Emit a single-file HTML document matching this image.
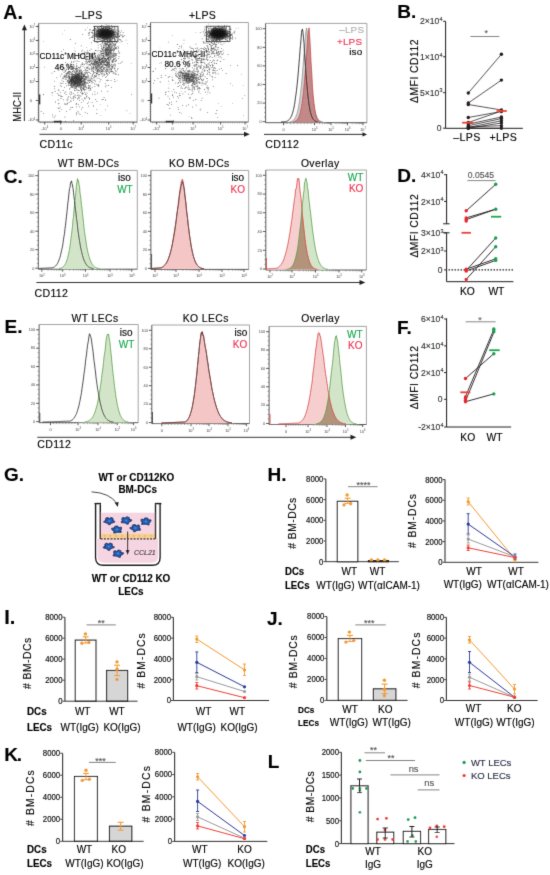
<!DOCTYPE html>
<html><head><meta charset="utf-8"><style>
html,body{margin:0;padding:0;background:#fff;}
svg{display:block;font-family:"Liberation Sans", sans-serif;}
</style></head><body>
<svg width="550" height="875" viewBox="0 0 550 875">
<filter id="gb" x="0" y="0" width="550" height="875" filterUnits="userSpaceOnUse"><feConvolveMatrix order="3" kernelMatrix="1 8 1 8 62 8 1 8 1" divisor="98" edgeMode="duplicate"/></filter>
<rect width="550" height="875" fill="#fff"/>
<g filter="url(#gb)">
<text x="3.3" y="18.5" font-size="19.5" font-weight="bold" stroke="#231f20" stroke-width="0.14">A.</text>
<text x="89" y="19" font-size="10.5" text-anchor="middle" stroke="#231f20" stroke-width="0.14" letter-spacing="0.3">–LPS</text>
<text x="202.5" y="19" font-size="10.5" text-anchor="middle" stroke="#231f20" stroke-width="0.14" letter-spacing="0.3">+LPS</text>
<line x1="37.3" y1="25.4" x2="38.7" y2="25.4" stroke="#666" stroke-width="0.45"/>
<line x1="37.3" y1="27.75" x2="38.7" y2="27.75" stroke="#666" stroke-width="0.45"/>
<line x1="37.3" y1="30.1" x2="38.7" y2="30.1" stroke="#666" stroke-width="0.45"/>
<line x1="37.3" y1="32.45" x2="38.7" y2="32.45" stroke="#666" stroke-width="0.45"/>
<line x1="37.3" y1="34.8" x2="38.7" y2="34.8" stroke="#666" stroke-width="0.45"/>
<line x1="37.3" y1="37.15" x2="38.7" y2="37.15" stroke="#666" stroke-width="0.45"/>
<line x1="37.3" y1="39.5" x2="38.7" y2="39.5" stroke="#666" stroke-width="0.45"/>
<line x1="37.3" y1="41.85" x2="38.7" y2="41.85" stroke="#666" stroke-width="0.45"/>
<line x1="37.3" y1="44.2" x2="38.7" y2="44.2" stroke="#666" stroke-width="0.45"/>
<line x1="37.3" y1="46.55" x2="38.7" y2="46.55" stroke="#666" stroke-width="0.45"/>
<line x1="37.3" y1="48.9" x2="38.7" y2="48.9" stroke="#666" stroke-width="0.45"/>
<line x1="37.3" y1="51.25" x2="38.7" y2="51.25" stroke="#666" stroke-width="0.45"/>
<line x1="37.3" y1="53.6" x2="38.7" y2="53.6" stroke="#666" stroke-width="0.45"/>
<line x1="37.3" y1="55.95" x2="38.7" y2="55.95" stroke="#666" stroke-width="0.45"/>
<line x1="37.3" y1="58.3" x2="38.7" y2="58.3" stroke="#666" stroke-width="0.45"/>
<line x1="37.3" y1="60.65" x2="38.7" y2="60.65" stroke="#666" stroke-width="0.45"/>
<line x1="37.3" y1="63" x2="38.7" y2="63" stroke="#666" stroke-width="0.45"/>
<line x1="37.3" y1="65.35" x2="38.7" y2="65.35" stroke="#666" stroke-width="0.45"/>
<line x1="37.3" y1="67.7" x2="38.7" y2="67.7" stroke="#666" stroke-width="0.45"/>
<line x1="37.3" y1="70.05" x2="38.7" y2="70.05" stroke="#666" stroke-width="0.45"/>
<line x1="37.3" y1="72.4" x2="38.7" y2="72.4" stroke="#666" stroke-width="0.45"/>
<line x1="37.3" y1="74.75" x2="38.7" y2="74.75" stroke="#666" stroke-width="0.45"/>
<line x1="37.3" y1="77.1" x2="38.7" y2="77.1" stroke="#666" stroke-width="0.45"/>
<line x1="37.3" y1="79.45" x2="38.7" y2="79.45" stroke="#666" stroke-width="0.45"/>
<line x1="37.3" y1="81.8" x2="38.7" y2="81.8" stroke="#666" stroke-width="0.45"/>
<line x1="37.3" y1="84.15" x2="38.7" y2="84.15" stroke="#666" stroke-width="0.45"/>
<line x1="37.3" y1="86.5" x2="38.7" y2="86.5" stroke="#666" stroke-width="0.45"/>
<line x1="37.3" y1="88.85" x2="38.7" y2="88.85" stroke="#666" stroke-width="0.45"/>
<line x1="37.3" y1="91.2" x2="38.7" y2="91.2" stroke="#666" stroke-width="0.45"/>
<line x1="37.3" y1="93.55" x2="38.7" y2="93.55" stroke="#666" stroke-width="0.45"/>
<line x1="37.3" y1="95.9" x2="38.7" y2="95.9" stroke="#666" stroke-width="0.45"/>
<line x1="37.3" y1="98.25" x2="38.7" y2="98.25" stroke="#666" stroke-width="0.45"/>
<line x1="37.3" y1="100.6" x2="38.7" y2="100.6" stroke="#666" stroke-width="0.45"/>
<line x1="37.3" y1="102.95" x2="38.7" y2="102.95" stroke="#666" stroke-width="0.45"/>
<line x1="37.3" y1="105.3" x2="38.7" y2="105.3" stroke="#666" stroke-width="0.45"/>
<line x1="37.3" y1="107.65" x2="38.7" y2="107.65" stroke="#666" stroke-width="0.45"/>
<line x1="37.3" y1="110" x2="38.7" y2="110" stroke="#666" stroke-width="0.45"/>
<line x1="37.3" y1="112.35" x2="38.7" y2="112.35" stroke="#666" stroke-width="0.45"/>
<line x1="37.3" y1="114.7" x2="38.7" y2="114.7" stroke="#666" stroke-width="0.45"/>
<line x1="37.3" y1="117.05" x2="38.7" y2="117.05" stroke="#666" stroke-width="0.45"/>
<line x1="37.3" y1="119.4" x2="38.7" y2="119.4" stroke="#666" stroke-width="0.45"/>
<line x1="37.3" y1="121.75" x2="38.7" y2="121.75" stroke="#666" stroke-width="0.45"/>
<line x1="35.7" y1="26.5" x2="38.7" y2="26.5" stroke="#333" stroke-width="0.8"/>
<text x="35.2" y="27.8" font-size="3.8" text-anchor="end" fill="#444">10<tspan font-size="2.6" dy="-1.6">7</tspan></text>
<line x1="35.7" y1="40.5" x2="38.7" y2="40.5" stroke="#333" stroke-width="0.8"/>
<text x="35.2" y="41.8" font-size="3.8" text-anchor="end" fill="#444">10<tspan font-size="2.6" dy="-1.6">6</tspan></text>
<line x1="35.7" y1="54" x2="38.7" y2="54" stroke="#333" stroke-width="0.8"/>
<text x="35.2" y="55.3" font-size="3.8" text-anchor="end" fill="#444">10<tspan font-size="2.6" dy="-1.6">5</tspan></text>
<line x1="35.7" y1="67.5" x2="38.7" y2="67.5" stroke="#333" stroke-width="0.8"/>
<text x="35.2" y="68.8" font-size="3.8" text-anchor="end" fill="#444">10<tspan font-size="2.6" dy="-1.6">4</tspan></text>
<line x1="35.7" y1="81.5" x2="38.7" y2="81.5" stroke="#333" stroke-width="0.8"/>
<text x="35.2" y="82.8" font-size="3.8" text-anchor="end" fill="#444">10<tspan font-size="2.6" dy="-1.6">3</tspan></text>
<line x1="35.7" y1="100.5" x2="38.7" y2="100.5" stroke="#333" stroke-width="0.8"/>
<text x="30.7" y="101.8" font-size="3.8" text-anchor="middle" fill="#444">0</text>
<line x1="35.7" y1="120" x2="38.7" y2="120" stroke="#333" stroke-width="0.8"/>
<text x="35.2" y="121.3" font-size="3.8" text-anchor="end" fill="#444">-10<tspan font-size="2.6" dy="-1.6">3</tspan></text>
<line x1="40.7" y1="122" x2="40.7" y2="123.4" stroke="#666" stroke-width="0.45"/>
<line x1="43.05" y1="122" x2="43.05" y2="123.4" stroke="#666" stroke-width="0.45"/>
<line x1="45.4" y1="122" x2="45.4" y2="123.4" stroke="#666" stroke-width="0.45"/>
<line x1="47.75" y1="122" x2="47.75" y2="123.4" stroke="#666" stroke-width="0.45"/>
<line x1="50.1" y1="122" x2="50.1" y2="123.4" stroke="#666" stroke-width="0.45"/>
<line x1="52.45" y1="122" x2="52.45" y2="123.4" stroke="#666" stroke-width="0.45"/>
<line x1="54.8" y1="122" x2="54.8" y2="123.4" stroke="#666" stroke-width="0.45"/>
<line x1="57.15" y1="122" x2="57.15" y2="123.4" stroke="#666" stroke-width="0.45"/>
<line x1="59.5" y1="122" x2="59.5" y2="123.4" stroke="#666" stroke-width="0.45"/>
<line x1="61.85" y1="122" x2="61.85" y2="123.4" stroke="#666" stroke-width="0.45"/>
<line x1="64.2" y1="122" x2="64.2" y2="123.4" stroke="#666" stroke-width="0.45"/>
<line x1="66.55" y1="122" x2="66.55" y2="123.4" stroke="#666" stroke-width="0.45"/>
<line x1="68.9" y1="122" x2="68.9" y2="123.4" stroke="#666" stroke-width="0.45"/>
<line x1="71.25" y1="122" x2="71.25" y2="123.4" stroke="#666" stroke-width="0.45"/>
<line x1="73.6" y1="122" x2="73.6" y2="123.4" stroke="#666" stroke-width="0.45"/>
<line x1="75.95" y1="122" x2="75.95" y2="123.4" stroke="#666" stroke-width="0.45"/>
<line x1="78.3" y1="122" x2="78.3" y2="123.4" stroke="#666" stroke-width="0.45"/>
<line x1="80.65" y1="122" x2="80.65" y2="123.4" stroke="#666" stroke-width="0.45"/>
<line x1="83" y1="122" x2="83" y2="123.4" stroke="#666" stroke-width="0.45"/>
<line x1="85.35" y1="122" x2="85.35" y2="123.4" stroke="#666" stroke-width="0.45"/>
<line x1="87.7" y1="122" x2="87.7" y2="123.4" stroke="#666" stroke-width="0.45"/>
<line x1="90.05" y1="122" x2="90.05" y2="123.4" stroke="#666" stroke-width="0.45"/>
<line x1="92.4" y1="122" x2="92.4" y2="123.4" stroke="#666" stroke-width="0.45"/>
<line x1="94.75" y1="122" x2="94.75" y2="123.4" stroke="#666" stroke-width="0.45"/>
<line x1="97.1" y1="122" x2="97.1" y2="123.4" stroke="#666" stroke-width="0.45"/>
<line x1="99.45" y1="122" x2="99.45" y2="123.4" stroke="#666" stroke-width="0.45"/>
<line x1="101.8" y1="122" x2="101.8" y2="123.4" stroke="#666" stroke-width="0.45"/>
<line x1="104.15" y1="122" x2="104.15" y2="123.4" stroke="#666" stroke-width="0.45"/>
<line x1="106.5" y1="122" x2="106.5" y2="123.4" stroke="#666" stroke-width="0.45"/>
<line x1="108.85" y1="122" x2="108.85" y2="123.4" stroke="#666" stroke-width="0.45"/>
<line x1="111.2" y1="122" x2="111.2" y2="123.4" stroke="#666" stroke-width="0.45"/>
<line x1="113.55" y1="122" x2="113.55" y2="123.4" stroke="#666" stroke-width="0.45"/>
<line x1="115.9" y1="122" x2="115.9" y2="123.4" stroke="#666" stroke-width="0.45"/>
<line x1="118.25" y1="122" x2="118.25" y2="123.4" stroke="#666" stroke-width="0.45"/>
<line x1="120.6" y1="122" x2="120.6" y2="123.4" stroke="#666" stroke-width="0.45"/>
<line x1="122.95" y1="122" x2="122.95" y2="123.4" stroke="#666" stroke-width="0.45"/>
<line x1="125.3" y1="122" x2="125.3" y2="123.4" stroke="#666" stroke-width="0.45"/>
<line x1="127.65" y1="122" x2="127.65" y2="123.4" stroke="#666" stroke-width="0.45"/>
<line x1="130" y1="122" x2="130" y2="123.4" stroke="#666" stroke-width="0.45"/>
<line x1="132.35" y1="122" x2="132.35" y2="123.4" stroke="#666" stroke-width="0.45"/>
<line x1="134.7" y1="122" x2="134.7" y2="123.4" stroke="#666" stroke-width="0.45"/>
<line x1="137.05" y1="122" x2="137.05" y2="123.4" stroke="#666" stroke-width="0.45"/>
<line x1="44.7" y1="122" x2="44.7" y2="124.5" stroke="#333" stroke-width="0.8"/>
<line x1="60.7" y1="122" x2="60.7" y2="124.5" stroke="#333" stroke-width="0.8"/>
<line x1="81.2" y1="122" x2="81.2" y2="124.5" stroke="#333" stroke-width="0.8"/>
<line x1="108.7" y1="122" x2="108.7" y2="124.5" stroke="#333" stroke-width="0.8"/>
<line x1="133.2" y1="122" x2="133.2" y2="124.5" stroke="#333" stroke-width="0.8"/>
<text x="44.7" y="130" font-size="3.8" text-anchor="middle" fill="#444">-10<tspan font-size="2.6" dy="-1.6">3</tspan></text>
<text x="60.7" y="130" font-size="3.8" text-anchor="middle" fill="#444">0</text>
<text x="81.2" y="130" font-size="3.8" text-anchor="middle" fill="#444">10<tspan font-size="2.6" dy="-1.6">3</tspan></text>
<text x="108.7" y="130" font-size="3.8" text-anchor="middle" fill="#444">10<tspan font-size="2.6" dy="-1.6">5</tspan></text>
<text x="133.2" y="130" font-size="3.8" text-anchor="middle" fill="#444">10<tspan font-size="2.6" dy="-1.6">7</tspan></text>
<rect x="53.7" y="120.8" width="8" height="1.6" stroke="none" fill="#222" stroke-width="1"/>
<rect x="38.9" y="94.4" width="1.4" height="10" stroke="none" fill="#333" stroke-width="1"/>
<path d="M38.7 23.4 H137.1 V122" stroke="#9a9a9a" fill="none" stroke-width="0.9"/>
<path d="M38.7 23.4 V122 H137.1" stroke="#4a4a4a" fill="none" stroke-width="0.9"/>
<filter id="bl" x="-50%" y="-50%" width="200%" height="200%"><feGaussianBlur stdDeviation="1.6"/></filter>
<ellipse cx="105.5" cy="33.5" rx="8.5" ry="5" fill="#111" filter="url(#bl)" opacity="0.88"/>
<ellipse cx="76" cy="80" rx="7" ry="4.2" fill="#222" filter="url(#bl)" opacity="0.55" transform="rotate(-25 76 80)"/>
<ellipse cx="100" cy="60" rx="12" ry="5" fill="#555" filter="url(#bl)" opacity="0.25" transform="rotate(-55 100 60)"/>
<path d="M72.8 82.0h0.8v0.8h-0.8zM75.9 74.7h0.8v0.8h-0.8zM70.1 79.4h0.8v0.8h-0.8zM78.3 83.3h0.8v0.8h-0.8zM73.5 80.2h0.8v0.8h-0.8zM75.1 81.8h0.8v0.8h-0.8zM80.5 81.2h0.8v0.8h-0.8zM78.0 83.2h0.8v0.8h-0.8zM76.2 78.9h0.8v0.8h-0.8zM80.9 80.9h0.8v0.8h-0.8zM76.3 79.0h0.8v0.8h-0.8zM67.0 80.5h0.8v0.8h-0.8zM94.5 79.8h0.8v0.8h-0.8zM77.6 78.9h0.8v0.8h-0.8zM74.4 80.3h0.8v0.8h-0.8zM65.2 71.2h0.8v0.8h-0.8zM75.3 88.0h0.8v0.8h-0.8zM71.3 80.8h0.8v0.8h-0.8zM81.3 75.5h0.8v0.8h-0.8zM74.9 80.0h0.8v0.8h-0.8zM84.1 80.5h0.8v0.8h-0.8zM77.7 76.9h0.8v0.8h-0.8zM76.4 80.6h0.8v0.8h-0.8zM76.5 78.2h0.8v0.8h-0.8zM71.3 81.7h0.8v0.8h-0.8zM75.3 76.4h0.8v0.8h-0.8zM72.4 76.5h0.8v0.8h-0.8zM72.4 74.2h0.8v0.8h-0.8zM70.7 77.8h0.8v0.8h-0.8zM83.7 81.8h0.8v0.8h-0.8zM75.3 80.8h0.8v0.8h-0.8zM83.3 78.5h0.8v0.8h-0.8zM75.5 77.9h0.8v0.8h-0.8zM73.6 82.1h0.8v0.8h-0.8zM85.3 84.8h0.8v0.8h-0.8zM69.3 76.1h0.8v0.8h-0.8zM79.7 84.5h0.8v0.8h-0.8zM73.3 82.5h0.8v0.8h-0.8zM80.1 75.7h0.8v0.8h-0.8zM77.3 78.7h0.8v0.8h-0.8zM71.2 78.9h0.8v0.8h-0.8zM87.2 79.7h0.8v0.8h-0.8zM69.9 80.3h0.8v0.8h-0.8zM79.7 81.5h0.8v0.8h-0.8zM72.7 80.6h0.8v0.8h-0.8zM70.5 78.8h0.8v0.8h-0.8zM76.9 79.3h0.8v0.8h-0.8zM73.0 69.7h0.8v0.8h-0.8zM76.8 80.4h0.8v0.8h-0.8zM83.8 84.5h0.8v0.8h-0.8zM78.6 84.5h0.8v0.8h-0.8zM75.8 82.6h0.8v0.8h-0.8zM68.4 78.5h0.8v0.8h-0.8zM83.2 76.8h0.8v0.8h-0.8zM65.9 75.5h0.8v0.8h-0.8zM79.8 82.1h0.8v0.8h-0.8zM75.9 83.4h0.8v0.8h-0.8zM75.8 80.0h0.8v0.8h-0.8zM79.5 83.3h0.8v0.8h-0.8zM81.1 84.7h0.8v0.8h-0.8zM69.2 71.1h0.8v0.8h-0.8zM89.5 87.9h0.8v0.8h-0.8zM62.5 70.5h0.8v0.8h-0.8zM82.5 85.0h0.8v0.8h-0.8zM81.6 80.2h0.8v0.8h-0.8zM77.3 82.7h0.8v0.8h-0.8zM78.0 81.9h0.8v0.8h-0.8zM78.2 77.5h0.8v0.8h-0.8zM79.2 77.4h0.8v0.8h-0.8zM77.5 76.1h0.8v0.8h-0.8zM80.3 87.6h0.8v0.8h-0.8zM76.4 79.9h0.8v0.8h-0.8zM73.6 77.3h0.8v0.8h-0.8zM76.7 82.0h0.8v0.8h-0.8zM76.0 75.3h0.8v0.8h-0.8zM72.0 76.0h0.8v0.8h-0.8zM83.4 79.3h0.8v0.8h-0.8zM76.0 86.6h0.8v0.8h-0.8zM82.6 83.3h0.8v0.8h-0.8zM88.5 85.0h0.8v0.8h-0.8zM71.1 77.1h0.8v0.8h-0.8zM79.3 82.3h0.8v0.8h-0.8zM71.0 80.7h0.8v0.8h-0.8zM64.2 76.1h0.8v0.8h-0.8zM79.6 81.0h0.8v0.8h-0.8zM76.3 80.5h0.8v0.8h-0.8zM75.9 80.7h0.8v0.8h-0.8zM84.6 86.8h0.8v0.8h-0.8zM81.0 77.3h0.8v0.8h-0.8zM70.4 83.1h0.8v0.8h-0.8zM72.9 79.4h0.8v0.8h-0.8zM77.4 92.2h0.8v0.8h-0.8zM72.5 74.0h0.8v0.8h-0.8zM80.4 82.1h0.8v0.8h-0.8zM84.8 84.2h0.8v0.8h-0.8zM77.0 85.3h0.8v0.8h-0.8zM74.2 68.3h0.8v0.8h-0.8zM78.0 74.3h0.8v0.8h-0.8zM69.3 78.0h0.8v0.8h-0.8zM74.3 75.0h0.8v0.8h-0.8zM62.5 82.7h0.8v0.8h-0.8zM81.7 83.8h0.8v0.8h-0.8zM80.0 81.5h0.8v0.8h-0.8zM80.8 89.5h0.8v0.8h-0.8zM82.1 81.2h0.8v0.8h-0.8zM74.0 76.6h0.8v0.8h-0.8zM78.2 78.6h0.8v0.8h-0.8zM78.4 76.2h0.8v0.8h-0.8zM78.8 80.3h0.8v0.8h-0.8zM77.9 81.0h0.8v0.8h-0.8zM76.7 83.3h0.8v0.8h-0.8zM78.1 80.3h0.8v0.8h-0.8zM80.6 79.7h0.8v0.8h-0.8zM82.6 84.8h0.8v0.8h-0.8zM83.7 80.1h0.8v0.8h-0.8zM73.3 80.6h0.8v0.8h-0.8zM81.2 73.9h0.8v0.8h-0.8zM73.2 79.9h0.8v0.8h-0.8zM83.2 86.0h0.8v0.8h-0.8zM81.7 77.7h0.8v0.8h-0.8zM75.7 79.2h0.8v0.8h-0.8zM77.1 73.9h0.8v0.8h-0.8zM66.3 73.6h0.8v0.8h-0.8zM84.1 85.8h0.8v0.8h-0.8zM77.6 82.0h0.8v0.8h-0.8zM78.1 80.6h0.8v0.8h-0.8zM75.6 76.8h0.8v0.8h-0.8zM72.7 76.8h0.8v0.8h-0.8zM81.0 82.3h0.8v0.8h-0.8zM73.7 78.2h0.8v0.8h-0.8zM80.2 84.2h0.8v0.8h-0.8zM87.7 80.5h0.8v0.8h-0.8zM77.7 75.2h0.8v0.8h-0.8zM75.9 79.7h0.8v0.8h-0.8zM72.0 74.7h0.8v0.8h-0.8zM79.2 82.6h0.8v0.8h-0.8zM86.0 96.6h0.8v0.8h-0.8zM81.1 79.1h0.8v0.8h-0.8zM71.0 77.8h0.8v0.8h-0.8zM85.5 86.4h0.8v0.8h-0.8zM71.6 76.4h0.8v0.8h-0.8zM77.0 82.4h0.8v0.8h-0.8zM80.7 83.7h0.8v0.8h-0.8zM75.8 77.2h0.8v0.8h-0.8zM84.4 82.5h0.8v0.8h-0.8zM79.7 85.5h0.8v0.8h-0.8zM74.1 82.4h0.8v0.8h-0.8zM74.8 80.6h0.8v0.8h-0.8zM79.6 84.2h0.8v0.8h-0.8zM66.0 74.7h0.8v0.8h-0.8zM79.7 80.8h0.8v0.8h-0.8zM79.8 78.7h0.8v0.8h-0.8zM75.6 78.7h0.8v0.8h-0.8zM67.6 76.6h0.8v0.8h-0.8zM72.8 82.6h0.8v0.8h-0.8zM75.7 85.7h0.8v0.8h-0.8zM80.8 78.7h0.8v0.8h-0.8zM78.3 80.5h0.8v0.8h-0.8zM84.2 83.2h0.8v0.8h-0.8zM83.8 88.8h0.8v0.8h-0.8zM77.4 78.0h0.8v0.8h-0.8zM81.8 80.8h0.8v0.8h-0.8zM78.8 76.9h0.8v0.8h-0.8zM81.6 81.5h0.8v0.8h-0.8zM77.7 84.5h0.8v0.8h-0.8zM69.3 77.4h0.8v0.8h-0.8zM75.1 74.2h0.8v0.8h-0.8zM72.3 78.4h0.8v0.8h-0.8zM70.9 84.4h0.8v0.8h-0.8zM88.9 86.3h0.8v0.8h-0.8zM81.6 84.6h0.8v0.8h-0.8zM84.4 81.4h0.8v0.8h-0.8zM74.0 81.7h0.8v0.8h-0.8zM76.7 77.1h0.8v0.8h-0.8zM78.0 84.4h0.8v0.8h-0.8zM78.4 74.1h0.8v0.8h-0.8zM70.5 79.5h0.8v0.8h-0.8zM71.4 76.8h0.8v0.8h-0.8zM72.7 74.4h0.8v0.8h-0.8zM73.4 77.0h0.8v0.8h-0.8zM70.7 81.9h0.8v0.8h-0.8zM80.4 81.6h0.8v0.8h-0.8zM74.1 84.1h0.8v0.8h-0.8zM73.6 74.1h0.8v0.8h-0.8zM72.3 81.5h0.8v0.8h-0.8zM66.0 69.2h0.8v0.8h-0.8zM77.3 85.9h0.8v0.8h-0.8zM85.6 79.0h0.8v0.8h-0.8zM71.6 82.3h0.8v0.8h-0.8zM79.1 83.5h0.8v0.8h-0.8zM73.2 85.0h0.8v0.8h-0.8zM74.6 83.5h0.8v0.8h-0.8zM81.5 81.5h0.8v0.8h-0.8zM75.0 84.2h0.8v0.8h-0.8zM73.7 76.0h0.8v0.8h-0.8zM70.9 81.1h0.8v0.8h-0.8zM77.0 79.4h0.8v0.8h-0.8zM79.5 74.6h0.8v0.8h-0.8zM74.6 80.4h0.8v0.8h-0.8zM80.0 84.6h0.8v0.8h-0.8zM84.8 81.3h0.8v0.8h-0.8zM76.0 88.0h0.8v0.8h-0.8zM84.5 85.7h0.8v0.8h-0.8zM70.0 79.1h0.8v0.8h-0.8zM70.5 73.7h0.8v0.8h-0.8zM88.2 88.0h0.8v0.8h-0.8zM83.4 81.7h0.8v0.8h-0.8zM81.4 86.4h0.8v0.8h-0.8zM72.0 75.5h0.8v0.8h-0.8zM70.6 78.3h0.8v0.8h-0.8zM76.7 80.5h0.8v0.8h-0.8zM76.3 82.6h0.8v0.8h-0.8zM74.7 78.1h0.8v0.8h-0.8zM71.0 75.5h0.8v0.8h-0.8zM73.7 80.8h0.8v0.8h-0.8zM68.1 74.8h0.8v0.8h-0.8zM65.6 76.5h0.8v0.8h-0.8zM78.1 78.1h0.8v0.8h-0.8zM72.5 78.8h0.8v0.8h-0.8zM84.0 78.7h0.8v0.8h-0.8zM80.2 79.0h0.8v0.8h-0.8zM67.7 82.2h0.8v0.8h-0.8zM70.4 79.2h0.8v0.8h-0.8zM78.4 81.2h0.8v0.8h-0.8zM67.9 85.3h0.8v0.8h-0.8zM71.1 76.9h0.8v0.8h-0.8zM76.5 78.2h0.8v0.8h-0.8zM80.8 81.2h0.8v0.8h-0.8zM72.3 85.9h0.8v0.8h-0.8zM73.8 84.6h0.8v0.8h-0.8zM65.6 76.1h0.8v0.8h-0.8zM65.6 78.7h0.8v0.8h-0.8zM78.1 81.9h0.8v0.8h-0.8zM76.2 79.1h0.8v0.8h-0.8zM77.0 81.0h0.8v0.8h-0.8zM74.7 75.9h0.8v0.8h-0.8zM78.2 74.7h0.8v0.8h-0.8zM73.6 81.6h0.8v0.8h-0.8zM74.6 80.6h0.8v0.8h-0.8zM73.5 76.3h0.8v0.8h-0.8zM76.7 82.3h0.8v0.8h-0.8zM69.6 79.0h0.8v0.8h-0.8zM61.2 73.7h0.8v0.8h-0.8zM68.4 82.1h0.8v0.8h-0.8zM77.9 77.5h0.8v0.8h-0.8zM82.7 83.3h0.8v0.8h-0.8zM69.1 78.3h0.8v0.8h-0.8zM75.5 78.3h0.8v0.8h-0.8zM75.7 71.2h0.8v0.8h-0.8zM74.6 79.6h0.8v0.8h-0.8zM80.9 90.8h0.8v0.8h-0.8zM85.6 79.5h0.8v0.8h-0.8zM81.4 86.7h0.8v0.8h-0.8zM80.2 84.4h0.8v0.8h-0.8zM72.2 79.5h0.8v0.8h-0.8zM84.5 80.9h0.8v0.8h-0.8zM68.0 71.6h0.8v0.8h-0.8zM81.1 81.4h0.8v0.8h-0.8zM70.9 79.0h0.8v0.8h-0.8zM73.2 74.5h0.8v0.8h-0.8zM69.7 79.8h0.8v0.8h-0.8zM83.1 89.1h0.8v0.8h-0.8zM63.7 71.9h0.8v0.8h-0.8zM73.7 84.7h0.8v0.8h-0.8zM87.4 76.5h0.8v0.8h-0.8zM84.4 81.1h0.8v0.8h-0.8zM78.5 83.5h0.8v0.8h-0.8zM76.2 75.0h0.8v0.8h-0.8zM70.1 85.2h0.8v0.8h-0.8zM67.6 80.6h0.8v0.8h-0.8zM74.5 83.4h0.8v0.8h-0.8zM80.6 84.9h0.8v0.8h-0.8zM74.9 84.1h0.8v0.8h-0.8zM74.8 75.1h0.8v0.8h-0.8zM73.5 83.9h0.8v0.8h-0.8zM83.4 80.7h0.8v0.8h-0.8zM82.6 76.6h0.8v0.8h-0.8zM68.6 82.3h0.8v0.8h-0.8zM71.0 79.0h0.8v0.8h-0.8zM76.0 81.0h0.8v0.8h-0.8zM79.0 84.8h0.8v0.8h-0.8zM68.6 80.8h0.8v0.8h-0.8zM79.0 81.5h0.8v0.8h-0.8zM74.5 86.6h0.8v0.8h-0.8zM77.6 73.0h0.8v0.8h-0.8zM71.0 85.6h0.8v0.8h-0.8zM70.8 81.5h0.8v0.8h-0.8zM78.6 73.1h0.8v0.8h-0.8zM88.3 79.9h0.8v0.8h-0.8zM76.3 81.4h0.8v0.8h-0.8zM72.5 77.2h0.8v0.8h-0.8zM70.8 76.8h0.8v0.8h-0.8zM78.9 84.6h0.8v0.8h-0.8zM85.2 72.6h0.8v0.8h-0.8zM82.1 82.8h0.8v0.8h-0.8zM94.5 86.0h0.8v0.8h-0.8zM79.9 75.8h0.8v0.8h-0.8zM85.3 81.9h0.8v0.8h-0.8zM77.4 85.7h0.8v0.8h-0.8zM76.0 73.6h0.8v0.8h-0.8zM80.0 84.5h0.8v0.8h-0.8zM64.4 76.9h0.8v0.8h-0.8zM71.6 85.7h0.8v0.8h-0.8zM76.6 79.0h0.8v0.8h-0.8zM85.0 81.5h0.8v0.8h-0.8zM65.3 69.9h0.8v0.8h-0.8zM77.9 75.1h0.8v0.8h-0.8zM74.0 82.8h0.8v0.8h-0.8zM76.4 83.1h0.8v0.8h-0.8zM71.2 79.9h0.8v0.8h-0.8zM64.9 78.7h0.8v0.8h-0.8zM78.7 78.3h0.8v0.8h-0.8zM80.3 83.6h0.8v0.8h-0.8zM74.1 90.3h0.8v0.8h-0.8zM65.6 74.9h0.8v0.8h-0.8zM75.6 86.7h0.8v0.8h-0.8zM87.6 82.9h0.8v0.8h-0.8zM71.7 74.6h0.8v0.8h-0.8zM79.3 79.9h0.8v0.8h-0.8zM72.0 78.9h0.8v0.8h-0.8zM72.8 81.1h0.8v0.8h-0.8zM74.3 83.8h0.8v0.8h-0.8zM82.3 76.7h0.8v0.8h-0.8zM88.6 78.5h0.8v0.8h-0.8zM77.8 84.9h0.8v0.8h-0.8zM75.8 77.5h0.8v0.8h-0.8zM83.0 80.7h0.8v0.8h-0.8zM79.1 79.0h0.8v0.8h-0.8zM85.0 81.7h0.8v0.8h-0.8zM73.1 70.0h0.8v0.8h-0.8zM80.4 73.2h0.8v0.8h-0.8zM76.0 77.0h0.8v0.8h-0.8zM88.0 85.2h0.8v0.8h-0.8zM65.2 76.1h0.8v0.8h-0.8zM69.3 77.0h0.8v0.8h-0.8zM87.9 86.8h0.8v0.8h-0.8zM80.5 75.9h0.8v0.8h-0.8zM71.0 79.2h0.8v0.8h-0.8zM77.8 84.3h0.8v0.8h-0.8zM80.2 84.3h0.8v0.8h-0.8zM80.7 84.1h0.8v0.8h-0.8zM80.3 87.8h0.8v0.8h-0.8zM72.5 84.4h0.8v0.8h-0.8zM81.5 80.3h0.8v0.8h-0.8zM74.9 68.5h0.8v0.8h-0.8zM80.8 86.1h0.8v0.8h-0.8zM71.9 82.3h0.8v0.8h-0.8zM77.0 82.7h0.8v0.8h-0.8zM82.2 76.9h0.8v0.8h-0.8zM86.7 82.1h0.8v0.8h-0.8zM80.1 79.1h0.8v0.8h-0.8zM99.5 81.4h0.8v0.8h-0.8zM78.7 82.3h0.8v0.8h-0.8zM80.6 78.3h0.8v0.8h-0.8zM86.6 92.5h0.8v0.8h-0.8zM80.1 88.4h0.8v0.8h-0.8zM66.5 77.3h0.8v0.8h-0.8zM79.2 81.8h0.8v0.8h-0.8zM82.4 83.6h0.8v0.8h-0.8zM75.2 81.8h0.8v0.8h-0.8zM68.0 83.8h0.8v0.8h-0.8zM76.8 84.5h0.8v0.8h-0.8zM81.9 78.7h0.8v0.8h-0.8zM81.0 78.0h0.8v0.8h-0.8zM69.0 80.9h0.8v0.8h-0.8zM68.6 76.9h0.8v0.8h-0.8zM75.2 77.3h0.8v0.8h-0.8zM82.1 84.3h0.8v0.8h-0.8zM76.0 75.5h0.8v0.8h-0.8zM75.0 72.6h0.8v0.8h-0.8zM77.9 78.2h0.8v0.8h-0.8zM80.6 77.5h0.8v0.8h-0.8zM69.6 79.7h0.8v0.8h-0.8zM68.9 77.7h0.8v0.8h-0.8zM84.1 81.7h0.8v0.8h-0.8zM82.3 84.4h0.8v0.8h-0.8zM68.6 78.3h0.8v0.8h-0.8zM80.1 80.1h0.8v0.8h-0.8zM76.9 74.5h0.8v0.8h-0.8zM75.0 80.3h0.8v0.8h-0.8zM79.9 79.8h0.8v0.8h-0.8zM76.3 76.7h0.8v0.8h-0.8zM79.8 84.6h0.8v0.8h-0.8zM72.5 85.3h0.8v0.8h-0.8zM84.4 76.1h0.8v0.8h-0.8zM69.3 81.1h0.8v0.8h-0.8zM82.5 76.6h0.8v0.8h-0.8zM78.9 74.0h0.8v0.8h-0.8zM81.3 73.2h0.8v0.8h-0.8zM80.6 73.1h0.8v0.8h-0.8zM75.5 85.8h0.8v0.8h-0.8zM76.7 83.3h0.8v0.8h-0.8zM81.3 78.4h0.8v0.8h-0.8zM83.6 87.1h0.8v0.8h-0.8zM74.3 85.7h0.8v0.8h-0.8zM83.5 81.9h0.8v0.8h-0.8zM73.9 84.7h0.8v0.8h-0.8zM66.6 73.4h0.8v0.8h-0.8zM85.4 76.6h0.8v0.8h-0.8zM68.7 76.5h0.8v0.8h-0.8zM80.2 81.3h0.8v0.8h-0.8zM93.7 79.9h0.8v0.8h-0.8zM70.4 79.1h0.8v0.8h-0.8zM76.9 76.1h0.8v0.8h-0.8zM70.5 84.8h0.8v0.8h-0.8zM83.5 82.9h0.8v0.8h-0.8zM78.4 82.2h0.8v0.8h-0.8zM76.5 79.4h0.8v0.8h-0.8zM81.6 82.0h0.8v0.8h-0.8zM80.2 80.9h0.8v0.8h-0.8zM75.8 82.4h0.8v0.8h-0.8zM80.2 80.2h0.8v0.8h-0.8zM70.4 76.7h0.8v0.8h-0.8zM76.7 83.6h0.8v0.8h-0.8zM74.7 79.6h0.8v0.8h-0.8zM76.8 75.1h0.8v0.8h-0.8zM71.8 83.5h0.8v0.8h-0.8zM75.2 73.2h0.8v0.8h-0.8zM76.0 76.1h0.8v0.8h-0.8zM77.5 80.9h0.8v0.8h-0.8zM81.4 87.4h0.8v0.8h-0.8zM75.6 82.9h0.8v0.8h-0.8zM70.7 83.1h0.8v0.8h-0.8zM71.4 72.0h0.8v0.8h-0.8zM79.0 72.4h0.8v0.8h-0.8zM77.9 83.5h0.8v0.8h-0.8zM69.1 82.3h0.8v0.8h-0.8zM78.0 82.0h0.8v0.8h-0.8zM73.9 84.1h0.8v0.8h-0.8zM67.5 75.0h0.8v0.8h-0.8zM54.2 71.1h0.8v0.8h-0.8zM77.5 82.9h0.8v0.8h-0.8zM71.0 80.1h0.8v0.8h-0.8zM77.9 86.6h0.8v0.8h-0.8zM73.7 85.2h0.8v0.8h-0.8zM69.8 72.3h0.8v0.8h-0.8zM83.3 78.8h0.8v0.8h-0.8zM74.6 79.6h0.8v0.8h-0.8zM75.7 76.5h0.8v0.8h-0.8zM71.7 83.9h0.8v0.8h-0.8zM84.2 82.4h0.8v0.8h-0.8zM74.9 78.9h0.8v0.8h-0.8zM74.8 86.6h0.8v0.8h-0.8zM67.4 79.9h0.8v0.8h-0.8zM77.4 89.6h0.8v0.8h-0.8zM74.8 77.1h0.8v0.8h-0.8zM78.8 79.1h0.8v0.8h-0.8zM63.4 75.7h0.8v0.8h-0.8zM78.7 72.3h0.8v0.8h-0.8zM73.3 74.6h0.8v0.8h-0.8zM81.8 84.8h0.8v0.8h-0.8zM80.0 84.9h0.8v0.8h-0.8zM72.1 71.1h0.8v0.8h-0.8zM79.1 74.8h0.8v0.8h-0.8zM75.2 83.3h0.8v0.8h-0.8zM81.5 89.5h0.8v0.8h-0.8zM79.6 76.6h0.8v0.8h-0.8zM75.7 83.0h0.8v0.8h-0.8zM84.1 83.2h0.8v0.8h-0.8zM82.4 87.4h0.8v0.8h-0.8zM75.8 78.1h0.8v0.8h-0.8zM71.9 73.1h0.8v0.8h-0.8zM75.8 87.3h0.8v0.8h-0.8zM75.0 85.0h0.8v0.8h-0.8zM76.0 77.1h0.8v0.8h-0.8zM77.5 80.8h0.8v0.8h-0.8zM79.7 78.1h0.8v0.8h-0.8zM82.8 76.6h0.8v0.8h-0.8zM75.0 81.1h0.8v0.8h-0.8zM74.3 71.9h0.8v0.8h-0.8zM71.5 78.0h0.8v0.8h-0.8zM84.4 83.7h0.8v0.8h-0.8zM70.7 79.9h0.8v0.8h-0.8zM70.6 81.6h0.8v0.8h-0.8zM71.0 77.7h0.8v0.8h-0.8zM89.4 82.2h0.8v0.8h-0.8zM74.7 77.5h0.8v0.8h-0.8zM71.0 81.1h0.8v0.8h-0.8zM73.2 86.4h0.8v0.8h-0.8zM80.5 85.5h0.8v0.8h-0.8zM80.0 78.4h0.8v0.8h-0.8zM73.6 76.5h0.8v0.8h-0.8zM72.8 73.9h0.8v0.8h-0.8zM77.1 77.0h0.8v0.8h-0.8zM78.0 79.2h0.8v0.8h-0.8zM81.8 84.9h0.8v0.8h-0.8zM84.8 79.5h0.8v0.8h-0.8zM69.6 81.3h0.8v0.8h-0.8zM71.8 79.6h0.8v0.8h-0.8zM64.5 70.4h0.8v0.8h-0.8zM81.9 78.3h0.8v0.8h-0.8zM70.5 78.9h0.8v0.8h-0.8zM68.3 80.8h0.8v0.8h-0.8zM78.6 77.7h0.8v0.8h-0.8zM78.8 90.0h0.8v0.8h-0.8zM69.6 79.8h0.8v0.8h-0.8zM78.4 80.1h0.8v0.8h-0.8zM78.6 79.7h0.8v0.8h-0.8zM90.2 85.4h0.8v0.8h-0.8zM77.9 81.9h0.8v0.8h-0.8zM73.7 82.5h0.8v0.8h-0.8zM75.1 82.8h0.8v0.8h-0.8zM92.6 82.2h0.8v0.8h-0.8zM67.7 71.7h0.8v0.8h-0.8zM76.7 83.1h0.8v0.8h-0.8zM80.2 84.6h0.8v0.8h-0.8zM87.1 76.7h0.8v0.8h-0.8zM86.2 77.3h0.8v0.8h-0.8zM76.7 78.9h0.8v0.8h-0.8zM75.6 75.6h0.8v0.8h-0.8zM61.4 73.7h0.8v0.8h-0.8zM75.7 81.7h0.8v0.8h-0.8zM78.4 78.4h0.8v0.8h-0.8zM74.3 83.0h0.8v0.8h-0.8zM70.9 81.7h0.8v0.8h-0.8zM80.5 78.6h0.8v0.8h-0.8zM64.7 74.4h0.8v0.8h-0.8zM72.3 81.4h0.8v0.8h-0.8zM69.7 71.9h0.8v0.8h-0.8zM79.5 79.6h0.8v0.8h-0.8zM81.2 72.3h0.8v0.8h-0.8zM80.7 70.1h0.8v0.8h-0.8zM73.6 81.2h0.8v0.8h-0.8zM74.3 74.4h0.8v0.8h-0.8zM71.7 74.7h0.8v0.8h-0.8zM84.6 79.5h0.8v0.8h-0.8zM80.8 82.6h0.8v0.8h-0.8zM74.2 70.7h0.8v0.8h-0.8zM78.0 84.4h0.8v0.8h-0.8zM74.2 81.3h0.8v0.8h-0.8zM83.4 86.8h0.8v0.8h-0.8zM84.9 84.3h0.8v0.8h-0.8zM65.4 83.3h0.8v0.8h-0.8zM71.8 81.9h0.8v0.8h-0.8zM80.2 79.7h0.8v0.8h-0.8zM69.2 77.3h0.8v0.8h-0.8zM78.7 75.4h0.8v0.8h-0.8zM74.2 81.9h0.8v0.8h-0.8zM81.3 80.1h0.8v0.8h-0.8zM66.5 76.9h0.8v0.8h-0.8zM79.3 76.7h0.8v0.8h-0.8zM80.0 80.6h0.8v0.8h-0.8zM68.9 74.7h0.8v0.8h-0.8zM66.8 72.6h0.8v0.8h-0.8zM76.9 83.8h0.8v0.8h-0.8zM78.6 77.7h0.8v0.8h-0.8zM76.1 81.9h0.8v0.8h-0.8zM86.4 83.2h0.8v0.8h-0.8zM77.2 78.9h0.8v0.8h-0.8zM72.5 76.3h0.8v0.8h-0.8zM78.1 81.0h0.8v0.8h-0.8zM72.1 77.5h0.8v0.8h-0.8zM68.4 73.3h0.8v0.8h-0.8zM69.7 74.0h0.8v0.8h-0.8zM76.4 81.7h0.8v0.8h-0.8zM62.8 78.3h0.8v0.8h-0.8zM76.5 85.5h0.8v0.8h-0.8zM78.4 77.7h0.8v0.8h-0.8zM73.2 79.3h0.8v0.8h-0.8zM71.2 75.8h0.8v0.8h-0.8zM72.9 81.3h0.8v0.8h-0.8zM74.4 79.2h0.8v0.8h-0.8zM78.8 84.8h0.8v0.8h-0.8zM74.5 81.4h0.8v0.8h-0.8zM78.0 80.9h0.8v0.8h-0.8zM81.9 82.7h0.8v0.8h-0.8zM71.4 78.5h0.8v0.8h-0.8zM70.5 79.1h0.8v0.8h-0.8zM68.3 76.1h0.8v0.8h-0.8zM85.0 85.4h0.8v0.8h-0.8zM78.3 77.0h0.8v0.8h-0.8zM71.8 79.4h0.8v0.8h-0.8zM73.9 77.8h0.8v0.8h-0.8zM74.5 80.4h0.8v0.8h-0.8zM66.6 73.5h0.8v0.8h-0.8zM75.6 81.3h0.8v0.8h-0.8zM88.3 78.5h0.8v0.8h-0.8zM65.8 68.8h0.8v0.8h-0.8zM73.8 75.7h0.8v0.8h-0.8zM83.2 74.9h0.8v0.8h-0.8zM80.2 84.8h0.8v0.8h-0.8zM83.3 85.3h0.8v0.8h-0.8zM71.3 86.3h0.8v0.8h-0.8zM77.0 85.5h0.8v0.8h-0.8zM71.2 76.9h0.8v0.8h-0.8zM83.6 89.2h0.8v0.8h-0.8zM84.6 81.6h0.8v0.8h-0.8zM69.3 81.8h0.8v0.8h-0.8zM81.0 81.9h0.8v0.8h-0.8zM75.9 84.7h0.8v0.8h-0.8zM64.0 67.7h0.8v0.8h-0.8zM74.7 67.9h0.8v0.8h-0.8zM77.5 76.1h0.8v0.8h-0.8zM64.1 75.9h0.8v0.8h-0.8zM81.0 80.0h0.8v0.8h-0.8zM79.1 82.0h0.8v0.8h-0.8zM76.0 82.7h0.8v0.8h-0.8zM66.0 78.8h0.8v0.8h-0.8zM85.4 77.2h0.8v0.8h-0.8zM78.9 85.4h0.8v0.8h-0.8zM78.9 78.5h0.8v0.8h-0.8zM77.2 74.7h0.8v0.8h-0.8zM81.9 84.5h0.8v0.8h-0.8zM78.4 79.1h0.8v0.8h-0.8zM75.0 77.2h0.8v0.8h-0.8zM80.6 80.0h0.8v0.8h-0.8zM72.4 78.8h0.8v0.8h-0.8zM83.4 81.8h0.8v0.8h-0.8zM69.6 85.0h0.8v0.8h-0.8zM82.2 83.9h0.8v0.8h-0.8zM76.4 83.5h0.8v0.8h-0.8zM71.3 84.1h0.8v0.8h-0.8zM73.7 76.9h0.8v0.8h-0.8zM78.6 82.7h0.8v0.8h-0.8zM70.3 87.4h0.8v0.8h-0.8zM67.9 72.0h0.8v0.8h-0.8zM75.8 74.5h0.8v0.8h-0.8zM84.6 86.5h0.8v0.8h-0.8zM74.2 75.1h0.8v0.8h-0.8zM67.8 72.7h0.8v0.8h-0.8zM81.9 85.0h0.8v0.8h-0.8zM74.9 78.9h0.8v0.8h-0.8zM76.1 80.9h0.8v0.8h-0.8zM77.1 79.7h0.8v0.8h-0.8zM88.9 79.8h0.8v0.8h-0.8zM73.4 76.1h0.8v0.8h-0.8zM71.1 83.0h0.8v0.8h-0.8zM77.7 81.8h0.8v0.8h-0.8zM62.9 77.5h0.8v0.8h-0.8zM63.1 81.0h0.8v0.8h-0.8zM71.8 77.8h0.8v0.8h-0.8zM82.5 78.1h0.8v0.8h-0.8zM72.5 80.5h0.8v0.8h-0.8zM75.8 83.4h0.8v0.8h-0.8zM78.0 85.3h0.8v0.8h-0.8zM75.8 79.8h0.8v0.8h-0.8zM76.1 79.7h0.8v0.8h-0.8zM63.7 68.5h0.8v0.8h-0.8zM73.2 83.9h0.8v0.8h-0.8zM72.2 77.3h0.8v0.8h-0.8zM67.3 72.2h0.8v0.8h-0.8zM82.8 85.0h0.8v0.8h-0.8zM87.8 75.1h0.8v0.8h-0.8zM69.8 80.6h0.8v0.8h-0.8zM72.4 76.6h0.8v0.8h-0.8zM76.3 76.2h0.8v0.8h-0.8zM64.8 78.7h0.8v0.8h-0.8zM74.4 71.5h0.8v0.8h-0.8zM69.2 83.3h0.8v0.8h-0.8zM67.8 79.9h0.8v0.8h-0.8zM76.5 78.8h0.8v0.8h-0.8zM72.0 79.9h0.8v0.8h-0.8zM75.1 78.4h0.8v0.8h-0.8zM67.8 72.0h0.8v0.8h-0.8zM76.9 78.0h0.8v0.8h-0.8zM68.0 82.6h0.8v0.8h-0.8zM67.7 79.7h0.8v0.8h-0.8zM81.3 90.5h0.8v0.8h-0.8zM73.1 78.4h0.8v0.8h-0.8zM76.4 78.8h0.8v0.8h-0.8zM73.1 80.1h0.8v0.8h-0.8zM81.7 71.9h0.8v0.8h-0.8zM75.5 81.7h0.8v0.8h-0.8zM73.1 78.2h0.8v0.8h-0.8zM71.9 82.5h0.8v0.8h-0.8zM76.7 86.2h0.8v0.8h-0.8zM89.2 80.2h0.8v0.8h-0.8zM84.7 73.6h0.8v0.8h-0.8zM80.1 86.7h0.8v0.8h-0.8zM68.6 77.4h0.8v0.8h-0.8zM65.6 76.8h0.8v0.8h-0.8zM78.6 82.0h0.8v0.8h-0.8zM75.8 82.9h0.8v0.8h-0.8zM83.4 87.0h0.8v0.8h-0.8zM77.5 84.1h0.8v0.8h-0.8zM85.6 82.2h0.8v0.8h-0.8zM74.3 83.0h0.8v0.8h-0.8zM80.8 88.7h0.8v0.8h-0.8zM73.9 77.0h0.8v0.8h-0.8zM68.8 77.5h0.8v0.8h-0.8zM66.0 85.4h0.8v0.8h-0.8zM72.3 76.4h0.8v0.8h-0.8zM77.7 83.0h0.8v0.8h-0.8zM75.5 76.4h0.8v0.8h-0.8zM79.0 83.9h0.8v0.8h-0.8zM66.0 65.3h0.8v0.8h-0.8zM72.1 77.6h0.8v0.8h-0.8zM70.2 81.2h0.8v0.8h-0.8zM77.1 76.3h0.8v0.8h-0.8zM86.8 76.8h0.8v0.8h-0.8zM69.2 76.4h0.8v0.8h-0.8zM79.5 80.3h0.8v0.8h-0.8zM83.4 84.2h0.8v0.8h-0.8zM66.7 80.9h0.8v0.8h-0.8zM83.2 88.4h0.8v0.8h-0.8zM83.1 75.1h0.8v0.8h-0.8zM84.5 79.5h0.8v0.8h-0.8zM77.5 76.4h0.8v0.8h-0.8zM85.2 82.6h0.8v0.8h-0.8zM65.8 73.0h0.8v0.8h-0.8zM73.2 79.2h0.8v0.8h-0.8zM63.2 67.1h0.8v0.8h-0.8zM71.4 73.0h0.8v0.8h-0.8zM79.6 81.1h0.8v0.8h-0.8zM58.5 69.9h0.8v0.8h-0.8zM85.2 89.0h0.8v0.8h-0.8zM81.2 81.1h0.8v0.8h-0.8zM76.0 80.4h0.8v0.8h-0.8zM76.6 81.3h0.8v0.8h-0.8zM72.5 82.1h0.8v0.8h-0.8zM79.5 78.4h0.8v0.8h-0.8zM81.4 84.6h0.8v0.8h-0.8zM75.5 82.0h0.8v0.8h-0.8zM70.5 84.6h0.8v0.8h-0.8zM73.7 82.1h0.8v0.8h-0.8zM84.5 79.1h0.8v0.8h-0.8zM79.5 76.5h0.8v0.8h-0.8zM73.8 73.7h0.8v0.8h-0.8zM79.0 71.3h0.8v0.8h-0.8zM82.9 81.4h0.8v0.8h-0.8zM80.0 74.4h0.8v0.8h-0.8zM74.0 83.1h0.8v0.8h-0.8zM73.1 76.2h0.8v0.8h-0.8zM81.1 77.2h0.8v0.8h-0.8zM70.3 83.5h0.8v0.8h-0.8zM81.4 75.3h0.8v0.8h-0.8zM73.8 82.0h0.8v0.8h-0.8zM91.7 86.9h0.8v0.8h-0.8zM62.2 77.8h0.8v0.8h-0.8zM72.2 80.1h0.8v0.8h-0.8zM71.1 74.2h0.8v0.8h-0.8zM80.4 83.4h0.8v0.8h-0.8zM79.6 82.5h0.8v0.8h-0.8zM86.1 87.1h0.8v0.8h-0.8zM71.0 78.2h0.8v0.8h-0.8zM72.8 85.3h0.8v0.8h-0.8zM83.6 79.4h0.8v0.8h-0.8zM83.0 81.1h0.8v0.8h-0.8zM81.8 82.5h0.8v0.8h-0.8zM81.8 76.5h0.8v0.8h-0.8zM83.3 87.9h0.8v0.8h-0.8zM76.7 79.4h0.8v0.8h-0.8zM76.0 79.7h0.8v0.8h-0.8zM70.8 80.2h0.8v0.8h-0.8zM80.6 78.5h0.8v0.8h-0.8zM84.1 78.2h0.8v0.8h-0.8zM69.1 73.5h0.8v0.8h-0.8zM89.0 81.8h0.8v0.8h-0.8zM80.1 83.0h0.8v0.8h-0.8zM80.4 83.9h0.8v0.8h-0.8zM102.7 37.8h0.8v0.8h-0.8zM91.2 42.5h0.8v0.8h-0.8zM97.5 28.6h0.8v0.8h-0.8zM107.9 34.6h0.8v0.8h-0.8zM92.5 34.8h0.8v0.8h-0.8zM98.1 32.2h0.8v0.8h-0.8zM101.6 35.7h0.8v0.8h-0.8zM108.1 36.5h0.8v0.8h-0.8zM98.9 32.4h0.8v0.8h-0.8zM98.7 38.8h0.8v0.8h-0.8zM105.1 33.5h0.8v0.8h-0.8zM107.6 31.5h0.8v0.8h-0.8zM104.7 32.0h0.8v0.8h-0.8zM107.7 30.9h0.8v0.8h-0.8zM115.3 31.0h0.8v0.8h-0.8zM103.8 29.1h0.8v0.8h-0.8zM109.0 39.7h0.8v0.8h-0.8zM98.7 30.4h0.8v0.8h-0.8zM102.0 30.9h0.8v0.8h-0.8zM95.6 30.5h0.8v0.8h-0.8zM104.6 38.4h0.8v0.8h-0.8zM110.2 38.6h0.8v0.8h-0.8zM110.5 34.8h0.8v0.8h-0.8zM107.4 33.3h0.8v0.8h-0.8zM104.5 33.1h0.8v0.8h-0.8zM111.5 37.1h0.8v0.8h-0.8zM100.6 37.7h0.8v0.8h-0.8zM97.3 28.0h0.8v0.8h-0.8zM97.1 37.4h0.8v0.8h-0.8zM108.5 37.5h0.8v0.8h-0.8zM96.6 30.8h0.8v0.8h-0.8zM114.1 33.0h0.8v0.8h-0.8zM88.1 32.8h0.8v0.8h-0.8zM113.1 33.3h0.8v0.8h-0.8zM111.8 32.6h0.8v0.8h-0.8zM105.7 24.3h0.8v0.8h-0.8zM102.8 38.3h0.8v0.8h-0.8zM106.8 32.2h0.8v0.8h-0.8zM99.1 28.4h0.8v0.8h-0.8zM113.6 29.2h0.8v0.8h-0.8zM106.4 35.0h0.8v0.8h-0.8zM105.9 35.5h0.8v0.8h-0.8zM100.2 34.8h0.8v0.8h-0.8zM110.6 33.0h0.8v0.8h-0.8zM98.1 29.1h0.8v0.8h-0.8zM107.2 32.2h0.8v0.8h-0.8zM106.9 29.8h0.8v0.8h-0.8zM113.1 43.3h0.8v0.8h-0.8zM99.9 30.5h0.8v0.8h-0.8zM105.7 35.9h0.8v0.8h-0.8zM107.4 35.9h0.8v0.8h-0.8zM109.4 32.6h0.8v0.8h-0.8zM106.2 31.9h0.8v0.8h-0.8zM120.7 34.9h0.8v0.8h-0.8zM103.7 35.1h0.8v0.8h-0.8zM111.5 35.3h0.8v0.8h-0.8zM104.7 27.1h0.8v0.8h-0.8zM119.0 36.4h0.8v0.8h-0.8zM111.1 37.6h0.8v0.8h-0.8zM92.4 30.3h0.8v0.8h-0.8zM109.8 33.8h0.8v0.8h-0.8zM101.7 29.1h0.8v0.8h-0.8zM97.5 36.4h0.8v0.8h-0.8zM101.6 31.2h0.8v0.8h-0.8zM99.6 36.1h0.8v0.8h-0.8zM112.3 41.6h0.8v0.8h-0.8zM107.2 35.0h0.8v0.8h-0.8zM108.6 35.2h0.8v0.8h-0.8zM98.6 30.0h0.8v0.8h-0.8zM115.9 32.8h0.8v0.8h-0.8zM113.8 31.5h0.8v0.8h-0.8zM106.3 33.3h0.8v0.8h-0.8zM97.8 29.2h0.8v0.8h-0.8zM103.5 31.5h0.8v0.8h-0.8zM96.3 41.8h0.8v0.8h-0.8zM103.1 39.3h0.8v0.8h-0.8zM109.3 28.1h0.8v0.8h-0.8zM113.9 28.6h0.8v0.8h-0.8zM111.5 33.2h0.8v0.8h-0.8zM98.2 35.4h0.8v0.8h-0.8zM102.8 31.7h0.8v0.8h-0.8zM110.0 34.0h0.8v0.8h-0.8zM104.6 34.3h0.8v0.8h-0.8zM103.2 32.9h0.8v0.8h-0.8zM117.8 30.6h0.8v0.8h-0.8zM110.1 40.0h0.8v0.8h-0.8zM107.9 36.1h0.8v0.8h-0.8zM96.3 33.9h0.8v0.8h-0.8zM108.0 32.7h0.8v0.8h-0.8zM111.7 35.1h0.8v0.8h-0.8zM98.3 34.9h0.8v0.8h-0.8zM100.5 35.6h0.8v0.8h-0.8zM93.3 30.2h0.8v0.8h-0.8zM104.3 35.9h0.8v0.8h-0.8zM108.8 33.0h0.8v0.8h-0.8zM111.6 37.1h0.8v0.8h-0.8zM104.3 32.0h0.8v0.8h-0.8zM116.0 29.7h0.8v0.8h-0.8zM111.5 35.6h0.8v0.8h-0.8zM113.7 26.8h0.8v0.8h-0.8zM114.7 32.2h0.8v0.8h-0.8zM94.4 41.5h0.8v0.8h-0.8zM108.2 37.1h0.8v0.8h-0.8zM96.4 37.3h0.8v0.8h-0.8zM106.6 28.9h0.8v0.8h-0.8zM109.1 27.1h0.8v0.8h-0.8zM103.8 36.1h0.8v0.8h-0.8zM117.2 34.3h0.8v0.8h-0.8zM103.3 37.8h0.8v0.8h-0.8zM96.7 35.6h0.8v0.8h-0.8zM109.9 32.6h0.8v0.8h-0.8zM98.2 30.7h0.8v0.8h-0.8zM105.3 39.1h0.8v0.8h-0.8zM105.1 28.5h0.8v0.8h-0.8zM107.1 35.9h0.8v0.8h-0.8zM106.3 37.7h0.8v0.8h-0.8zM97.8 30.5h0.8v0.8h-0.8zM108.7 33.4h0.8v0.8h-0.8zM112.8 35.5h0.8v0.8h-0.8zM106.4 36.4h0.8v0.8h-0.8zM109.5 30.7h0.8v0.8h-0.8zM94.4 29.4h0.8v0.8h-0.8zM109.4 31.2h0.8v0.8h-0.8zM107.7 30.4h0.8v0.8h-0.8zM106.0 31.0h0.8v0.8h-0.8zM108.0 35.0h0.8v0.8h-0.8zM101.0 34.8h0.8v0.8h-0.8zM109.9 35.3h0.8v0.8h-0.8zM106.3 33.2h0.8v0.8h-0.8zM116.0 36.8h0.8v0.8h-0.8zM105.8 39.6h0.8v0.8h-0.8zM101.9 29.2h0.8v0.8h-0.8zM113.6 38.3h0.8v0.8h-0.8zM110.7 36.4h0.8v0.8h-0.8zM106.7 41.2h0.8v0.8h-0.8zM104.5 38.9h0.8v0.8h-0.8zM97.4 31.1h0.8v0.8h-0.8zM107.1 39.0h0.8v0.8h-0.8zM105.7 30.4h0.8v0.8h-0.8zM97.2 42.0h0.8v0.8h-0.8zM105.2 38.6h0.8v0.8h-0.8zM105.9 38.5h0.8v0.8h-0.8zM106.4 38.5h0.8v0.8h-0.8zM102.0 32.7h0.8v0.8h-0.8zM103.9 31.6h0.8v0.8h-0.8zM112.5 30.5h0.8v0.8h-0.8zM105.9 29.9h0.8v0.8h-0.8zM102.3 35.3h0.8v0.8h-0.8zM102.4 31.7h0.8v0.8h-0.8zM104.8 33.6h0.8v0.8h-0.8zM97.1 30.1h0.8v0.8h-0.8zM107.5 33.1h0.8v0.8h-0.8zM106.2 31.1h0.8v0.8h-0.8zM108.6 37.7h0.8v0.8h-0.8zM108.7 37.3h0.8v0.8h-0.8zM92.0 37.2h0.8v0.8h-0.8zM116.0 37.4h0.8v0.8h-0.8zM101.9 35.4h0.8v0.8h-0.8zM114.9 37.3h0.8v0.8h-0.8zM111.4 38.9h0.8v0.8h-0.8zM97.6 42.2h0.8v0.8h-0.8zM107.9 28.5h0.8v0.8h-0.8zM98.3 36.2h0.8v0.8h-0.8zM107.0 38.7h0.8v0.8h-0.8zM101.2 28.7h0.8v0.8h-0.8zM107.4 32.3h0.8v0.8h-0.8zM105.7 34.4h0.8v0.8h-0.8zM109.5 33.4h0.8v0.8h-0.8zM101.5 33.1h0.8v0.8h-0.8zM106.9 32.7h0.8v0.8h-0.8zM106.3 26.9h0.8v0.8h-0.8zM104.4 29.9h0.8v0.8h-0.8zM104.9 28.4h0.8v0.8h-0.8zM99.3 34.0h0.8v0.8h-0.8zM113.4 35.3h0.8v0.8h-0.8zM109.3 40.5h0.8v0.8h-0.8zM102.3 30.6h0.8v0.8h-0.8zM103.7 33.4h0.8v0.8h-0.8zM97.6 34.3h0.8v0.8h-0.8zM102.2 29.4h0.8v0.8h-0.8zM99.5 40.7h0.8v0.8h-0.8zM101.1 33.2h0.8v0.8h-0.8zM104.3 30.2h0.8v0.8h-0.8zM104.3 29.7h0.8v0.8h-0.8zM104.9 32.3h0.8v0.8h-0.8zM110.0 36.2h0.8v0.8h-0.8zM114.3 34.4h0.8v0.8h-0.8zM112.7 40.9h0.8v0.8h-0.8zM92.6 35.7h0.8v0.8h-0.8zM93.1 34.8h0.8v0.8h-0.8zM101.8 31.9h0.8v0.8h-0.8zM110.6 34.6h0.8v0.8h-0.8zM108.5 32.4h0.8v0.8h-0.8zM100.6 32.9h0.8v0.8h-0.8zM114.8 33.8h0.8v0.8h-0.8zM109.9 33.1h0.8v0.8h-0.8zM111.5 38.6h0.8v0.8h-0.8zM93.6 28.7h0.8v0.8h-0.8zM100.9 35.5h0.8v0.8h-0.8zM111.7 34.6h0.8v0.8h-0.8zM96.1 35.9h0.8v0.8h-0.8zM95.4 28.7h0.8v0.8h-0.8zM109.6 35.1h0.8v0.8h-0.8zM102.9 33.6h0.8v0.8h-0.8zM107.6 32.4h0.8v0.8h-0.8zM108.8 35.6h0.8v0.8h-0.8zM121.7 40.8h0.8v0.8h-0.8zM108.9 28.8h0.8v0.8h-0.8zM102.2 28.4h0.8v0.8h-0.8zM102.9 32.0h0.8v0.8h-0.8zM101.3 36.1h0.8v0.8h-0.8zM97.3 31.2h0.8v0.8h-0.8zM107.0 33.7h0.8v0.8h-0.8zM113.8 36.5h0.8v0.8h-0.8zM104.9 28.8h0.8v0.8h-0.8zM97.3 37.8h0.8v0.8h-0.8zM113.2 36.4h0.8v0.8h-0.8zM97.3 35.9h0.8v0.8h-0.8zM111.8 29.2h0.8v0.8h-0.8zM106.1 31.9h0.8v0.8h-0.8zM105.4 33.2h0.8v0.8h-0.8zM102.2 31.3h0.8v0.8h-0.8zM105.4 44.2h0.8v0.8h-0.8zM105.9 36.3h0.8v0.8h-0.8zM103.5 34.2h0.8v0.8h-0.8zM110.8 35.9h0.8v0.8h-0.8zM105.4 36.5h0.8v0.8h-0.8zM92.6 33.1h0.8v0.8h-0.8zM100.9 29.5h0.8v0.8h-0.8zM104.1 39.0h0.8v0.8h-0.8zM105.9 31.3h0.8v0.8h-0.8zM104.1 32.8h0.8v0.8h-0.8zM107.0 32.4h0.8v0.8h-0.8zM93.3 29.4h0.8v0.8h-0.8zM108.1 31.8h0.8v0.8h-0.8zM97.8 31.9h0.8v0.8h-0.8zM97.2 33.5h0.8v0.8h-0.8zM106.0 28.4h0.8v0.8h-0.8zM97.7 34.8h0.8v0.8h-0.8zM102.9 32.9h0.8v0.8h-0.8zM108.3 29.3h0.8v0.8h-0.8zM99.4 34.0h0.8v0.8h-0.8zM107.8 31.5h0.8v0.8h-0.8zM104.7 33.2h0.8v0.8h-0.8zM94.9 35.4h0.8v0.8h-0.8zM109.4 30.0h0.8v0.8h-0.8zM107.1 30.4h0.8v0.8h-0.8zM104.8 35.0h0.8v0.8h-0.8zM101.3 34.7h0.8v0.8h-0.8zM106.3 35.8h0.8v0.8h-0.8zM110.9 33.8h0.8v0.8h-0.8zM100.2 34.2h0.8v0.8h-0.8zM113.6 30.2h0.8v0.8h-0.8zM114.8 40.9h0.8v0.8h-0.8zM114.9 33.9h0.8v0.8h-0.8zM93.6 36.4h0.8v0.8h-0.8zM97.3 31.1h0.8v0.8h-0.8zM99.8 44.0h0.8v0.8h-0.8zM105.4 35.1h0.8v0.8h-0.8zM107.2 33.7h0.8v0.8h-0.8zM102.5 38.3h0.8v0.8h-0.8zM111.3 29.0h0.8v0.8h-0.8zM105.0 34.3h0.8v0.8h-0.8zM96.3 35.4h0.8v0.8h-0.8zM109.0 36.0h0.8v0.8h-0.8zM98.3 34.0h0.8v0.8h-0.8zM107.2 36.2h0.8v0.8h-0.8zM108.0 27.2h0.8v0.8h-0.8zM97.4 28.3h0.8v0.8h-0.8zM107.4 32.7h0.8v0.8h-0.8zM107.4 32.8h0.8v0.8h-0.8zM114.0 36.2h0.8v0.8h-0.8zM105.1 33.7h0.8v0.8h-0.8zM98.3 36.9h0.8v0.8h-0.8zM96.5 39.5h0.8v0.8h-0.8zM103.0 27.9h0.8v0.8h-0.8zM104.0 33.5h0.8v0.8h-0.8zM105.1 31.4h0.8v0.8h-0.8zM110.6 36.9h0.8v0.8h-0.8zM99.7 29.1h0.8v0.8h-0.8zM102.0 32.7h0.8v0.8h-0.8zM107.5 36.2h0.8v0.8h-0.8zM105.8 31.6h0.8v0.8h-0.8zM105.6 26.4h0.8v0.8h-0.8zM109.1 32.3h0.8v0.8h-0.8zM113.9 35.0h0.8v0.8h-0.8zM103.9 31.3h0.8v0.8h-0.8zM106.2 36.0h0.8v0.8h-0.8zM99.1 30.3h0.8v0.8h-0.8zM103.0 37.0h0.8v0.8h-0.8zM105.8 30.8h0.8v0.8h-0.8zM110.3 32.8h0.8v0.8h-0.8zM111.2 41.2h0.8v0.8h-0.8zM108.9 35.2h0.8v0.8h-0.8zM104.1 35.7h0.8v0.8h-0.8zM108.3 29.1h0.8v0.8h-0.8zM95.4 32.3h0.8v0.8h-0.8zM104.7 34.2h0.8v0.8h-0.8zM97.4 35.6h0.8v0.8h-0.8zM98.0 35.8h0.8v0.8h-0.8zM104.5 34.3h0.8v0.8h-0.8zM110.7 27.0h0.8v0.8h-0.8zM107.3 29.8h0.8v0.8h-0.8zM89.0 37.7h0.8v0.8h-0.8zM98.4 30.9h0.8v0.8h-0.8zM93.3 26.3h0.8v0.8h-0.8zM113.2 31.4h0.8v0.8h-0.8zM111.4 34.5h0.8v0.8h-0.8zM103.7 40.2h0.8v0.8h-0.8zM98.9 37.3h0.8v0.8h-0.8zM102.9 32.8h0.8v0.8h-0.8zM110.2 28.5h0.8v0.8h-0.8zM111.0 32.6h0.8v0.8h-0.8zM101.3 27.1h0.8v0.8h-0.8zM113.9 35.0h0.8v0.8h-0.8zM111.9 35.3h0.8v0.8h-0.8zM108.3 31.1h0.8v0.8h-0.8zM113.8 33.9h0.8v0.8h-0.8zM110.2 31.7h0.8v0.8h-0.8zM109.4 34.5h0.8v0.8h-0.8zM105.1 27.3h0.8v0.8h-0.8zM106.4 35.0h0.8v0.8h-0.8zM98.8 35.7h0.8v0.8h-0.8zM104.6 29.3h0.8v0.8h-0.8zM110.0 37.2h0.8v0.8h-0.8zM109.5 37.5h0.8v0.8h-0.8zM97.9 29.0h0.8v0.8h-0.8zM102.8 32.9h0.8v0.8h-0.8zM92.7 35.4h0.8v0.8h-0.8zM108.5 35.2h0.8v0.8h-0.8zM111.2 33.5h0.8v0.8h-0.8zM104.2 33.9h0.8v0.8h-0.8zM103.9 30.1h0.8v0.8h-0.8zM117.1 33.2h0.8v0.8h-0.8zM111.2 31.5h0.8v0.8h-0.8zM91.9 36.5h0.8v0.8h-0.8zM107.0 28.5h0.8v0.8h-0.8zM113.4 35.5h0.8v0.8h-0.8zM99.0 31.9h0.8v0.8h-0.8zM104.6 34.3h0.8v0.8h-0.8zM99.5 26.2h0.8v0.8h-0.8zM104.4 34.9h0.8v0.8h-0.8zM99.5 34.4h0.8v0.8h-0.8zM112.5 32.0h0.8v0.8h-0.8zM114.9 35.0h0.8v0.8h-0.8zM104.2 35.2h0.8v0.8h-0.8zM111.9 30.0h0.8v0.8h-0.8zM96.0 33.3h0.8v0.8h-0.8zM94.6 34.1h0.8v0.8h-0.8zM114.3 37.2h0.8v0.8h-0.8zM98.0 31.2h0.8v0.8h-0.8zM117.2 36.9h0.8v0.8h-0.8zM106.3 34.6h0.8v0.8h-0.8zM122.0 36.6h0.8v0.8h-0.8zM122.8 31.9h0.8v0.8h-0.8zM100.6 26.5h0.8v0.8h-0.8zM117.2 32.9h0.8v0.8h-0.8zM94.8 38.4h0.8v0.8h-0.8zM109.0 37.4h0.8v0.8h-0.8zM101.8 34.1h0.8v0.8h-0.8zM103.5 30.7h0.8v0.8h-0.8zM100.2 36.8h0.8v0.8h-0.8zM88.5 35.3h0.8v0.8h-0.8zM121.1 30.5h0.8v0.8h-0.8zM103.4 33.6h0.8v0.8h-0.8zM117.1 34.0h0.8v0.8h-0.8zM107.8 33.5h0.8v0.8h-0.8zM106.0 36.8h0.8v0.8h-0.8zM96.3 35.1h0.8v0.8h-0.8zM112.7 31.0h0.8v0.8h-0.8zM109.6 33.6h0.8v0.8h-0.8zM108.3 32.5h0.8v0.8h-0.8zM110.9 37.4h0.8v0.8h-0.8zM100.0 36.4h0.8v0.8h-0.8zM105.9 35.2h0.8v0.8h-0.8zM111.5 30.4h0.8v0.8h-0.8zM108.7 35.9h0.8v0.8h-0.8zM106.8 29.5h0.8v0.8h-0.8zM104.8 34.9h0.8v0.8h-0.8zM104.7 31.0h0.8v0.8h-0.8zM105.2 32.0h0.8v0.8h-0.8zM107.6 33.4h0.8v0.8h-0.8zM100.3 39.6h0.8v0.8h-0.8zM95.7 34.9h0.8v0.8h-0.8zM108.1 32.6h0.8v0.8h-0.8zM106.8 37.7h0.8v0.8h-0.8zM122.5 35.9h0.8v0.8h-0.8zM117.8 34.6h0.8v0.8h-0.8zM97.6 29.5h0.8v0.8h-0.8zM119.2 39.3h0.8v0.8h-0.8zM96.0 34.5h0.8v0.8h-0.8zM98.0 30.0h0.8v0.8h-0.8zM97.7 38.9h0.8v0.8h-0.8zM101.4 34.2h0.8v0.8h-0.8zM97.2 36.8h0.8v0.8h-0.8zM109.7 38.7h0.8v0.8h-0.8zM100.8 33.7h0.8v0.8h-0.8zM97.1 36.1h0.8v0.8h-0.8zM101.0 31.3h0.8v0.8h-0.8zM100.7 29.1h0.8v0.8h-0.8zM106.8 27.5h0.8v0.8h-0.8zM115.9 36.0h0.8v0.8h-0.8zM106.0 33.8h0.8v0.8h-0.8zM101.7 34.4h0.8v0.8h-0.8zM111.0 34.2h0.8v0.8h-0.8zM106.1 31.7h0.8v0.8h-0.8zM106.4 32.3h0.8v0.8h-0.8zM109.6 32.7h0.8v0.8h-0.8zM103.4 40.7h0.8v0.8h-0.8zM110.4 35.8h0.8v0.8h-0.8zM114.1 39.9h0.8v0.8h-0.8zM107.5 34.2h0.8v0.8h-0.8zM97.3 36.3h0.8v0.8h-0.8zM114.6 36.3h0.8v0.8h-0.8zM106.7 35.8h0.8v0.8h-0.8zM104.3 36.0h0.8v0.8h-0.8zM103.7 32.8h0.8v0.8h-0.8zM98.7 27.4h0.8v0.8h-0.8zM108.5 30.3h0.8v0.8h-0.8zM106.5 32.0h0.8v0.8h-0.8zM106.6 31.8h0.8v0.8h-0.8zM108.9 27.9h0.8v0.8h-0.8zM105.6 34.6h0.8v0.8h-0.8zM109.4 31.5h0.8v0.8h-0.8zM109.0 39.8h0.8v0.8h-0.8zM104.2 34.8h0.8v0.8h-0.8zM107.5 31.9h0.8v0.8h-0.8zM110.5 39.5h0.8v0.8h-0.8zM115.9 35.5h0.8v0.8h-0.8zM105.7 32.6h0.8v0.8h-0.8zM115.6 29.9h0.8v0.8h-0.8zM99.6 30.5h0.8v0.8h-0.8zM99.8 35.4h0.8v0.8h-0.8zM101.7 35.9h0.8v0.8h-0.8zM113.1 32.5h0.8v0.8h-0.8zM101.7 28.6h0.8v0.8h-0.8zM95.4 30.6h0.8v0.8h-0.8zM106.2 29.9h0.8v0.8h-0.8zM103.5 30.7h0.8v0.8h-0.8zM107.4 29.6h0.8v0.8h-0.8zM98.6 27.0h0.8v0.8h-0.8zM102.6 34.1h0.8v0.8h-0.8zM103.1 29.6h0.8v0.8h-0.8zM98.8 36.4h0.8v0.8h-0.8zM104.4 34.5h0.8v0.8h-0.8zM106.3 35.9h0.8v0.8h-0.8zM110.4 35.9h0.8v0.8h-0.8zM103.4 28.3h0.8v0.8h-0.8zM121.8 34.5h0.8v0.8h-0.8zM106.1 37.9h0.8v0.8h-0.8zM105.3 31.7h0.8v0.8h-0.8zM113.9 33.9h0.8v0.8h-0.8zM109.5 29.9h0.8v0.8h-0.8zM105.9 37.3h0.8v0.8h-0.8zM105.3 29.7h0.8v0.8h-0.8zM103.8 29.4h0.8v0.8h-0.8zM115.1 36.1h0.8v0.8h-0.8zM108.6 37.8h0.8v0.8h-0.8zM103.8 30.5h0.8v0.8h-0.8zM103.7 38.0h0.8v0.8h-0.8zM107.0 29.8h0.8v0.8h-0.8zM109.8 31.0h0.8v0.8h-0.8zM113.2 29.5h0.8v0.8h-0.8zM102.5 37.2h0.8v0.8h-0.8zM107.5 36.5h0.8v0.8h-0.8zM99.4 39.0h0.8v0.8h-0.8zM106.8 32.4h0.8v0.8h-0.8zM102.9 33.6h0.8v0.8h-0.8zM103.2 38.0h0.8v0.8h-0.8zM108.1 34.5h0.8v0.8h-0.8zM111.6 33.5h0.8v0.8h-0.8zM109.9 31.2h0.8v0.8h-0.8zM107.0 32.0h0.8v0.8h-0.8zM103.0 36.2h0.8v0.8h-0.8zM114.4 37.9h0.8v0.8h-0.8zM119.2 35.6h0.8v0.8h-0.8zM101.3 30.8h0.8v0.8h-0.8zM107.2 30.8h0.8v0.8h-0.8zM112.1 27.1h0.8v0.8h-0.8zM103.9 38.0h0.8v0.8h-0.8zM97.9 35.2h0.8v0.8h-0.8zM104.2 30.6h0.8v0.8h-0.8zM97.8 35.1h0.8v0.8h-0.8zM111.1 29.4h0.8v0.8h-0.8zM109.1 37.7h0.8v0.8h-0.8zM97.3 38.6h0.8v0.8h-0.8zM110.4 32.6h0.8v0.8h-0.8zM96.9 33.5h0.8v0.8h-0.8zM101.2 28.4h0.8v0.8h-0.8zM107.8 33.6h0.8v0.8h-0.8zM107.8 32.2h0.8v0.8h-0.8zM115.1 40.2h0.8v0.8h-0.8zM105.0 28.2h0.8v0.8h-0.8zM98.8 33.2h0.8v0.8h-0.8zM101.1 32.5h0.8v0.8h-0.8zM110.5 31.3h0.8v0.8h-0.8zM103.1 36.1h0.8v0.8h-0.8zM102.2 35.6h0.8v0.8h-0.8zM97.9 33.9h0.8v0.8h-0.8zM98.8 37.0h0.8v0.8h-0.8zM103.6 33.2h0.8v0.8h-0.8zM108.4 29.5h0.8v0.8h-0.8zM114.5 39.1h0.8v0.8h-0.8zM105.5 31.7h0.8v0.8h-0.8zM95.2 36.2h0.8v0.8h-0.8zM104.6 37.2h0.8v0.8h-0.8zM106.3 35.0h0.8v0.8h-0.8zM93.6 36.4h0.8v0.8h-0.8zM106.7 36.3h0.8v0.8h-0.8zM97.9 32.6h0.8v0.8h-0.8zM107.1 40.6h0.8v0.8h-0.8zM107.3 29.2h0.8v0.8h-0.8zM103.5 41.8h0.8v0.8h-0.8zM100.8 36.8h0.8v0.8h-0.8zM118.5 33.0h0.8v0.8h-0.8zM97.5 31.8h0.8v0.8h-0.8zM96.4 34.8h0.8v0.8h-0.8zM101.7 39.6h0.8v0.8h-0.8zM107.9 32.5h0.8v0.8h-0.8zM103.9 34.6h0.8v0.8h-0.8zM114.8 39.2h0.8v0.8h-0.8zM103.3 33.2h0.8v0.8h-0.8zM100.9 32.2h0.8v0.8h-0.8zM97.1 33.5h0.8v0.8h-0.8zM100.4 30.4h0.8v0.8h-0.8zM106.2 35.4h0.8v0.8h-0.8zM110.7 32.1h0.8v0.8h-0.8zM104.6 37.9h0.8v0.8h-0.8zM99.7 36.7h0.8v0.8h-0.8zM102.5 36.9h0.8v0.8h-0.8zM95.1 33.7h0.8v0.8h-0.8zM101.8 35.7h0.8v0.8h-0.8zM117.1 34.6h0.8v0.8h-0.8zM101.9 36.3h0.8v0.8h-0.8zM106.4 37.5h0.8v0.8h-0.8zM108.7 33.6h0.8v0.8h-0.8zM94.7 28.1h0.8v0.8h-0.8zM105.3 33.4h0.8v0.8h-0.8zM105.5 32.0h0.8v0.8h-0.8zM101.1 29.7h0.8v0.8h-0.8zM112.9 36.2h0.8v0.8h-0.8zM112.1 35.8h0.8v0.8h-0.8zM105.0 31.3h0.8v0.8h-0.8zM107.1 33.6h0.8v0.8h-0.8zM102.4 31.3h0.8v0.8h-0.8zM106.7 28.8h0.8v0.8h-0.8zM107.3 27.0h0.8v0.8h-0.8zM105.5 32.1h0.8v0.8h-0.8zM91.7 37.1h0.8v0.8h-0.8zM105.7 37.1h0.8v0.8h-0.8zM103.7 29.4h0.8v0.8h-0.8zM119.8 38.9h0.8v0.8h-0.8zM103.4 26.5h0.8v0.8h-0.8zM101.0 36.5h0.8v0.8h-0.8zM109.2 36.8h0.8v0.8h-0.8zM116.0 33.8h0.8v0.8h-0.8zM104.8 36.4h0.8v0.8h-0.8zM102.7 34.2h0.8v0.8h-0.8zM102.1 31.0h0.8v0.8h-0.8zM96.3 31.6h0.8v0.8h-0.8zM100.4 33.1h0.8v0.8h-0.8zM106.7 35.8h0.8v0.8h-0.8zM102.1 38.1h0.8v0.8h-0.8zM98.9 31.0h0.8v0.8h-0.8zM102.2 33.7h0.8v0.8h-0.8zM110.6 30.1h0.8v0.8h-0.8zM103.9 31.5h0.8v0.8h-0.8zM113.9 34.0h0.8v0.8h-0.8zM103.9 33.8h0.8v0.8h-0.8zM113.0 32.2h0.8v0.8h-0.8zM97.1 30.1h0.8v0.8h-0.8zM106.7 41.9h0.8v0.8h-0.8zM103.4 31.6h0.8v0.8h-0.8zM117.3 35.7h0.8v0.8h-0.8zM114.0 34.2h0.8v0.8h-0.8zM111.3 28.1h0.8v0.8h-0.8zM95.2 32.3h0.8v0.8h-0.8zM99.5 35.7h0.8v0.8h-0.8zM109.9 34.2h0.8v0.8h-0.8zM107.4 37.1h0.8v0.8h-0.8zM102.9 32.0h0.8v0.8h-0.8zM95.0 34.5h0.8v0.8h-0.8zM102.8 30.5h0.8v0.8h-0.8zM103.4 28.1h0.8v0.8h-0.8zM102.9 29.9h0.8v0.8h-0.8zM104.4 32.4h0.8v0.8h-0.8zM104.0 34.7h0.8v0.8h-0.8zM105.9 33.3h0.8v0.8h-0.8zM115.3 27.5h0.8v0.8h-0.8zM97.5 34.9h0.8v0.8h-0.8zM114.1 41.1h0.8v0.8h-0.8zM109.8 35.7h0.8v0.8h-0.8zM102.8 33.7h0.8v0.8h-0.8zM102.2 28.3h0.8v0.8h-0.8zM105.8 32.6h0.8v0.8h-0.8zM105.0 32.5h0.8v0.8h-0.8zM109.7 31.2h0.8v0.8h-0.8zM100.3 30.0h0.8v0.8h-0.8zM103.1 34.6h0.8v0.8h-0.8zM106.0 35.1h0.8v0.8h-0.8zM102.3 31.3h0.8v0.8h-0.8zM102.8 40.1h0.8v0.8h-0.8zM112.2 33.0h0.8v0.8h-0.8zM109.6 41.0h0.8v0.8h-0.8zM114.2 34.3h0.8v0.8h-0.8zM100.0 29.9h0.8v0.8h-0.8zM106.6 31.0h0.8v0.8h-0.8zM113.8 34.0h0.8v0.8h-0.8zM102.6 31.8h0.8v0.8h-0.8zM104.3 35.8h0.8v0.8h-0.8zM98.5 28.5h0.8v0.8h-0.8zM101.9 31.0h0.8v0.8h-0.8zM117.4 31.7h0.8v0.8h-0.8zM101.4 34.2h0.8v0.8h-0.8zM111.8 39.8h0.8v0.8h-0.8zM103.0 33.0h0.8v0.8h-0.8zM108.7 35.3h0.8v0.8h-0.8zM107.6 37.7h0.8v0.8h-0.8zM103.4 35.5h0.8v0.8h-0.8zM107.8 28.4h0.8v0.8h-0.8zM102.6 29.6h0.8v0.8h-0.8zM106.2 33.5h0.8v0.8h-0.8zM110.0 37.1h0.8v0.8h-0.8zM113.9 39.6h0.8v0.8h-0.8zM108.9 37.2h0.8v0.8h-0.8zM97.8 29.7h0.8v0.8h-0.8zM109.8 37.2h0.8v0.8h-0.8zM104.3 33.7h0.8v0.8h-0.8zM117.3 28.7h0.8v0.8h-0.8zM101.7 38.3h0.8v0.8h-0.8zM110.1 30.8h0.8v0.8h-0.8zM104.1 35.0h0.8v0.8h-0.8zM102.2 31.6h0.8v0.8h-0.8zM117.0 39.7h0.8v0.8h-0.8zM108.2 38.2h0.8v0.8h-0.8zM117.6 35.9h0.8v0.8h-0.8zM108.9 29.9h0.8v0.8h-0.8zM99.1 37.5h0.8v0.8h-0.8zM108.9 36.1h0.8v0.8h-0.8zM112.3 31.9h0.8v0.8h-0.8zM107.1 32.4h0.8v0.8h-0.8zM101.9 28.9h0.8v0.8h-0.8zM99.2 36.4h0.8v0.8h-0.8zM107.2 29.4h0.8v0.8h-0.8zM120.1 34.5h0.8v0.8h-0.8zM109.9 34.2h0.8v0.8h-0.8zM112.0 34.1h0.8v0.8h-0.8zM105.9 33.6h0.8v0.8h-0.8zM103.7 34.4h0.8v0.8h-0.8zM99.8 30.2h0.8v0.8h-0.8zM101.0 33.7h0.8v0.8h-0.8zM108.4 30.2h0.8v0.8h-0.8zM96.5 33.6h0.8v0.8h-0.8zM108.6 34.0h0.8v0.8h-0.8zM105.6 31.7h0.8v0.8h-0.8zM113.9 34.8h0.8v0.8h-0.8zM106.6 32.6h0.8v0.8h-0.8zM99.9 28.4h0.8v0.8h-0.8zM111.3 34.6h0.8v0.8h-0.8zM100.2 35.2h0.8v0.8h-0.8zM101.7 25.4h0.8v0.8h-0.8zM102.3 34.7h0.8v0.8h-0.8zM101.5 30.7h0.8v0.8h-0.8zM102.0 36.8h0.8v0.8h-0.8zM95.6 33.6h0.8v0.8h-0.8zM113.6 34.4h0.8v0.8h-0.8zM101.4 35.0h0.8v0.8h-0.8zM93.8 31.8h0.8v0.8h-0.8zM111.9 31.8h0.8v0.8h-0.8zM101.7 30.4h0.8v0.8h-0.8zM112.1 31.1h0.8v0.8h-0.8zM98.0 33.7h0.8v0.8h-0.8zM107.2 36.7h0.8v0.8h-0.8zM101.5 29.7h0.8v0.8h-0.8zM100.3 33.9h0.8v0.8h-0.8zM118.4 30.5h0.8v0.8h-0.8zM103.7 35.1h0.8v0.8h-0.8zM107.5 30.2h0.8v0.8h-0.8zM104.5 27.0h0.8v0.8h-0.8zM102.1 32.7h0.8v0.8h-0.8zM105.8 31.3h0.8v0.8h-0.8zM101.0 24.9h0.8v0.8h-0.8zM110.5 36.0h0.8v0.8h-0.8zM109.2 39.1h0.8v0.8h-0.8zM103.0 30.6h0.8v0.8h-0.8zM98.6 32.7h0.8v0.8h-0.8zM102.0 31.1h0.8v0.8h-0.8zM108.8 36.4h0.8v0.8h-0.8zM104.9 30.9h0.8v0.8h-0.8zM110.5 36.4h0.8v0.8h-0.8zM94.7 29.7h0.8v0.8h-0.8zM113.5 36.7h0.8v0.8h-0.8zM95.5 33.0h0.8v0.8h-0.8zM101.8 34.3h0.8v0.8h-0.8zM99.4 29.3h0.8v0.8h-0.8zM101.4 31.8h0.8v0.8h-0.8zM107.3 33.8h0.8v0.8h-0.8zM106.7 31.1h0.8v0.8h-0.8zM107.0 30.5h0.8v0.8h-0.8zM95.9 35.3h0.8v0.8h-0.8zM107.2 39.5h0.8v0.8h-0.8zM97.2 34.7h0.8v0.8h-0.8zM108.4 34.8h0.8v0.8h-0.8zM101.2 38.2h0.8v0.8h-0.8zM106.4 31.8h0.8v0.8h-0.8zM90.7 37.3h0.8v0.8h-0.8zM103.5 30.3h0.8v0.8h-0.8zM101.8 37.3h0.8v0.8h-0.8zM100.3 36.2h0.8v0.8h-0.8zM104.5 37.6h0.8v0.8h-0.8zM109.0 32.4h0.8v0.8h-0.8zM108.4 31.7h0.8v0.8h-0.8zM93.8 26.7h0.8v0.8h-0.8zM104.0 30.1h0.8v0.8h-0.8zM112.8 34.7h0.8v0.8h-0.8zM114.8 34.2h0.8v0.8h-0.8zM91.2 32.0h0.8v0.8h-0.8zM102.7 30.4h0.8v0.8h-0.8zM102.7 28.1h0.8v0.8h-0.8zM104.1 33.1h0.8v0.8h-0.8zM92.0 32.1h0.8v0.8h-0.8zM107.7 31.8h0.8v0.8h-0.8zM112.5 36.9h0.8v0.8h-0.8zM96.6 31.5h0.8v0.8h-0.8zM101.1 31.9h0.8v0.8h-0.8zM102.8 35.0h0.8v0.8h-0.8zM114.4 31.6h0.8v0.8h-0.8zM100.2 26.3h0.8v0.8h-0.8zM105.5 32.3h0.8v0.8h-0.8zM111.1 34.2h0.8v0.8h-0.8zM103.4 35.3h0.8v0.8h-0.8zM121.1 40.9h0.8v0.8h-0.8zM108.1 37.5h0.8v0.8h-0.8zM106.4 31.5h0.8v0.8h-0.8zM104.9 44.8h0.8v0.8h-0.8zM95.9 31.5h0.8v0.8h-0.8zM103.7 37.4h0.8v0.8h-0.8zM101.8 33.5h0.8v0.8h-0.8zM107.0 29.8h0.8v0.8h-0.8zM100.5 37.0h0.8v0.8h-0.8zM91.8 30.4h0.8v0.8h-0.8zM101.5 33.0h0.8v0.8h-0.8zM97.7 32.5h0.8v0.8h-0.8zM110.0 27.9h0.8v0.8h-0.8zM101.0 33.7h0.8v0.8h-0.8zM98.7 30.9h0.8v0.8h-0.8zM89.6 29.6h0.8v0.8h-0.8zM102.2 34.7h0.8v0.8h-0.8zM98.7 32.3h0.8v0.8h-0.8zM111.5 30.5h0.8v0.8h-0.8zM100.4 33.4h0.8v0.8h-0.8zM103.6 30.4h0.8v0.8h-0.8zM104.6 34.2h0.8v0.8h-0.8zM102.1 28.0h0.8v0.8h-0.8zM109.7 40.1h0.8v0.8h-0.8zM108.0 33.4h0.8v0.8h-0.8zM108.4 28.4h0.8v0.8h-0.8zM112.0 35.4h0.8v0.8h-0.8zM109.0 41.1h0.8v0.8h-0.8zM115.4 27.4h0.8v0.8h-0.8zM108.3 29.4h0.8v0.8h-0.8zM97.1 31.2h0.8v0.8h-0.8zM102.7 28.2h0.8v0.8h-0.8zM101.2 35.4h0.8v0.8h-0.8zM97.8 33.6h0.8v0.8h-0.8zM102.3 33.8h0.8v0.8h-0.8zM100.0 31.5h0.8v0.8h-0.8zM102.4 31.2h0.8v0.8h-0.8zM101.3 32.1h0.8v0.8h-0.8zM109.8 31.4h0.8v0.8h-0.8zM96.9 27.1h0.8v0.8h-0.8zM114.5 36.5h0.8v0.8h-0.8zM111.9 32.3h0.8v0.8h-0.8zM107.9 41.8h0.8v0.8h-0.8zM110.0 31.3h0.8v0.8h-0.8zM107.9 34.5h0.8v0.8h-0.8zM102.9 28.0h0.8v0.8h-0.8zM102.2 40.2h0.8v0.8h-0.8zM116.4 36.5h0.8v0.8h-0.8zM100.7 33.6h0.8v0.8h-0.8zM107.5 25.2h0.8v0.8h-0.8zM98.2 31.7h0.8v0.8h-0.8zM106.4 38.0h0.8v0.8h-0.8zM120.1 34.5h0.8v0.8h-0.8zM101.6 35.7h0.8v0.8h-0.8zM101.1 40.4h0.8v0.8h-0.8zM103.5 37.0h0.8v0.8h-0.8zM101.2 27.8h0.8v0.8h-0.8zM109.6 41.3h0.8v0.8h-0.8zM107.2 33.4h0.8v0.8h-0.8zM113.8 33.0h0.8v0.8h-0.8zM113.8 32.0h0.8v0.8h-0.8zM102.3 30.2h0.8v0.8h-0.8zM108.9 38.6h0.8v0.8h-0.8zM102.4 35.1h0.8v0.8h-0.8zM99.5 31.0h0.8v0.8h-0.8zM108.6 26.4h0.8v0.8h-0.8zM101.0 32.4h0.8v0.8h-0.8zM105.9 29.6h0.8v0.8h-0.8zM101.5 35.4h0.8v0.8h-0.8zM104.9 27.7h0.8v0.8h-0.8zM110.7 33.8h0.8v0.8h-0.8zM110.6 35.3h0.8v0.8h-0.8zM99.5 30.3h0.8v0.8h-0.8zM106.8 31.2h0.8v0.8h-0.8zM98.8 36.1h0.8v0.8h-0.8zM89.0 32.1h0.8v0.8h-0.8zM111.2 35.5h0.8v0.8h-0.8zM106.9 34.3h0.8v0.8h-0.8zM97.9 31.8h0.8v0.8h-0.8zM101.7 25.6h0.8v0.8h-0.8zM98.9 33.4h0.8v0.8h-0.8zM107.1 31.9h0.8v0.8h-0.8zM96.9 30.9h0.8v0.8h-0.8zM97.8 31.0h0.8v0.8h-0.8zM105.1 34.8h0.8v0.8h-0.8zM92.8 33.3h0.8v0.8h-0.8zM104.0 33.2h0.8v0.8h-0.8zM107.5 31.5h0.8v0.8h-0.8zM93.8 37.8h0.8v0.8h-0.8zM109.6 34.5h0.8v0.8h-0.8zM112.4 37.5h0.8v0.8h-0.8zM101.1 33.6h0.8v0.8h-0.8zM110.2 36.7h0.8v0.8h-0.8zM101.6 32.6h0.8v0.8h-0.8zM101.3 28.4h0.8v0.8h-0.8zM109.4 30.5h0.8v0.8h-0.8zM104.2 39.4h0.8v0.8h-0.8zM104.8 37.6h0.8v0.8h-0.8zM105.7 32.1h0.8v0.8h-0.8zM99.0 34.9h0.8v0.8h-0.8zM96.3 36.2h0.8v0.8h-0.8zM111.2 24.9h0.8v0.8h-0.8zM104.9 29.3h0.8v0.8h-0.8zM114.6 29.0h0.8v0.8h-0.8zM109.5 33.2h0.8v0.8h-0.8zM104.8 40.8h0.8v0.8h-0.8zM113.0 34.1h0.8v0.8h-0.8zM113.5 30.6h0.8v0.8h-0.8zM104.9 35.0h0.8v0.8h-0.8zM113.1 38.3h0.8v0.8h-0.8zM110.9 37.4h0.8v0.8h-0.8zM105.5 36.8h0.8v0.8h-0.8zM102.0 32.2h0.8v0.8h-0.8zM102.9 28.5h0.8v0.8h-0.8zM113.6 32.9h0.8v0.8h-0.8zM97.2 30.1h0.8v0.8h-0.8zM108.7 39.8h0.8v0.8h-0.8zM105.2 33.5h0.8v0.8h-0.8zM112.0 34.3h0.8v0.8h-0.8zM101.8 33.0h0.8v0.8h-0.8zM100.6 34.3h0.8v0.8h-0.8zM98.7 35.9h0.8v0.8h-0.8zM106.0 36.7h0.8v0.8h-0.8zM94.2 33.6h0.8v0.8h-0.8zM113.0 34.8h0.8v0.8h-0.8zM105.9 42.8h0.8v0.8h-0.8zM101.2 29.2h0.8v0.8h-0.8zM106.2 38.8h0.8v0.8h-0.8zM112.9 32.4h0.8v0.8h-0.8zM105.6 33.0h0.8v0.8h-0.8zM109.2 34.3h0.8v0.8h-0.8zM114.5 32.2h0.8v0.8h-0.8zM109.4 32.7h0.8v0.8h-0.8zM107.4 33.6h0.8v0.8h-0.8zM107.9 32.2h0.8v0.8h-0.8zM103.1 36.5h0.8v0.8h-0.8zM100.0 28.8h0.8v0.8h-0.8zM103.9 36.0h0.8v0.8h-0.8zM107.1 35.2h0.8v0.8h-0.8zM106.9 34.9h0.8v0.8h-0.8zM114.9 35.9h0.8v0.8h-0.8zM108.9 31.1h0.8v0.8h-0.8zM107.2 37.1h0.8v0.8h-0.8zM99.7 33.8h0.8v0.8h-0.8zM100.4 31.5h0.8v0.8h-0.8zM113.9 27.5h0.8v0.8h-0.8zM105.9 32.9h0.8v0.8h-0.8zM105.4 33.6h0.8v0.8h-0.8zM98.4 29.5h0.8v0.8h-0.8zM109.9 40.7h0.8v0.8h-0.8zM101.0 31.9h0.8v0.8h-0.8zM118.6 31.5h0.8v0.8h-0.8zM107.9 33.3h0.8v0.8h-0.8zM104.6 32.5h0.8v0.8h-0.8zM99.0 28.6h0.8v0.8h-0.8zM107.7 31.1h0.8v0.8h-0.8zM100.9 33.6h0.8v0.8h-0.8zM100.8 33.2h0.8v0.8h-0.8zM82.3 33.9h0.8v0.8h-0.8zM110.4 33.8h0.8v0.8h-0.8zM108.0 36.3h0.8v0.8h-0.8zM99.6 34.2h0.8v0.8h-0.8zM107.0 31.1h0.8v0.8h-0.8zM95.4 36.5h0.8v0.8h-0.8zM123.8 35.2h0.8v0.8h-0.8zM111.0 32.5h0.8v0.8h-0.8zM95.5 28.5h0.8v0.8h-0.8zM111.3 42.7h0.8v0.8h-0.8zM108.6 32.9h0.8v0.8h-0.8zM98.7 31.0h0.8v0.8h-0.8zM105.3 34.3h0.8v0.8h-0.8zM97.3 27.0h0.8v0.8h-0.8zM110.7 33.5h0.8v0.8h-0.8zM100.1 30.7h0.8v0.8h-0.8zM102.8 31.4h0.8v0.8h-0.8zM107.6 38.2h0.8v0.8h-0.8zM106.0 44.2h0.8v0.8h-0.8zM102.9 37.3h0.8v0.8h-0.8zM101.4 27.6h0.8v0.8h-0.8zM114.9 36.1h0.8v0.8h-0.8zM112.5 32.1h0.8v0.8h-0.8zM107.9 30.4h0.8v0.8h-0.8zM97.9 35.6h0.8v0.8h-0.8zM104.2 35.4h0.8v0.8h-0.8zM110.8 37.1h0.8v0.8h-0.8zM110.3 39.5h0.8v0.8h-0.8zM109.8 31.9h0.8v0.8h-0.8zM98.1 35.2h0.8v0.8h-0.8zM111.2 36.2h0.8v0.8h-0.8zM105.5 33.6h0.8v0.8h-0.8zM101.5 35.4h0.8v0.8h-0.8zM99.0 34.7h0.8v0.8h-0.8zM103.5 33.0h0.8v0.8h-0.8zM96.5 29.9h0.8v0.8h-0.8zM93.0 40.3h0.8v0.8h-0.8zM92.1 31.9h0.8v0.8h-0.8zM92.1 36.5h0.8v0.8h-0.8zM97.8 44.7h0.8v0.8h-0.8zM104.0 35.5h0.8v0.8h-0.8zM113.9 26.3h0.8v0.8h-0.8zM103.5 34.9h0.8v0.8h-0.8zM101.0 34.2h0.8v0.8h-0.8zM117.7 35.9h0.8v0.8h-0.8zM98.0 38.5h0.8v0.8h-0.8zM111.6 30.9h0.8v0.8h-0.8zM109.9 31.6h0.8v0.8h-0.8zM115.7 32.0h0.8v0.8h-0.8zM96.0 28.9h0.8v0.8h-0.8zM117.2 33.5h0.8v0.8h-0.8zM108.4 36.2h0.8v0.8h-0.8zM110.2 33.3h0.8v0.8h-0.8zM111.0 30.5h0.8v0.8h-0.8zM103.2 33.7h0.8v0.8h-0.8zM105.7 35.4h0.8v0.8h-0.8zM110.6 34.0h0.8v0.8h-0.8zM103.9 37.6h0.8v0.8h-0.8zM117.4 33.3h0.8v0.8h-0.8zM102.9 31.2h0.8v0.8h-0.8zM104.8 35.9h0.8v0.8h-0.8zM103.1 27.1h0.8v0.8h-0.8zM101.4 33.9h0.8v0.8h-0.8zM97.2 32.9h0.8v0.8h-0.8zM112.3 37.9h0.8v0.8h-0.8zM113.7 34.2h0.8v0.8h-0.8zM106.6 36.4h0.8v0.8h-0.8zM100.0 31.5h0.8v0.8h-0.8zM110.1 33.7h0.8v0.8h-0.8zM108.8 37.2h0.8v0.8h-0.8zM102.8 38.3h0.8v0.8h-0.8zM89.6 29.0h0.8v0.8h-0.8zM109.1 35.5h0.8v0.8h-0.8zM103.1 32.0h0.8v0.8h-0.8zM115.4 43.5h0.8v0.8h-0.8zM105.4 29.3h0.8v0.8h-0.8zM120.0 39.8h0.8v0.8h-0.8zM103.5 33.3h0.8v0.8h-0.8zM112.0 33.7h0.8v0.8h-0.8zM108.7 24.8h0.8v0.8h-0.8zM88.7 33.6h0.8v0.8h-0.8zM108.0 30.2h0.8v0.8h-0.8zM108.6 42.5h0.8v0.8h-0.8zM103.5 28.5h0.8v0.8h-0.8zM99.8 34.8h0.8v0.8h-0.8zM102.3 32.7h0.8v0.8h-0.8zM106.5 34.3h0.8v0.8h-0.8zM107.3 28.5h0.8v0.8h-0.8zM111.8 34.0h0.8v0.8h-0.8zM115.6 33.9h0.8v0.8h-0.8zM107.3 36.3h0.8v0.8h-0.8zM104.7 32.3h0.8v0.8h-0.8zM107.3 35.2h0.8v0.8h-0.8zM100.0 29.1h0.8v0.8h-0.8zM115.4 31.6h0.8v0.8h-0.8zM120.2 31.9h0.8v0.8h-0.8zM100.1 36.5h0.8v0.8h-0.8zM96.0 32.9h0.8v0.8h-0.8zM104.8 31.3h0.8v0.8h-0.8zM108.7 34.8h0.8v0.8h-0.8zM99.7 34.5h0.8v0.8h-0.8zM118.1 36.3h0.8v0.8h-0.8zM105.7 31.3h0.8v0.8h-0.8zM104.4 36.6h0.8v0.8h-0.8zM104.9 30.8h0.8v0.8h-0.8zM84.9 29.4h0.8v0.8h-0.8zM102.3 37.7h0.8v0.8h-0.8zM110.2 43.9h0.8v0.8h-0.8zM106.9 44.2h0.8v0.8h-0.8zM115.1 44.6h0.8v0.8h-0.8zM109.8 39.2h0.8v0.8h-0.8zM100.5 52.6h0.8v0.8h-0.8zM107.0 67.7h0.8v0.8h-0.8zM109.1 49.4h0.8v0.8h-0.8zM104.9 43.8h0.8v0.8h-0.8zM104.9 51.7h0.8v0.8h-0.8zM113.5 52.4h0.8v0.8h-0.8zM101.6 43.0h0.8v0.8h-0.8zM109.9 50.5h0.8v0.8h-0.8zM104.4 58.1h0.8v0.8h-0.8zM110.7 30.3h0.8v0.8h-0.8zM114.8 57.9h0.8v0.8h-0.8zM110.2 42.9h0.8v0.8h-0.8zM101.6 61.3h0.8v0.8h-0.8zM114.6 61.1h0.8v0.8h-0.8zM110.8 56.9h0.8v0.8h-0.8zM107.7 58.6h0.8v0.8h-0.8zM104.0 39.0h0.8v0.8h-0.8zM104.9 50.4h0.8v0.8h-0.8zM107.3 61.2h0.8v0.8h-0.8zM101.3 51.2h0.8v0.8h-0.8zM105.8 55.5h0.8v0.8h-0.8zM102.3 65.8h0.8v0.8h-0.8zM106.9 54.8h0.8v0.8h-0.8zM115.0 48.1h0.8v0.8h-0.8zM105.5 60.6h0.8v0.8h-0.8zM106.5 64.5h0.8v0.8h-0.8zM101.9 59.4h0.8v0.8h-0.8zM107.1 48.9h0.8v0.8h-0.8zM101.9 49.2h0.8v0.8h-0.8zM107.4 34.7h0.8v0.8h-0.8zM108.8 57.3h0.8v0.8h-0.8zM102.2 49.1h0.8v0.8h-0.8zM106.1 49.5h0.8v0.8h-0.8zM108.8 45.3h0.8v0.8h-0.8zM110.1 53.3h0.8v0.8h-0.8zM105.0 49.7h0.8v0.8h-0.8zM107.1 50.1h0.8v0.8h-0.8zM106.2 37.1h0.8v0.8h-0.8zM99.7 37.3h0.8v0.8h-0.8zM105.4 44.5h0.8v0.8h-0.8zM107.5 58.1h0.8v0.8h-0.8zM114.4 56.2h0.8v0.8h-0.8zM110.0 52.8h0.8v0.8h-0.8zM111.3 45.4h0.8v0.8h-0.8zM108.7 52.3h0.8v0.8h-0.8zM104.1 41.8h0.8v0.8h-0.8zM108.5 45.7h0.8v0.8h-0.8zM102.9 61.9h0.8v0.8h-0.8zM107.0 48.5h0.8v0.8h-0.8zM108.7 72.3h0.8v0.8h-0.8zM111.1 46.8h0.8v0.8h-0.8zM110.0 41.7h0.8v0.8h-0.8zM115.6 36.2h0.8v0.8h-0.8zM106.6 51.4h0.8v0.8h-0.8zM107.1 39.9h0.8v0.8h-0.8zM105.5 52.6h0.8v0.8h-0.8zM107.7 62.5h0.8v0.8h-0.8zM109.5 52.5h0.8v0.8h-0.8zM107.5 64.1h0.8v0.8h-0.8zM109.6 52.3h0.8v0.8h-0.8zM101.4 57.7h0.8v0.8h-0.8zM108.5 62.2h0.8v0.8h-0.8zM107.9 45.3h0.8v0.8h-0.8zM104.4 34.7h0.8v0.8h-0.8zM113.9 53.2h0.8v0.8h-0.8zM109.9 51.0h0.8v0.8h-0.8zM111.7 49.0h0.8v0.8h-0.8zM110.1 48.2h0.8v0.8h-0.8zM104.4 49.1h0.8v0.8h-0.8zM105.4 43.1h0.8v0.8h-0.8zM121.7 61.6h0.8v0.8h-0.8zM105.4 50.2h0.8v0.8h-0.8zM110.6 56.6h0.8v0.8h-0.8zM115.8 46.7h0.8v0.8h-0.8zM112.6 59.6h0.8v0.8h-0.8zM109.0 52.5h0.8v0.8h-0.8zM103.4 61.0h0.8v0.8h-0.8zM108.4 44.7h0.8v0.8h-0.8zM114.3 38.4h0.8v0.8h-0.8zM106.5 46.5h0.8v0.8h-0.8zM114.6 54.6h0.8v0.8h-0.8zM105.4 51.8h0.8v0.8h-0.8zM109.0 43.5h0.8v0.8h-0.8zM117.6 46.3h0.8v0.8h-0.8zM96.5 64.0h0.8v0.8h-0.8zM109.4 43.6h0.8v0.8h-0.8zM101.6 73.3h0.8v0.8h-0.8zM113.1 47.8h0.8v0.8h-0.8zM108.4 45.7h0.8v0.8h-0.8zM110.9 47.3h0.8v0.8h-0.8zM108.0 42.1h0.8v0.8h-0.8zM111.7 38.7h0.8v0.8h-0.8zM108.7 57.5h0.8v0.8h-0.8zM108.6 52.3h0.8v0.8h-0.8zM108.9 48.6h0.8v0.8h-0.8zM108.4 55.3h0.8v0.8h-0.8zM106.6 46.7h0.8v0.8h-0.8zM110.1 47.8h0.8v0.8h-0.8zM116.4 53.0h0.8v0.8h-0.8zM108.7 50.4h0.8v0.8h-0.8zM108.6 46.3h0.8v0.8h-0.8zM104.9 48.2h0.8v0.8h-0.8zM114.9 53.1h0.8v0.8h-0.8zM105.5 44.4h0.8v0.8h-0.8zM109.5 51.6h0.8v0.8h-0.8zM106.6 63.8h0.8v0.8h-0.8zM105.3 50.9h0.8v0.8h-0.8zM106.2 44.2h0.8v0.8h-0.8zM109.7 41.8h0.8v0.8h-0.8zM106.9 61.5h0.8v0.8h-0.8zM113.3 45.3h0.8v0.8h-0.8zM114.2 49.6h0.8v0.8h-0.8zM106.3 25.8h0.8v0.8h-0.8zM105.8 42.8h0.8v0.8h-0.8zM113.1 58.8h0.8v0.8h-0.8zM112.0 50.0h0.8v0.8h-0.8zM108.9 41.6h0.8v0.8h-0.8zM101.6 50.8h0.8v0.8h-0.8zM106.2 60.0h0.8v0.8h-0.8zM105.6 55.8h0.8v0.8h-0.8zM110.9 53.2h0.8v0.8h-0.8zM106.5 51.9h0.8v0.8h-0.8zM109.5 57.2h0.8v0.8h-0.8zM108.4 48.0h0.8v0.8h-0.8zM107.0 51.2h0.8v0.8h-0.8zM115.8 59.6h0.8v0.8h-0.8zM107.7 47.3h0.8v0.8h-0.8zM102.7 43.7h0.8v0.8h-0.8zM106.3 62.2h0.8v0.8h-0.8zM103.2 55.2h0.8v0.8h-0.8zM110.0 46.0h0.8v0.8h-0.8zM109.6 56.1h0.8v0.8h-0.8zM109.5 55.5h0.8v0.8h-0.8zM115.7 60.5h0.8v0.8h-0.8zM108.3 57.0h0.8v0.8h-0.8zM106.0 42.7h0.8v0.8h-0.8zM114.0 48.6h0.8v0.8h-0.8zM104.5 38.1h0.8v0.8h-0.8zM111.3 42.4h0.8v0.8h-0.8zM100.8 46.0h0.8v0.8h-0.8zM108.6 33.3h0.8v0.8h-0.8zM111.9 36.9h0.8v0.8h-0.8zM104.4 61.6h0.8v0.8h-0.8zM108.3 48.7h0.8v0.8h-0.8zM102.7 38.5h0.8v0.8h-0.8zM107.9 46.0h0.8v0.8h-0.8zM101.0 54.5h0.8v0.8h-0.8zM108.0 53.8h0.8v0.8h-0.8zM106.3 49.3h0.8v0.8h-0.8zM115.0 60.5h0.8v0.8h-0.8zM107.4 47.5h0.8v0.8h-0.8zM105.9 37.4h0.8v0.8h-0.8zM108.2 57.8h0.8v0.8h-0.8zM108.0 54.8h0.8v0.8h-0.8zM111.0 52.4h0.8v0.8h-0.8zM101.0 59.0h0.8v0.8h-0.8zM96.7 50.4h0.8v0.8h-0.8zM106.2 52.0h0.8v0.8h-0.8zM114.3 46.1h0.8v0.8h-0.8zM113.1 54.8h0.8v0.8h-0.8zM115.5 57.2h0.8v0.8h-0.8zM107.3 49.8h0.8v0.8h-0.8zM118.1 50.6h0.8v0.8h-0.8zM108.4 48.0h0.8v0.8h-0.8zM112.8 64.1h0.8v0.8h-0.8zM115.2 47.1h0.8v0.8h-0.8zM114.5 56.0h0.8v0.8h-0.8zM111.9 57.3h0.8v0.8h-0.8zM113.8 45.0h0.8v0.8h-0.8zM108.5 45.7h0.8v0.8h-0.8zM107.7 61.9h0.8v0.8h-0.8zM108.6 53.1h0.8v0.8h-0.8zM110.9 53.3h0.8v0.8h-0.8zM105.7 38.6h0.8v0.8h-0.8zM101.8 71.0h0.8v0.8h-0.8zM111.4 46.1h0.8v0.8h-0.8zM104.2 35.6h0.8v0.8h-0.8zM114.3 44.4h0.8v0.8h-0.8zM110.6 44.0h0.8v0.8h-0.8zM108.2 46.3h0.8v0.8h-0.8zM102.1 42.1h0.8v0.8h-0.8zM102.8 48.1h0.8v0.8h-0.8zM108.9 50.4h0.8v0.8h-0.8zM114.8 55.3h0.8v0.8h-0.8zM104.8 65.0h0.8v0.8h-0.8zM114.8 44.9h0.8v0.8h-0.8zM106.9 51.6h0.8v0.8h-0.8zM106.5 61.8h0.8v0.8h-0.8zM107.8 60.5h0.8v0.8h-0.8zM108.6 63.7h0.8v0.8h-0.8zM113.1 59.1h0.8v0.8h-0.8zM106.1 66.7h0.8v0.8h-0.8zM102.7 48.9h0.8v0.8h-0.8zM105.7 36.6h0.8v0.8h-0.8zM113.5 53.2h0.8v0.8h-0.8zM115.9 47.8h0.8v0.8h-0.8zM112.1 53.4h0.8v0.8h-0.8zM103.4 50.0h0.8v0.8h-0.8zM108.1 66.3h0.8v0.8h-0.8zM107.6 62.1h0.8v0.8h-0.8zM108.1 57.3h0.8v0.8h-0.8zM107.7 48.9h0.8v0.8h-0.8zM104.0 58.4h0.8v0.8h-0.8zM111.9 43.0h0.8v0.8h-0.8zM108.8 45.3h0.8v0.8h-0.8zM106.9 39.8h0.8v0.8h-0.8zM109.3 61.8h0.8v0.8h-0.8zM107.0 53.9h0.8v0.8h-0.8zM101.4 53.2h0.8v0.8h-0.8zM109.2 37.1h0.8v0.8h-0.8zM112.7 35.7h0.8v0.8h-0.8zM104.1 59.7h0.8v0.8h-0.8zM97.7 32.7h0.8v0.8h-0.8zM108.2 54.6h0.8v0.8h-0.8zM110.9 63.8h0.8v0.8h-0.8zM112.7 65.6h0.8v0.8h-0.8zM107.2 43.3h0.8v0.8h-0.8zM106.7 44.3h0.8v0.8h-0.8zM107.2 47.2h0.8v0.8h-0.8zM106.9 64.1h0.8v0.8h-0.8zM105.3 41.1h0.8v0.8h-0.8zM105.8 47.6h0.8v0.8h-0.8zM106.6 50.3h0.8v0.8h-0.8zM112.6 61.6h0.8v0.8h-0.8zM111.9 44.7h0.8v0.8h-0.8zM109.1 64.4h0.8v0.8h-0.8zM109.7 44.1h0.8v0.8h-0.8zM109.7 51.1h0.8v0.8h-0.8zM116.2 41.9h0.8v0.8h-0.8zM110.5 50.0h0.8v0.8h-0.8zM108.8 46.5h0.8v0.8h-0.8zM102.2 31.6h0.8v0.8h-0.8zM111.2 29.5h0.8v0.8h-0.8zM101.6 39.8h0.8v0.8h-0.8zM107.1 62.3h0.8v0.8h-0.8zM112.7 50.3h0.8v0.8h-0.8zM110.0 56.4h0.8v0.8h-0.8zM101.1 58.4h0.8v0.8h-0.8zM114.5 63.5h0.8v0.8h-0.8zM101.2 69.2h0.8v0.8h-0.8zM105.9 44.6h0.8v0.8h-0.8zM111.7 67.4h0.8v0.8h-0.8zM111.3 68.0h0.8v0.8h-0.8zM103.1 46.7h0.8v0.8h-0.8zM113.9 46.8h0.8v0.8h-0.8zM101.1 44.9h0.8v0.8h-0.8zM114.2 54.5h0.8v0.8h-0.8zM114.8 73.9h0.8v0.8h-0.8zM102.0 61.4h0.8v0.8h-0.8zM106.9 48.9h0.8v0.8h-0.8zM105.0 53.7h0.8v0.8h-0.8zM114.0 59.1h0.8v0.8h-0.8zM107.5 53.3h0.8v0.8h-0.8zM110.2 53.8h0.8v0.8h-0.8zM105.6 59.5h0.8v0.8h-0.8zM109.4 65.2h0.8v0.8h-0.8zM111.2 50.4h0.8v0.8h-0.8zM111.7 45.7h0.8v0.8h-0.8zM111.4 71.4h0.8v0.8h-0.8zM106.8 54.1h0.8v0.8h-0.8zM113.8 65.3h0.8v0.8h-0.8zM111.7 38.2h0.8v0.8h-0.8zM103.5 46.3h0.8v0.8h-0.8zM105.8 51.5h0.8v0.8h-0.8zM104.1 62.8h0.8v0.8h-0.8zM104.1 40.6h0.8v0.8h-0.8zM110.8 50.6h0.8v0.8h-0.8zM105.1 42.3h0.8v0.8h-0.8zM106.9 37.9h0.8v0.8h-0.8zM116.6 42.3h0.8v0.8h-0.8zM105.7 69.5h0.8v0.8h-0.8zM110.2 53.1h0.8v0.8h-0.8zM106.6 47.1h0.8v0.8h-0.8zM107.7 57.7h0.8v0.8h-0.8zM108.2 49.2h0.8v0.8h-0.8zM108.0 63.1h0.8v0.8h-0.8zM109.6 55.3h0.8v0.8h-0.8zM108.0 58.4h0.8v0.8h-0.8zM105.5 47.6h0.8v0.8h-0.8zM109.1 54.0h0.8v0.8h-0.8zM109.2 49.6h0.8v0.8h-0.8zM112.8 73.0h0.8v0.8h-0.8zM112.7 35.1h0.8v0.8h-0.8zM104.5 53.4h0.8v0.8h-0.8zM108.8 64.0h0.8v0.8h-0.8zM106.5 61.2h0.8v0.8h-0.8zM107.9 61.5h0.8v0.8h-0.8zM112.2 60.4h0.8v0.8h-0.8zM109.4 41.5h0.8v0.8h-0.8zM108.5 56.2h0.8v0.8h-0.8zM108.7 35.8h0.8v0.8h-0.8zM113.0 48.8h0.8v0.8h-0.8zM111.8 42.1h0.8v0.8h-0.8zM118.6 52.6h0.8v0.8h-0.8zM111.8 42.6h0.8v0.8h-0.8zM104.4 47.3h0.8v0.8h-0.8zM111.4 61.5h0.8v0.8h-0.8zM102.6 61.7h0.8v0.8h-0.8zM110.2 41.0h0.8v0.8h-0.8zM113.3 44.0h0.8v0.8h-0.8zM108.8 67.0h0.8v0.8h-0.8zM108.6 52.3h0.8v0.8h-0.8zM108.2 49.4h0.8v0.8h-0.8zM110.1 49.8h0.8v0.8h-0.8zM106.3 49.1h0.8v0.8h-0.8zM105.9 49.4h0.8v0.8h-0.8zM110.6 51.2h0.8v0.8h-0.8zM103.1 70.9h0.8v0.8h-0.8zM107.5 39.6h0.8v0.8h-0.8zM108.3 52.3h0.8v0.8h-0.8zM102.2 69.2h0.8v0.8h-0.8zM103.4 50.9h0.8v0.8h-0.8zM110.4 49.2h0.8v0.8h-0.8zM111.8 38.8h0.8v0.8h-0.8zM103.9 44.6h0.8v0.8h-0.8zM104.9 37.3h0.8v0.8h-0.8zM111.4 45.1h0.8v0.8h-0.8zM108.6 37.9h0.8v0.8h-0.8zM107.9 59.6h0.8v0.8h-0.8zM106.1 59.1h0.8v0.8h-0.8zM107.4 55.8h0.8v0.8h-0.8zM108.4 71.5h0.8v0.8h-0.8zM110.0 49.2h0.8v0.8h-0.8zM107.5 47.3h0.8v0.8h-0.8zM112.1 54.9h0.8v0.8h-0.8zM108.4 46.6h0.8v0.8h-0.8zM111.2 50.3h0.8v0.8h-0.8zM110.5 59.3h0.8v0.8h-0.8zM115.7 54.0h0.8v0.8h-0.8zM114.6 43.8h0.8v0.8h-0.8zM102.7 57.2h0.8v0.8h-0.8zM103.0 53.5h0.8v0.8h-0.8zM100.4 51.3h0.8v0.8h-0.8zM105.7 58.7h0.8v0.8h-0.8zM106.5 67.0h0.8v0.8h-0.8zM103.1 52.8h0.8v0.8h-0.8zM108.6 50.9h0.8v0.8h-0.8zM118.6 56.0h0.8v0.8h-0.8zM112.4 66.7h0.8v0.8h-0.8zM107.2 49.2h0.8v0.8h-0.8zM105.0 49.5h0.8v0.8h-0.8zM108.7 58.2h0.8v0.8h-0.8zM107.9 56.9h0.8v0.8h-0.8zM115.8 55.1h0.8v0.8h-0.8zM112.5 55.2h0.8v0.8h-0.8zM107.6 44.7h0.8v0.8h-0.8zM110.5 48.8h0.8v0.8h-0.8zM106.2 55.2h0.8v0.8h-0.8zM109.4 55.6h0.8v0.8h-0.8zM107.9 38.4h0.8v0.8h-0.8zM105.9 63.4h0.8v0.8h-0.8zM112.1 62.3h0.8v0.8h-0.8zM110.7 54.1h0.8v0.8h-0.8zM111.3 45.3h0.8v0.8h-0.8zM103.7 40.2h0.8v0.8h-0.8zM104.8 57.9h0.8v0.8h-0.8zM111.3 70.8h0.8v0.8h-0.8zM113.2 60.8h0.8v0.8h-0.8zM108.9 49.3h0.8v0.8h-0.8zM109.2 57.2h0.8v0.8h-0.8zM113.9 66.9h0.8v0.8h-0.8zM114.1 54.7h0.8v0.8h-0.8zM112.1 53.5h0.8v0.8h-0.8zM108.0 54.5h0.8v0.8h-0.8zM105.7 44.7h0.8v0.8h-0.8zM110.7 53.3h0.8v0.8h-0.8zM106.2 33.8h0.8v0.8h-0.8zM108.6 58.1h0.8v0.8h-0.8zM104.3 43.1h0.8v0.8h-0.8zM103.4 68.2h0.8v0.8h-0.8zM112.0 49.5h0.8v0.8h-0.8zM110.5 34.5h0.8v0.8h-0.8zM112.0 38.4h0.8v0.8h-0.8zM105.2 76.9h0.8v0.8h-0.8zM110.2 51.9h0.8v0.8h-0.8zM110.7 47.3h0.8v0.8h-0.8zM106.2 46.3h0.8v0.8h-0.8zM108.2 45.2h0.8v0.8h-0.8zM112.9 56.6h0.8v0.8h-0.8zM104.5 51.8h0.8v0.8h-0.8zM106.5 48.3h0.8v0.8h-0.8zM110.9 48.9h0.8v0.8h-0.8zM109.1 51.2h0.8v0.8h-0.8zM108.4 53.0h0.8v0.8h-0.8zM111.4 48.1h0.8v0.8h-0.8zM108.2 51.7h0.8v0.8h-0.8zM105.4 42.5h0.8v0.8h-0.8zM110.6 46.9h0.8v0.8h-0.8zM110.7 36.4h0.8v0.8h-0.8zM105.9 53.6h0.8v0.8h-0.8zM110.2 44.5h0.8v0.8h-0.8zM100.9 54.6h0.8v0.8h-0.8zM104.6 46.2h0.8v0.8h-0.8zM106.1 51.7h0.8v0.8h-0.8zM106.8 56.5h0.8v0.8h-0.8zM113.4 49.5h0.8v0.8h-0.8zM106.5 50.2h0.8v0.8h-0.8zM103.5 52.8h0.8v0.8h-0.8zM107.7 37.8h0.8v0.8h-0.8zM102.6 47.2h0.8v0.8h-0.8zM111.7 60.3h0.8v0.8h-0.8zM106.5 54.2h0.8v0.8h-0.8zM106.1 50.4h0.8v0.8h-0.8zM103.2 60.1h0.8v0.8h-0.8zM108.7 54.5h0.8v0.8h-0.8zM110.4 41.7h0.8v0.8h-0.8zM115.8 48.5h0.8v0.8h-0.8zM108.9 62.6h0.8v0.8h-0.8zM105.6 48.8h0.8v0.8h-0.8zM109.4 45.5h0.8v0.8h-0.8zM111.6 38.9h0.8v0.8h-0.8zM108.3 58.3h0.8v0.8h-0.8zM118.0 58.2h0.8v0.8h-0.8zM115.5 54.3h0.8v0.8h-0.8zM105.9 49.5h0.8v0.8h-0.8zM101.4 61.4h0.8v0.8h-0.8zM109.0 60.6h0.8v0.8h-0.8zM108.6 47.7h0.8v0.8h-0.8zM113.5 52.7h0.8v0.8h-0.8zM109.7 59.5h0.8v0.8h-0.8zM104.6 50.2h0.8v0.8h-0.8zM98.4 54.4h0.8v0.8h-0.8zM109.0 60.7h0.8v0.8h-0.8zM109.9 36.9h0.8v0.8h-0.8zM106.2 44.1h0.8v0.8h-0.8zM104.6 36.1h0.8v0.8h-0.8zM108.2 53.5h0.8v0.8h-0.8zM105.7 54.8h0.8v0.8h-0.8zM102.9 57.4h0.8v0.8h-0.8zM97.7 47.4h0.8v0.8h-0.8zM106.1 49.3h0.8v0.8h-0.8zM110.6 50.0h0.8v0.8h-0.8zM104.4 64.0h0.8v0.8h-0.8zM100.5 50.2h0.8v0.8h-0.8zM114.5 68.0h0.8v0.8h-0.8zM113.5 55.8h0.8v0.8h-0.8zM106.4 59.8h0.8v0.8h-0.8zM113.5 58.1h0.8v0.8h-0.8zM108.5 59.2h0.8v0.8h-0.8zM117.7 48.0h0.8v0.8h-0.8zM110.8 54.3h0.8v0.8h-0.8zM110.5 39.2h0.8v0.8h-0.8zM105.2 54.4h0.8v0.8h-0.8zM109.1 63.6h0.8v0.8h-0.8zM110.7 57.7h0.8v0.8h-0.8zM109.3 45.6h0.8v0.8h-0.8zM104.8 64.7h0.8v0.8h-0.8zM104.4 42.9h0.8v0.8h-0.8zM107.0 58.8h0.8v0.8h-0.8zM113.2 54.4h0.8v0.8h-0.8zM113.8 41.5h0.8v0.8h-0.8zM107.8 52.3h0.8v0.8h-0.8zM111.1 65.7h0.8v0.8h-0.8zM107.6 40.2h0.8v0.8h-0.8zM109.2 45.0h0.8v0.8h-0.8zM106.9 47.8h0.8v0.8h-0.8zM102.2 61.0h0.8v0.8h-0.8zM107.7 54.6h0.8v0.8h-0.8zM99.2 55.4h0.8v0.8h-0.8zM106.4 43.5h0.8v0.8h-0.8zM104.3 67.1h0.8v0.8h-0.8zM107.2 41.9h0.8v0.8h-0.8zM106.2 55.0h0.8v0.8h-0.8zM102.0 53.1h0.8v0.8h-0.8zM108.0 67.3h0.8v0.8h-0.8zM119.3 52.5h0.8v0.8h-0.8zM103.3 47.2h0.8v0.8h-0.8zM114.6 42.7h0.8v0.8h-0.8zM105.3 50.5h0.8v0.8h-0.8zM108.3 51.7h0.8v0.8h-0.8zM111.9 60.9h0.8v0.8h-0.8zM110.6 55.3h0.8v0.8h-0.8zM103.1 45.0h0.8v0.8h-0.8zM110.8 55.5h0.8v0.8h-0.8zM109.7 53.5h0.8v0.8h-0.8zM104.3 57.9h0.8v0.8h-0.8zM104.9 49.2h0.8v0.8h-0.8zM109.7 35.2h0.8v0.8h-0.8zM110.0 49.9h0.8v0.8h-0.8zM105.2 57.9h0.8v0.8h-0.8zM110.5 65.5h0.8v0.8h-0.8zM115.7 60.7h0.8v0.8h-0.8zM105.8 47.9h0.8v0.8h-0.8zM113.0 53.4h0.8v0.8h-0.8zM101.3 62.7h0.8v0.8h-0.8zM107.4 65.0h0.8v0.8h-0.8zM103.5 56.7h0.8v0.8h-0.8zM109.5 44.0h0.8v0.8h-0.8zM110.8 35.8h0.8v0.8h-0.8zM109.3 47.1h0.8v0.8h-0.8zM106.4 53.5h0.8v0.8h-0.8zM118.4 63.3h0.8v0.8h-0.8zM102.0 58.1h0.8v0.8h-0.8zM107.7 53.1h0.8v0.8h-0.8zM109.2 60.2h0.8v0.8h-0.8zM112.3 71.1h0.8v0.8h-0.8zM107.4 57.5h0.8v0.8h-0.8zM107.7 44.0h0.8v0.8h-0.8zM110.5 53.7h0.8v0.8h-0.8zM107.5 53.9h0.8v0.8h-0.8zM106.7 52.5h0.8v0.8h-0.8zM104.6 43.3h0.8v0.8h-0.8zM111.6 56.3h0.8v0.8h-0.8zM107.9 50.1h0.8v0.8h-0.8zM108.2 56.9h0.8v0.8h-0.8zM110.6 80.2h0.8v0.8h-0.8zM101.1 47.7h0.8v0.8h-0.8zM112.7 53.7h0.8v0.8h-0.8zM113.4 51.2h0.8v0.8h-0.8zM107.8 46.7h0.8v0.8h-0.8zM105.4 50.5h0.8v0.8h-0.8zM104.0 38.9h0.8v0.8h-0.8zM110.6 34.7h0.8v0.8h-0.8zM108.0 50.5h0.8v0.8h-0.8zM112.0 46.6h0.8v0.8h-0.8zM114.8 44.0h0.8v0.8h-0.8zM106.3 61.9h0.8v0.8h-0.8zM110.9 50.1h0.8v0.8h-0.8zM106.0 63.4h0.8v0.8h-0.8zM118.2 47.0h0.8v0.8h-0.8zM112.5 60.1h0.8v0.8h-0.8zM111.2 69.3h0.8v0.8h-0.8zM101.4 48.3h0.8v0.8h-0.8zM104.4 60.0h0.8v0.8h-0.8zM101.0 58.5h0.8v0.8h-0.8zM108.2 47.7h0.8v0.8h-0.8zM105.7 40.9h0.8v0.8h-0.8zM108.6 44.5h0.8v0.8h-0.8zM106.8 40.7h0.8v0.8h-0.8zM114.7 64.1h0.8v0.8h-0.8zM111.1 68.9h0.8v0.8h-0.8zM109.6 48.3h0.8v0.8h-0.8zM110.0 58.3h0.8v0.8h-0.8zM106.6 65.2h0.8v0.8h-0.8zM102.4 50.5h0.8v0.8h-0.8zM113.2 47.9h0.8v0.8h-0.8zM111.5 52.3h0.8v0.8h-0.8zM112.5 55.6h0.8v0.8h-0.8zM110.2 44.4h0.8v0.8h-0.8zM113.4 57.9h0.8v0.8h-0.8zM107.2 64.7h0.8v0.8h-0.8zM105.2 39.3h0.8v0.8h-0.8zM105.2 64.1h0.8v0.8h-0.8zM102.6 39.9h0.8v0.8h-0.8zM110.7 40.1h0.8v0.8h-0.8zM105.6 45.2h0.8v0.8h-0.8zM86.1 60.9h0.8v0.8h-0.8zM92.0 56.0h0.8v0.8h-0.8zM109.3 72.4h0.8v0.8h-0.8zM84.3 53.3h0.8v0.8h-0.8zM106.4 52.6h0.8v0.8h-0.8zM84.1 54.0h0.8v0.8h-0.8zM110.5 71.2h0.8v0.8h-0.8zM100.2 68.1h0.8v0.8h-0.8zM82.3 49.8h0.8v0.8h-0.8zM96.7 60.9h0.8v0.8h-0.8zM101.1 67.8h0.8v0.8h-0.8zM84.1 57.1h0.8v0.8h-0.8zM99.1 66.9h0.8v0.8h-0.8zM93.3 64.8h0.8v0.8h-0.8zM100.9 66.1h0.8v0.8h-0.8zM84.3 55.2h0.8v0.8h-0.8zM89.5 58.3h0.8v0.8h-0.8zM98.1 60.0h0.8v0.8h-0.8zM72.4 53.6h0.8v0.8h-0.8zM85.3 61.5h0.8v0.8h-0.8zM106.5 65.2h0.8v0.8h-0.8zM102.2 57.8h0.8v0.8h-0.8zM102.1 70.3h0.8v0.8h-0.8zM115.4 70.0h0.8v0.8h-0.8zM98.0 63.2h0.8v0.8h-0.8zM99.0 60.4h0.8v0.8h-0.8zM95.4 50.1h0.8v0.8h-0.8zM97.2 55.6h0.8v0.8h-0.8zM102.8 66.2h0.8v0.8h-0.8zM86.7 52.0h0.8v0.8h-0.8zM106.0 73.5h0.8v0.8h-0.8zM97.6 63.5h0.8v0.8h-0.8zM90.5 63.9h0.8v0.8h-0.8zM100.6 54.6h0.8v0.8h-0.8zM98.6 64.1h0.8v0.8h-0.8zM108.2 64.9h0.8v0.8h-0.8zM91.6 60.8h0.8v0.8h-0.8zM102.7 69.4h0.8v0.8h-0.8zM98.9 57.7h0.8v0.8h-0.8zM102.1 59.6h0.8v0.8h-0.8zM103.0 68.2h0.8v0.8h-0.8zM109.3 64.4h0.8v0.8h-0.8zM96.4 57.6h0.8v0.8h-0.8zM99.7 63.4h0.8v0.8h-0.8zM97.4 65.2h0.8v0.8h-0.8zM102.1 62.3h0.8v0.8h-0.8zM97.9 69.4h0.8v0.8h-0.8zM90.0 58.3h0.8v0.8h-0.8zM85.9 59.6h0.8v0.8h-0.8zM101.8 73.6h0.8v0.8h-0.8zM74.6 50.8h0.8v0.8h-0.8zM106.1 76.2h0.8v0.8h-0.8zM92.5 59.7h0.8v0.8h-0.8zM112.9 72.4h0.8v0.8h-0.8zM100.0 63.3h0.8v0.8h-0.8zM98.1 68.5h0.8v0.8h-0.8zM99.3 66.6h0.8v0.8h-0.8zM113.9 68.6h0.8v0.8h-0.8zM99.1 59.8h0.8v0.8h-0.8zM96.8 62.6h0.8v0.8h-0.8zM96.3 60.9h0.8v0.8h-0.8zM95.1 55.0h0.8v0.8h-0.8zM96.6 70.4h0.8v0.8h-0.8zM96.7 70.5h0.8v0.8h-0.8zM94.8 60.5h0.8v0.8h-0.8zM92.7 68.3h0.8v0.8h-0.8zM101.9 60.5h0.8v0.8h-0.8zM91.5 63.2h0.8v0.8h-0.8zM93.8 53.4h0.8v0.8h-0.8zM93.7 61.3h0.8v0.8h-0.8zM99.9 62.5h0.8v0.8h-0.8zM93.5 60.5h0.8v0.8h-0.8zM92.8 70.4h0.8v0.8h-0.8zM99.2 58.5h0.8v0.8h-0.8zM105.8 64.7h0.8v0.8h-0.8zM107.0 74.7h0.8v0.8h-0.8zM84.1 51.8h0.8v0.8h-0.8zM91.7 55.9h0.8v0.8h-0.8zM106.2 60.0h0.8v0.8h-0.8zM94.7 67.7h0.8v0.8h-0.8zM86.1 58.8h0.8v0.8h-0.8zM96.4 68.6h0.8v0.8h-0.8zM85.4 51.9h0.8v0.8h-0.8zM95.1 61.5h0.8v0.8h-0.8zM104.6 61.9h0.8v0.8h-0.8zM103.2 67.4h0.8v0.8h-0.8zM94.7 62.3h0.8v0.8h-0.8zM88.7 54.4h0.8v0.8h-0.8zM109.3 64.8h0.8v0.8h-0.8zM95.2 59.2h0.8v0.8h-0.8zM107.6 74.3h0.8v0.8h-0.8zM85.8 56.9h0.8v0.8h-0.8zM95.2 54.9h0.8v0.8h-0.8zM107.5 70.4h0.8v0.8h-0.8zM95.8 61.3h0.8v0.8h-0.8zM100.6 62.1h0.8v0.8h-0.8zM87.9 53.0h0.8v0.8h-0.8zM95.7 67.4h0.8v0.8h-0.8zM104.5 68.4h0.8v0.8h-0.8zM96.5 65.8h0.8v0.8h-0.8zM116.4 73.7h0.8v0.8h-0.8zM100.6 70.7h0.8v0.8h-0.8zM98.7 61.2h0.8v0.8h-0.8zM88.8 61.0h0.8v0.8h-0.8zM86.8 62.0h0.8v0.8h-0.8zM92.4 57.2h0.8v0.8h-0.8zM94.0 62.6h0.8v0.8h-0.8zM93.5 62.5h0.8v0.8h-0.8zM97.2 61.1h0.8v0.8h-0.8zM99.8 59.8h0.8v0.8h-0.8zM102.3 69.9h0.8v0.8h-0.8zM99.2 64.9h0.8v0.8h-0.8zM104.8 59.7h0.8v0.8h-0.8zM96.4 70.7h0.8v0.8h-0.8zM99.3 61.0h0.8v0.8h-0.8zM92.8 57.9h0.8v0.8h-0.8zM105.2 60.3h0.8v0.8h-0.8zM109.2 72.7h0.8v0.8h-0.8zM95.9 62.5h0.8v0.8h-0.8zM92.7 58.0h0.8v0.8h-0.8zM98.8 59.8h0.8v0.8h-0.8zM105.3 64.4h0.8v0.8h-0.8zM88.0 60.9h0.8v0.8h-0.8zM105.5 66.7h0.8v0.8h-0.8zM97.9 59.5h0.8v0.8h-0.8zM93.6 56.9h0.8v0.8h-0.8zM100.4 63.4h0.8v0.8h-0.8zM115.1 65.6h0.8v0.8h-0.8zM101.0 71.4h0.8v0.8h-0.8zM91.6 61.8h0.8v0.8h-0.8zM102.9 64.3h0.8v0.8h-0.8zM96.1 63.8h0.8v0.8h-0.8zM110.3 67.8h0.8v0.8h-0.8zM100.0 71.4h0.8v0.8h-0.8zM103.1 62.7h0.8v0.8h-0.8zM91.8 57.5h0.8v0.8h-0.8zM92.1 55.1h0.8v0.8h-0.8zM82.8 53.7h0.8v0.8h-0.8zM96.6 61.5h0.8v0.8h-0.8zM97.4 63.3h0.8v0.8h-0.8zM96.8 69.1h0.8v0.8h-0.8zM117.1 69.5h0.8v0.8h-0.8zM100.3 64.3h0.8v0.8h-0.8zM84.8 58.1h0.8v0.8h-0.8zM98.9 60.1h0.8v0.8h-0.8zM80.0 56.7h0.8v0.8h-0.8zM80.8 45.4h0.8v0.8h-0.8zM84.1 54.4h0.8v0.8h-0.8zM103.3 67.6h0.8v0.8h-0.8zM96.8 61.3h0.8v0.8h-0.8zM109.0 68.7h0.8v0.8h-0.8zM106.7 69.5h0.8v0.8h-0.8zM107.0 70.3h0.8v0.8h-0.8zM98.1 68.4h0.8v0.8h-0.8zM106.1 61.9h0.8v0.8h-0.8zM107.3 70.7h0.8v0.8h-0.8zM69.9 39.1h0.8v0.8h-0.8zM98.5 71.6h0.8v0.8h-0.8zM89.3 64.4h0.8v0.8h-0.8zM93.8 63.3h0.8v0.8h-0.8zM99.4 58.8h0.8v0.8h-0.8zM97.8 58.5h0.8v0.8h-0.8zM98.6 50.2h0.8v0.8h-0.8zM113.7 72.5h0.8v0.8h-0.8zM92.7 69.2h0.8v0.8h-0.8zM102.6 69.3h0.8v0.8h-0.8zM106.3 80.3h0.8v0.8h-0.8zM114.5 81.1h0.8v0.8h-0.8zM104.9 58.3h0.8v0.8h-0.8zM100.5 69.0h0.8v0.8h-0.8zM101.3 60.8h0.8v0.8h-0.8zM97.0 62.3h0.8v0.8h-0.8zM89.8 61.2h0.8v0.8h-0.8zM103.8 62.7h0.8v0.8h-0.8zM98.5 62.4h0.8v0.8h-0.8zM98.8 58.2h0.8v0.8h-0.8zM99.4 59.6h0.8v0.8h-0.8zM93.6 61.4h0.8v0.8h-0.8zM104.0 58.7h0.8v0.8h-0.8zM91.8 54.7h0.8v0.8h-0.8zM102.4 65.2h0.8v0.8h-0.8zM96.6 59.3h0.8v0.8h-0.8zM105.7 60.6h0.8v0.8h-0.8zM91.5 56.4h0.8v0.8h-0.8zM106.7 57.9h0.8v0.8h-0.8zM101.0 69.2h0.8v0.8h-0.8zM92.6 54.4h0.8v0.8h-0.8zM96.5 65.2h0.8v0.8h-0.8zM110.2 68.7h0.8v0.8h-0.8zM90.4 63.7h0.8v0.8h-0.8zM111.9 66.1h0.8v0.8h-0.8zM90.3 56.1h0.8v0.8h-0.8zM98.2 57.2h0.8v0.8h-0.8zM88.5 59.0h0.8v0.8h-0.8zM89.6 53.0h0.8v0.8h-0.8zM105.3 61.4h0.8v0.8h-0.8zM110.9 64.3h0.8v0.8h-0.8zM99.4 59.0h0.8v0.8h-0.8zM100.6 60.8h0.8v0.8h-0.8zM94.4 64.5h0.8v0.8h-0.8zM90.9 62.5h0.8v0.8h-0.8zM98.5 66.5h0.8v0.8h-0.8zM102.8 61.6h0.8v0.8h-0.8zM108.6 69.1h0.8v0.8h-0.8zM93.1 67.8h0.8v0.8h-0.8zM99.2 70.8h0.8v0.8h-0.8zM111.0 70.4h0.8v0.8h-0.8zM81.4 50.7h0.8v0.8h-0.8zM107.8 63.9h0.8v0.8h-0.8zM78.6 57.0h0.8v0.8h-0.8zM103.8 64.2h0.8v0.8h-0.8zM118.0 74.5h0.8v0.8h-0.8zM90.8 48.7h0.8v0.8h-0.8zM88.6 60.2h0.8v0.8h-0.8zM87.3 53.6h0.8v0.8h-0.8zM93.0 66.8h0.8v0.8h-0.8zM92.7 63.3h0.8v0.8h-0.8zM100.8 64.0h0.8v0.8h-0.8zM102.2 66.4h0.8v0.8h-0.8zM98.2 62.0h0.8v0.8h-0.8zM117.6 68.3h0.8v0.8h-0.8zM95.8 67.7h0.8v0.8h-0.8zM105.9 65.5h0.8v0.8h-0.8zM96.0 66.8h0.8v0.8h-0.8zM84.4 56.1h0.8v0.8h-0.8zM99.6 60.2h0.8v0.8h-0.8zM95.5 60.2h0.8v0.8h-0.8zM98.7 59.2h0.8v0.8h-0.8zM90.4 56.4h0.8v0.8h-0.8zM109.8 70.4h0.8v0.8h-0.8zM105.2 70.4h0.8v0.8h-0.8zM86.4 58.7h0.8v0.8h-0.8zM100.9 60.9h0.8v0.8h-0.8zM96.8 73.1h0.8v0.8h-0.8zM91.9 54.3h0.8v0.8h-0.8zM104.1 69.0h0.8v0.8h-0.8zM96.6 63.0h0.8v0.8h-0.8zM95.2 56.2h0.8v0.8h-0.8zM101.4 70.6h0.8v0.8h-0.8zM95.5 60.6h0.8v0.8h-0.8zM96.6 65.8h0.8v0.8h-0.8zM96.5 59.2h0.8v0.8h-0.8zM104.5 71.5h0.8v0.8h-0.8zM102.0 76.2h0.8v0.8h-0.8zM107.5 66.3h0.8v0.8h-0.8zM85.6 63.0h0.8v0.8h-0.8zM102.7 53.1h0.8v0.8h-0.8zM102.9 56.1h0.8v0.8h-0.8zM99.2 68.5h0.8v0.8h-0.8zM90.8 59.7h0.8v0.8h-0.8zM93.9 64.1h0.8v0.8h-0.8zM101.1 63.6h0.8v0.8h-0.8zM86.8 59.0h0.8v0.8h-0.8zM87.0 58.7h0.8v0.8h-0.8zM92.3 64.1h0.8v0.8h-0.8zM87.8 65.7h0.8v0.8h-0.8zM93.6 58.5h0.8v0.8h-0.8zM102.3 61.5h0.8v0.8h-0.8zM97.0 59.4h0.8v0.8h-0.8zM105.7 71.6h0.8v0.8h-0.8zM89.4 50.2h0.8v0.8h-0.8zM89.2 59.1h0.8v0.8h-0.8zM106.6 65.5h0.8v0.8h-0.8zM93.5 72.2h0.8v0.8h-0.8zM91.8 67.6h0.8v0.8h-0.8zM99.4 69.7h0.8v0.8h-0.8zM92.4 56.7h0.8v0.8h-0.8zM100.5 67.6h0.8v0.8h-0.8zM109.3 70.5h0.8v0.8h-0.8zM107.1 69.3h0.8v0.8h-0.8zM92.3 63.5h0.8v0.8h-0.8zM94.5 60.4h0.8v0.8h-0.8zM103.2 62.5h0.8v0.8h-0.8zM102.7 64.4h0.8v0.8h-0.8zM100.7 66.1h0.8v0.8h-0.8zM105.9 60.6h0.8v0.8h-0.8zM93.7 57.1h0.8v0.8h-0.8zM112.0 67.7h0.8v0.8h-0.8zM100.3 63.9h0.8v0.8h-0.8zM91.3 68.9h0.8v0.8h-0.8zM103.7 75.1h0.8v0.8h-0.8zM96.6 61.1h0.8v0.8h-0.8zM115.1 72.8h0.8v0.8h-0.8zM94.6 56.1h0.8v0.8h-0.8zM111.9 65.7h0.8v0.8h-0.8zM95.8 62.3h0.8v0.8h-0.8zM86.1 53.6h0.8v0.8h-0.8zM93.8 54.8h0.8v0.8h-0.8zM96.5 68.1h0.8v0.8h-0.8zM98.3 66.3h0.8v0.8h-0.8zM109.2 65.8h0.8v0.8h-0.8zM104.0 61.6h0.8v0.8h-0.8zM97.6 70.5h0.8v0.8h-0.8zM98.5 65.1h0.8v0.8h-0.8zM85.2 55.6h0.8v0.8h-0.8zM99.5 62.0h0.8v0.8h-0.8zM86.5 60.9h0.8v0.8h-0.8zM76.7 60.6h0.8v0.8h-0.8zM106.9 73.0h0.8v0.8h-0.8zM80.1 54.0h0.8v0.8h-0.8zM98.3 58.1h0.8v0.8h-0.8zM90.4 53.9h0.8v0.8h-0.8zM96.3 60.9h0.8v0.8h-0.8zM94.3 59.2h0.8v0.8h-0.8zM97.8 68.7h0.8v0.8h-0.8zM95.1 66.4h0.8v0.8h-0.8zM98.6 71.5h0.8v0.8h-0.8zM90.0 64.9h0.8v0.8h-0.8zM94.4 53.6h0.8v0.8h-0.8zM114.3 79.2h0.8v0.8h-0.8zM101.5 63.8h0.8v0.8h-0.8zM104.6 65.0h0.8v0.8h-0.8zM92.6 64.7h0.8v0.8h-0.8zM104.1 56.5h0.8v0.8h-0.8zM91.7 61.2h0.8v0.8h-0.8zM104.6 61.3h0.8v0.8h-0.8zM104.5 74.0h0.8v0.8h-0.8zM99.0 70.3h0.8v0.8h-0.8zM96.9 67.4h0.8v0.8h-0.8zM107.0 62.9h0.8v0.8h-0.8zM102.5 57.7h0.8v0.8h-0.8zM106.3 71.1h0.8v0.8h-0.8zM84.6 56.1h0.8v0.8h-0.8zM112.0 67.3h0.8v0.8h-0.8zM96.0 61.6h0.8v0.8h-0.8zM74.3 58.3h0.8v0.8h-0.8zM94.6 72.0h0.8v0.8h-0.8zM106.5 64.2h0.8v0.8h-0.8zM88.3 52.3h0.8v0.8h-0.8zM97.7 71.5h0.8v0.8h-0.8zM97.1 69.9h0.8v0.8h-0.8zM92.4 58.0h0.8v0.8h-0.8zM89.4 64.0h0.8v0.8h-0.8zM92.4 55.9h0.8v0.8h-0.8zM94.9 49.9h0.8v0.8h-0.8zM99.3 64.7h0.8v0.8h-0.8zM86.6 63.4h0.8v0.8h-0.8zM108.7 67.5h0.8v0.8h-0.8zM99.2 61.9h0.8v0.8h-0.8zM92.8 63.5h0.8v0.8h-0.8zM92.6 58.5h0.8v0.8h-0.8zM75.0 43.3h0.8v0.8h-0.8zM95.1 69.7h0.8v0.8h-0.8zM88.8 61.9h0.8v0.8h-0.8zM87.5 56.2h0.8v0.8h-0.8zM93.4 66.6h0.8v0.8h-0.8zM87.1 50.5h0.8v0.8h-0.8zM100.6 65.5h0.8v0.8h-0.8zM92.3 54.1h0.8v0.8h-0.8zM90.8 55.9h0.8v0.8h-0.8zM90.1 60.2h0.8v0.8h-0.8zM87.3 52.0h0.8v0.8h-0.8zM92.7 59.1h0.8v0.8h-0.8zM99.7 69.7h0.8v0.8h-0.8zM102.3 70.3h0.8v0.8h-0.8zM107.2 63.7h0.8v0.8h-0.8zM86.3 67.4h0.8v0.8h-0.8zM95.1 57.3h0.8v0.8h-0.8zM94.7 60.2h0.8v0.8h-0.8zM101.4 66.9h0.8v0.8h-0.8zM90.8 63.3h0.8v0.8h-0.8zM101.0 73.8h0.8v0.8h-0.8zM102.7 58.6h0.8v0.8h-0.8zM103.1 67.5h0.8v0.8h-0.8zM103.1 67.8h0.8v0.8h-0.8zM101.6 71.1h0.8v0.8h-0.8zM96.3 61.2h0.8v0.8h-0.8zM91.6 54.9h0.8v0.8h-0.8zM97.0 65.9h0.8v0.8h-0.8zM94.1 61.4h0.8v0.8h-0.8zM91.6 56.9h0.8v0.8h-0.8zM99.3 59.9h0.8v0.8h-0.8zM100.4 59.1h0.8v0.8h-0.8zM106.3 68.6h0.8v0.8h-0.8zM103.4 70.7h0.8v0.8h-0.8zM88.5 60.4h0.8v0.8h-0.8zM90.3 61.3h0.8v0.8h-0.8zM111.4 66.3h0.8v0.8h-0.8zM97.2 57.5h0.8v0.8h-0.8zM102.6 66.2h0.8v0.8h-0.8zM98.5 55.9h0.8v0.8h-0.8zM95.2 66.0h0.8v0.8h-0.8zM91.0 66.6h0.8v0.8h-0.8zM98.0 69.9h0.8v0.8h-0.8zM79.0 55.2h0.8v0.8h-0.8zM87.3 61.9h0.8v0.8h-0.8zM115.5 71.0h0.8v0.8h-0.8zM91.7 53.2h0.8v0.8h-0.8zM93.7 63.6h0.8v0.8h-0.8zM87.8 56.5h0.8v0.8h-0.8zM90.6 58.8h0.8v0.8h-0.8zM86.5 53.1h0.8v0.8h-0.8zM100.5 67.0h0.8v0.8h-0.8zM83.8 55.9h0.8v0.8h-0.8zM98.9 60.9h0.8v0.8h-0.8zM90.8 55.5h0.8v0.8h-0.8zM99.8 63.2h0.8v0.8h-0.8zM90.6 54.6h0.8v0.8h-0.8zM103.3 67.8h0.8v0.8h-0.8zM100.3 57.5h0.8v0.8h-0.8zM105.6 65.0h0.8v0.8h-0.8zM98.9 59.8h0.8v0.8h-0.8zM81.6 54.5h0.8v0.8h-0.8zM87.3 58.4h0.8v0.8h-0.8zM93.8 64.5h0.8v0.8h-0.8zM104.0 58.2h0.8v0.8h-0.8zM95.6 58.2h0.8v0.8h-0.8zM89.2 53.5h0.8v0.8h-0.8zM96.1 62.4h0.8v0.8h-0.8zM102.5 64.4h0.8v0.8h-0.8zM98.2 64.5h0.8v0.8h-0.8zM95.2 62.0h0.8v0.8h-0.8zM102.4 55.1h0.8v0.8h-0.8zM85.1 58.9h0.8v0.8h-0.8zM108.8 66.1h0.8v0.8h-0.8zM120.3 62.7h0.8v0.8h-0.8zM97.1 71.3h0.8v0.8h-0.8zM95.5 63.1h0.8v0.8h-0.8zM95.3 64.8h0.8v0.8h-0.8zM99.3 60.2h0.8v0.8h-0.8zM90.7 78.4h0.8v0.8h-0.8zM93.5 67.0h0.8v0.8h-0.8zM80.3 71.5h0.8v0.8h-0.8zM72.7 67.5h0.8v0.8h-0.8zM86.1 72.5h0.8v0.8h-0.8zM93.4 77.6h0.8v0.8h-0.8zM93.0 71.1h0.8v0.8h-0.8zM86.9 73.8h0.8v0.8h-0.8zM81.3 74.1h0.8v0.8h-0.8zM65.0 62.2h0.8v0.8h-0.8zM72.8 67.1h0.8v0.8h-0.8zM83.3 75.7h0.8v0.8h-0.8zM94.6 76.5h0.8v0.8h-0.8zM81.9 64.1h0.8v0.8h-0.8zM96.1 75.3h0.8v0.8h-0.8zM85.0 76.3h0.8v0.8h-0.8zM96.2 84.3h0.8v0.8h-0.8zM78.1 72.4h0.8v0.8h-0.8zM104.9 83.0h0.8v0.8h-0.8zM92.4 79.4h0.8v0.8h-0.8zM87.8 71.7h0.8v0.8h-0.8zM95.6 76.1h0.8v0.8h-0.8zM82.5 63.4h0.8v0.8h-0.8zM94.0 75.3h0.8v0.8h-0.8zM89.0 72.0h0.8v0.8h-0.8zM84.1 72.5h0.8v0.8h-0.8zM105.0 86.4h0.8v0.8h-0.8zM98.0 84.0h0.8v0.8h-0.8zM81.8 62.4h0.8v0.8h-0.8zM82.6 78.1h0.8v0.8h-0.8zM72.2 67.6h0.8v0.8h-0.8zM91.5 81.3h0.8v0.8h-0.8zM103.6 73.6h0.8v0.8h-0.8zM80.7 64.6h0.8v0.8h-0.8zM82.6 66.2h0.8v0.8h-0.8zM90.2 80.5h0.8v0.8h-0.8zM85.7 75.9h0.8v0.8h-0.8zM88.8 72.0h0.8v0.8h-0.8zM94.6 72.3h0.8v0.8h-0.8zM81.3 73.1h0.8v0.8h-0.8zM69.1 66.8h0.8v0.8h-0.8zM87.7 76.2h0.8v0.8h-0.8zM74.5 60.8h0.8v0.8h-0.8zM71.1 62.3h0.8v0.8h-0.8zM89.2 87.0h0.8v0.8h-0.8zM76.3 66.0h0.8v0.8h-0.8zM75.1 74.7h0.8v0.8h-0.8zM77.2 74.4h0.8v0.8h-0.8zM81.5 73.5h0.8v0.8h-0.8zM99.1 73.9h0.8v0.8h-0.8zM86.6 66.7h0.8v0.8h-0.8zM79.5 69.7h0.8v0.8h-0.8zM72.7 71.4h0.8v0.8h-0.8zM94.9 63.9h0.8v0.8h-0.8zM100.2 79.4h0.8v0.8h-0.8zM65.8 64.0h0.8v0.8h-0.8zM80.3 70.3h0.8v0.8h-0.8zM111.1 87.2h0.8v0.8h-0.8zM91.2 68.0h0.8v0.8h-0.8zM79.2 69.7h0.8v0.8h-0.8zM61.0 51.0h0.8v0.8h-0.8zM93.8 76.7h0.8v0.8h-0.8zM88.6 77.3h0.8v0.8h-0.8zM76.4 71.0h0.8v0.8h-0.8zM86.6 69.9h0.8v0.8h-0.8zM82.6 75.8h0.8v0.8h-0.8zM88.6 63.9h0.8v0.8h-0.8zM70.3 63.5h0.8v0.8h-0.8zM78.2 67.1h0.8v0.8h-0.8zM75.9 66.9h0.8v0.8h-0.8zM68.9 71.7h0.8v0.8h-0.8zM97.6 64.0h0.8v0.8h-0.8zM84.3 67.5h0.8v0.8h-0.8zM75.6 70.2h0.8v0.8h-0.8zM91.3 70.8h0.8v0.8h-0.8zM91.6 82.7h0.8v0.8h-0.8zM76.9 67.9h0.8v0.8h-0.8zM81.1 75.3h0.8v0.8h-0.8zM91.1 66.5h0.8v0.8h-0.8zM70.2 64.3h0.8v0.8h-0.8zM91.9 75.8h0.8v0.8h-0.8zM97.3 72.8h0.8v0.8h-0.8zM85.0 69.1h0.8v0.8h-0.8zM81.0 72.8h0.8v0.8h-0.8zM66.9 63.2h0.8v0.8h-0.8zM86.0 70.4h0.8v0.8h-0.8zM73.2 69.7h0.8v0.8h-0.8zM78.6 79.0h0.8v0.8h-0.8zM82.5 72.8h0.8v0.8h-0.8zM101.9 71.7h0.8v0.8h-0.8zM90.7 75.7h0.8v0.8h-0.8zM98.3 73.9h0.8v0.8h-0.8zM79.4 67.3h0.8v0.8h-0.8zM92.1 74.2h0.8v0.8h-0.8zM95.0 81.3h0.8v0.8h-0.8zM69.8 70.9h0.8v0.8h-0.8zM74.2 58.2h0.8v0.8h-0.8zM77.1 68.5h0.8v0.8h-0.8zM73.3 64.3h0.8v0.8h-0.8zM74.4 76.6h0.8v0.8h-0.8zM79.3 70.8h0.8v0.8h-0.8zM86.1 75.9h0.8v0.8h-0.8zM89.4 69.1h0.8v0.8h-0.8zM76.2 77.0h0.8v0.8h-0.8zM79.4 75.6h0.8v0.8h-0.8zM73.1 67.8h0.8v0.8h-0.8zM87.3 70.0h0.8v0.8h-0.8zM82.0 74.0h0.8v0.8h-0.8zM94.9 75.9h0.8v0.8h-0.8zM76.0 65.6h0.8v0.8h-0.8zM77.2 71.2h0.8v0.8h-0.8zM86.5 78.0h0.8v0.8h-0.8zM79.2 70.0h0.8v0.8h-0.8zM83.4 74.1h0.8v0.8h-0.8zM79.4 72.6h0.8v0.8h-0.8zM79.0 67.8h0.8v0.8h-0.8zM70.8 66.1h0.8v0.8h-0.8zM84.4 79.1h0.8v0.8h-0.8zM78.6 61.0h0.8v0.8h-0.8zM83.7 76.1h0.8v0.8h-0.8zM82.8 63.8h0.8v0.8h-0.8zM93.4 72.9h0.8v0.8h-0.8zM77.3 73.7h0.8v0.8h-0.8zM81.6 71.2h0.8v0.8h-0.8zM91.1 80.9h0.8v0.8h-0.8zM105.7 84.9h0.8v0.8h-0.8zM78.6 71.6h0.8v0.8h-0.8zM84.9 73.6h0.8v0.8h-0.8zM79.7 67.3h0.8v0.8h-0.8zM77.9 69.7h0.8v0.8h-0.8zM89.0 61.7h0.8v0.8h-0.8zM98.7 77.9h0.8v0.8h-0.8zM90.0 79.6h0.8v0.8h-0.8zM97.7 84.5h0.8v0.8h-0.8zM76.9 70.3h0.8v0.8h-0.8zM92.2 70.4h0.8v0.8h-0.8zM98.5 75.4h0.8v0.8h-0.8zM84.2 75.7h0.8v0.8h-0.8zM76.4 74.2h0.8v0.8h-0.8zM76.5 65.6h0.8v0.8h-0.8zM88.6 79.7h0.8v0.8h-0.8zM91.4 80.7h0.8v0.8h-0.8zM87.3 67.2h0.8v0.8h-0.8zM80.5 71.9h0.8v0.8h-0.8zM97.6 66.8h0.8v0.8h-0.8zM81.7 73.5h0.8v0.8h-0.8zM76.4 71.1h0.8v0.8h-0.8zM95.3 69.4h0.8v0.8h-0.8zM84.8 77.5h0.8v0.8h-0.8zM88.5 68.5h0.8v0.8h-0.8zM106.5 69.7h0.8v0.8h-0.8zM82.6 74.0h0.8v0.8h-0.8zM107.7 80.1h0.8v0.8h-0.8zM75.3 58.1h0.8v0.8h-0.8zM68.5 71.1h0.8v0.8h-0.8zM75.9 71.2h0.8v0.8h-0.8zM79.1 73.3h0.8v0.8h-0.8zM71.0 61.2h0.8v0.8h-0.8zM106.2 72.7h0.8v0.8h-0.8zM81.1 76.1h0.8v0.8h-0.8zM91.5 77.9h0.8v0.8h-0.8zM80.9 76.8h0.8v0.8h-0.8zM77.2 71.4h0.8v0.8h-0.8zM92.4 74.4h0.8v0.8h-0.8zM76.1 69.7h0.8v0.8h-0.8zM73.4 64.6h0.8v0.8h-0.8zM76.1 68.0h0.8v0.8h-0.8zM84.2 64.2h0.8v0.8h-0.8zM80.1 66.3h0.8v0.8h-0.8zM72.0 71.2h0.8v0.8h-0.8zM88.7 81.7h0.8v0.8h-0.8zM67.2 73.4h0.8v0.8h-0.8zM73.6 66.1h0.8v0.8h-0.8zM73.1 61.6h0.8v0.8h-0.8zM87.5 75.8h0.8v0.8h-0.8zM98.5 84.9h0.8v0.8h-0.8zM79.1 69.7h0.8v0.8h-0.8zM107.1 79.7h0.8v0.8h-0.8zM75.9 72.1h0.8v0.8h-0.8zM96.1 71.7h0.8v0.8h-0.8zM86.8 68.1h0.8v0.8h-0.8zM98.3 86.0h0.8v0.8h-0.8zM84.3 74.4h0.8v0.8h-0.8zM85.8 77.9h0.8v0.8h-0.8zM75.9 68.1h0.8v0.8h-0.8zM90.1 73.2h0.8v0.8h-0.8zM76.1 69.6h0.8v0.8h-0.8zM94.4 83.6h0.8v0.8h-0.8zM84.0 74.9h0.8v0.8h-0.8zM70.3 68.8h0.8v0.8h-0.8zM77.3 69.0h0.8v0.8h-0.8zM77.6 74.0h0.8v0.8h-0.8zM81.4 70.9h0.8v0.8h-0.8zM87.3 72.6h0.8v0.8h-0.8zM83.6 69.9h0.8v0.8h-0.8zM80.6 68.7h0.8v0.8h-0.8zM75.3 69.1h0.8v0.8h-0.8zM90.7 77.5h0.8v0.8h-0.8zM90.4 89.8h0.8v0.8h-0.8zM92.2 75.4h0.8v0.8h-0.8zM72.6 64.6h0.8v0.8h-0.8zM96.0 73.1h0.8v0.8h-0.8zM76.3 63.5h0.8v0.8h-0.8zM67.8 68.1h0.8v0.8h-0.8zM84.5 78.1h0.8v0.8h-0.8zM85.9 71.9h0.8v0.8h-0.8zM100.2 72.7h0.8v0.8h-0.8zM86.7 63.8h0.8v0.8h-0.8zM103.5 73.6h0.8v0.8h-0.8zM88.8 67.7h0.8v0.8h-0.8zM83.1 83.9h0.8v0.8h-0.8zM82.6 79.9h0.8v0.8h-0.8zM86.6 67.9h0.8v0.8h-0.8zM92.9 72.8h0.8v0.8h-0.8zM80.8 73.8h0.8v0.8h-0.8zM85.4 70.6h0.8v0.8h-0.8zM94.8 74.8h0.8v0.8h-0.8zM96.6 73.7h0.8v0.8h-0.8zM60.8 65.8h0.8v0.8h-0.8zM96.7 77.7h0.8v0.8h-0.8zM71.2 92.5h0.8v0.8h-0.8zM84.7 98.4h0.8v0.8h-0.8zM73.4 98.0h0.8v0.8h-0.8zM61.2 86.0h0.8v0.8h-0.8zM73.9 88.5h0.8v0.8h-0.8zM88.6 90.0h0.8v0.8h-0.8zM73.8 87.6h0.8v0.8h-0.8zM90.1 88.3h0.8v0.8h-0.8zM71.9 107.1h0.8v0.8h-0.8zM60.2 75.8h0.8v0.8h-0.8zM79.2 99.9h0.8v0.8h-0.8zM81.6 93.0h0.8v0.8h-0.8zM88.4 97.0h0.8v0.8h-0.8zM78.7 85.6h0.8v0.8h-0.8zM67.0 102.7h0.8v0.8h-0.8zM70.5 81.7h0.8v0.8h-0.8zM70.8 100.8h0.8v0.8h-0.8zM58.6 103.2h0.8v0.8h-0.8zM62.8 90.1h0.8v0.8h-0.8zM67.4 99.5h0.8v0.8h-0.8zM73.4 96.7h0.8v0.8h-0.8zM89.1 98.7h0.8v0.8h-0.8zM81.7 93.2h0.8v0.8h-0.8zM51.7 92.6h0.8v0.8h-0.8zM72.0 87.1h0.8v0.8h-0.8zM97.4 85.0h0.8v0.8h-0.8zM80.3 92.2h0.8v0.8h-0.8zM101.1 90.8h0.8v0.8h-0.8zM76.6 85.9h0.8v0.8h-0.8zM80.5 95.6h0.8v0.8h-0.8zM58.3 94.6h0.8v0.8h-0.8zM56.5 77.5h0.8v0.8h-0.8zM58.0 89.5h0.8v0.8h-0.8zM59.1 111.0h0.8v0.8h-0.8zM61.8 96.0h0.8v0.8h-0.8zM54.1 86.1h0.8v0.8h-0.8zM60.5 95.6h0.8v0.8h-0.8zM70.9 87.3h0.8v0.8h-0.8zM70.2 96.7h0.8v0.8h-0.8zM75.1 97.1h0.8v0.8h-0.8zM93.0 105.6h0.8v0.8h-0.8zM78.3 96.7h0.8v0.8h-0.8zM84.4 91.7h0.8v0.8h-0.8zM82.3 107.2h0.8v0.8h-0.8zM87.6 88.3h0.8v0.8h-0.8zM79.3 82.5h0.8v0.8h-0.8zM89.0 97.9h0.8v0.8h-0.8zM70.3 100.6h0.8v0.8h-0.8zM70.4 84.6h0.8v0.8h-0.8zM88.1 105.8h0.8v0.8h-0.8zM105.1 99.6h0.8v0.8h-0.8zM64.4 103.8h0.8v0.8h-0.8zM55.1 101.6h0.8v0.8h-0.8zM51.6 72.7h0.8v0.8h-0.8zM78.9 97.7h0.8v0.8h-0.8zM107.4 90.9h0.8v0.8h-0.8zM60.1 85.2h0.8v0.8h-0.8zM60.6 98.1h0.8v0.8h-0.8zM57.8 99.6h0.8v0.8h-0.8zM66.8 99.5h0.8v0.8h-0.8zM84.8 111.9h0.8v0.8h-0.8zM79.3 86.6h0.8v0.8h-0.8zM70.6 79.7h0.8v0.8h-0.8zM43.1 112.9h0.8v0.8h-0.8zM59.8 82.8h0.8v0.8h-0.8zM68.1 96.0h0.8v0.8h-0.8zM82.3 92.4h0.8v0.8h-0.8zM69.0 88.6h0.8v0.8h-0.8zM74.8 94.8h0.8v0.8h-0.8zM92.1 93.7h0.8v0.8h-0.8zM77.6 111.0h0.8v0.8h-0.8zM71.5 98.3h0.8v0.8h-0.8zM70.6 94.1h0.8v0.8h-0.8zM72.8 93.3h0.8v0.8h-0.8zM102.7 99.1h0.8v0.8h-0.8zM82.8 93.0h0.8v0.8h-0.8zM88.3 87.6h0.8v0.8h-0.8zM74.4 90.1h0.8v0.8h-0.8zM72.8 96.7h0.8v0.8h-0.8zM73.8 95.7h0.8v0.8h-0.8zM82.3 93.6h0.8v0.8h-0.8zM65.4 91.6h0.8v0.8h-0.8zM65.7 94.0h0.8v0.8h-0.8zM61.2 83.2h0.8v0.8h-0.8zM68.8 102.2h0.8v0.8h-0.8zM84.2 97.6h0.8v0.8h-0.8zM69.3 92.7h0.8v0.8h-0.8zM60.6 96.1h0.8v0.8h-0.8zM76.0 103.1h0.8v0.8h-0.8zM64.9 121.1h0.8v0.8h-0.8zM95.3 99.2h0.8v0.8h-0.8zM74.7 94.5h0.8v0.8h-0.8zM101.6 99.2h0.8v0.8h-0.8zM81.1 102.3h0.8v0.8h-0.8zM87.1 112.9h0.8v0.8h-0.8zM75.8 89.6h0.8v0.8h-0.8zM72.3 79.5h0.8v0.8h-0.8zM88.3 101.8h0.8v0.8h-0.8zM79.1 95.4h0.8v0.8h-0.8zM107.9 85.1h0.8v0.8h-0.8zM96.4 113.1h0.8v0.8h-0.8zM76.0 106.4h0.8v0.8h-0.8zM78.0 104.2h0.8v0.8h-0.8zM83.9 90.1h0.8v0.8h-0.8zM77.8 94.6h0.8v0.8h-0.8zM103.7 97.2h0.8v0.8h-0.8zM90.2 88.6h0.8v0.8h-0.8zM80.8 90.0h0.8v0.8h-0.8zM75.8 103.9h0.8v0.8h-0.8zM58.6 108.1h0.8v0.8h-0.8zM85.5 93.6h0.8v0.8h-0.8zM80.9 89.7h0.8v0.8h-0.8zM66.6 99.6h0.8v0.8h-0.8zM76.9 95.3h0.8v0.8h-0.8zM58.6 90.0h0.8v0.8h-0.8zM60.2 91.9h0.8v0.8h-0.8zM66.0 111.0h0.8v0.8h-0.8zM81.7 98.7h0.8v0.8h-0.8zM57.1 93.2h0.8v0.8h-0.8zM52.6 116.4h0.8v0.8h-0.8zM54.7 91.1h0.8v0.8h-0.8zM84.7 98.1h0.8v0.8h-0.8zM82.5 88.3h0.8v0.8h-0.8zM62.9 99.5h0.8v0.8h-0.8zM97.1 92.8h0.8v0.8h-0.8zM87.0 103.0h0.8v0.8h-0.8zM67.2 103.0h0.8v0.8h-0.8zM73.3 99.8h0.8v0.8h-0.8zM64.1 92.8h0.8v0.8h-0.8zM64.0 75.6h0.8v0.8h-0.8zM61.6 79.7h0.8v0.8h-0.8zM78.4 97.6h0.8v0.8h-0.8zM74.0 80.9h0.8v0.8h-0.8zM76.6 73.1h0.8v0.8h-0.8zM78.2 90.2h0.8v0.8h-0.8zM54.3 88.4h0.8v0.8h-0.8zM85.8 88.7h0.8v0.8h-0.8zM86.5 95.6h0.8v0.8h-0.8zM69.7 109.3h0.8v0.8h-0.8zM91.8 102.2h0.8v0.8h-0.8zM94.6 93.9h0.8v0.8h-0.8zM57.9 103.5h0.8v0.8h-0.8zM64.0 86.9h0.8v0.8h-0.8zM59.7 106.8h0.8v0.8h-0.8zM94.5 91.5h0.8v0.8h-0.8zM73.2 96.4h0.8v0.8h-0.8zM70.6 91.6h0.8v0.8h-0.8zM83.0 100.5h0.8v0.8h-0.8zM84.9 94.0h0.8v0.8h-0.8zM67.6 97.6h0.8v0.8h-0.8zM76.0 114.4h0.8v0.8h-0.8zM73.0 120.3h0.8v0.8h-0.8zM64.6 103.3h0.8v0.8h-0.8zM60.9 109.2h0.8v0.8h-0.8zM96.5 101.0h0.8v0.8h-0.8zM79.7 114.0h0.8v0.8h-0.8zM65.5 103.9h0.8v0.8h-0.8zM70.5 107.3h0.8v0.8h-0.8zM52.0 114.5h0.8v0.8h-0.8zM64.5 116.8h0.8v0.8h-0.8zM40.8 111.3h0.8v0.8h-0.8zM78.9 106.5h0.8v0.8h-0.8zM77.0 98.6h0.8v0.8h-0.8zM78.5 112.7h0.8v0.8h-0.8zM54.9 115.5h0.8v0.8h-0.8zM75.9 112.8h0.8v0.8h-0.8zM66.6 103.7h0.8v0.8h-0.8zM81.0 108.8h0.8v0.8h-0.8zM43.1 94.1h0.8v0.8h-0.8zM58.8 95.3h0.8v0.8h-0.8zM76.4 112.5h0.8v0.8h-0.8zM130.9 63.5h.6v.6h-.6zM81.8 116.5h.6v.6h-.6zM62.3 33.7h.6v.6h-.6zM107.3 105.6h.6v.6h-.6zM64.3 30.0h.6v.6h-.6zM104.9 109.6h.6v.6h-.6zM123.4 36.1h.6v.6h-.6zM75.2 75.7h.6v.6h-.6zM47.0 53.5h.6v.6h-.6zM74.5 47.7h.6v.6h-.6zM86.2 76.0h.6v.6h-.6zM100.0 104.5h.6v.6h-.6zM69.4 78.3h.6v.6h-.6zM54.1 80.8h.6v.6h-.6zM51.9 92.0h.6v.6h-.6zM59.5 67.1h.6v.6h-.6zM127.1 43.2h.6v.6h-.6zM51.8 95.2h.6v.6h-.6zM96.6 109.1h.6v.6h-.6zM54.3 117.3h.6v.6h-.6zM100.6 115.5h.6v.6h-.6zM57.8 107.6h.6v.6h-.6zM101.2 79.5h.6v.6h-.6zM126.6 110.6h.6v.6h-.6zM129.7 112.9h.6v.6h-.6zM80.4 79.4h.6v.6h-.6zM125.8 39.8h.6v.6h-.6zM43.1 41.0h.6v.6h-.6zM86.2 47.5h.6v.6h-.6zM92.7 52.2h.6v.6h-.6zM63.0 49.1h.6v.6h-.6zM59.9 120.2h.6v.6h-.6zM75.3 55.1h.6v.6h-.6zM44.4 66.8h.6v.6h-.6zM111.7 44.2h.6v.6h-.6zM131.1 94.3h.6v.6h-.6zM116.8 80.2h.6v.6h-.6zM119.6 42.0h.6v.6h-.6zM87.4 27.4h.6v.6h-.6zM93.3 57.5h.6v.6h-.6z" stroke="none" fill="#111" stroke-width="1" fill-opacity="0.7"/>
<rect x="94.4" y="26.3" width="23.6" height="15.2" stroke="#333" fill="none" stroke-width="0.8"/>
<text x="39.4" y="58.6" font-size="8.3" stroke="#231f20" stroke-width="0.14" textLength="56.5">CD11c<tspan font-size="4.6" dy="-3.2">+</tspan><tspan dy="3.2">MHC-II</tspan><tspan font-size="4.6" dy="-3.2">+</tspan></text>
<text x="54.8" y="69.6" font-size="8.3" stroke="#231f20" stroke-width="0.14">46 %</text>
<line x1="149.2" y1="24.5" x2="150.6" y2="24.5" stroke="#666" stroke-width="0.45"/>
<line x1="149.2" y1="26.85" x2="150.6" y2="26.85" stroke="#666" stroke-width="0.45"/>
<line x1="149.2" y1="29.2" x2="150.6" y2="29.2" stroke="#666" stroke-width="0.45"/>
<line x1="149.2" y1="31.55" x2="150.6" y2="31.55" stroke="#666" stroke-width="0.45"/>
<line x1="149.2" y1="33.9" x2="150.6" y2="33.9" stroke="#666" stroke-width="0.45"/>
<line x1="149.2" y1="36.25" x2="150.6" y2="36.25" stroke="#666" stroke-width="0.45"/>
<line x1="149.2" y1="38.6" x2="150.6" y2="38.6" stroke="#666" stroke-width="0.45"/>
<line x1="149.2" y1="40.95" x2="150.6" y2="40.95" stroke="#666" stroke-width="0.45"/>
<line x1="149.2" y1="43.3" x2="150.6" y2="43.3" stroke="#666" stroke-width="0.45"/>
<line x1="149.2" y1="45.65" x2="150.6" y2="45.65" stroke="#666" stroke-width="0.45"/>
<line x1="149.2" y1="48" x2="150.6" y2="48" stroke="#666" stroke-width="0.45"/>
<line x1="149.2" y1="50.35" x2="150.6" y2="50.35" stroke="#666" stroke-width="0.45"/>
<line x1="149.2" y1="52.7" x2="150.6" y2="52.7" stroke="#666" stroke-width="0.45"/>
<line x1="149.2" y1="55.05" x2="150.6" y2="55.05" stroke="#666" stroke-width="0.45"/>
<line x1="149.2" y1="57.4" x2="150.6" y2="57.4" stroke="#666" stroke-width="0.45"/>
<line x1="149.2" y1="59.75" x2="150.6" y2="59.75" stroke="#666" stroke-width="0.45"/>
<line x1="149.2" y1="62.1" x2="150.6" y2="62.1" stroke="#666" stroke-width="0.45"/>
<line x1="149.2" y1="64.45" x2="150.6" y2="64.45" stroke="#666" stroke-width="0.45"/>
<line x1="149.2" y1="66.8" x2="150.6" y2="66.8" stroke="#666" stroke-width="0.45"/>
<line x1="149.2" y1="69.15" x2="150.6" y2="69.15" stroke="#666" stroke-width="0.45"/>
<line x1="149.2" y1="71.5" x2="150.6" y2="71.5" stroke="#666" stroke-width="0.45"/>
<line x1="149.2" y1="73.85" x2="150.6" y2="73.85" stroke="#666" stroke-width="0.45"/>
<line x1="149.2" y1="76.2" x2="150.6" y2="76.2" stroke="#666" stroke-width="0.45"/>
<line x1="149.2" y1="78.55" x2="150.6" y2="78.55" stroke="#666" stroke-width="0.45"/>
<line x1="149.2" y1="80.9" x2="150.6" y2="80.9" stroke="#666" stroke-width="0.45"/>
<line x1="149.2" y1="83.25" x2="150.6" y2="83.25" stroke="#666" stroke-width="0.45"/>
<line x1="149.2" y1="85.6" x2="150.6" y2="85.6" stroke="#666" stroke-width="0.45"/>
<line x1="149.2" y1="87.95" x2="150.6" y2="87.95" stroke="#666" stroke-width="0.45"/>
<line x1="149.2" y1="90.3" x2="150.6" y2="90.3" stroke="#666" stroke-width="0.45"/>
<line x1="149.2" y1="92.65" x2="150.6" y2="92.65" stroke="#666" stroke-width="0.45"/>
<line x1="149.2" y1="95" x2="150.6" y2="95" stroke="#666" stroke-width="0.45"/>
<line x1="149.2" y1="97.35" x2="150.6" y2="97.35" stroke="#666" stroke-width="0.45"/>
<line x1="149.2" y1="99.7" x2="150.6" y2="99.7" stroke="#666" stroke-width="0.45"/>
<line x1="149.2" y1="102.05" x2="150.6" y2="102.05" stroke="#666" stroke-width="0.45"/>
<line x1="149.2" y1="104.4" x2="150.6" y2="104.4" stroke="#666" stroke-width="0.45"/>
<line x1="149.2" y1="106.75" x2="150.6" y2="106.75" stroke="#666" stroke-width="0.45"/>
<line x1="149.2" y1="109.1" x2="150.6" y2="109.1" stroke="#666" stroke-width="0.45"/>
<line x1="149.2" y1="111.45" x2="150.6" y2="111.45" stroke="#666" stroke-width="0.45"/>
<line x1="149.2" y1="113.8" x2="150.6" y2="113.8" stroke="#666" stroke-width="0.45"/>
<line x1="149.2" y1="116.15" x2="150.6" y2="116.15" stroke="#666" stroke-width="0.45"/>
<line x1="149.2" y1="118.5" x2="150.6" y2="118.5" stroke="#666" stroke-width="0.45"/>
<line x1="149.2" y1="120.85" x2="150.6" y2="120.85" stroke="#666" stroke-width="0.45"/>
<line x1="147.6" y1="26.5" x2="150.6" y2="26.5" stroke="#333" stroke-width="0.8"/>
<text x="147.1" y="27.8" font-size="3.8" text-anchor="end" fill="#444">10<tspan font-size="2.6" dy="-1.6">7</tspan></text>
<line x1="147.6" y1="40.5" x2="150.6" y2="40.5" stroke="#333" stroke-width="0.8"/>
<text x="147.1" y="41.8" font-size="3.8" text-anchor="end" fill="#444">10<tspan font-size="2.6" dy="-1.6">6</tspan></text>
<line x1="147.6" y1="54" x2="150.6" y2="54" stroke="#333" stroke-width="0.8"/>
<text x="147.1" y="55.3" font-size="3.8" text-anchor="end" fill="#444">10<tspan font-size="2.6" dy="-1.6">5</tspan></text>
<line x1="147.6" y1="67.5" x2="150.6" y2="67.5" stroke="#333" stroke-width="0.8"/>
<text x="147.1" y="68.8" font-size="3.8" text-anchor="end" fill="#444">10<tspan font-size="2.6" dy="-1.6">4</tspan></text>
<line x1="147.6" y1="81.5" x2="150.6" y2="81.5" stroke="#333" stroke-width="0.8"/>
<text x="147.1" y="82.8" font-size="3.8" text-anchor="end" fill="#444">10<tspan font-size="2.6" dy="-1.6">3</tspan></text>
<line x1="147.6" y1="100.5" x2="150.6" y2="100.5" stroke="#333" stroke-width="0.8"/>
<text x="142.6" y="101.8" font-size="3.8" text-anchor="middle" fill="#444">0</text>
<line x1="147.6" y1="120" x2="150.6" y2="120" stroke="#333" stroke-width="0.8"/>
<text x="147.1" y="121.3" font-size="3.8" text-anchor="end" fill="#444">-10<tspan font-size="2.6" dy="-1.6">3</tspan></text>
<line x1="152.6" y1="122" x2="152.6" y2="123.4" stroke="#666" stroke-width="0.45"/>
<line x1="154.95" y1="122" x2="154.95" y2="123.4" stroke="#666" stroke-width="0.45"/>
<line x1="157.3" y1="122" x2="157.3" y2="123.4" stroke="#666" stroke-width="0.45"/>
<line x1="159.65" y1="122" x2="159.65" y2="123.4" stroke="#666" stroke-width="0.45"/>
<line x1="162" y1="122" x2="162" y2="123.4" stroke="#666" stroke-width="0.45"/>
<line x1="164.35" y1="122" x2="164.35" y2="123.4" stroke="#666" stroke-width="0.45"/>
<line x1="166.7" y1="122" x2="166.7" y2="123.4" stroke="#666" stroke-width="0.45"/>
<line x1="169.05" y1="122" x2="169.05" y2="123.4" stroke="#666" stroke-width="0.45"/>
<line x1="171.4" y1="122" x2="171.4" y2="123.4" stroke="#666" stroke-width="0.45"/>
<line x1="173.75" y1="122" x2="173.75" y2="123.4" stroke="#666" stroke-width="0.45"/>
<line x1="176.1" y1="122" x2="176.1" y2="123.4" stroke="#666" stroke-width="0.45"/>
<line x1="178.45" y1="122" x2="178.45" y2="123.4" stroke="#666" stroke-width="0.45"/>
<line x1="180.8" y1="122" x2="180.8" y2="123.4" stroke="#666" stroke-width="0.45"/>
<line x1="183.15" y1="122" x2="183.15" y2="123.4" stroke="#666" stroke-width="0.45"/>
<line x1="185.5" y1="122" x2="185.5" y2="123.4" stroke="#666" stroke-width="0.45"/>
<line x1="187.85" y1="122" x2="187.85" y2="123.4" stroke="#666" stroke-width="0.45"/>
<line x1="190.2" y1="122" x2="190.2" y2="123.4" stroke="#666" stroke-width="0.45"/>
<line x1="192.55" y1="122" x2="192.55" y2="123.4" stroke="#666" stroke-width="0.45"/>
<line x1="194.9" y1="122" x2="194.9" y2="123.4" stroke="#666" stroke-width="0.45"/>
<line x1="197.25" y1="122" x2="197.25" y2="123.4" stroke="#666" stroke-width="0.45"/>
<line x1="199.6" y1="122" x2="199.6" y2="123.4" stroke="#666" stroke-width="0.45"/>
<line x1="201.95" y1="122" x2="201.95" y2="123.4" stroke="#666" stroke-width="0.45"/>
<line x1="204.3" y1="122" x2="204.3" y2="123.4" stroke="#666" stroke-width="0.45"/>
<line x1="206.65" y1="122" x2="206.65" y2="123.4" stroke="#666" stroke-width="0.45"/>
<line x1="209" y1="122" x2="209" y2="123.4" stroke="#666" stroke-width="0.45"/>
<line x1="211.35" y1="122" x2="211.35" y2="123.4" stroke="#666" stroke-width="0.45"/>
<line x1="213.7" y1="122" x2="213.7" y2="123.4" stroke="#666" stroke-width="0.45"/>
<line x1="216.05" y1="122" x2="216.05" y2="123.4" stroke="#666" stroke-width="0.45"/>
<line x1="218.4" y1="122" x2="218.4" y2="123.4" stroke="#666" stroke-width="0.45"/>
<line x1="220.75" y1="122" x2="220.75" y2="123.4" stroke="#666" stroke-width="0.45"/>
<line x1="223.1" y1="122" x2="223.1" y2="123.4" stroke="#666" stroke-width="0.45"/>
<line x1="225.45" y1="122" x2="225.45" y2="123.4" stroke="#666" stroke-width="0.45"/>
<line x1="227.8" y1="122" x2="227.8" y2="123.4" stroke="#666" stroke-width="0.45"/>
<line x1="230.15" y1="122" x2="230.15" y2="123.4" stroke="#666" stroke-width="0.45"/>
<line x1="232.5" y1="122" x2="232.5" y2="123.4" stroke="#666" stroke-width="0.45"/>
<line x1="234.85" y1="122" x2="234.85" y2="123.4" stroke="#666" stroke-width="0.45"/>
<line x1="237.2" y1="122" x2="237.2" y2="123.4" stroke="#666" stroke-width="0.45"/>
<line x1="239.55" y1="122" x2="239.55" y2="123.4" stroke="#666" stroke-width="0.45"/>
<line x1="241.9" y1="122" x2="241.9" y2="123.4" stroke="#666" stroke-width="0.45"/>
<line x1="244.25" y1="122" x2="244.25" y2="123.4" stroke="#666" stroke-width="0.45"/>
<line x1="246.6" y1="122" x2="246.6" y2="123.4" stroke="#666" stroke-width="0.45"/>
<line x1="156.6" y1="122" x2="156.6" y2="124.5" stroke="#333" stroke-width="0.8"/>
<line x1="172.6" y1="122" x2="172.6" y2="124.5" stroke="#333" stroke-width="0.8"/>
<line x1="193.1" y1="122" x2="193.1" y2="124.5" stroke="#333" stroke-width="0.8"/>
<line x1="220.6" y1="122" x2="220.6" y2="124.5" stroke="#333" stroke-width="0.8"/>
<line x1="245.1" y1="122" x2="245.1" y2="124.5" stroke="#333" stroke-width="0.8"/>
<text x="156.6" y="130" font-size="3.8" text-anchor="middle" fill="#444">-10<tspan font-size="2.6" dy="-1.6">3</tspan></text>
<text x="172.6" y="130" font-size="3.8" text-anchor="middle" fill="#444">0</text>
<text x="193.1" y="130" font-size="3.8" text-anchor="middle" fill="#444">10<tspan font-size="2.6" dy="-1.6">3</tspan></text>
<text x="220.6" y="130" font-size="3.8" text-anchor="middle" fill="#444">10<tspan font-size="2.6" dy="-1.6">5</tspan></text>
<text x="245.1" y="130" font-size="3.8" text-anchor="middle" fill="#444">10<tspan font-size="2.6" dy="-1.6">7</tspan></text>
<rect x="165.6" y="120.8" width="8" height="1.6" stroke="none" fill="#222" stroke-width="1"/>
<rect x="150.8" y="93.5" width="1.4" height="10" stroke="none" fill="#333" stroke-width="1"/>
<path d="M150.6 22.5 H248.4 V122" stroke="#9a9a9a" fill="none" stroke-width="0.9"/>
<path d="M150.6 22.5 V122 H248.4" stroke="#4a4a4a" fill="none" stroke-width="0.9"/>
<ellipse cx="218.3" cy="33.5" rx="9" ry="5.2" fill="#111" filter="url(#bl)" opacity="0.95"/>
<ellipse cx="188.5" cy="77.5" rx="5.5" ry="3.5" fill="#222" filter="url(#bl)" opacity="0.3" transform="rotate(-25 188.5 77.5)"/>
<path d="M188.1 75.4h0.8v0.8h-0.8zM193.7 70.6h0.8v0.8h-0.8zM177.4 77.3h0.8v0.8h-0.8zM189.3 80.6h0.8v0.8h-0.8zM187.7 75.2h0.8v0.8h-0.8zM183.6 74.5h0.8v0.8h-0.8zM191.2 75.7h0.8v0.8h-0.8zM186.2 76.2h0.8v0.8h-0.8zM186.3 74.4h0.8v0.8h-0.8zM188.9 74.4h0.8v0.8h-0.8zM183.8 76.3h0.8v0.8h-0.8zM186.2 78.1h0.8v0.8h-0.8zM192.9 82.1h0.8v0.8h-0.8zM179.5 68.0h0.8v0.8h-0.8zM199.6 76.4h0.8v0.8h-0.8zM183.8 76.1h0.8v0.8h-0.8zM181.8 77.5h0.8v0.8h-0.8zM187.0 78.0h0.8v0.8h-0.8zM188.3 80.6h0.8v0.8h-0.8zM195.1 78.5h0.8v0.8h-0.8zM185.0 82.7h0.8v0.8h-0.8zM193.9 75.7h0.8v0.8h-0.8zM190.3 81.8h0.8v0.8h-0.8zM188.1 82.2h0.8v0.8h-0.8zM197.1 85.0h0.8v0.8h-0.8zM184.7 70.8h0.8v0.8h-0.8zM186.2 81.0h0.8v0.8h-0.8zM186.8 80.5h0.8v0.8h-0.8zM175.4 73.4h0.8v0.8h-0.8zM191.0 75.6h0.8v0.8h-0.8zM185.3 75.5h0.8v0.8h-0.8zM189.6 77.5h0.8v0.8h-0.8zM186.3 72.8h0.8v0.8h-0.8zM199.7 73.0h0.8v0.8h-0.8zM182.0 75.2h0.8v0.8h-0.8zM180.4 74.3h0.8v0.8h-0.8zM191.9 80.6h0.8v0.8h-0.8zM190.5 73.7h0.8v0.8h-0.8zM191.1 85.0h0.8v0.8h-0.8zM186.1 78.1h0.8v0.8h-0.8zM190.8 75.9h0.8v0.8h-0.8zM183.9 75.3h0.8v0.8h-0.8zM192.7 78.7h0.8v0.8h-0.8zM193.1 80.0h0.8v0.8h-0.8zM183.5 72.5h0.8v0.8h-0.8zM181.7 72.4h0.8v0.8h-0.8zM188.7 74.5h0.8v0.8h-0.8zM189.6 78.1h0.8v0.8h-0.8zM191.7 76.2h0.8v0.8h-0.8zM193.2 76.3h0.8v0.8h-0.8zM197.2 80.0h0.8v0.8h-0.8zM185.2 79.5h0.8v0.8h-0.8zM182.0 83.9h0.8v0.8h-0.8zM187.4 75.4h0.8v0.8h-0.8zM179.8 70.3h0.8v0.8h-0.8zM184.5 72.4h0.8v0.8h-0.8zM189.0 70.5h0.8v0.8h-0.8zM183.9 75.1h0.8v0.8h-0.8zM191.6 84.8h0.8v0.8h-0.8zM184.3 76.0h0.8v0.8h-0.8zM192.5 78.9h0.8v0.8h-0.8zM188.5 80.1h0.8v0.8h-0.8zM185.1 73.7h0.8v0.8h-0.8zM192.1 77.0h0.8v0.8h-0.8zM196.5 78.5h0.8v0.8h-0.8zM188.1 79.9h0.8v0.8h-0.8zM182.4 72.2h0.8v0.8h-0.8zM186.1 74.9h0.8v0.8h-0.8zM177.4 73.0h0.8v0.8h-0.8zM187.0 73.5h0.8v0.8h-0.8zM192.6 79.8h0.8v0.8h-0.8zM190.1 79.4h0.8v0.8h-0.8zM196.0 82.9h0.8v0.8h-0.8zM191.2 84.8h0.8v0.8h-0.8zM188.7 81.6h0.8v0.8h-0.8zM195.4 81.8h0.8v0.8h-0.8zM193.9 77.8h0.8v0.8h-0.8zM188.8 76.4h0.8v0.8h-0.8zM186.2 79.3h0.8v0.8h-0.8zM185.1 75.9h0.8v0.8h-0.8zM196.8 77.8h0.8v0.8h-0.8zM192.2 71.2h0.8v0.8h-0.8zM184.8 75.2h0.8v0.8h-0.8zM188.7 81.0h0.8v0.8h-0.8zM184.6 76.8h0.8v0.8h-0.8zM193.5 80.6h0.8v0.8h-0.8zM187.7 74.0h0.8v0.8h-0.8zM182.3 76.9h0.8v0.8h-0.8zM198.9 82.0h0.8v0.8h-0.8zM193.9 83.8h0.8v0.8h-0.8zM185.5 72.3h0.8v0.8h-0.8zM193.1 79.7h0.8v0.8h-0.8zM187.9 82.8h0.8v0.8h-0.8zM184.9 75.1h0.8v0.8h-0.8zM187.9 69.9h0.8v0.8h-0.8zM185.8 79.6h0.8v0.8h-0.8zM190.3 75.6h0.8v0.8h-0.8zM183.0 82.5h0.8v0.8h-0.8zM188.8 73.5h0.8v0.8h-0.8zM183.1 68.5h0.8v0.8h-0.8zM186.5 74.6h0.8v0.8h-0.8zM184.6 72.9h0.8v0.8h-0.8zM181.0 75.7h0.8v0.8h-0.8zM200.2 74.9h0.8v0.8h-0.8zM188.6 82.3h0.8v0.8h-0.8zM187.7 77.4h0.8v0.8h-0.8zM188.8 80.3h0.8v0.8h-0.8zM186.1 77.6h0.8v0.8h-0.8zM192.3 83.3h0.8v0.8h-0.8zM182.8 70.5h0.8v0.8h-0.8zM175.3 75.0h0.8v0.8h-0.8zM193.5 72.5h0.8v0.8h-0.8zM184.3 77.9h0.8v0.8h-0.8zM193.9 73.1h0.8v0.8h-0.8zM183.2 73.3h0.8v0.8h-0.8zM187.5 87.5h0.8v0.8h-0.8zM175.9 76.1h0.8v0.8h-0.8zM190.1 80.5h0.8v0.8h-0.8zM200.6 82.6h0.8v0.8h-0.8zM194.2 75.0h0.8v0.8h-0.8zM196.3 82.5h0.8v0.8h-0.8zM187.8 77.8h0.8v0.8h-0.8zM185.0 73.1h0.8v0.8h-0.8zM197.3 74.5h0.8v0.8h-0.8zM189.4 80.6h0.8v0.8h-0.8zM188.5 79.8h0.8v0.8h-0.8zM195.4 78.5h0.8v0.8h-0.8zM194.2 75.2h0.8v0.8h-0.8zM177.5 76.3h0.8v0.8h-0.8zM193.5 76.7h0.8v0.8h-0.8zM190.6 73.1h0.8v0.8h-0.8zM187.8 72.5h0.8v0.8h-0.8zM191.8 75.0h0.8v0.8h-0.8zM192.7 74.3h0.8v0.8h-0.8zM198.1 77.7h0.8v0.8h-0.8zM192.5 78.0h0.8v0.8h-0.8zM186.2 82.2h0.8v0.8h-0.8zM184.5 75.0h0.8v0.8h-0.8zM185.5 73.8h0.8v0.8h-0.8zM180.1 76.2h0.8v0.8h-0.8zM194.8 82.7h0.8v0.8h-0.8zM187.5 67.3h0.8v0.8h-0.8zM193.1 77.6h0.8v0.8h-0.8zM200.2 78.2h0.8v0.8h-0.8zM193.0 81.1h0.8v0.8h-0.8zM183.6 85.2h0.8v0.8h-0.8zM189.2 82.0h0.8v0.8h-0.8zM187.7 78.2h0.8v0.8h-0.8zM197.1 73.9h0.8v0.8h-0.8zM191.7 81.5h0.8v0.8h-0.8zM179.3 76.1h0.8v0.8h-0.8zM186.9 73.8h0.8v0.8h-0.8zM178.6 78.5h0.8v0.8h-0.8zM191.4 78.5h0.8v0.8h-0.8zM192.0 84.2h0.8v0.8h-0.8zM186.4 76.3h0.8v0.8h-0.8zM185.8 78.0h0.8v0.8h-0.8zM192.2 74.4h0.8v0.8h-0.8zM197.5 74.7h0.8v0.8h-0.8zM183.3 83.6h0.8v0.8h-0.8zM197.4 81.5h0.8v0.8h-0.8zM187.5 73.5h0.8v0.8h-0.8zM188.8 73.6h0.8v0.8h-0.8zM182.8 73.1h0.8v0.8h-0.8zM187.1 79.5h0.8v0.8h-0.8zM193.0 72.7h0.8v0.8h-0.8zM190.4 81.0h0.8v0.8h-0.8zM188.7 78.4h0.8v0.8h-0.8zM194.1 80.2h0.8v0.8h-0.8zM184.6 76.1h0.8v0.8h-0.8zM178.5 72.8h0.8v0.8h-0.8zM196.1 74.6h0.8v0.8h-0.8zM182.4 74.9h0.8v0.8h-0.8zM182.5 76.8h0.8v0.8h-0.8zM178.2 78.1h0.8v0.8h-0.8zM190.2 79.2h0.8v0.8h-0.8zM184.2 71.3h0.8v0.8h-0.8zM179.2 78.3h0.8v0.8h-0.8zM183.5 74.8h0.8v0.8h-0.8zM188.3 73.3h0.8v0.8h-0.8zM188.9 75.5h0.8v0.8h-0.8zM188.6 75.8h0.8v0.8h-0.8zM185.5 80.6h0.8v0.8h-0.8zM194.4 83.2h0.8v0.8h-0.8zM201.9 74.8h0.8v0.8h-0.8zM189.1 77.8h0.8v0.8h-0.8zM188.2 71.4h0.8v0.8h-0.8zM188.7 78.0h0.8v0.8h-0.8zM181.9 74.5h0.8v0.8h-0.8zM186.9 73.3h0.8v0.8h-0.8zM190.1 76.5h0.8v0.8h-0.8zM186.0 72.9h0.8v0.8h-0.8zM192.3 81.1h0.8v0.8h-0.8zM178.4 75.0h0.8v0.8h-0.8zM187.3 75.8h0.8v0.8h-0.8zM182.0 76.9h0.8v0.8h-0.8zM178.8 74.9h0.8v0.8h-0.8zM194.3 77.7h0.8v0.8h-0.8zM195.3 75.6h0.8v0.8h-0.8zM180.7 77.4h0.8v0.8h-0.8zM192.9 85.7h0.8v0.8h-0.8zM188.4 74.0h0.8v0.8h-0.8zM186.5 76.5h0.8v0.8h-0.8zM195.1 73.0h0.8v0.8h-0.8zM187.9 78.3h0.8v0.8h-0.8zM201.6 84.7h0.8v0.8h-0.8zM185.8 74.7h0.8v0.8h-0.8zM188.2 76.4h0.8v0.8h-0.8zM193.4 78.1h0.8v0.8h-0.8zM183.1 70.1h0.8v0.8h-0.8zM187.0 77.6h0.8v0.8h-0.8zM192.8 77.6h0.8v0.8h-0.8zM197.1 77.7h0.8v0.8h-0.8zM188.0 78.5h0.8v0.8h-0.8zM189.5 89.1h0.8v0.8h-0.8zM191.4 79.1h0.8v0.8h-0.8zM190.2 76.7h0.8v0.8h-0.8zM182.1 73.3h0.8v0.8h-0.8zM179.9 78.3h0.8v0.8h-0.8zM192.8 83.0h0.8v0.8h-0.8zM188.6 87.5h0.8v0.8h-0.8zM191.7 75.3h0.8v0.8h-0.8zM200.3 77.4h0.8v0.8h-0.8zM192.8 75.6h0.8v0.8h-0.8zM195.9 77.9h0.8v0.8h-0.8zM187.8 82.5h0.8v0.8h-0.8zM198.3 79.3h0.8v0.8h-0.8zM195.5 74.7h0.8v0.8h-0.8zM196.4 77.3h0.8v0.8h-0.8zM184.9 75.4h0.8v0.8h-0.8zM190.6 80.6h0.8v0.8h-0.8zM187.3 76.2h0.8v0.8h-0.8zM187.5 74.1h0.8v0.8h-0.8zM184.6 77.7h0.8v0.8h-0.8zM192.2 74.5h0.8v0.8h-0.8zM180.2 74.6h0.8v0.8h-0.8zM173.0 69.0h0.8v0.8h-0.8zM184.5 74.3h0.8v0.8h-0.8zM186.1 79.6h0.8v0.8h-0.8zM192.9 78.9h0.8v0.8h-0.8zM187.5 77.5h0.8v0.8h-0.8zM184.0 79.5h0.8v0.8h-0.8zM183.7 76.6h0.8v0.8h-0.8zM191.8 74.7h0.8v0.8h-0.8zM193.1 77.4h0.8v0.8h-0.8zM185.3 74.9h0.8v0.8h-0.8zM194.4 82.1h0.8v0.8h-0.8zM193.8 76.8h0.8v0.8h-0.8zM189.1 79.5h0.8v0.8h-0.8zM202.8 79.0h0.8v0.8h-0.8zM188.0 76.0h0.8v0.8h-0.8zM193.8 77.6h0.8v0.8h-0.8zM181.6 73.1h0.8v0.8h-0.8zM183.7 78.5h0.8v0.8h-0.8zM190.4 79.8h0.8v0.8h-0.8zM191.7 76.5h0.8v0.8h-0.8zM193.4 82.6h0.8v0.8h-0.8zM191.3 76.6h0.8v0.8h-0.8zM192.3 85.6h0.8v0.8h-0.8zM184.7 75.5h0.8v0.8h-0.8zM194.1 74.1h0.8v0.8h-0.8zM186.6 77.8h0.8v0.8h-0.8zM194.6 84.1h0.8v0.8h-0.8zM185.5 72.8h0.8v0.8h-0.8zM192.0 77.3h0.8v0.8h-0.8zM187.8 76.7h0.8v0.8h-0.8zM195.5 85.6h0.8v0.8h-0.8zM185.2 80.8h0.8v0.8h-0.8zM182.0 74.2h0.8v0.8h-0.8zM185.8 79.1h0.8v0.8h-0.8zM184.6 75.4h0.8v0.8h-0.8zM191.8 78.9h0.8v0.8h-0.8zM193.5 77.4h0.8v0.8h-0.8zM199.3 82.0h0.8v0.8h-0.8zM194.7 77.9h0.8v0.8h-0.8zM188.4 78.6h0.8v0.8h-0.8zM178.1 74.2h0.8v0.8h-0.8zM195.9 80.9h0.8v0.8h-0.8zM191.2 80.0h0.8v0.8h-0.8zM193.1 76.7h0.8v0.8h-0.8zM192.0 76.6h0.8v0.8h-0.8zM199.1 79.2h0.8v0.8h-0.8zM187.1 81.3h0.8v0.8h-0.8zM190.5 76.9h0.8v0.8h-0.8zM184.7 78.0h0.8v0.8h-0.8zM179.2 76.0h0.8v0.8h-0.8zM186.9 81.8h0.8v0.8h-0.8zM180.9 72.8h0.8v0.8h-0.8zM189.7 71.8h0.8v0.8h-0.8zM191.5 75.5h0.8v0.8h-0.8zM190.2 76.4h0.8v0.8h-0.8zM189.5 77.5h0.8v0.8h-0.8zM185.6 77.2h0.8v0.8h-0.8zM193.1 74.6h0.8v0.8h-0.8zM180.1 79.4h0.8v0.8h-0.8zM190.2 80.2h0.8v0.8h-0.8zM198.6 75.8h0.8v0.8h-0.8zM188.1 82.7h0.8v0.8h-0.8zM195.1 77.1h0.8v0.8h-0.8zM182.2 68.1h0.8v0.8h-0.8zM184.4 77.7h0.8v0.8h-0.8zM189.4 78.5h0.8v0.8h-0.8zM175.9 68.4h0.8v0.8h-0.8zM190.5 77.4h0.8v0.8h-0.8zM193.9 74.7h0.8v0.8h-0.8zM179.7 74.9h0.8v0.8h-0.8zM198.8 79.0h0.8v0.8h-0.8zM185.8 77.9h0.8v0.8h-0.8zM196.3 80.2h0.8v0.8h-0.8zM186.6 78.2h0.8v0.8h-0.8zM188.6 70.9h0.8v0.8h-0.8zM178.3 74.3h0.8v0.8h-0.8zM175.3 82.8h0.8v0.8h-0.8zM190.9 73.9h0.8v0.8h-0.8zM184.1 75.1h0.8v0.8h-0.8zM192.2 75.2h0.8v0.8h-0.8zM180.0 72.6h0.8v0.8h-0.8zM196.6 79.0h0.8v0.8h-0.8zM194.5 80.4h0.8v0.8h-0.8zM192.1 75.0h0.8v0.8h-0.8zM186.1 74.2h0.8v0.8h-0.8zM183.1 80.0h0.8v0.8h-0.8zM191.2 76.2h0.8v0.8h-0.8zM186.3 79.9h0.8v0.8h-0.8zM188.3 77.9h0.8v0.8h-0.8zM188.3 78.5h0.8v0.8h-0.8zM186.0 73.9h0.8v0.8h-0.8zM191.0 78.7h0.8v0.8h-0.8zM191.9 79.3h0.8v0.8h-0.8zM185.7 76.3h0.8v0.8h-0.8zM221.5 31.3h0.8v0.8h-0.8zM209.1 35.7h0.8v0.8h-0.8zM224.2 31.2h0.8v0.8h-0.8zM208.4 37.6h0.8v0.8h-0.8zM217.5 36.9h0.8v0.8h-0.8zM226.0 33.8h0.8v0.8h-0.8zM214.7 27.8h0.8v0.8h-0.8zM222.3 36.0h0.8v0.8h-0.8zM212.5 31.5h0.8v0.8h-0.8zM216.6 38.2h0.8v0.8h-0.8zM220.5 29.6h0.8v0.8h-0.8zM218.7 32.3h0.8v0.8h-0.8zM211.5 33.7h0.8v0.8h-0.8zM222.2 40.9h0.8v0.8h-0.8zM220.8 35.0h0.8v0.8h-0.8zM214.7 35.7h0.8v0.8h-0.8zM217.3 35.2h0.8v0.8h-0.8zM218.8 29.3h0.8v0.8h-0.8zM219.5 33.0h0.8v0.8h-0.8zM219.2 33.9h0.8v0.8h-0.8zM221.4 37.6h0.8v0.8h-0.8zM210.4 26.6h0.8v0.8h-0.8zM218.3 31.4h0.8v0.8h-0.8zM231.8 35.3h0.8v0.8h-0.8zM221.6 32.5h0.8v0.8h-0.8zM221.5 36.9h0.8v0.8h-0.8zM211.8 34.1h0.8v0.8h-0.8zM214.7 33.0h0.8v0.8h-0.8zM217.7 31.2h0.8v0.8h-0.8zM218.2 31.4h0.8v0.8h-0.8zM216.3 35.9h0.8v0.8h-0.8zM216.5 37.0h0.8v0.8h-0.8zM204.6 26.6h0.8v0.8h-0.8zM218.3 31.8h0.8v0.8h-0.8zM220.8 29.5h0.8v0.8h-0.8zM218.1 32.7h0.8v0.8h-0.8zM221.6 32.9h0.8v0.8h-0.8zM221.7 26.6h0.8v0.8h-0.8zM212.7 32.4h0.8v0.8h-0.8zM223.2 34.6h0.8v0.8h-0.8zM222.0 27.1h0.8v0.8h-0.8zM213.9 28.3h0.8v0.8h-0.8zM219.4 33.9h0.8v0.8h-0.8zM211.1 36.8h0.8v0.8h-0.8zM217.5 31.2h0.8v0.8h-0.8zM220.3 36.8h0.8v0.8h-0.8zM208.9 34.7h0.8v0.8h-0.8zM221.5 36.7h0.8v0.8h-0.8zM220.3 32.4h0.8v0.8h-0.8zM219.7 35.3h0.8v0.8h-0.8zM216.7 36.4h0.8v0.8h-0.8zM211.5 34.7h0.8v0.8h-0.8zM230.6 28.9h0.8v0.8h-0.8zM217.5 33.3h0.8v0.8h-0.8zM207.1 32.9h0.8v0.8h-0.8zM219.0 36.4h0.8v0.8h-0.8zM212.8 32.6h0.8v0.8h-0.8zM216.0 30.0h0.8v0.8h-0.8zM223.0 37.4h0.8v0.8h-0.8zM225.5 36.6h0.8v0.8h-0.8zM214.7 35.7h0.8v0.8h-0.8zM213.5 35.0h0.8v0.8h-0.8zM229.6 31.0h0.8v0.8h-0.8zM221.3 36.4h0.8v0.8h-0.8zM224.3 31.6h0.8v0.8h-0.8zM220.0 37.5h0.8v0.8h-0.8zM226.0 29.8h0.8v0.8h-0.8zM215.3 27.0h0.8v0.8h-0.8zM216.6 32.1h0.8v0.8h-0.8zM226.6 32.6h0.8v0.8h-0.8zM223.5 34.2h0.8v0.8h-0.8zM216.2 37.9h0.8v0.8h-0.8zM218.4 33.8h0.8v0.8h-0.8zM221.3 33.6h0.8v0.8h-0.8zM213.1 27.5h0.8v0.8h-0.8zM214.9 31.8h0.8v0.8h-0.8zM217.9 34.5h0.8v0.8h-0.8zM213.8 34.0h0.8v0.8h-0.8zM220.3 34.5h0.8v0.8h-0.8zM218.3 32.9h0.8v0.8h-0.8zM217.1 36.1h0.8v0.8h-0.8zM217.6 33.9h0.8v0.8h-0.8zM225.0 33.4h0.8v0.8h-0.8zM227.9 36.1h0.8v0.8h-0.8zM223.0 37.6h0.8v0.8h-0.8zM202.8 31.6h0.8v0.8h-0.8zM211.3 34.4h0.8v0.8h-0.8zM221.3 31.1h0.8v0.8h-0.8zM215.2 37.5h0.8v0.8h-0.8zM216.7 28.9h0.8v0.8h-0.8zM223.7 33.1h0.8v0.8h-0.8zM211.2 34.0h0.8v0.8h-0.8zM216.4 37.0h0.8v0.8h-0.8zM219.4 33.3h0.8v0.8h-0.8zM219.5 28.2h0.8v0.8h-0.8zM215.8 34.6h0.8v0.8h-0.8zM213.4 29.7h0.8v0.8h-0.8zM222.4 36.5h0.8v0.8h-0.8zM216.4 37.5h0.8v0.8h-0.8zM222.8 34.3h0.8v0.8h-0.8zM221.8 34.6h0.8v0.8h-0.8zM220.8 35.2h0.8v0.8h-0.8zM212.6 35.3h0.8v0.8h-0.8zM227.6 36.7h0.8v0.8h-0.8zM216.1 30.3h0.8v0.8h-0.8zM222.9 33.7h0.8v0.8h-0.8zM215.4 32.0h0.8v0.8h-0.8zM226.7 34.7h0.8v0.8h-0.8zM217.1 40.8h0.8v0.8h-0.8zM224.7 41.3h0.8v0.8h-0.8zM209.2 34.0h0.8v0.8h-0.8zM209.7 33.4h0.8v0.8h-0.8zM213.3 31.1h0.8v0.8h-0.8zM218.0 30.4h0.8v0.8h-0.8zM226.5 33.0h0.8v0.8h-0.8zM221.7 35.4h0.8v0.8h-0.8zM211.7 32.7h0.8v0.8h-0.8zM218.0 34.0h0.8v0.8h-0.8zM227.0 34.7h0.8v0.8h-0.8zM218.2 33.4h0.8v0.8h-0.8zM224.3 27.8h0.8v0.8h-0.8zM219.6 34.5h0.8v0.8h-0.8zM211.2 36.6h0.8v0.8h-0.8zM210.7 34.3h0.8v0.8h-0.8zM212.3 32.6h0.8v0.8h-0.8zM214.9 36.1h0.8v0.8h-0.8zM204.3 33.6h0.8v0.8h-0.8zM224.7 37.9h0.8v0.8h-0.8zM222.4 33.5h0.8v0.8h-0.8zM219.9 30.9h0.8v0.8h-0.8zM211.3 35.0h0.8v0.8h-0.8zM221.5 33.8h0.8v0.8h-0.8zM220.5 35.4h0.8v0.8h-0.8zM220.4 31.3h0.8v0.8h-0.8zM221.7 32.3h0.8v0.8h-0.8zM216.9 30.7h0.8v0.8h-0.8zM218.7 34.8h0.8v0.8h-0.8zM206.0 35.5h0.8v0.8h-0.8zM233.9 32.6h0.8v0.8h-0.8zM220.3 34.5h0.8v0.8h-0.8zM210.0 35.4h0.8v0.8h-0.8zM230.2 34.9h0.8v0.8h-0.8zM217.7 34.7h0.8v0.8h-0.8zM211.4 29.9h0.8v0.8h-0.8zM212.8 28.3h0.8v0.8h-0.8zM218.0 34.6h0.8v0.8h-0.8zM206.5 30.9h0.8v0.8h-0.8zM227.0 35.9h0.8v0.8h-0.8zM221.5 38.3h0.8v0.8h-0.8zM222.1 31.0h0.8v0.8h-0.8zM211.8 33.5h0.8v0.8h-0.8zM213.3 29.0h0.8v0.8h-0.8zM209.8 31.4h0.8v0.8h-0.8zM214.2 30.3h0.8v0.8h-0.8zM226.4 33.1h0.8v0.8h-0.8zM217.2 38.2h0.8v0.8h-0.8zM216.4 35.6h0.8v0.8h-0.8zM214.5 42.7h0.8v0.8h-0.8zM222.4 37.4h0.8v0.8h-0.8zM219.0 34.3h0.8v0.8h-0.8zM221.0 37.1h0.8v0.8h-0.8zM225.0 29.8h0.8v0.8h-0.8zM219.5 30.1h0.8v0.8h-0.8zM214.5 36.1h0.8v0.8h-0.8zM222.1 36.0h0.8v0.8h-0.8zM221.7 33.5h0.8v0.8h-0.8zM218.0 39.1h0.8v0.8h-0.8zM218.4 30.8h0.8v0.8h-0.8zM222.9 37.3h0.8v0.8h-0.8zM227.0 32.5h0.8v0.8h-0.8zM220.6 26.3h0.8v0.8h-0.8zM220.6 36.6h0.8v0.8h-0.8zM217.2 30.8h0.8v0.8h-0.8zM214.6 34.9h0.8v0.8h-0.8zM207.9 30.8h0.8v0.8h-0.8zM220.3 33.7h0.8v0.8h-0.8zM219.0 33.8h0.8v0.8h-0.8zM218.9 31.4h0.8v0.8h-0.8zM226.7 32.2h0.8v0.8h-0.8zM225.7 30.7h0.8v0.8h-0.8zM221.1 35.1h0.8v0.8h-0.8zM214.0 30.2h0.8v0.8h-0.8zM216.7 35.8h0.8v0.8h-0.8zM218.8 28.6h0.8v0.8h-0.8zM229.5 36.3h0.8v0.8h-0.8zM213.6 34.1h0.8v0.8h-0.8zM223.7 38.0h0.8v0.8h-0.8zM212.1 33.0h0.8v0.8h-0.8zM219.8 27.6h0.8v0.8h-0.8zM214.7 28.4h0.8v0.8h-0.8zM214.8 35.5h0.8v0.8h-0.8zM217.7 38.1h0.8v0.8h-0.8zM220.0 35.3h0.8v0.8h-0.8zM214.3 34.0h0.8v0.8h-0.8zM220.5 37.2h0.8v0.8h-0.8zM216.3 32.8h0.8v0.8h-0.8zM219.3 33.9h0.8v0.8h-0.8zM206.6 33.2h0.8v0.8h-0.8zM219.8 30.3h0.8v0.8h-0.8zM225.0 28.0h0.8v0.8h-0.8zM217.2 33.5h0.8v0.8h-0.8zM224.0 29.2h0.8v0.8h-0.8zM220.2 31.9h0.8v0.8h-0.8zM225.4 34.6h0.8v0.8h-0.8zM217.7 33.2h0.8v0.8h-0.8zM214.5 31.3h0.8v0.8h-0.8zM211.5 30.1h0.8v0.8h-0.8zM215.7 35.2h0.8v0.8h-0.8zM219.8 34.5h0.8v0.8h-0.8zM225.3 29.2h0.8v0.8h-0.8zM219.6 31.3h0.8v0.8h-0.8zM215.4 33.4h0.8v0.8h-0.8zM215.2 34.2h0.8v0.8h-0.8zM217.4 33.6h0.8v0.8h-0.8zM220.5 32.1h0.8v0.8h-0.8zM208.1 27.7h0.8v0.8h-0.8zM219.3 36.5h0.8v0.8h-0.8zM216.1 37.5h0.8v0.8h-0.8zM215.8 29.5h0.8v0.8h-0.8zM220.4 29.3h0.8v0.8h-0.8zM213.2 37.5h0.8v0.8h-0.8zM220.7 35.1h0.8v0.8h-0.8zM220.8 29.2h0.8v0.8h-0.8zM221.0 28.8h0.8v0.8h-0.8zM221.4 34.1h0.8v0.8h-0.8zM214.6 37.1h0.8v0.8h-0.8zM220.2 34.2h0.8v0.8h-0.8zM216.3 34.9h0.8v0.8h-0.8zM233.5 31.7h0.8v0.8h-0.8zM214.6 29.8h0.8v0.8h-0.8zM217.2 35.8h0.8v0.8h-0.8zM228.4 33.2h0.8v0.8h-0.8zM217.3 33.3h0.8v0.8h-0.8zM226.5 34.7h0.8v0.8h-0.8zM221.4 35.9h0.8v0.8h-0.8zM216.4 31.6h0.8v0.8h-0.8zM217.8 31.2h0.8v0.8h-0.8zM222.5 28.8h0.8v0.8h-0.8zM219.8 35.8h0.8v0.8h-0.8zM218.1 33.2h0.8v0.8h-0.8zM222.0 31.9h0.8v0.8h-0.8zM215.1 28.6h0.8v0.8h-0.8zM208.0 32.6h0.8v0.8h-0.8zM207.3 36.3h0.8v0.8h-0.8zM220.9 35.5h0.8v0.8h-0.8zM217.4 34.6h0.8v0.8h-0.8zM214.8 31.4h0.8v0.8h-0.8zM222.1 32.1h0.8v0.8h-0.8zM226.0 32.7h0.8v0.8h-0.8zM217.7 33.9h0.8v0.8h-0.8zM218.0 32.0h0.8v0.8h-0.8zM215.1 26.9h0.8v0.8h-0.8zM221.1 32.3h0.8v0.8h-0.8zM214.2 34.9h0.8v0.8h-0.8zM214.8 33.0h0.8v0.8h-0.8zM214.2 29.9h0.8v0.8h-0.8zM218.9 26.8h0.8v0.8h-0.8zM210.0 37.5h0.8v0.8h-0.8zM222.3 30.7h0.8v0.8h-0.8zM230.2 29.0h0.8v0.8h-0.8zM218.5 32.6h0.8v0.8h-0.8zM226.8 31.9h0.8v0.8h-0.8zM222.5 34.6h0.8v0.8h-0.8zM215.4 32.3h0.8v0.8h-0.8zM218.5 33.0h0.8v0.8h-0.8zM229.9 34.1h0.8v0.8h-0.8zM219.3 35.4h0.8v0.8h-0.8zM228.5 35.8h0.8v0.8h-0.8zM222.4 34.0h0.8v0.8h-0.8zM213.0 28.4h0.8v0.8h-0.8zM225.8 36.4h0.8v0.8h-0.8zM225.1 30.5h0.8v0.8h-0.8zM216.0 32.4h0.8v0.8h-0.8zM215.0 33.8h0.8v0.8h-0.8zM219.1 36.1h0.8v0.8h-0.8zM207.7 32.3h0.8v0.8h-0.8zM211.2 36.2h0.8v0.8h-0.8zM218.4 34.5h0.8v0.8h-0.8zM224.0 31.5h0.8v0.8h-0.8zM217.6 32.9h0.8v0.8h-0.8zM212.4 28.9h0.8v0.8h-0.8zM220.6 31.3h0.8v0.8h-0.8zM219.7 36.6h0.8v0.8h-0.8zM225.2 35.9h0.8v0.8h-0.8zM222.1 32.3h0.8v0.8h-0.8zM213.9 32.1h0.8v0.8h-0.8zM215.5 33.3h0.8v0.8h-0.8zM219.9 32.1h0.8v0.8h-0.8zM228.1 31.3h0.8v0.8h-0.8zM218.1 33.7h0.8v0.8h-0.8zM226.6 36.5h0.8v0.8h-0.8zM216.2 29.1h0.8v0.8h-0.8zM224.3 34.9h0.8v0.8h-0.8zM228.2 31.3h0.8v0.8h-0.8zM219.2 32.8h0.8v0.8h-0.8zM219.2 34.4h0.8v0.8h-0.8zM223.1 31.9h0.8v0.8h-0.8zM208.4 28.5h0.8v0.8h-0.8zM221.2 33.6h0.8v0.8h-0.8zM222.1 37.0h0.8v0.8h-0.8zM218.4 35.5h0.8v0.8h-0.8zM232.3 37.3h0.8v0.8h-0.8zM213.0 30.7h0.8v0.8h-0.8zM212.0 33.7h0.8v0.8h-0.8zM213.8 38.4h0.8v0.8h-0.8zM218.4 30.2h0.8v0.8h-0.8zM219.0 29.4h0.8v0.8h-0.8zM223.1 31.1h0.8v0.8h-0.8zM222.4 36.9h0.8v0.8h-0.8zM214.6 30.4h0.8v0.8h-0.8zM213.1 28.0h0.8v0.8h-0.8zM222.2 33.0h0.8v0.8h-0.8zM212.5 35.2h0.8v0.8h-0.8zM216.2 37.1h0.8v0.8h-0.8zM214.8 37.2h0.8v0.8h-0.8zM223.0 28.4h0.8v0.8h-0.8zM220.7 35.9h0.8v0.8h-0.8zM217.2 35.9h0.8v0.8h-0.8zM214.9 34.7h0.8v0.8h-0.8zM214.5 31.0h0.8v0.8h-0.8zM213.1 30.1h0.8v0.8h-0.8zM219.4 29.1h0.8v0.8h-0.8zM216.2 28.6h0.8v0.8h-0.8zM211.5 29.0h0.8v0.8h-0.8zM217.3 32.8h0.8v0.8h-0.8zM223.0 37.3h0.8v0.8h-0.8zM220.7 37.8h0.8v0.8h-0.8zM224.1 31.2h0.8v0.8h-0.8zM229.0 35.4h0.8v0.8h-0.8zM213.8 33.8h0.8v0.8h-0.8zM219.6 30.6h0.8v0.8h-0.8zM206.3 35.0h0.8v0.8h-0.8zM228.3 32.8h0.8v0.8h-0.8zM232.0 38.6h0.8v0.8h-0.8zM208.1 37.3h0.8v0.8h-0.8zM219.0 31.6h0.8v0.8h-0.8zM225.9 35.2h0.8v0.8h-0.8zM222.5 32.4h0.8v0.8h-0.8zM222.0 32.6h0.8v0.8h-0.8zM213.7 38.2h0.8v0.8h-0.8zM217.8 33.4h0.8v0.8h-0.8zM224.6 29.9h0.8v0.8h-0.8zM224.0 36.2h0.8v0.8h-0.8zM217.2 36.2h0.8v0.8h-0.8zM216.4 32.1h0.8v0.8h-0.8zM225.1 32.5h0.8v0.8h-0.8zM225.8 39.7h0.8v0.8h-0.8zM217.2 32.2h0.8v0.8h-0.8zM208.2 31.8h0.8v0.8h-0.8zM215.7 32.7h0.8v0.8h-0.8zM216.7 32.2h0.8v0.8h-0.8zM215.8 37.5h0.8v0.8h-0.8zM225.4 27.0h0.8v0.8h-0.8zM211.5 33.6h0.8v0.8h-0.8zM214.0 32.3h0.8v0.8h-0.8zM210.2 38.5h0.8v0.8h-0.8zM224.6 35.7h0.8v0.8h-0.8zM222.0 28.6h0.8v0.8h-0.8zM220.1 35.1h0.8v0.8h-0.8zM225.9 29.8h0.8v0.8h-0.8zM212.1 33.2h0.8v0.8h-0.8zM216.7 29.8h0.8v0.8h-0.8zM222.1 33.8h0.8v0.8h-0.8zM217.7 33.7h0.8v0.8h-0.8zM210.3 33.4h0.8v0.8h-0.8zM226.9 31.0h0.8v0.8h-0.8zM218.9 37.1h0.8v0.8h-0.8zM222.5 32.2h0.8v0.8h-0.8zM219.1 31.1h0.8v0.8h-0.8zM223.2 32.7h0.8v0.8h-0.8zM213.6 34.4h0.8v0.8h-0.8zM220.4 34.5h0.8v0.8h-0.8zM225.6 36.5h0.8v0.8h-0.8zM215.0 33.9h0.8v0.8h-0.8zM227.3 39.7h0.8v0.8h-0.8zM234.5 30.8h0.8v0.8h-0.8zM223.7 35.5h0.8v0.8h-0.8zM226.8 34.2h0.8v0.8h-0.8zM219.8 32.3h0.8v0.8h-0.8zM214.3 37.3h0.8v0.8h-0.8zM216.9 32.2h0.8v0.8h-0.8zM230.8 38.1h0.8v0.8h-0.8zM220.8 27.6h0.8v0.8h-0.8zM217.9 37.5h0.8v0.8h-0.8zM219.8 29.7h0.8v0.8h-0.8zM207.0 34.5h0.8v0.8h-0.8zM217.0 36.2h0.8v0.8h-0.8zM230.3 33.5h0.8v0.8h-0.8zM219.5 40.1h0.8v0.8h-0.8zM221.9 31.7h0.8v0.8h-0.8zM226.3 31.0h0.8v0.8h-0.8zM219.9 34.1h0.8v0.8h-0.8zM219.6 39.3h0.8v0.8h-0.8zM216.2 35.0h0.8v0.8h-0.8zM211.5 34.8h0.8v0.8h-0.8zM221.8 28.7h0.8v0.8h-0.8zM217.0 30.6h0.8v0.8h-0.8zM212.0 30.6h0.8v0.8h-0.8zM230.5 33.9h0.8v0.8h-0.8zM213.2 32.4h0.8v0.8h-0.8zM217.8 33.7h0.8v0.8h-0.8zM209.7 33.8h0.8v0.8h-0.8zM219.1 31.4h0.8v0.8h-0.8zM227.3 37.9h0.8v0.8h-0.8zM212.9 30.1h0.8v0.8h-0.8zM215.6 34.1h0.8v0.8h-0.8zM220.9 32.4h0.8v0.8h-0.8zM215.0 29.4h0.8v0.8h-0.8zM221.6 33.1h0.8v0.8h-0.8zM218.9 32.6h0.8v0.8h-0.8zM217.6 34.8h0.8v0.8h-0.8zM223.5 33.7h0.8v0.8h-0.8zM221.4 37.9h0.8v0.8h-0.8zM226.3 32.8h0.8v0.8h-0.8zM215.2 32.2h0.8v0.8h-0.8zM220.7 31.7h0.8v0.8h-0.8zM217.3 29.6h0.8v0.8h-0.8zM219.3 32.9h0.8v0.8h-0.8zM226.5 34.4h0.8v0.8h-0.8zM221.2 34.3h0.8v0.8h-0.8zM214.2 34.1h0.8v0.8h-0.8zM224.9 34.5h0.8v0.8h-0.8zM227.3 31.3h0.8v0.8h-0.8zM209.9 32.9h0.8v0.8h-0.8zM210.5 32.4h0.8v0.8h-0.8zM218.8 29.9h0.8v0.8h-0.8zM213.7 32.5h0.8v0.8h-0.8zM215.3 34.5h0.8v0.8h-0.8zM215.8 34.2h0.8v0.8h-0.8zM218.8 33.4h0.8v0.8h-0.8zM222.5 27.1h0.8v0.8h-0.8zM215.7 39.6h0.8v0.8h-0.8zM212.5 40.2h0.8v0.8h-0.8zM216.1 30.4h0.8v0.8h-0.8zM223.5 35.9h0.8v0.8h-0.8zM216.6 32.9h0.8v0.8h-0.8zM214.6 30.6h0.8v0.8h-0.8zM215.7 32.5h0.8v0.8h-0.8zM217.4 37.0h0.8v0.8h-0.8zM218.9 37.7h0.8v0.8h-0.8zM211.4 30.9h0.8v0.8h-0.8zM206.2 29.2h0.8v0.8h-0.8zM218.7 35.8h0.8v0.8h-0.8zM230.1 37.2h0.8v0.8h-0.8zM212.3 32.9h0.8v0.8h-0.8zM216.8 34.1h0.8v0.8h-0.8zM219.2 36.8h0.8v0.8h-0.8zM220.2 33.5h0.8v0.8h-0.8zM216.2 36.0h0.8v0.8h-0.8zM212.6 28.8h0.8v0.8h-0.8zM229.0 33.6h0.8v0.8h-0.8zM218.7 30.3h0.8v0.8h-0.8zM216.6 35.4h0.8v0.8h-0.8zM216.0 38.4h0.8v0.8h-0.8zM223.7 33.8h0.8v0.8h-0.8zM208.0 35.1h0.8v0.8h-0.8zM224.1 34.4h0.8v0.8h-0.8zM211.8 39.6h0.8v0.8h-0.8zM214.6 36.9h0.8v0.8h-0.8zM224.2 33.0h0.8v0.8h-0.8zM212.1 30.3h0.8v0.8h-0.8zM218.8 27.9h0.8v0.8h-0.8zM210.5 32.8h0.8v0.8h-0.8zM215.5 28.8h0.8v0.8h-0.8zM225.0 39.3h0.8v0.8h-0.8zM220.2 31.9h0.8v0.8h-0.8zM215.5 35.1h0.8v0.8h-0.8zM228.8 31.0h0.8v0.8h-0.8zM218.0 33.5h0.8v0.8h-0.8zM216.5 32.1h0.8v0.8h-0.8zM219.7 34.2h0.8v0.8h-0.8zM222.0 31.1h0.8v0.8h-0.8zM221.2 33.6h0.8v0.8h-0.8zM219.2 32.1h0.8v0.8h-0.8zM219.6 33.4h0.8v0.8h-0.8zM216.6 34.5h0.8v0.8h-0.8zM225.0 36.7h0.8v0.8h-0.8zM226.7 35.5h0.8v0.8h-0.8zM222.0 35.4h0.8v0.8h-0.8zM213.0 27.5h0.8v0.8h-0.8zM215.1 34.2h0.8v0.8h-0.8zM220.7 34.7h0.8v0.8h-0.8zM220.9 33.9h0.8v0.8h-0.8zM223.8 36.1h0.8v0.8h-0.8zM215.2 35.6h0.8v0.8h-0.8zM221.6 39.2h0.8v0.8h-0.8zM208.0 32.7h0.8v0.8h-0.8zM220.6 32.3h0.8v0.8h-0.8zM214.6 36.4h0.8v0.8h-0.8zM222.6 27.5h0.8v0.8h-0.8zM216.0 33.2h0.8v0.8h-0.8zM217.4 35.0h0.8v0.8h-0.8zM224.2 33.9h0.8v0.8h-0.8zM219.9 34.6h0.8v0.8h-0.8zM212.0 33.2h0.8v0.8h-0.8zM222.8 37.4h0.8v0.8h-0.8zM214.7 32.7h0.8v0.8h-0.8zM228.0 31.2h0.8v0.8h-0.8zM217.6 35.0h0.8v0.8h-0.8zM221.2 34.8h0.8v0.8h-0.8zM221.9 32.3h0.8v0.8h-0.8zM215.8 32.4h0.8v0.8h-0.8zM217.7 36.0h0.8v0.8h-0.8zM212.7 31.3h0.8v0.8h-0.8zM220.0 29.4h0.8v0.8h-0.8zM225.3 34.6h0.8v0.8h-0.8zM221.5 27.9h0.8v0.8h-0.8zM215.9 30.7h0.8v0.8h-0.8zM220.2 34.7h0.8v0.8h-0.8zM216.5 33.1h0.8v0.8h-0.8zM228.9 35.5h0.8v0.8h-0.8zM221.9 29.2h0.8v0.8h-0.8zM229.9 37.8h0.8v0.8h-0.8zM217.8 33.7h0.8v0.8h-0.8zM215.4 33.0h0.8v0.8h-0.8zM226.2 35.7h0.8v0.8h-0.8zM213.3 34.7h0.8v0.8h-0.8zM210.3 38.7h0.8v0.8h-0.8zM222.8 32.2h0.8v0.8h-0.8zM213.9 33.7h0.8v0.8h-0.8zM217.3 36.1h0.8v0.8h-0.8zM214.8 31.9h0.8v0.8h-0.8zM218.0 31.2h0.8v0.8h-0.8zM219.7 30.1h0.8v0.8h-0.8zM228.8 32.3h0.8v0.8h-0.8zM221.5 36.2h0.8v0.8h-0.8zM210.3 33.1h0.8v0.8h-0.8zM216.1 31.4h0.8v0.8h-0.8zM223.4 32.7h0.8v0.8h-0.8zM220.0 34.3h0.8v0.8h-0.8zM217.7 38.3h0.8v0.8h-0.8zM219.8 28.5h0.8v0.8h-0.8zM217.9 31.4h0.8v0.8h-0.8zM217.3 36.7h0.8v0.8h-0.8zM221.8 33.3h0.8v0.8h-0.8zM215.9 30.5h0.8v0.8h-0.8zM217.3 35.0h0.8v0.8h-0.8zM214.1 36.5h0.8v0.8h-0.8zM215.5 34.5h0.8v0.8h-0.8zM226.0 25.7h0.8v0.8h-0.8zM223.3 37.9h0.8v0.8h-0.8zM218.1 26.7h0.8v0.8h-0.8zM220.6 34.6h0.8v0.8h-0.8zM227.9 35.6h0.8v0.8h-0.8zM224.2 36.8h0.8v0.8h-0.8zM217.8 42.7h0.8v0.8h-0.8zM225.3 34.6h0.8v0.8h-0.8zM225.9 37.2h0.8v0.8h-0.8zM217.6 36.2h0.8v0.8h-0.8zM218.0 30.0h0.8v0.8h-0.8zM221.9 29.9h0.8v0.8h-0.8zM223.8 34.1h0.8v0.8h-0.8zM212.7 35.8h0.8v0.8h-0.8zM215.7 31.7h0.8v0.8h-0.8zM215.8 30.8h0.8v0.8h-0.8zM217.2 35.9h0.8v0.8h-0.8zM219.4 32.1h0.8v0.8h-0.8zM220.5 35.4h0.8v0.8h-0.8zM220.1 29.3h0.8v0.8h-0.8zM220.6 30.4h0.8v0.8h-0.8zM210.6 33.2h0.8v0.8h-0.8zM225.9 34.6h0.8v0.8h-0.8zM214.6 34.5h0.8v0.8h-0.8zM220.2 34.0h0.8v0.8h-0.8zM216.8 36.4h0.8v0.8h-0.8zM216.2 40.2h0.8v0.8h-0.8zM219.2 38.1h0.8v0.8h-0.8zM218.5 28.4h0.8v0.8h-0.8zM224.6 28.3h0.8v0.8h-0.8zM227.1 37.5h0.8v0.8h-0.8zM221.7 35.4h0.8v0.8h-0.8zM222.9 33.7h0.8v0.8h-0.8zM223.7 36.3h0.8v0.8h-0.8zM219.7 32.2h0.8v0.8h-0.8zM218.9 40.0h0.8v0.8h-0.8zM215.9 35.9h0.8v0.8h-0.8zM224.8 31.8h0.8v0.8h-0.8zM217.0 27.9h0.8v0.8h-0.8zM211.4 34.0h0.8v0.8h-0.8zM218.4 32.9h0.8v0.8h-0.8zM219.6 32.0h0.8v0.8h-0.8zM211.0 35.2h0.8v0.8h-0.8zM211.9 32.3h0.8v0.8h-0.8zM222.7 37.7h0.8v0.8h-0.8zM224.7 31.9h0.8v0.8h-0.8zM214.5 36.6h0.8v0.8h-0.8zM225.2 33.0h0.8v0.8h-0.8zM218.2 33.1h0.8v0.8h-0.8zM222.7 35.7h0.8v0.8h-0.8zM221.1 32.9h0.8v0.8h-0.8zM230.0 33.7h0.8v0.8h-0.8zM228.3 36.0h0.8v0.8h-0.8zM215.8 31.9h0.8v0.8h-0.8zM217.5 33.8h0.8v0.8h-0.8zM219.0 34.6h0.8v0.8h-0.8zM219.0 32.1h0.8v0.8h-0.8zM222.2 38.6h0.8v0.8h-0.8zM217.3 33.4h0.8v0.8h-0.8zM214.6 32.2h0.8v0.8h-0.8zM220.2 35.5h0.8v0.8h-0.8zM212.9 35.3h0.8v0.8h-0.8zM226.0 34.0h0.8v0.8h-0.8zM218.4 34.8h0.8v0.8h-0.8zM223.0 30.6h0.8v0.8h-0.8zM219.1 30.9h0.8v0.8h-0.8zM223.8 33.5h0.8v0.8h-0.8zM213.5 33.7h0.8v0.8h-0.8zM212.7 30.3h0.8v0.8h-0.8zM214.7 33.3h0.8v0.8h-0.8zM222.9 32.4h0.8v0.8h-0.8zM222.8 33.0h0.8v0.8h-0.8zM222.0 37.4h0.8v0.8h-0.8zM220.4 29.3h0.8v0.8h-0.8zM219.3 34.7h0.8v0.8h-0.8zM219.9 36.1h0.8v0.8h-0.8zM223.1 31.1h0.8v0.8h-0.8zM210.0 33.1h0.8v0.8h-0.8zM215.5 34.8h0.8v0.8h-0.8zM215.4 33.5h0.8v0.8h-0.8zM219.2 36.7h0.8v0.8h-0.8zM220.9 33.9h0.8v0.8h-0.8zM214.9 32.2h0.8v0.8h-0.8zM226.1 35.2h0.8v0.8h-0.8zM212.8 34.0h0.8v0.8h-0.8zM226.8 35.7h0.8v0.8h-0.8zM208.5 28.5h0.8v0.8h-0.8zM232.2 33.4h0.8v0.8h-0.8zM217.8 35.8h0.8v0.8h-0.8zM214.1 33.6h0.8v0.8h-0.8zM215.5 34.4h0.8v0.8h-0.8zM217.7 33.3h0.8v0.8h-0.8zM219.0 35.6h0.8v0.8h-0.8zM216.3 32.2h0.8v0.8h-0.8zM212.8 31.1h0.8v0.8h-0.8zM219.5 33.9h0.8v0.8h-0.8zM228.0 32.8h0.8v0.8h-0.8zM213.9 35.7h0.8v0.8h-0.8zM224.5 31.3h0.8v0.8h-0.8zM223.8 33.0h0.8v0.8h-0.8zM218.8 28.9h0.8v0.8h-0.8zM216.7 33.6h0.8v0.8h-0.8zM218.8 31.6h0.8v0.8h-0.8zM219.5 28.3h0.8v0.8h-0.8zM217.1 34.1h0.8v0.8h-0.8zM219.0 30.1h0.8v0.8h-0.8zM211.7 36.5h0.8v0.8h-0.8zM227.7 35.1h0.8v0.8h-0.8zM217.8 26.0h0.8v0.8h-0.8zM215.6 35.3h0.8v0.8h-0.8zM214.6 33.8h0.8v0.8h-0.8zM221.7 32.2h0.8v0.8h-0.8zM215.6 36.8h0.8v0.8h-0.8zM220.8 32.8h0.8v0.8h-0.8zM215.0 27.1h0.8v0.8h-0.8zM216.1 32.7h0.8v0.8h-0.8zM229.3 36.2h0.8v0.8h-0.8zM222.8 36.0h0.8v0.8h-0.8zM211.5 29.6h0.8v0.8h-0.8zM224.3 33.7h0.8v0.8h-0.8zM227.0 36.0h0.8v0.8h-0.8zM217.2 36.3h0.8v0.8h-0.8zM227.5 34.5h0.8v0.8h-0.8zM216.1 28.2h0.8v0.8h-0.8zM213.9 29.3h0.8v0.8h-0.8zM217.5 29.7h0.8v0.8h-0.8zM214.0 38.3h0.8v0.8h-0.8zM217.9 33.6h0.8v0.8h-0.8zM211.7 32.0h0.8v0.8h-0.8zM217.8 36.0h0.8v0.8h-0.8zM215.8 38.1h0.8v0.8h-0.8zM211.8 39.0h0.8v0.8h-0.8zM218.0 36.9h0.8v0.8h-0.8zM222.0 36.5h0.8v0.8h-0.8zM208.7 40.2h0.8v0.8h-0.8zM224.3 33.5h0.8v0.8h-0.8zM214.4 31.0h0.8v0.8h-0.8zM215.0 35.2h0.8v0.8h-0.8zM220.4 32.3h0.8v0.8h-0.8zM222.5 34.8h0.8v0.8h-0.8zM211.3 34.3h0.8v0.8h-0.8zM203.9 28.8h0.8v0.8h-0.8zM220.7 35.9h0.8v0.8h-0.8zM223.6 35.0h0.8v0.8h-0.8zM213.6 34.1h0.8v0.8h-0.8zM218.8 36.6h0.8v0.8h-0.8zM215.6 35.8h0.8v0.8h-0.8zM215.1 31.7h0.8v0.8h-0.8zM223.5 32.9h0.8v0.8h-0.8zM216.9 33.2h0.8v0.8h-0.8zM213.0 34.3h0.8v0.8h-0.8zM212.9 33.9h0.8v0.8h-0.8zM221.4 36.4h0.8v0.8h-0.8zM215.4 31.2h0.8v0.8h-0.8zM219.6 42.0h0.8v0.8h-0.8zM235.0 37.8h0.8v0.8h-0.8zM217.6 33.5h0.8v0.8h-0.8zM219.5 32.3h0.8v0.8h-0.8zM205.9 31.9h0.8v0.8h-0.8zM219.4 36.1h0.8v0.8h-0.8zM216.0 33.0h0.8v0.8h-0.8zM219.6 29.8h0.8v0.8h-0.8zM212.6 30.3h0.8v0.8h-0.8zM230.3 37.3h0.8v0.8h-0.8zM214.2 34.5h0.8v0.8h-0.8zM220.6 37.2h0.8v0.8h-0.8zM223.9 27.4h0.8v0.8h-0.8zM217.2 35.9h0.8v0.8h-0.8zM214.7 39.6h0.8v0.8h-0.8zM213.9 32.7h0.8v0.8h-0.8zM219.0 36.3h0.8v0.8h-0.8zM218.5 33.2h0.8v0.8h-0.8zM227.3 33.0h0.8v0.8h-0.8zM224.8 34.5h0.8v0.8h-0.8zM217.4 35.6h0.8v0.8h-0.8zM209.0 32.6h0.8v0.8h-0.8zM210.9 29.9h0.8v0.8h-0.8zM217.3 36.4h0.8v0.8h-0.8zM208.2 29.8h0.8v0.8h-0.8zM219.5 34.0h0.8v0.8h-0.8zM218.8 30.7h0.8v0.8h-0.8zM226.8 30.3h0.8v0.8h-0.8zM218.8 29.6h0.8v0.8h-0.8zM208.8 36.8h0.8v0.8h-0.8zM228.1 32.5h0.8v0.8h-0.8zM211.1 37.6h0.8v0.8h-0.8zM212.6 29.0h0.8v0.8h-0.8zM219.9 37.4h0.8v0.8h-0.8zM217.7 32.2h0.8v0.8h-0.8zM215.5 36.4h0.8v0.8h-0.8zM217.5 34.2h0.8v0.8h-0.8zM212.7 31.6h0.8v0.8h-0.8zM222.9 36.0h0.8v0.8h-0.8zM224.4 35.3h0.8v0.8h-0.8zM221.9 36.2h0.8v0.8h-0.8zM224.2 37.2h0.8v0.8h-0.8zM216.8 32.6h0.8v0.8h-0.8zM222.7 33.3h0.8v0.8h-0.8zM223.2 30.2h0.8v0.8h-0.8zM212.6 35.1h0.8v0.8h-0.8zM212.0 29.2h0.8v0.8h-0.8zM228.6 29.2h0.8v0.8h-0.8zM214.8 35.8h0.8v0.8h-0.8zM227.8 37.0h0.8v0.8h-0.8zM220.7 30.0h0.8v0.8h-0.8zM218.6 35.2h0.8v0.8h-0.8zM219.4 33.0h0.8v0.8h-0.8zM222.8 29.4h0.8v0.8h-0.8zM220.5 28.7h0.8v0.8h-0.8zM215.3 30.8h0.8v0.8h-0.8zM211.7 28.5h0.8v0.8h-0.8zM211.1 30.5h0.8v0.8h-0.8zM222.9 34.6h0.8v0.8h-0.8zM213.6 33.2h0.8v0.8h-0.8zM219.9 39.5h0.8v0.8h-0.8zM215.8 29.8h0.8v0.8h-0.8zM219.5 38.6h0.8v0.8h-0.8zM216.5 35.9h0.8v0.8h-0.8zM207.8 31.3h0.8v0.8h-0.8zM216.4 31.4h0.8v0.8h-0.8zM218.3 35.1h0.8v0.8h-0.8zM225.2 34.2h0.8v0.8h-0.8zM217.4 36.6h0.8v0.8h-0.8zM221.6 29.8h0.8v0.8h-0.8zM216.4 30.0h0.8v0.8h-0.8zM217.3 35.2h0.8v0.8h-0.8zM222.9 33.3h0.8v0.8h-0.8zM224.1 25.2h0.8v0.8h-0.8zM226.2 27.5h0.8v0.8h-0.8zM218.4 30.3h0.8v0.8h-0.8zM219.1 33.3h0.8v0.8h-0.8zM212.9 32.2h0.8v0.8h-0.8zM220.4 35.1h0.8v0.8h-0.8zM210.0 32.9h0.8v0.8h-0.8zM216.6 32.8h0.8v0.8h-0.8zM222.2 29.0h0.8v0.8h-0.8zM218.8 32.7h0.8v0.8h-0.8zM219.4 39.5h0.8v0.8h-0.8zM220.1 34.5h0.8v0.8h-0.8zM220.0 37.1h0.8v0.8h-0.8zM219.6 39.1h0.8v0.8h-0.8zM219.6 35.9h0.8v0.8h-0.8zM213.1 32.5h0.8v0.8h-0.8zM213.9 33.5h0.8v0.8h-0.8zM222.4 31.6h0.8v0.8h-0.8zM216.4 38.8h0.8v0.8h-0.8zM220.8 35.2h0.8v0.8h-0.8zM222.5 34.4h0.8v0.8h-0.8zM225.2 31.4h0.8v0.8h-0.8zM218.5 31.2h0.8v0.8h-0.8zM219.6 36.6h0.8v0.8h-0.8zM219.1 31.4h0.8v0.8h-0.8zM224.8 32.2h0.8v0.8h-0.8zM212.3 33.0h0.8v0.8h-0.8zM219.0 35.7h0.8v0.8h-0.8zM213.8 36.3h0.8v0.8h-0.8zM220.3 30.8h0.8v0.8h-0.8zM227.1 31.8h0.8v0.8h-0.8zM220.2 35.8h0.8v0.8h-0.8zM216.7 31.7h0.8v0.8h-0.8zM213.9 29.5h0.8v0.8h-0.8zM224.0 30.2h0.8v0.8h-0.8zM224.1 33.0h0.8v0.8h-0.8zM222.9 31.4h0.8v0.8h-0.8zM211.6 28.8h0.8v0.8h-0.8zM223.8 33.0h0.8v0.8h-0.8zM216.0 34.8h0.8v0.8h-0.8zM219.8 32.4h0.8v0.8h-0.8zM219.7 35.8h0.8v0.8h-0.8zM223.5 26.6h0.8v0.8h-0.8zM217.5 29.9h0.8v0.8h-0.8zM218.5 37.6h0.8v0.8h-0.8zM217.6 38.9h0.8v0.8h-0.8zM226.6 34.5h0.8v0.8h-0.8zM216.2 35.9h0.8v0.8h-0.8zM222.1 34.1h0.8v0.8h-0.8zM217.7 33.7h0.8v0.8h-0.8zM225.7 28.6h0.8v0.8h-0.8zM215.5 34.4h0.8v0.8h-0.8zM218.0 35.4h0.8v0.8h-0.8zM212.8 29.8h0.8v0.8h-0.8zM214.0 37.8h0.8v0.8h-0.8zM212.9 35.1h0.8v0.8h-0.8zM214.8 29.1h0.8v0.8h-0.8zM220.7 36.7h0.8v0.8h-0.8zM210.5 34.6h0.8v0.8h-0.8zM220.6 33.3h0.8v0.8h-0.8zM213.5 39.4h0.8v0.8h-0.8zM214.1 31.9h0.8v0.8h-0.8zM214.8 34.8h0.8v0.8h-0.8zM205.5 34.9h0.8v0.8h-0.8zM217.9 33.4h0.8v0.8h-0.8zM224.6 30.7h0.8v0.8h-0.8zM220.7 31.3h0.8v0.8h-0.8zM217.1 33.9h0.8v0.8h-0.8zM213.0 38.0h0.8v0.8h-0.8zM217.3 33.0h0.8v0.8h-0.8zM227.7 35.2h0.8v0.8h-0.8zM214.7 31.2h0.8v0.8h-0.8zM220.2 31.6h0.8v0.8h-0.8zM212.5 35.2h0.8v0.8h-0.8zM211.9 29.7h0.8v0.8h-0.8zM204.3 30.5h0.8v0.8h-0.8zM223.4 34.4h0.8v0.8h-0.8zM220.7 39.2h0.8v0.8h-0.8zM220.3 31.6h0.8v0.8h-0.8zM212.9 37.0h0.8v0.8h-0.8zM222.5 32.4h0.8v0.8h-0.8zM220.0 33.2h0.8v0.8h-0.8zM209.1 37.0h0.8v0.8h-0.8zM212.4 37.2h0.8v0.8h-0.8zM217.9 36.2h0.8v0.8h-0.8zM218.6 31.3h0.8v0.8h-0.8zM209.7 27.9h0.8v0.8h-0.8zM218.2 31.8h0.8v0.8h-0.8zM226.9 32.8h0.8v0.8h-0.8zM217.8 34.9h0.8v0.8h-0.8zM222.4 36.0h0.8v0.8h-0.8zM216.5 35.9h0.8v0.8h-0.8zM228.3 32.6h0.8v0.8h-0.8zM221.4 35.4h0.8v0.8h-0.8zM222.2 32.1h0.8v0.8h-0.8zM224.4 30.2h0.8v0.8h-0.8zM223.0 36.6h0.8v0.8h-0.8zM224.2 26.4h0.8v0.8h-0.8zM216.9 32.1h0.8v0.8h-0.8zM215.4 34.9h0.8v0.8h-0.8zM220.1 32.3h0.8v0.8h-0.8zM221.3 33.6h0.8v0.8h-0.8zM222.4 34.2h0.8v0.8h-0.8zM211.3 31.2h0.8v0.8h-0.8zM221.7 31.7h0.8v0.8h-0.8zM215.1 35.3h0.8v0.8h-0.8zM210.8 35.3h0.8v0.8h-0.8zM217.6 34.8h0.8v0.8h-0.8zM225.1 35.5h0.8v0.8h-0.8zM217.2 39.6h0.8v0.8h-0.8zM211.3 30.7h0.8v0.8h-0.8zM221.2 36.2h0.8v0.8h-0.8zM229.2 31.2h0.8v0.8h-0.8zM216.3 35.3h0.8v0.8h-0.8zM217.2 36.9h0.8v0.8h-0.8zM219.7 33.8h0.8v0.8h-0.8zM219.5 30.3h0.8v0.8h-0.8zM218.1 31.8h0.8v0.8h-0.8zM218.2 25.7h0.8v0.8h-0.8zM217.8 31.9h0.8v0.8h-0.8zM221.5 33.8h0.8v0.8h-0.8zM220.6 36.4h0.8v0.8h-0.8zM211.7 35.9h0.8v0.8h-0.8zM213.2 34.4h0.8v0.8h-0.8zM218.3 29.7h0.8v0.8h-0.8zM220.1 37.2h0.8v0.8h-0.8zM214.4 31.9h0.8v0.8h-0.8zM217.6 36.6h0.8v0.8h-0.8zM218.9 38.4h0.8v0.8h-0.8zM222.1 36.0h0.8v0.8h-0.8zM214.7 33.9h0.8v0.8h-0.8zM216.6 35.1h0.8v0.8h-0.8zM230.0 35.4h0.8v0.8h-0.8zM212.3 34.4h0.8v0.8h-0.8zM212.5 29.7h0.8v0.8h-0.8zM218.6 34.5h0.8v0.8h-0.8zM219.5 37.1h0.8v0.8h-0.8zM215.8 31.9h0.8v0.8h-0.8zM213.9 35.8h0.8v0.8h-0.8zM220.5 35.5h0.8v0.8h-0.8zM216.3 34.5h0.8v0.8h-0.8zM224.6 37.6h0.8v0.8h-0.8zM214.9 33.3h0.8v0.8h-0.8zM216.4 34.4h0.8v0.8h-0.8zM219.9 31.8h0.8v0.8h-0.8zM217.8 31.7h0.8v0.8h-0.8zM220.9 30.1h0.8v0.8h-0.8zM219.6 36.6h0.8v0.8h-0.8zM217.2 33.6h0.8v0.8h-0.8zM220.0 32.3h0.8v0.8h-0.8zM225.8 38.8h0.8v0.8h-0.8zM222.3 29.2h0.8v0.8h-0.8zM216.2 34.2h0.8v0.8h-0.8zM221.2 29.2h0.8v0.8h-0.8zM225.3 38.5h0.8v0.8h-0.8zM219.0 31.6h0.8v0.8h-0.8zM208.7 31.5h0.8v0.8h-0.8zM223.0 35.3h0.8v0.8h-0.8zM216.2 38.1h0.8v0.8h-0.8zM226.4 34.7h0.8v0.8h-0.8zM227.1 35.3h0.8v0.8h-0.8zM221.8 32.3h0.8v0.8h-0.8zM222.0 36.2h0.8v0.8h-0.8zM209.9 32.9h0.8v0.8h-0.8zM219.7 32.0h0.8v0.8h-0.8zM215.7 30.3h0.8v0.8h-0.8zM199.9 32.0h0.8v0.8h-0.8zM209.4 33.6h0.8v0.8h-0.8zM225.6 29.1h0.8v0.8h-0.8zM220.6 31.4h0.8v0.8h-0.8zM219.8 30.1h0.8v0.8h-0.8zM205.9 39.3h0.8v0.8h-0.8zM227.7 35.3h0.8v0.8h-0.8zM212.2 32.2h0.8v0.8h-0.8zM219.4 36.8h0.8v0.8h-0.8zM215.7 29.7h0.8v0.8h-0.8zM212.1 31.7h0.8v0.8h-0.8zM208.8 30.2h0.8v0.8h-0.8zM230.3 34.3h0.8v0.8h-0.8zM212.0 34.7h0.8v0.8h-0.8zM217.7 30.6h0.8v0.8h-0.8zM213.9 27.6h0.8v0.8h-0.8zM214.5 29.6h0.8v0.8h-0.8zM221.8 29.6h0.8v0.8h-0.8zM223.1 38.1h0.8v0.8h-0.8zM224.7 34.2h0.8v0.8h-0.8zM222.6 36.6h0.8v0.8h-0.8zM225.7 33.7h0.8v0.8h-0.8zM213.6 40.0h0.8v0.8h-0.8zM224.9 31.0h0.8v0.8h-0.8zM218.7 37.8h0.8v0.8h-0.8zM223.9 36.0h0.8v0.8h-0.8zM222.1 30.3h0.8v0.8h-0.8zM227.0 34.1h0.8v0.8h-0.8zM213.5 32.8h0.8v0.8h-0.8zM229.9 32.1h0.8v0.8h-0.8zM213.5 35.7h0.8v0.8h-0.8zM217.1 37.7h0.8v0.8h-0.8zM225.5 29.8h0.8v0.8h-0.8zM206.1 34.8h0.8v0.8h-0.8zM219.8 31.9h0.8v0.8h-0.8zM232.2 36.4h0.8v0.8h-0.8zM229.9 27.8h0.8v0.8h-0.8zM218.8 37.9h0.8v0.8h-0.8zM220.8 34.5h0.8v0.8h-0.8zM221.0 34.6h0.8v0.8h-0.8zM227.2 40.1h0.8v0.8h-0.8zM223.7 35.2h0.8v0.8h-0.8zM229.3 39.2h0.8v0.8h-0.8zM216.1 39.3h0.8v0.8h-0.8zM222.0 36.6h0.8v0.8h-0.8zM219.6 33.2h0.8v0.8h-0.8zM211.9 30.3h0.8v0.8h-0.8zM214.5 39.1h0.8v0.8h-0.8zM209.2 36.2h0.8v0.8h-0.8zM217.0 30.3h0.8v0.8h-0.8zM211.1 30.9h0.8v0.8h-0.8zM212.2 32.1h0.8v0.8h-0.8zM218.5 33.4h0.8v0.8h-0.8zM215.4 31.9h0.8v0.8h-0.8zM217.7 31.7h0.8v0.8h-0.8zM215.7 34.1h0.8v0.8h-0.8zM216.4 30.7h0.8v0.8h-0.8zM216.8 33.4h0.8v0.8h-0.8zM215.4 33.4h0.8v0.8h-0.8zM223.6 35.8h0.8v0.8h-0.8zM222.1 34.4h0.8v0.8h-0.8zM229.5 35.4h0.8v0.8h-0.8zM215.2 30.4h0.8v0.8h-0.8zM215.5 32.1h0.8v0.8h-0.8zM211.2 35.1h0.8v0.8h-0.8zM225.2 33.0h0.8v0.8h-0.8zM227.9 32.8h0.8v0.8h-0.8zM215.6 35.8h0.8v0.8h-0.8zM219.2 32.7h0.8v0.8h-0.8zM217.8 31.5h0.8v0.8h-0.8zM216.7 36.7h0.8v0.8h-0.8zM217.4 36.0h0.8v0.8h-0.8zM222.7 32.1h0.8v0.8h-0.8zM216.4 39.5h0.8v0.8h-0.8zM212.9 38.4h0.8v0.8h-0.8zM218.0 37.2h0.8v0.8h-0.8zM227.2 35.4h0.8v0.8h-0.8zM229.2 37.7h0.8v0.8h-0.8zM215.7 36.9h0.8v0.8h-0.8zM216.3 31.9h0.8v0.8h-0.8zM222.2 34.2h0.8v0.8h-0.8zM210.3 35.1h0.8v0.8h-0.8zM221.2 31.9h0.8v0.8h-0.8zM222.0 33.0h0.8v0.8h-0.8zM218.8 32.1h0.8v0.8h-0.8zM218.4 28.7h0.8v0.8h-0.8zM210.0 33.9h0.8v0.8h-0.8zM210.2 34.1h0.8v0.8h-0.8zM219.3 33.8h0.8v0.8h-0.8zM217.2 31.5h0.8v0.8h-0.8zM220.0 39.4h0.8v0.8h-0.8zM213.3 31.8h0.8v0.8h-0.8zM215.6 30.9h0.8v0.8h-0.8zM211.0 30.2h0.8v0.8h-0.8zM213.5 33.4h0.8v0.8h-0.8zM218.1 31.1h0.8v0.8h-0.8zM219.6 31.3h0.8v0.8h-0.8zM222.6 35.2h0.8v0.8h-0.8zM205.0 32.0h0.8v0.8h-0.8zM212.9 33.3h0.8v0.8h-0.8zM221.7 37.8h0.8v0.8h-0.8zM214.7 36.9h0.8v0.8h-0.8zM217.5 34.0h0.8v0.8h-0.8zM222.5 32.9h0.8v0.8h-0.8zM209.6 26.3h0.8v0.8h-0.8zM215.9 37.9h0.8v0.8h-0.8zM213.8 36.1h0.8v0.8h-0.8zM219.4 37.1h0.8v0.8h-0.8zM212.1 33.2h0.8v0.8h-0.8zM209.4 31.8h0.8v0.8h-0.8zM231.1 34.1h0.8v0.8h-0.8zM218.8 31.1h0.8v0.8h-0.8zM220.6 32.1h0.8v0.8h-0.8zM227.5 37.7h0.8v0.8h-0.8zM217.7 41.7h0.8v0.8h-0.8zM218.1 34.8h0.8v0.8h-0.8zM225.9 37.0h0.8v0.8h-0.8zM223.8 35.5h0.8v0.8h-0.8zM213.2 35.7h0.8v0.8h-0.8zM222.6 31.4h0.8v0.8h-0.8zM214.0 37.0h0.8v0.8h-0.8zM210.6 33.2h0.8v0.8h-0.8zM218.5 39.0h0.8v0.8h-0.8zM221.1 36.0h0.8v0.8h-0.8zM220.0 29.4h0.8v0.8h-0.8zM223.9 35.2h0.8v0.8h-0.8zM216.9 35.0h0.8v0.8h-0.8zM220.1 32.1h0.8v0.8h-0.8zM216.7 33.0h0.8v0.8h-0.8zM226.6 32.6h0.8v0.8h-0.8zM209.4 30.9h0.8v0.8h-0.8zM215.3 33.2h0.8v0.8h-0.8zM214.5 30.8h0.8v0.8h-0.8zM224.8 35.2h0.8v0.8h-0.8zM221.9 33.6h0.8v0.8h-0.8zM219.7 36.5h0.8v0.8h-0.8zM216.9 33.9h0.8v0.8h-0.8zM223.5 29.0h0.8v0.8h-0.8zM222.5 36.2h0.8v0.8h-0.8zM214.6 35.1h0.8v0.8h-0.8zM220.5 30.5h0.8v0.8h-0.8zM212.3 33.8h0.8v0.8h-0.8zM215.6 30.6h0.8v0.8h-0.8zM221.8 35.6h0.8v0.8h-0.8zM214.6 30.4h0.8v0.8h-0.8zM216.9 29.9h0.8v0.8h-0.8zM211.9 35.2h0.8v0.8h-0.8zM206.3 37.5h0.8v0.8h-0.8zM221.7 34.2h0.8v0.8h-0.8zM220.7 34.0h0.8v0.8h-0.8zM214.2 33.3h0.8v0.8h-0.8zM218.2 29.5h0.8v0.8h-0.8zM215.3 33.3h0.8v0.8h-0.8zM214.9 36.5h0.8v0.8h-0.8zM218.0 35.6h0.8v0.8h-0.8zM221.3 36.5h0.8v0.8h-0.8zM218.5 31.7h0.8v0.8h-0.8zM219.7 29.3h0.8v0.8h-0.8zM221.7 32.4h0.8v0.8h-0.8zM218.2 33.2h0.8v0.8h-0.8zM221.7 33.1h0.8v0.8h-0.8zM229.4 34.2h0.8v0.8h-0.8zM215.3 35.7h0.8v0.8h-0.8zM212.8 32.6h0.8v0.8h-0.8zM218.8 32.1h0.8v0.8h-0.8zM220.8 34.0h0.8v0.8h-0.8zM211.6 28.1h0.8v0.8h-0.8zM220.9 34.4h0.8v0.8h-0.8zM223.5 34.9h0.8v0.8h-0.8zM225.5 32.7h0.8v0.8h-0.8zM226.9 34.6h0.8v0.8h-0.8zM222.4 35.5h0.8v0.8h-0.8zM220.1 30.6h0.8v0.8h-0.8zM220.6 33.9h0.8v0.8h-0.8zM218.6 32.7h0.8v0.8h-0.8zM220.3 33.5h0.8v0.8h-0.8zM214.2 31.5h0.8v0.8h-0.8zM216.4 29.4h0.8v0.8h-0.8zM213.7 34.3h0.8v0.8h-0.8zM220.3 32.5h0.8v0.8h-0.8zM227.2 34.1h0.8v0.8h-0.8zM219.9 29.3h0.8v0.8h-0.8zM220.7 35.2h0.8v0.8h-0.8zM217.5 34.2h0.8v0.8h-0.8zM221.2 36.0h0.8v0.8h-0.8zM218.5 35.9h0.8v0.8h-0.8zM207.3 27.0h0.8v0.8h-0.8zM221.0 33.6h0.8v0.8h-0.8zM222.1 36.7h0.8v0.8h-0.8zM220.0 38.5h0.8v0.8h-0.8zM214.5 34.5h0.8v0.8h-0.8zM218.4 36.0h0.8v0.8h-0.8zM215.7 37.7h0.8v0.8h-0.8zM216.1 36.4h0.8v0.8h-0.8zM216.2 34.4h0.8v0.8h-0.8zM226.3 33.9h0.8v0.8h-0.8zM216.4 30.0h0.8v0.8h-0.8zM225.5 32.9h0.8v0.8h-0.8zM217.0 28.4h0.8v0.8h-0.8zM216.6 36.3h0.8v0.8h-0.8zM219.5 34.3h0.8v0.8h-0.8zM216.0 31.4h0.8v0.8h-0.8zM215.0 34.7h0.8v0.8h-0.8zM224.6 35.3h0.8v0.8h-0.8zM213.9 30.1h0.8v0.8h-0.8zM213.9 32.5h0.8v0.8h-0.8zM225.3 30.7h0.8v0.8h-0.8zM222.8 35.3h0.8v0.8h-0.8zM220.8 32.4h0.8v0.8h-0.8zM224.8 33.8h0.8v0.8h-0.8zM224.8 31.8h0.8v0.8h-0.8zM215.1 35.3h0.8v0.8h-0.8zM221.0 33.5h0.8v0.8h-0.8zM215.6 33.3h0.8v0.8h-0.8zM211.9 37.2h0.8v0.8h-0.8zM218.9 29.9h0.8v0.8h-0.8zM218.9 37.5h0.8v0.8h-0.8zM212.3 36.8h0.8v0.8h-0.8zM212.6 31.7h0.8v0.8h-0.8zM216.7 36.7h0.8v0.8h-0.8zM216.8 36.1h0.8v0.8h-0.8zM223.6 30.1h0.8v0.8h-0.8zM207.8 35.4h0.8v0.8h-0.8zM214.9 37.7h0.8v0.8h-0.8zM206.4 41.6h0.8v0.8h-0.8zM230.6 35.2h0.8v0.8h-0.8zM213.1 27.6h0.8v0.8h-0.8zM227.5 33.4h0.8v0.8h-0.8zM208.3 35.9h0.8v0.8h-0.8zM207.0 33.9h0.8v0.8h-0.8zM212.4 37.9h0.8v0.8h-0.8zM215.8 33.4h0.8v0.8h-0.8zM216.8 27.9h0.8v0.8h-0.8zM222.4 35.8h0.8v0.8h-0.8zM216.4 27.4h0.8v0.8h-0.8zM215.4 35.6h0.8v0.8h-0.8zM217.2 35.5h0.8v0.8h-0.8zM215.5 28.3h0.8v0.8h-0.8zM219.4 32.7h0.8v0.8h-0.8zM224.7 33.6h0.8v0.8h-0.8zM222.6 33.4h0.8v0.8h-0.8zM222.7 36.8h0.8v0.8h-0.8zM206.9 31.3h0.8v0.8h-0.8zM218.1 33.6h0.8v0.8h-0.8zM216.1 32.9h0.8v0.8h-0.8zM229.9 35.0h0.8v0.8h-0.8zM219.2 30.3h0.8v0.8h-0.8zM219.5 32.0h0.8v0.8h-0.8zM217.2 32.4h0.8v0.8h-0.8zM219.9 33.8h0.8v0.8h-0.8zM217.1 33.4h0.8v0.8h-0.8zM212.3 33.9h0.8v0.8h-0.8zM222.2 38.8h0.8v0.8h-0.8zM217.6 38.1h0.8v0.8h-0.8zM223.9 35.4h0.8v0.8h-0.8zM209.3 36.9h0.8v0.8h-0.8zM218.0 31.7h0.8v0.8h-0.8zM221.6 33.0h0.8v0.8h-0.8zM223.6 31.4h0.8v0.8h-0.8zM223.7 30.7h0.8v0.8h-0.8zM217.4 28.1h0.8v0.8h-0.8zM217.5 35.5h0.8v0.8h-0.8zM223.5 30.9h0.8v0.8h-0.8zM218.3 33.3h0.8v0.8h-0.8zM213.7 27.2h0.8v0.8h-0.8zM218.6 37.7h0.8v0.8h-0.8zM217.8 38.7h0.8v0.8h-0.8zM216.6 60.3h0.8v0.8h-0.8zM218.6 54.2h0.8v0.8h-0.8zM210.7 47.5h0.8v0.8h-0.8zM207.6 47.7h0.8v0.8h-0.8zM215.0 43.9h0.8v0.8h-0.8zM214.4 54.8h0.8v0.8h-0.8zM215.4 48.9h0.8v0.8h-0.8zM207.3 32.2h0.8v0.8h-0.8zM203.5 42.6h0.8v0.8h-0.8zM221.1 48.0h0.8v0.8h-0.8zM204.9 42.7h0.8v0.8h-0.8zM206.8 42.8h0.8v0.8h-0.8zM207.4 46.6h0.8v0.8h-0.8zM213.6 33.9h0.8v0.8h-0.8zM207.3 45.8h0.8v0.8h-0.8zM213.2 52.8h0.8v0.8h-0.8zM218.3 51.3h0.8v0.8h-0.8zM213.4 53.3h0.8v0.8h-0.8zM207.8 53.9h0.8v0.8h-0.8zM207.8 39.1h0.8v0.8h-0.8zM216.1 42.3h0.8v0.8h-0.8zM204.1 49.3h0.8v0.8h-0.8zM210.9 47.9h0.8v0.8h-0.8zM207.9 50.5h0.8v0.8h-0.8zM209.7 42.4h0.8v0.8h-0.8zM215.8 50.2h0.8v0.8h-0.8zM208.6 54.3h0.8v0.8h-0.8zM212.1 45.3h0.8v0.8h-0.8zM216.0 51.8h0.8v0.8h-0.8zM210.7 45.9h0.8v0.8h-0.8zM206.1 49.6h0.8v0.8h-0.8zM215.2 45.4h0.8v0.8h-0.8zM206.9 55.0h0.8v0.8h-0.8zM206.1 50.3h0.8v0.8h-0.8zM217.5 51.9h0.8v0.8h-0.8zM211.6 52.4h0.8v0.8h-0.8zM201.8 38.4h0.8v0.8h-0.8zM205.0 48.3h0.8v0.8h-0.8zM215.7 37.5h0.8v0.8h-0.8zM210.0 38.4h0.8v0.8h-0.8zM207.1 36.0h0.8v0.8h-0.8zM216.4 50.7h0.8v0.8h-0.8zM222.8 49.8h0.8v0.8h-0.8zM208.7 38.7h0.8v0.8h-0.8zM215.3 49.0h0.8v0.8h-0.8zM218.1 55.3h0.8v0.8h-0.8zM220.4 51.2h0.8v0.8h-0.8zM214.7 46.7h0.8v0.8h-0.8zM211.0 42.1h0.8v0.8h-0.8zM212.2 48.5h0.8v0.8h-0.8zM214.5 42.4h0.8v0.8h-0.8zM220.8 41.5h0.8v0.8h-0.8zM219.3 52.8h0.8v0.8h-0.8zM214.0 41.9h0.8v0.8h-0.8zM213.1 47.7h0.8v0.8h-0.8zM211.2 39.8h0.8v0.8h-0.8zM211.3 49.6h0.8v0.8h-0.8zM209.2 44.0h0.8v0.8h-0.8zM206.1 41.0h0.8v0.8h-0.8zM214.2 56.3h0.8v0.8h-0.8zM214.4 63.0h0.8v0.8h-0.8zM220.0 50.9h0.8v0.8h-0.8zM218.3 52.4h0.8v0.8h-0.8zM211.8 35.7h0.8v0.8h-0.8zM215.9 53.1h0.8v0.8h-0.8zM209.2 31.7h0.8v0.8h-0.8zM208.4 42.6h0.8v0.8h-0.8zM221.4 51.2h0.8v0.8h-0.8zM211.4 50.5h0.8v0.8h-0.8zM222.2 54.2h0.8v0.8h-0.8zM208.1 48.4h0.8v0.8h-0.8zM208.0 51.7h0.8v0.8h-0.8zM219.8 55.9h0.8v0.8h-0.8zM212.8 44.3h0.8v0.8h-0.8zM206.8 37.9h0.8v0.8h-0.8zM204.1 47.0h0.8v0.8h-0.8zM211.6 42.8h0.8v0.8h-0.8zM206.9 39.5h0.8v0.8h-0.8zM208.4 38.5h0.8v0.8h-0.8zM209.4 35.6h0.8v0.8h-0.8zM217.5 49.0h0.8v0.8h-0.8zM218.5 56.8h0.8v0.8h-0.8zM214.8 46.4h0.8v0.8h-0.8zM203.2 48.6h0.8v0.8h-0.8zM203.4 42.8h0.8v0.8h-0.8zM210.2 49.5h0.8v0.8h-0.8zM213.0 43.6h0.8v0.8h-0.8zM220.4 43.7h0.8v0.8h-0.8zM208.2 48.8h0.8v0.8h-0.8zM214.4 55.0h0.8v0.8h-0.8zM215.7 44.4h0.8v0.8h-0.8zM215.4 46.5h0.8v0.8h-0.8zM209.0 44.2h0.8v0.8h-0.8zM212.0 51.8h0.8v0.8h-0.8zM210.8 44.9h0.8v0.8h-0.8zM223.0 52.8h0.8v0.8h-0.8zM213.3 48.3h0.8v0.8h-0.8zM215.3 40.3h0.8v0.8h-0.8zM217.4 47.4h0.8v0.8h-0.8zM211.1 37.5h0.8v0.8h-0.8zM215.9 46.4h0.8v0.8h-0.8zM215.8 53.0h0.8v0.8h-0.8zM214.1 43.7h0.8v0.8h-0.8zM214.4 37.4h0.8v0.8h-0.8zM209.3 51.6h0.8v0.8h-0.8zM220.5 52.4h0.8v0.8h-0.8zM221.4 53.7h0.8v0.8h-0.8zM214.1 50.2h0.8v0.8h-0.8zM212.4 39.8h0.8v0.8h-0.8zM213.0 51.6h0.8v0.8h-0.8zM211.2 52.7h0.8v0.8h-0.8zM216.8 53.0h0.8v0.8h-0.8zM210.8 50.4h0.8v0.8h-0.8zM216.4 52.3h0.8v0.8h-0.8zM212.5 43.3h0.8v0.8h-0.8zM216.2 43.9h0.8v0.8h-0.8zM203.5 41.4h0.8v0.8h-0.8zM217.2 59.8h0.8v0.8h-0.8zM212.7 51.0h0.8v0.8h-0.8zM223.6 42.8h0.8v0.8h-0.8zM208.6 35.1h0.8v0.8h-0.8zM213.0 47.6h0.8v0.8h-0.8zM206.5 45.0h0.8v0.8h-0.8zM218.9 53.8h0.8v0.8h-0.8zM208.9 40.6h0.8v0.8h-0.8zM219.6 33.5h0.8v0.8h-0.8zM206.8 53.4h0.8v0.8h-0.8zM218.0 51.1h0.8v0.8h-0.8zM214.3 48.6h0.8v0.8h-0.8zM210.1 44.6h0.8v0.8h-0.8zM211.3 33.1h0.8v0.8h-0.8zM220.8 57.4h0.8v0.8h-0.8zM209.1 53.7h0.8v0.8h-0.8zM205.6 48.0h0.8v0.8h-0.8zM210.5 38.7h0.8v0.8h-0.8zM216.7 55.3h0.8v0.8h-0.8zM223.5 59.3h0.8v0.8h-0.8zM203.8 35.5h0.8v0.8h-0.8zM217.2 54.2h0.8v0.8h-0.8zM209.1 56.7h0.8v0.8h-0.8zM211.8 57.0h0.8v0.8h-0.8zM221.8 44.5h0.8v0.8h-0.8zM211.8 48.1h0.8v0.8h-0.8zM211.6 53.3h0.8v0.8h-0.8zM213.2 39.7h0.8v0.8h-0.8zM202.8 41.6h0.8v0.8h-0.8zM213.0 59.8h0.8v0.8h-0.8zM218.1 47.2h0.8v0.8h-0.8zM208.0 49.2h0.8v0.8h-0.8zM211.3 53.8h0.8v0.8h-0.8zM227.7 54.2h0.8v0.8h-0.8zM211.4 40.1h0.8v0.8h-0.8zM211.6 42.4h0.8v0.8h-0.8zM207.7 47.9h0.8v0.8h-0.8zM207.5 53.7h0.8v0.8h-0.8zM212.7 49.2h0.8v0.8h-0.8zM213.4 40.8h0.8v0.8h-0.8zM211.0 48.1h0.8v0.8h-0.8zM210.9 46.7h0.8v0.8h-0.8zM214.0 53.0h0.8v0.8h-0.8zM237.3 65.2h0.8v0.8h-0.8zM213.7 62.5h0.8v0.8h-0.8zM206.7 57.1h0.8v0.8h-0.8zM203.0 73.6h0.8v0.8h-0.8zM209.5 74.6h0.8v0.8h-0.8zM196.5 69.1h0.8v0.8h-0.8zM190.9 56.5h0.8v0.8h-0.8zM188.5 56.2h0.8v0.8h-0.8zM208.5 71.5h0.8v0.8h-0.8zM195.0 58.2h0.8v0.8h-0.8zM198.2 58.2h0.8v0.8h-0.8zM197.0 58.5h0.8v0.8h-0.8zM214.7 70.4h0.8v0.8h-0.8zM181.3 55.8h0.8v0.8h-0.8zM184.9 52.3h0.8v0.8h-0.8zM206.5 59.3h0.8v0.8h-0.8zM194.3 65.9h0.8v0.8h-0.8zM188.9 60.3h0.8v0.8h-0.8zM203.6 65.7h0.8v0.8h-0.8zM203.8 70.9h0.8v0.8h-0.8zM195.6 55.0h0.8v0.8h-0.8zM205.4 50.0h0.8v0.8h-0.8zM195.2 53.4h0.8v0.8h-0.8zM200.7 67.2h0.8v0.8h-0.8zM195.0 54.3h0.8v0.8h-0.8zM177.5 61.7h0.8v0.8h-0.8zM181.2 59.1h0.8v0.8h-0.8zM194.1 68.4h0.8v0.8h-0.8zM211.2 62.1h0.8v0.8h-0.8zM196.9 62.1h0.8v0.8h-0.8zM201.6 76.1h0.8v0.8h-0.8zM219.9 61.1h0.8v0.8h-0.8zM197.7 72.5h0.8v0.8h-0.8zM191.1 58.9h0.8v0.8h-0.8zM196.2 63.8h0.8v0.8h-0.8zM196.0 60.4h0.8v0.8h-0.8zM205.8 54.9h0.8v0.8h-0.8zM191.6 53.7h0.8v0.8h-0.8zM194.2 61.9h0.8v0.8h-0.8zM192.2 51.5h0.8v0.8h-0.8zM188.9 60.9h0.8v0.8h-0.8zM200.7 62.4h0.8v0.8h-0.8zM201.4 56.0h0.8v0.8h-0.8zM207.5 59.3h0.8v0.8h-0.8zM190.8 50.6h0.8v0.8h-0.8zM209.2 69.5h0.8v0.8h-0.8zM195.7 56.7h0.8v0.8h-0.8zM207.2 70.0h0.8v0.8h-0.8zM196.9 48.5h0.8v0.8h-0.8zM196.8 47.5h0.8v0.8h-0.8zM194.8 55.6h0.8v0.8h-0.8zM199.7 67.1h0.8v0.8h-0.8zM179.1 63.0h0.8v0.8h-0.8zM184.4 56.6h0.8v0.8h-0.8zM213.6 68.5h0.8v0.8h-0.8zM200.4 58.2h0.8v0.8h-0.8zM194.9 57.1h0.8v0.8h-0.8zM183.3 49.7h0.8v0.8h-0.8zM213.3 67.5h0.8v0.8h-0.8zM204.1 70.0h0.8v0.8h-0.8zM183.1 58.1h0.8v0.8h-0.8zM192.2 52.1h0.8v0.8h-0.8zM212.7 65.1h0.8v0.8h-0.8zM200.4 60.1h0.8v0.8h-0.8zM193.5 65.1h0.8v0.8h-0.8zM193.2 69.7h0.8v0.8h-0.8zM204.7 70.0h0.8v0.8h-0.8zM196.7 67.2h0.8v0.8h-0.8zM201.5 59.6h0.8v0.8h-0.8zM203.5 58.4h0.8v0.8h-0.8zM207.2 72.8h0.8v0.8h-0.8zM201.2 71.7h0.8v0.8h-0.8zM177.0 44.1h0.8v0.8h-0.8zM191.5 56.0h0.8v0.8h-0.8zM217.8 73.5h0.8v0.8h-0.8zM189.6 46.6h0.8v0.8h-0.8zM201.8 62.1h0.8v0.8h-0.8zM212.3 72.7h0.8v0.8h-0.8zM199.2 65.7h0.8v0.8h-0.8zM203.9 54.7h0.8v0.8h-0.8zM196.4 64.2h0.8v0.8h-0.8zM200.3 66.3h0.8v0.8h-0.8zM201.7 48.0h0.8v0.8h-0.8zM200.6 48.1h0.8v0.8h-0.8zM212.6 69.5h0.8v0.8h-0.8zM212.0 64.3h0.8v0.8h-0.8zM193.2 49.7h0.8v0.8h-0.8zM183.0 63.4h0.8v0.8h-0.8zM190.6 47.7h0.8v0.8h-0.8zM214.7 72.1h0.8v0.8h-0.8zM181.0 47.5h0.8v0.8h-0.8zM206.1 65.0h0.8v0.8h-0.8zM189.4 63.1h0.8v0.8h-0.8zM200.9 61.4h0.8v0.8h-0.8zM195.5 59.0h0.8v0.8h-0.8zM210.1 56.0h0.8v0.8h-0.8zM201.3 58.3h0.8v0.8h-0.8zM203.6 62.1h0.8v0.8h-0.8zM207.0 70.4h0.8v0.8h-0.8zM188.6 57.8h0.8v0.8h-0.8zM206.0 67.0h0.8v0.8h-0.8zM194.1 57.1h0.8v0.8h-0.8zM198.4 50.7h0.8v0.8h-0.8zM197.8 70.4h0.8v0.8h-0.8zM191.4 55.1h0.8v0.8h-0.8zM192.2 71.8h0.8v0.8h-0.8zM192.3 51.7h0.8v0.8h-0.8zM198.8 57.8h0.8v0.8h-0.8zM209.8 59.9h0.8v0.8h-0.8zM186.2 68.3h0.8v0.8h-0.8zM196.3 50.2h0.8v0.8h-0.8zM199.9 51.5h0.8v0.8h-0.8zM194.5 65.7h0.8v0.8h-0.8zM185.7 53.2h0.8v0.8h-0.8zM196.9 60.0h0.8v0.8h-0.8zM196.5 70.7h0.8v0.8h-0.8zM214.2 60.3h0.8v0.8h-0.8zM176.0 61.9h0.8v0.8h-0.8zM212.0 76.7h0.8v0.8h-0.8zM193.7 54.8h0.8v0.8h-0.8zM208.5 68.8h0.8v0.8h-0.8zM200.4 68.1h0.8v0.8h-0.8zM202.1 71.8h0.8v0.8h-0.8zM200.6 73.9h0.8v0.8h-0.8zM187.8 61.9h0.8v0.8h-0.8zM204.4 63.3h0.8v0.8h-0.8zM197.0 68.4h0.8v0.8h-0.8zM208.8 62.4h0.8v0.8h-0.8zM200.9 65.2h0.8v0.8h-0.8zM200.9 62.2h0.8v0.8h-0.8zM214.4 67.3h0.8v0.8h-0.8zM206.7 73.9h0.8v0.8h-0.8zM198.1 65.6h0.8v0.8h-0.8zM212.5 70.2h0.8v0.8h-0.8zM199.9 54.5h0.8v0.8h-0.8zM207.8 63.6h0.8v0.8h-0.8zM197.7 62.4h0.8v0.8h-0.8zM212.3 72.6h0.8v0.8h-0.8zM197.1 62.1h0.8v0.8h-0.8zM208.5 67.2h0.8v0.8h-0.8zM184.2 59.5h0.8v0.8h-0.8zM200.6 73.7h0.8v0.8h-0.8zM207.0 60.3h0.8v0.8h-0.8zM188.4 56.5h0.8v0.8h-0.8zM179.2 46.3h0.8v0.8h-0.8zM196.4 64.7h0.8v0.8h-0.8zM198.9 58.4h0.8v0.8h-0.8zM200.1 61.9h0.8v0.8h-0.8zM200.3 62.0h0.8v0.8h-0.8zM211.6 76.1h0.8v0.8h-0.8zM206.7 64.7h0.8v0.8h-0.8zM208.2 66.0h0.8v0.8h-0.8zM186.6 62.0h0.8v0.8h-0.8zM196.4 60.7h0.8v0.8h-0.8zM205.8 63.9h0.8v0.8h-0.8zM198.3 59.8h0.8v0.8h-0.8zM209.1 68.6h0.8v0.8h-0.8zM203.1 78.7h0.8v0.8h-0.8zM199.0 57.3h0.8v0.8h-0.8zM198.0 55.4h0.8v0.8h-0.8zM197.3 71.2h0.8v0.8h-0.8zM191.7 48.1h0.8v0.8h-0.8zM212.2 66.6h0.8v0.8h-0.8zM178.5 48.0h0.8v0.8h-0.8zM199.2 57.9h0.8v0.8h-0.8zM184.3 58.3h0.8v0.8h-0.8zM219.1 68.8h0.8v0.8h-0.8zM221.1 68.0h0.8v0.8h-0.8zM212.1 60.7h0.8v0.8h-0.8zM203.8 69.4h0.8v0.8h-0.8zM189.0 55.4h0.8v0.8h-0.8zM197.6 50.8h0.8v0.8h-0.8zM178.6 63.8h0.8v0.8h-0.8zM199.5 65.7h0.8v0.8h-0.8zM203.7 49.2h0.8v0.8h-0.8zM188.8 57.9h0.8v0.8h-0.8zM216.7 70.2h0.8v0.8h-0.8zM187.2 57.5h0.8v0.8h-0.8zM214.9 68.0h0.8v0.8h-0.8zM206.0 67.1h0.8v0.8h-0.8zM206.6 66.7h0.8v0.8h-0.8zM206.5 55.9h0.8v0.8h-0.8zM195.4 60.7h0.8v0.8h-0.8zM204.1 70.0h0.8v0.8h-0.8zM183.6 39.7h0.8v0.8h-0.8zM195.3 64.7h0.8v0.8h-0.8zM201.7 59.0h0.8v0.8h-0.8zM180.9 45.6h0.8v0.8h-0.8zM203.5 59.6h0.8v0.8h-0.8zM195.6 43.8h0.8v0.8h-0.8zM210.1 65.5h0.8v0.8h-0.8zM196.0 61.7h0.8v0.8h-0.8zM191.1 55.1h0.8v0.8h-0.8zM207.2 66.4h0.8v0.8h-0.8zM210.1 64.9h0.8v0.8h-0.8zM203.6 66.5h0.8v0.8h-0.8zM195.8 51.3h0.8v0.8h-0.8zM205.8 65.7h0.8v0.8h-0.8zM200.8 60.7h0.8v0.8h-0.8zM195.3 57.3h0.8v0.8h-0.8zM212.3 79.5h0.8v0.8h-0.8zM206.5 77.9h0.8v0.8h-0.8zM196.5 61.9h0.8v0.8h-0.8zM213.0 72.6h0.8v0.8h-0.8zM204.7 59.2h0.8v0.8h-0.8zM192.4 62.2h0.8v0.8h-0.8zM192.8 48.5h0.8v0.8h-0.8zM202.9 73.7h0.8v0.8h-0.8zM192.4 62.6h0.8v0.8h-0.8zM203.8 67.0h0.8v0.8h-0.8zM196.2 50.9h0.8v0.8h-0.8zM205.5 67.5h0.8v0.8h-0.8zM188.3 51.3h0.8v0.8h-0.8zM196.3 53.7h0.8v0.8h-0.8zM208.9 72.5h0.8v0.8h-0.8zM209.2 68.6h0.8v0.8h-0.8zM203.3 68.0h0.8v0.8h-0.8zM216.1 63.1h0.8v0.8h-0.8zM213.7 69.9h0.8v0.8h-0.8zM185.2 57.9h0.8v0.8h-0.8zM198.5 60.1h0.8v0.8h-0.8zM188.8 53.9h0.8v0.8h-0.8zM185.8 62.0h0.8v0.8h-0.8zM192.3 59.6h0.8v0.8h-0.8zM196.6 59.2h0.8v0.8h-0.8zM200.2 56.0h0.8v0.8h-0.8zM202.8 74.8h0.8v0.8h-0.8zM206.6 54.6h0.8v0.8h-0.8zM183.0 60.0h0.8v0.8h-0.8zM199.8 53.3h0.8v0.8h-0.8zM178.5 55.1h0.8v0.8h-0.8zM189.3 53.1h0.8v0.8h-0.8zM197.0 58.1h0.8v0.8h-0.8zM206.0 57.9h0.8v0.8h-0.8zM208.9 64.4h0.8v0.8h-0.8zM196.5 66.5h0.8v0.8h-0.8zM200.7 49.9h0.8v0.8h-0.8zM195.3 48.3h0.8v0.8h-0.8zM196.2 58.0h0.8v0.8h-0.8zM201.0 59.3h0.8v0.8h-0.8zM204.7 76.4h0.8v0.8h-0.8zM225.8 73.0h0.8v0.8h-0.8zM187.9 53.7h0.8v0.8h-0.8zM202.8 57.8h0.8v0.8h-0.8zM208.9 71.9h0.8v0.8h-0.8zM200.7 64.7h0.8v0.8h-0.8zM198.7 49.0h0.8v0.8h-0.8zM212.1 65.3h0.8v0.8h-0.8zM195.9 64.0h0.8v0.8h-0.8zM210.7 67.5h0.8v0.8h-0.8zM191.9 79.8h0.8v0.8h-0.8zM174.2 67.9h0.8v0.8h-0.8zM194.5 64.4h0.8v0.8h-0.8zM191.4 81.2h0.8v0.8h-0.8zM183.5 73.4h0.8v0.8h-0.8zM200.0 74.8h0.8v0.8h-0.8zM190.1 97.5h0.8v0.8h-0.8zM214.7 77.0h0.8v0.8h-0.8zM191.7 73.4h0.8v0.8h-0.8zM179.8 64.5h0.8v0.8h-0.8zM172.4 69.4h0.8v0.8h-0.8zM215.4 73.5h0.8v0.8h-0.8zM202.5 80.0h0.8v0.8h-0.8zM189.5 70.0h0.8v0.8h-0.8zM152.7 71.1h0.8v0.8h-0.8zM193.9 77.3h0.8v0.8h-0.8zM160.8 62.4h0.8v0.8h-0.8zM177.6 86.0h0.8v0.8h-0.8zM199.6 88.1h0.8v0.8h-0.8zM192.4 91.3h0.8v0.8h-0.8zM171.7 76.7h0.8v0.8h-0.8zM191.3 71.4h0.8v0.8h-0.8zM157.5 78.3h0.8v0.8h-0.8zM177.7 86.3h0.8v0.8h-0.8zM192.7 72.7h0.8v0.8h-0.8zM181.4 69.3h0.8v0.8h-0.8zM194.2 87.4h0.8v0.8h-0.8zM208.3 87.6h0.8v0.8h-0.8zM196.4 73.9h0.8v0.8h-0.8zM204.7 84.3h0.8v0.8h-0.8zM193.0 82.4h0.8v0.8h-0.8zM207.3 87.6h0.8v0.8h-0.8zM206.9 80.7h0.8v0.8h-0.8zM180.4 71.0h0.8v0.8h-0.8zM197.9 77.1h0.8v0.8h-0.8zM187.9 85.4h0.8v0.8h-0.8zM192.4 85.9h0.8v0.8h-0.8zM204.1 89.1h0.8v0.8h-0.8zM191.1 81.0h0.8v0.8h-0.8zM202.4 80.4h0.8v0.8h-0.8zM189.5 70.9h0.8v0.8h-0.8zM182.1 73.5h0.8v0.8h-0.8zM187.6 70.6h0.8v0.8h-0.8zM207.4 91.8h0.8v0.8h-0.8zM182.1 76.5h0.8v0.8h-0.8zM182.4 76.8h0.8v0.8h-0.8zM181.9 77.8h0.8v0.8h-0.8zM198.5 91.7h0.8v0.8h-0.8zM195.4 99.1h0.8v0.8h-0.8zM194.1 74.7h0.8v0.8h-0.8zM192.3 81.4h0.8v0.8h-0.8zM186.9 83.0h0.8v0.8h-0.8zM202.2 69.5h0.8v0.8h-0.8zM198.7 86.9h0.8v0.8h-0.8zM181.9 61.9h0.8v0.8h-0.8zM185.7 86.8h0.8v0.8h-0.8zM201.8 97.7h0.8v0.8h-0.8zM199.1 82.9h0.8v0.8h-0.8zM190.9 93.9h0.8v0.8h-0.8zM178.8 76.7h0.8v0.8h-0.8zM198.3 70.8h0.8v0.8h-0.8zM194.7 77.5h0.8v0.8h-0.8zM196.2 68.2h0.8v0.8h-0.8zM172.5 80.0h0.8v0.8h-0.8zM172.5 68.7h0.8v0.8h-0.8zM193.4 72.3h0.8v0.8h-0.8zM179.9 74.4h0.8v0.8h-0.8zM168.1 76.9h0.8v0.8h-0.8zM179.2 80.0h0.8v0.8h-0.8zM205.1 91.7h0.8v0.8h-0.8zM207.8 89.6h0.8v0.8h-0.8zM185.7 69.7h0.8v0.8h-0.8zM197.5 81.9h0.8v0.8h-0.8zM185.7 80.7h0.8v0.8h-0.8zM191.6 74.2h0.8v0.8h-0.8zM179.9 94.9h0.8v0.8h-0.8zM192.3 93.1h0.8v0.8h-0.8zM205.5 81.5h0.8v0.8h-0.8zM171.9 79.3h0.8v0.8h-0.8zM169.3 76.3h0.8v0.8h-0.8zM196.8 83.4h0.8v0.8h-0.8zM192.4 88.9h0.8v0.8h-0.8zM179.4 85.2h0.8v0.8h-0.8zM198.6 81.6h0.8v0.8h-0.8zM195.9 79.7h0.8v0.8h-0.8zM188.4 89.1h0.8v0.8h-0.8zM185.1 87.0h0.8v0.8h-0.8zM192.1 67.5h0.8v0.8h-0.8zM206.7 85.4h0.8v0.8h-0.8zM176.3 74.6h0.8v0.8h-0.8zM207.0 87.8h0.8v0.8h-0.8zM191.3 85.0h0.8v0.8h-0.8zM179.4 77.9h0.8v0.8h-0.8zM200.2 76.3h0.8v0.8h-0.8zM194.3 81.2h0.8v0.8h-0.8zM186.9 75.3h0.8v0.8h-0.8zM196.1 86.2h0.8v0.8h-0.8zM179.6 78.0h0.8v0.8h-0.8zM202.8 82.9h0.8v0.8h-0.8zM167.3 62.8h0.8v0.8h-0.8zM191.8 87.6h0.8v0.8h-0.8zM202.0 82.5h0.8v0.8h-0.8zM172.3 80.3h0.8v0.8h-0.8zM209.5 92.4h0.8v0.8h-0.8zM197.3 72.5h0.8v0.8h-0.8zM178.8 71.6h0.8v0.8h-0.8zM192.7 74.7h0.8v0.8h-0.8zM178.2 82.1h0.8v0.8h-0.8zM174.3 91.8h0.8v0.8h-0.8zM183.2 75.1h0.8v0.8h-0.8zM182.2 79.8h0.8v0.8h-0.8zM186.7 61.5h0.8v0.8h-0.8zM173.4 89.2h0.8v0.8h-0.8zM179.7 72.1h0.8v0.8h-0.8zM160.8 75.2h0.8v0.8h-0.8zM160.8 77.1h0.8v0.8h-0.8zM194.8 71.3h0.8v0.8h-0.8zM184.1 83.4h0.8v0.8h-0.8zM194.5 73.8h0.8v0.8h-0.8zM178.5 71.7h0.8v0.8h-0.8zM171.3 70.3h0.8v0.8h-0.8zM182.7 76.6h0.8v0.8h-0.8zM180.1 82.1h0.8v0.8h-0.8zM212.8 86.0h0.8v0.8h-0.8zM194.6 79.2h0.8v0.8h-0.8zM184.5 88.1h0.8v0.8h-0.8zM197.1 88.7h0.8v0.8h-0.8zM193.2 77.7h0.8v0.8h-0.8zM206.3 82.4h0.8v0.8h-0.8zM198.6 88.4h0.8v0.8h-0.8zM167.8 76.7h0.8v0.8h-0.8zM180.6 71.6h0.8v0.8h-0.8zM181.2 71.6h0.8v0.8h-0.8zM197.3 86.3h0.8v0.8h-0.8zM193.2 87.4h0.8v0.8h-0.8zM186.3 77.9h0.8v0.8h-0.8zM193.6 84.3h0.8v0.8h-0.8zM184.1 79.6h0.8v0.8h-0.8zM175.7 71.4h0.8v0.8h-0.8zM206.8 78.3h0.8v0.8h-0.8zM201.0 79.0h0.8v0.8h-0.8zM184.7 91.5h0.8v0.8h-0.8zM201.3 79.6h0.8v0.8h-0.8zM196.1 76.5h0.8v0.8h-0.8zM194.4 88.4h0.8v0.8h-0.8zM174.3 69.8h0.8v0.8h-0.8zM185.8 86.5h0.8v0.8h-0.8zM184.1 77.6h0.8v0.8h-0.8zM183.5 78.0h0.8v0.8h-0.8zM193.9 86.7h0.8v0.8h-0.8zM196.1 80.1h0.8v0.8h-0.8zM187.0 71.5h0.8v0.8h-0.8zM181.2 72.4h0.8v0.8h-0.8zM197.5 88.3h0.8v0.8h-0.8zM177.6 83.3h0.8v0.8h-0.8zM174.8 67.8h0.8v0.8h-0.8zM193.4 74.6h0.8v0.8h-0.8zM194.2 89.2h0.8v0.8h-0.8zM183.7 80.5h0.8v0.8h-0.8zM184.3 75.7h0.8v0.8h-0.8zM159.8 81.6h0.8v0.8h-0.8zM168.4 87.7h0.8v0.8h-0.8zM182.2 105.0h0.8v0.8h-0.8zM191.5 89.7h0.8v0.8h-0.8zM158.6 97.7h0.8v0.8h-0.8zM176.0 101.2h0.8v0.8h-0.8zM166.8 104.1h0.8v0.8h-0.8zM169.2 102.6h0.8v0.8h-0.8zM173.0 96.7h0.8v0.8h-0.8zM165.0 68.1h0.8v0.8h-0.8zM165.3 94.1h0.8v0.8h-0.8zM175.9 92.5h0.8v0.8h-0.8zM188.1 104.5h0.8v0.8h-0.8zM198.8 87.5h0.8v0.8h-0.8zM191.0 116.9h0.8v0.8h-0.8zM179.0 95.2h0.8v0.8h-0.8zM200.8 99.9h0.8v0.8h-0.8zM168.3 80.7h0.8v0.8h-0.8zM178.0 97.4h0.8v0.8h-0.8zM168.2 104.7h0.8v0.8h-0.8zM180.5 87.7h0.8v0.8h-0.8zM165.0 92.2h0.8v0.8h-0.8zM171.3 101.8h0.8v0.8h-0.8zM182.5 93.4h0.8v0.8h-0.8zM177.2 96.3h0.8v0.8h-0.8zM179.3 93.2h0.8v0.8h-0.8zM178.3 109.0h0.8v0.8h-0.8zM189.1 97.6h0.8v0.8h-0.8zM177.7 107.2h0.8v0.8h-0.8zM188.3 93.8h0.8v0.8h-0.8zM186.1 105.5h0.8v0.8h-0.8zM169.1 98.4h0.8v0.8h-0.8zM173.2 120.3h0.8v0.8h-0.8zM178.6 72.6h0.8v0.8h-0.8zM204.7 83.1h0.8v0.8h-0.8zM189.3 79.0h0.8v0.8h-0.8zM182.5 78.8h0.8v0.8h-0.8zM182.0 88.0h0.8v0.8h-0.8zM172.0 95.1h0.8v0.8h-0.8zM191.5 117.9h0.8v0.8h-0.8zM198.4 91.8h0.8v0.8h-0.8zM199.8 109.6h0.8v0.8h-0.8zM165.7 91.5h0.8v0.8h-0.8zM216.5 110.1h0.8v0.8h-0.8zM154.3 80.3h0.8v0.8h-0.8zM171.2 103.9h0.8v0.8h-0.8zM181.7 81.5h0.8v0.8h-0.8zM184.5 88.1h0.8v0.8h-0.8zM175.0 73.5h0.8v0.8h-0.8zM172.0 94.4h0.8v0.8h-0.8zM206.3 87.4h0.8v0.8h-0.8zM169.4 108.1h0.8v0.8h-0.8zM179.6 80.7h0.8v0.8h-0.8zM181.2 86.5h0.8v0.8h-0.8zM215.6 113.1h0.8v0.8h-0.8zM197.4 86.7h0.8v0.8h-0.8zM153.4 82.7h0.8v0.8h-0.8zM192.0 106.7h0.8v0.8h-0.8zM155.2 68.5h0.8v0.8h-0.8zM198.6 90.5h0.8v0.8h-0.8zM167.6 95.7h0.8v0.8h-0.8zM165.4 75.0h0.8v0.8h-0.8zM179.4 112.0h0.8v0.8h-0.8zM207.0 112.0h0.8v0.8h-0.8zM192.9 100.2h0.8v0.8h-0.8zM195.7 104.8h0.8v0.8h-0.8zM168.4 91.0h0.8v0.8h-0.8zM218.0 102.9h.6v.6h-.6zM216.5 31.3h.6v.6h-.6zM159.7 47.7h.6v.6h-.6zM168.8 83.7h.6v.6h-.6zM199.9 93.2h.6v.6h-.6zM183.6 43.0h.6v.6h-.6zM235.8 27.9h.6v.6h-.6zM209.9 33.4h.6v.6h-.6zM242.9 85.5h.6v.6h-.6zM227.0 33.6h.6v.6h-.6zM241.0 74.2h.6v.6h-.6zM195.6 32.2h.6v.6h-.6zM208.4 23.7h.6v.6h-.6zM168.1 41.8h.6v.6h-.6zM200.7 108.0h.6v.6h-.6zM206.7 94.5h.6v.6h-.6zM211.0 37.1h.6v.6h-.6zM232.1 103.5h.6v.6h-.6zM172.0 35.4h.6v.6h-.6zM181.4 90.9h.6v.6h-.6zM153.4 70.7h.6v.6h-.6zM188.7 116.5h.6v.6h-.6zM170.0 114.8h.6v.6h-.6zM243.1 115.0h.6v.6h-.6zM221.4 106.5h.6v.6h-.6zM230.1 65.3h.6v.6h-.6zM244.5 95.3h.6v.6h-.6zM188.1 65.5h.6v.6h-.6zM171.8 90.9h.6v.6h-.6zM217.2 117.1h.6v.6h-.6zM217.2 37.5h.6v.6h-.6zM242.2 98.1h.6v.6h-.6zM215.7 57.5h.6v.6h-.6zM181.3 113.4h.6v.6h-.6zM222.3 70.3h.6v.6h-.6zM158.9 62.9h.6v.6h-.6zM232.0 84.9h.6v.6h-.6zM230.0 83.3h.6v.6h-.6zM203.0 59.3h.6v.6h-.6zM238.4 27.7h.6v.6h-.6z" stroke="none" fill="#111" stroke-width="1" fill-opacity="0.7"/>
<rect x="206.3" y="26.2" width="23.6" height="15.2" stroke="#333" fill="none" stroke-width="0.8"/>
<text x="151.6" y="56.6" font-size="8.3" stroke="#231f20" stroke-width="0.14" textLength="56.5">CD11c<tspan font-size="4.6" dy="-3.2">+</tspan><tspan dy="3.2">MHC-II</tspan><tspan font-size="4.6" dy="-3.2">+</tspan></text>
<text x="164.5" y="66.8" font-size="8.3" stroke="#231f20" stroke-width="0.14">80.6 %</text>
<line x1="24.4" y1="121" x2="24.4" y2="29" stroke="#231f20" stroke-width="0.9"/>
<path d="M21.9 30.2 L24.4 24.6 L26.9 30.2 Z" stroke="none" fill="#231f20" stroke-width="1"/>
<line x1="39.5" y1="134.3" x2="245" y2="134.3" stroke="#231f20" stroke-width="0.9"/>
<path d="M244 131.8 L249.8 134.3 L244 136.8 Z" stroke="none" fill="#231f20" stroke-width="1"/>
<text x="20.6" y="106.8" font-size="10.4" text-anchor="middle" stroke="#231f20" stroke-width="0.14" transform="rotate(-90 20.6 106.8)" textLength="29.8" lengthAdjust="spacingAndGlyphs">MHC-II</text>
<text x="39.6" y="148.2" font-size="10.6" stroke="#231f20" stroke-width="0.14" letter-spacing="0.35">CD11c</text>
<line x1="262.6" y1="28.7" x2="265.6" y2="28.7" stroke="#333" stroke-width="0.8"/>
<text x="261.6" y="30" font-size="3.8" text-anchor="end" fill="#444">100</text>
<line x1="264.1" y1="33.35" x2="265.6" y2="33.35" stroke="#555" stroke-width="0.5"/>
<line x1="264.1" y1="38" x2="265.6" y2="38" stroke="#555" stroke-width="0.5"/>
<line x1="264.1" y1="42.65" x2="265.6" y2="42.65" stroke="#555" stroke-width="0.5"/>
<line x1="262.6" y1="47.3" x2="265.6" y2="47.3" stroke="#333" stroke-width="0.8"/>
<text x="261.6" y="48.6" font-size="3.8" text-anchor="end" fill="#444">80</text>
<line x1="264.1" y1="51.95" x2="265.6" y2="51.95" stroke="#555" stroke-width="0.5"/>
<line x1="264.1" y1="56.6" x2="265.6" y2="56.6" stroke="#555" stroke-width="0.5"/>
<line x1="264.1" y1="61.25" x2="265.6" y2="61.25" stroke="#555" stroke-width="0.5"/>
<line x1="262.6" y1="65.9" x2="265.6" y2="65.9" stroke="#333" stroke-width="0.8"/>
<text x="261.6" y="67.2" font-size="3.8" text-anchor="end" fill="#444">60</text>
<line x1="264.1" y1="70.55" x2="265.6" y2="70.55" stroke="#555" stroke-width="0.5"/>
<line x1="264.1" y1="75.2" x2="265.6" y2="75.2" stroke="#555" stroke-width="0.5"/>
<line x1="264.1" y1="79.85" x2="265.6" y2="79.85" stroke="#555" stroke-width="0.5"/>
<line x1="262.6" y1="84.5" x2="265.6" y2="84.5" stroke="#333" stroke-width="0.8"/>
<text x="261.6" y="85.8" font-size="3.8" text-anchor="end" fill="#444">40</text>
<line x1="264.1" y1="89.15" x2="265.6" y2="89.15" stroke="#555" stroke-width="0.5"/>
<line x1="264.1" y1="93.8" x2="265.6" y2="93.8" stroke="#555" stroke-width="0.5"/>
<line x1="264.1" y1="98.45" x2="265.6" y2="98.45" stroke="#555" stroke-width="0.5"/>
<line x1="262.6" y1="103.1" x2="265.6" y2="103.1" stroke="#333" stroke-width="0.8"/>
<text x="261.6" y="104.4" font-size="3.8" text-anchor="end" fill="#444">20</text>
<line x1="264.1" y1="107.75" x2="265.6" y2="107.75" stroke="#555" stroke-width="0.5"/>
<line x1="264.1" y1="112.4" x2="265.6" y2="112.4" stroke="#555" stroke-width="0.5"/>
<line x1="264.1" y1="117.05" x2="265.6" y2="117.05" stroke="#555" stroke-width="0.5"/>
<line x1="262.6" y1="121.7" x2="265.6" y2="121.7" stroke="#333" stroke-width="0.8"/>
<text x="261.6" y="123" font-size="3.8" text-anchor="end" fill="#444">0</text>
<line x1="283.6" y1="122.7" x2="283.6" y2="125.2" stroke="#333" stroke-width="0.8"/>
<text x="283.6" y="130.7" font-size="3.8" text-anchor="middle" fill="#444">0</text>
<line x1="314.5" y1="122.7" x2="314.5" y2="125.2" stroke="#333" stroke-width="0.8"/>
<text x="314.5" y="130.7" font-size="3.8" text-anchor="middle" fill="#444">10<tspan font-size="2.6" dy="-1.6">4</tspan></text>
<line x1="331" y1="122.7" x2="331" y2="125.2" stroke="#333" stroke-width="0.8"/>
<text x="331" y="130.7" font-size="3.8" text-anchor="middle" fill="#444">10<tspan font-size="2.6" dy="-1.6">5</tspan></text>
<line x1="347.5" y1="122.7" x2="347.5" y2="125.2" stroke="#333" stroke-width="0.8"/>
<text x="347.5" y="130.7" font-size="3.8" text-anchor="middle" fill="#444">10<tspan font-size="2.6" dy="-1.6">6</tspan></text>
<line x1="363" y1="122.7" x2="363" y2="125.2" stroke="#333" stroke-width="0.8"/>
<text x="363" y="130.7" font-size="3.8" text-anchor="middle" fill="#444">10<tspan font-size="2.6" dy="-1.6">7</tspan></text>
<line x1="287.03" y1="122.7" x2="287.03" y2="124.1" stroke="#555" stroke-width="0.45"/>
<line x1="290.47" y1="122.7" x2="290.47" y2="124.1" stroke="#555" stroke-width="0.45"/>
<line x1="293.9" y1="122.7" x2="293.9" y2="124.1" stroke="#555" stroke-width="0.45"/>
<line x1="297.33" y1="122.7" x2="297.33" y2="124.1" stroke="#555" stroke-width="0.45"/>
<line x1="300.77" y1="122.7" x2="300.77" y2="124.1" stroke="#555" stroke-width="0.45"/>
<line x1="304.2" y1="122.7" x2="304.2" y2="124.1" stroke="#555" stroke-width="0.45"/>
<line x1="307.63" y1="122.7" x2="307.63" y2="124.1" stroke="#555" stroke-width="0.45"/>
<line x1="311.07" y1="122.7" x2="311.07" y2="124.1" stroke="#555" stroke-width="0.45"/>
<line x1="319.47" y1="122.7" x2="319.47" y2="124.1" stroke="#555" stroke-width="0.45"/>
<line x1="322.37" y1="122.7" x2="322.37" y2="124.1" stroke="#555" stroke-width="0.45"/>
<line x1="324.43" y1="122.7" x2="324.43" y2="124.1" stroke="#555" stroke-width="0.45"/>
<line x1="326.03" y1="122.7" x2="326.03" y2="124.1" stroke="#555" stroke-width="0.45"/>
<line x1="327.34" y1="122.7" x2="327.34" y2="124.1" stroke="#555" stroke-width="0.45"/>
<line x1="328.44" y1="122.7" x2="328.44" y2="124.1" stroke="#555" stroke-width="0.45"/>
<line x1="329.4" y1="122.7" x2="329.4" y2="124.1" stroke="#555" stroke-width="0.45"/>
<line x1="330.25" y1="122.7" x2="330.25" y2="124.1" stroke="#555" stroke-width="0.45"/>
<line x1="335.97" y1="122.7" x2="335.97" y2="124.1" stroke="#555" stroke-width="0.45"/>
<line x1="338.87" y1="122.7" x2="338.87" y2="124.1" stroke="#555" stroke-width="0.45"/>
<line x1="340.93" y1="122.7" x2="340.93" y2="124.1" stroke="#555" stroke-width="0.45"/>
<line x1="342.53" y1="122.7" x2="342.53" y2="124.1" stroke="#555" stroke-width="0.45"/>
<line x1="343.84" y1="122.7" x2="343.84" y2="124.1" stroke="#555" stroke-width="0.45"/>
<line x1="344.94" y1="122.7" x2="344.94" y2="124.1" stroke="#555" stroke-width="0.45"/>
<line x1="345.9" y1="122.7" x2="345.9" y2="124.1" stroke="#555" stroke-width="0.45"/>
<line x1="346.75" y1="122.7" x2="346.75" y2="124.1" stroke="#555" stroke-width="0.45"/>
<line x1="352.17" y1="122.7" x2="352.17" y2="124.1" stroke="#555" stroke-width="0.45"/>
<line x1="354.9" y1="122.7" x2="354.9" y2="124.1" stroke="#555" stroke-width="0.45"/>
<line x1="356.83" y1="122.7" x2="356.83" y2="124.1" stroke="#555" stroke-width="0.45"/>
<line x1="358.33" y1="122.7" x2="358.33" y2="124.1" stroke="#555" stroke-width="0.45"/>
<line x1="359.56" y1="122.7" x2="359.56" y2="124.1" stroke="#555" stroke-width="0.45"/>
<line x1="360.6" y1="122.7" x2="360.6" y2="124.1" stroke="#555" stroke-width="0.45"/>
<line x1="361.5" y1="122.7" x2="361.5" y2="124.1" stroke="#555" stroke-width="0.45"/>
<line x1="362.29" y1="122.7" x2="362.29" y2="124.1" stroke="#555" stroke-width="0.45"/>
<path d="M265.6 23.4 H366.9 V122.7" stroke="#9a9a9a" fill="none" stroke-width="0.9"/>
<path d="M265.6 23.4 V122.7 H366.9" stroke="#4a4a4a" fill="none" stroke-width="0.9"/>
<path d="M284 122.2 L284 122.18 284.5 122.18 285 122.17 285.5 122.16 286 122.15 286.5 122.13 287 122.11 287.5 122.08 288 122.04 288.5 122 289 121.94 289.5 121.87 290 121.77 290.5 121.66 291 121.51 291.5 121.32 292 121.1 292.5 120.81 293 120.46 293.5 120.04 294 119.52 294.5 118.89 295 118.12 295.5 117.19 296 116.06 296.5 114.79 297 113.43 297.5 111.37 298 109.33 298.5 107.07 299 104.06 299.5 100.91 300 97.31 300.5 93.35 301 88.64 301.5 84.25 302 78.61 302.5 73.02 303 66.2 303.5 60.18 304 53.92 304.5 47.89 305 41.2 305.5 35.28 306 30.95 306.5 28 307 29.74 307.5 38.63 308 43.68 308.5 48.63 309 55.66 309.5 61.99 310 68.65 310.5 73.9 311 81.55 311.5 86.61 312 90.63 312.5 95.63 313 99.61 313.5 103.39 314 106.62 314.5 108.91 315 111.18 315.5 113.25 316 114.81 316.5 116.12 317 117.32 317.5 118.21 318 118.99 318.5 119.63 319 120.15 319.5 120.58 320 120.92 320.5 121.19 321 121.41 321.5 121.59 322 121.72 322.5 121.83 323 121.92 323.5 121.98 324 122.03 324.5 122.07 325 122.1 325.5 122.13 326 122.15 326.5 122.16 327 122.17 327.5 122.18 328 122.18 328.5 122.19 329 122.19 329.5 122.19 330 122.2 L330 122.2Z" stroke="none" fill="#cfcfcf" stroke-width="1"/>
<path d="M289.5 121.87 290 121.77 290.5 121.66 291 121.51 291.5 121.32 292 121.1 292.5 120.81 293 120.46 293.5 120.04 294 119.52 294.5 118.89 295 118.12 295.5 117.19 296 116.06 296.5 114.79 297 113.43 297.5 111.37 298 109.33 298.5 107.07 299 104.06 299.5 100.91 300 97.31 300.5 93.35 301 88.64 301.5 84.25 302 78.61 302.5 73.02 303 66.2 303.5 60.18 304 53.92 304.5 47.89 305 41.2 305.5 35.28 306 30.95 306.5 28 307 29.74 307.5 38.63 308 43.68 308.5 48.63 309 55.66 309.5 61.99 310 68.65 310.5 73.9 311 81.55 311.5 86.61 312 90.63 312.5 95.63 313 99.61 313.5 103.39 314 106.62 314.5 108.91 315 111.18 315.5 113.25 316 114.81 316.5 116.12 317 117.32 317.5 118.21 318 118.99 318.5 119.63 319 120.15 319.5 120.58 320 120.92 320.5 121.19 321 121.41 321.5 121.59 322 121.72 322.5 121.83 323 121.92" stroke="#8a8a8a" fill="none" stroke-width="0.7"/>
<path d="M288 122.2 L288 122.18 288.5 122.18 289 122.17 289.5 122.16 290 122.14 290.5 122.12 291 122.1 291.5 122.06 292 122.02 292.5 121.96 293 121.89 293.5 121.79 294 121.67 294.5 121.51 295 121.31 295.5 121.06 296 120.74 296.5 120.35 297 119.85 297.5 119.25 298 118.5 298.5 117.59 299 116.47 299.5 115.19 300 113.59 300.5 111.96 301 109.13 301.5 106.56 302 103.8 302.5 100.01 303 96.12 303.5 91.89 304 86.22 304.5 81.22 305 75.19 305.5 69.02 306 61.34 306.5 54.73 307 47.13 307.5 41.47 308 34.65 308.5 30.91 309 27.8 309.5 33.56 310 41.59 310.5 50.79 311 61.36 311.5 69.3 312 77.24 312.5 86.72 313 93.37 313.5 98.99 314 103.26 314.5 107.48 315 110.66 315.5 113.39 316 115.55 316.5 117.2 317 118.49 317.5 119.46 318 120.2 318.5 120.75 319 121.16 319.5 121.46 320 121.67 320.5 121.83 321 121.94 321.5 122.02 322 122.08 322.5 122.12 323 122.14 323.5 122.16 324 122.17 324.5 122.18 325 122.19 325.5 122.19 326 122.2 326.5 122.2 327 122.2 327.5 122.2 328 122.2 328.5 122.2 329 122.2 329.5 122.2 330 122.2 L330 122.2Z" stroke="none" fill="#c28282" stroke-width="1" fill-opacity="0.92"/>
<path d="M293 121.89 293.5 121.79 294 121.67 294.5 121.51 295 121.31 295.5 121.06 296 120.74 296.5 120.35 297 119.85 297.5 119.25 298 118.5 298.5 117.59 299 116.47 299.5 115.19 300 113.59 300.5 111.96 301 109.13 301.5 106.56 302 103.8 302.5 100.01 303 96.12 303.5 91.89 304 86.22 304.5 81.22 305 75.19 305.5 69.02 306 61.34 306.5 54.73 307 47.13 307.5 41.47 308 34.65 308.5 30.91 309 27.8 309.5 33.56 310 41.59 310.5 50.79 311 61.36 311.5 69.3 312 77.24 312.5 86.72 313 93.37 313.5 98.99 314 103.26 314.5 107.48 315 110.66 315.5 113.39 316 115.55 316.5 117.2 317 118.49 317.5 119.46 318 120.2 318.5 120.75 319 121.16 319.5 121.46 320 121.67 320.5 121.83 321 121.94" stroke="#c83a3a" fill="none" stroke-width="0.7"/>
<path d="M281 121.85 281.5 121.83 282 121.81 282.5 121.79 283 121.77 283.5 121.75 284 121.73 284.5 121.7 285 121.68 285.5 121.66 286 121.56 286.5 121.4 287 121.2 287.5 120.95 288 120.65 288.5 120.29 289 119.84 289.5 119.31 290 118.67 290.5 117.9 291 116.86 291.5 116.11 292 114.61 292.5 113.22 293 111.49 293.5 109.46 294 107.49 294.5 104.55 295 101.73 295.5 97.2 296 94.32 296.5 90.36 297 85.77 297.5 81 298 75.89 298.5 69.85 299 63.28 299.5 57.65 300 50.44 300.5 45.33 301 39.35 301.5 32.59 302 29.56 302.5 29.26 303 32.75 303.5 37.83 304 43.39 304.5 52.69 305 60.03 305.5 66.41 306 74.49 306.5 80.56 307 85.94 307.5 91.43 308 96.37 308.5 100.4 309 104.82 309.5 107.16 310 110.15 310.5 112.46 311 114.13 311.5 115.67 312 117.05 312.5 118.08 313 118.95 313.5 119.64 314 120.2 314.5 120.64 315 121 315.5 121.27 316 121.49 316.5 121.66 317 121.79 317.5 121.89" stroke="#111" fill="none" stroke-width="0.8"/>
<text x="364.2" y="33" font-size="9.9" text-anchor="end" fill="#b0b0b0" stroke="#b0b0b0" stroke-width="0.14" letter-spacing="0.2">–LPS</text>
<text x="362.2" y="44.6" font-size="9.9" text-anchor="end" fill="#ee3350" stroke="#ee3350" stroke-width="0.14" letter-spacing="0.2">+LPS</text>
<text x="362.4" y="54.8" font-size="9.9" text-anchor="end" stroke="#231f20" stroke-width="0.14" letter-spacing="0.2">iso</text>
<line x1="264" y1="134.4" x2="363" y2="134.4" stroke="#231f20" stroke-width="0.9"/>
<path d="M362.5 132.2 L367 134.4 L362.5 136.6 Z" stroke="none" fill="#231f20" stroke-width="1"/>
<text x="265.2" y="148" font-size="10.6" stroke="#231f20" stroke-width="0.14" letter-spacing="0.35">CD112</text>
<text x="397.3" y="18.3" font-size="19" font-weight="bold" stroke="#231f20" stroke-width="0.14">B.</text>
<line x1="445.6" y1="21.3" x2="445.6" y2="128.3" stroke="#231f20" stroke-width="1"/>
<line x1="445.6" y1="128.3" x2="522.9" y2="128.3" stroke="#231f20" stroke-width="1"/>
<line x1="443.1" y1="21.3" x2="445.6" y2="21.3" stroke="#231f20" stroke-width="1"/>
<text x="442.4" y="24.4" font-size="8.6" text-anchor="end" fill="#333" stroke="#333" stroke-width="0.14">2×10<tspan font-size="5.4" dy="-3.4">4</tspan></text>
<line x1="443.1" y1="56.8" x2="445.6" y2="56.8" stroke="#231f20" stroke-width="1"/>
<text x="442.4" y="59.9" font-size="8.6" text-anchor="end" fill="#333" stroke="#333" stroke-width="0.14">1×10<tspan font-size="5.4" dy="-3.4">4</tspan></text>
<line x1="443.1" y1="92.7" x2="445.6" y2="92.7" stroke="#231f20" stroke-width="1"/>
<text x="442.4" y="95.8" font-size="8.6" text-anchor="end" fill="#333" stroke="#333" stroke-width="0.14">5×10<tspan font-size="5.4" dy="-3.4">3</tspan></text>
<line x1="443.1" y1="128.2" x2="445.6" y2="128.2" stroke="#231f20" stroke-width="1"/>
<text x="441.6" y="131.3" font-size="8.6" text-anchor="end" fill="#333" stroke="#333" stroke-width="0.14">0</text>
<text x="417.6" y="71" font-size="10.4" text-anchor="middle" stroke="#231f20" stroke-width="0.14" letter-spacing="0.45" transform="rotate(-90 417.6 71)">ΔMFI CD112</text>
<line x1="470.4" y1="36.5" x2="499.3" y2="36.5" stroke="#888" stroke-width="1"/>
<text x="486.3" y="36.4" font-size="9" text-anchor="middle" fill="#666" stroke="#666" stroke-width="0.14">*</text>
<text x="467" y="141.2" font-size="10.6" text-anchor="middle" stroke="#231f20" stroke-width="0.14" letter-spacing="0.4">–LPS</text>
<text x="503.4" y="141.2" font-size="10.6" text-anchor="middle" stroke="#231f20" stroke-width="0.14" letter-spacing="0.4">+LPS</text>
<line x1="468.3" y1="93" x2="501.4" y2="54.3" stroke="#231f20" stroke-width="0.75"/>
<line x1="468.3" y1="103" x2="501.4" y2="80.1" stroke="#231f20" stroke-width="0.75"/>
<line x1="468.3" y1="104.5" x2="501.4" y2="110" stroke="#231f20" stroke-width="0.75"/>
<line x1="468.3" y1="117.5" x2="501.4" y2="111.5" stroke="#231f20" stroke-width="0.75"/>
<line x1="468.3" y1="122.5" x2="501.4" y2="111" stroke="#231f20" stroke-width="0.75"/>
<line x1="468.3" y1="124.1" x2="501.4" y2="117" stroke="#231f20" stroke-width="0.75"/>
<line x1="468.3" y1="125.7" x2="501.4" y2="118.6" stroke="#231f20" stroke-width="0.75"/>
<line x1="468.3" y1="127.4" x2="501.4" y2="120.8" stroke="#231f20" stroke-width="0.75"/>
<line x1="468.3" y1="128.2" x2="501.4" y2="123" stroke="#231f20" stroke-width="0.75"/>
<line x1="468.3" y1="127" x2="501.4" y2="125.7" stroke="#231f20" stroke-width="0.75"/>
<line x1="468.3" y1="128.2" x2="501.4" y2="128.2" stroke="#231f20" stroke-width="0.75"/>
<circle cx="468.3" cy="93" r="1.7" fill="#231f20"/>
<circle cx="501.4" cy="54.3" r="1.7" fill="#231f20"/>
<circle cx="468.3" cy="103" r="1.7" fill="#231f20"/>
<circle cx="501.4" cy="80.1" r="1.7" fill="#231f20"/>
<circle cx="468.3" cy="104.5" r="1.7" fill="#231f20"/>
<circle cx="501.4" cy="110" r="1.7" fill="#231f20"/>
<circle cx="468.3" cy="117.5" r="1.7" fill="#231f20"/>
<circle cx="501.4" cy="111.5" r="1.7" fill="#231f20"/>
<circle cx="468.3" cy="122.5" r="1.7" fill="#231f20"/>
<circle cx="501.4" cy="111" r="1.7" fill="#231f20"/>
<circle cx="468.3" cy="124.1" r="1.7" fill="#231f20"/>
<circle cx="501.4" cy="117" r="1.7" fill="#231f20"/>
<circle cx="468.3" cy="125.7" r="1.7" fill="#231f20"/>
<circle cx="501.4" cy="118.6" r="1.7" fill="#231f20"/>
<circle cx="468.3" cy="127.4" r="1.7" fill="#231f20"/>
<circle cx="501.4" cy="120.8" r="1.7" fill="#231f20"/>
<circle cx="468.3" cy="128.2" r="1.7" fill="#231f20"/>
<circle cx="501.4" cy="123" r="1.7" fill="#231f20"/>
<circle cx="468.3" cy="127" r="1.7" fill="#231f20"/>
<circle cx="501.4" cy="125.7" r="1.7" fill="#231f20"/>
<circle cx="468.3" cy="128.2" r="1.7" fill="#231f20"/>
<circle cx="501.4" cy="128.2" r="1.7" fill="#231f20"/>
<line x1="462.1" y1="122.7" x2="473.5" y2="122.7" stroke="#ee4036" stroke-width="1.8"/>
<line x1="496.5" y1="111" x2="506.8" y2="111" stroke="#ee4036" stroke-width="1.8"/>
<text x="3.8" y="182.6" font-size="19" font-weight="bold" stroke="#231f20" stroke-width="0.14">C.</text>
<text x="88.6" y="166.9" font-size="10.4" text-anchor="middle" stroke="#231f20" stroke-width="0.14" letter-spacing="0.4">WT BM-DCs</text>
<text x="199.3" y="166.9" font-size="10.4" text-anchor="middle" stroke="#231f20" stroke-width="0.14" letter-spacing="0.4">KO BM-DCs</text>
<text x="320.2" y="166.9" font-size="10.4" text-anchor="middle" stroke="#231f20" stroke-width="0.14" letter-spacing="0.4">Overlay</text>
<line x1="35.3" y1="175.7" x2="38.3" y2="175.7" stroke="#333" stroke-width="0.8"/>
<text x="34.3" y="177" font-size="3.8" text-anchor="end" fill="#444">100</text>
<line x1="36.8" y1="180.33" x2="38.3" y2="180.33" stroke="#555" stroke-width="0.5"/>
<line x1="36.8" y1="184.95" x2="38.3" y2="184.95" stroke="#555" stroke-width="0.5"/>
<line x1="36.8" y1="189.58" x2="38.3" y2="189.58" stroke="#555" stroke-width="0.5"/>
<line x1="35.3" y1="194.2" x2="38.3" y2="194.2" stroke="#333" stroke-width="0.8"/>
<text x="34.3" y="195.5" font-size="3.8" text-anchor="end" fill="#444">80</text>
<line x1="36.8" y1="198.83" x2="38.3" y2="198.83" stroke="#555" stroke-width="0.5"/>
<line x1="36.8" y1="203.45" x2="38.3" y2="203.45" stroke="#555" stroke-width="0.5"/>
<line x1="36.8" y1="208.08" x2="38.3" y2="208.08" stroke="#555" stroke-width="0.5"/>
<line x1="35.3" y1="212.7" x2="38.3" y2="212.7" stroke="#333" stroke-width="0.8"/>
<text x="34.3" y="214" font-size="3.8" text-anchor="end" fill="#444">60</text>
<line x1="36.8" y1="217.33" x2="38.3" y2="217.33" stroke="#555" stroke-width="0.5"/>
<line x1="36.8" y1="221.95" x2="38.3" y2="221.95" stroke="#555" stroke-width="0.5"/>
<line x1="36.8" y1="226.58" x2="38.3" y2="226.58" stroke="#555" stroke-width="0.5"/>
<line x1="35.3" y1="231.2" x2="38.3" y2="231.2" stroke="#333" stroke-width="0.8"/>
<text x="34.3" y="232.5" font-size="3.8" text-anchor="end" fill="#444">40</text>
<line x1="36.8" y1="235.82" x2="38.3" y2="235.82" stroke="#555" stroke-width="0.5"/>
<line x1="36.8" y1="240.45" x2="38.3" y2="240.45" stroke="#555" stroke-width="0.5"/>
<line x1="36.8" y1="245.07" x2="38.3" y2="245.07" stroke="#555" stroke-width="0.5"/>
<line x1="35.3" y1="249.7" x2="38.3" y2="249.7" stroke="#333" stroke-width="0.8"/>
<text x="34.3" y="251" font-size="3.8" text-anchor="end" fill="#444">20</text>
<line x1="36.8" y1="254.32" x2="38.3" y2="254.32" stroke="#555" stroke-width="0.5"/>
<line x1="36.8" y1="258.95" x2="38.3" y2="258.95" stroke="#555" stroke-width="0.5"/>
<line x1="36.8" y1="263.57" x2="38.3" y2="263.57" stroke="#555" stroke-width="0.5"/>
<line x1="35.3" y1="268.2" x2="38.3" y2="268.2" stroke="#333" stroke-width="0.8"/>
<text x="34.3" y="269.5" font-size="3.8" text-anchor="end" fill="#444">0</text>
<line x1="41.8" y1="269.2" x2="41.8" y2="271.7" stroke="#333" stroke-width="0.8"/>
<text x="41.8" y="277.2" font-size="3.8" text-anchor="middle" fill="#444">10<tspan font-size="2.6" dy="-1.6">2</tspan></text>
<line x1="62.7" y1="269.2" x2="62.7" y2="271.7" stroke="#333" stroke-width="0.8"/>
<text x="62.7" y="277.2" font-size="3.8" text-anchor="middle" fill="#444">10<tspan font-size="2.6" dy="-1.6">3</tspan></text>
<line x1="85.5" y1="269.2" x2="85.5" y2="271.7" stroke="#333" stroke-width="0.8"/>
<text x="85.5" y="277.2" font-size="3.8" text-anchor="middle" fill="#444">10<tspan font-size="2.6" dy="-1.6">4</tspan></text>
<line x1="110" y1="269.2" x2="110" y2="271.7" stroke="#333" stroke-width="0.8"/>
<text x="110" y="277.2" font-size="3.8" text-anchor="middle" fill="#444">10<tspan font-size="2.6" dy="-1.6">5</tspan></text>
<line x1="131.8" y1="269.2" x2="131.8" y2="271.7" stroke="#333" stroke-width="0.8"/>
<text x="131.8" y="277.2" font-size="3.8" text-anchor="middle" fill="#444">10<tspan font-size="2.6" dy="-1.6">6</tspan></text>
<line x1="48.09" y1="269.2" x2="48.09" y2="270.6" stroke="#555" stroke-width="0.45"/>
<line x1="51.77" y1="269.2" x2="51.77" y2="270.6" stroke="#555" stroke-width="0.45"/>
<line x1="54.38" y1="269.2" x2="54.38" y2="270.6" stroke="#555" stroke-width="0.45"/>
<line x1="56.41" y1="269.2" x2="56.41" y2="270.6" stroke="#555" stroke-width="0.45"/>
<line x1="58.06" y1="269.2" x2="58.06" y2="270.6" stroke="#555" stroke-width="0.45"/>
<line x1="59.46" y1="269.2" x2="59.46" y2="270.6" stroke="#555" stroke-width="0.45"/>
<line x1="60.67" y1="269.2" x2="60.67" y2="270.6" stroke="#555" stroke-width="0.45"/>
<line x1="61.74" y1="269.2" x2="61.74" y2="270.6" stroke="#555" stroke-width="0.45"/>
<line x1="69.56" y1="269.2" x2="69.56" y2="270.6" stroke="#555" stroke-width="0.45"/>
<line x1="73.58" y1="269.2" x2="73.58" y2="270.6" stroke="#555" stroke-width="0.45"/>
<line x1="76.43" y1="269.2" x2="76.43" y2="270.6" stroke="#555" stroke-width="0.45"/>
<line x1="78.64" y1="269.2" x2="78.64" y2="270.6" stroke="#555" stroke-width="0.45"/>
<line x1="80.44" y1="269.2" x2="80.44" y2="270.6" stroke="#555" stroke-width="0.45"/>
<line x1="81.97" y1="269.2" x2="81.97" y2="270.6" stroke="#555" stroke-width="0.45"/>
<line x1="83.29" y1="269.2" x2="83.29" y2="270.6" stroke="#555" stroke-width="0.45"/>
<line x1="84.46" y1="269.2" x2="84.46" y2="270.6" stroke="#555" stroke-width="0.45"/>
<line x1="92.88" y1="269.2" x2="92.88" y2="270.6" stroke="#555" stroke-width="0.45"/>
<line x1="97.19" y1="269.2" x2="97.19" y2="270.6" stroke="#555" stroke-width="0.45"/>
<line x1="100.25" y1="269.2" x2="100.25" y2="270.6" stroke="#555" stroke-width="0.45"/>
<line x1="102.62" y1="269.2" x2="102.62" y2="270.6" stroke="#555" stroke-width="0.45"/>
<line x1="104.56" y1="269.2" x2="104.56" y2="270.6" stroke="#555" stroke-width="0.45"/>
<line x1="106.2" y1="269.2" x2="106.2" y2="270.6" stroke="#555" stroke-width="0.45"/>
<line x1="107.63" y1="269.2" x2="107.63" y2="270.6" stroke="#555" stroke-width="0.45"/>
<line x1="108.88" y1="269.2" x2="108.88" y2="270.6" stroke="#555" stroke-width="0.45"/>
<line x1="116.56" y1="269.2" x2="116.56" y2="270.6" stroke="#555" stroke-width="0.45"/>
<line x1="120.4" y1="269.2" x2="120.4" y2="270.6" stroke="#555" stroke-width="0.45"/>
<line x1="123.12" y1="269.2" x2="123.12" y2="270.6" stroke="#555" stroke-width="0.45"/>
<line x1="125.24" y1="269.2" x2="125.24" y2="270.6" stroke="#555" stroke-width="0.45"/>
<line x1="126.96" y1="269.2" x2="126.96" y2="270.6" stroke="#555" stroke-width="0.45"/>
<line x1="128.42" y1="269.2" x2="128.42" y2="270.6" stroke="#555" stroke-width="0.45"/>
<line x1="129.69" y1="269.2" x2="129.69" y2="270.6" stroke="#555" stroke-width="0.45"/>
<line x1="130.8" y1="269.2" x2="130.8" y2="270.6" stroke="#555" stroke-width="0.45"/>
<path d="M38.3 170.4 H137.3 V269.2" stroke="#9a9a9a" fill="none" stroke-width="0.9"/>
<path d="M38.3 170.4 V269.2 H137.3" stroke="#4a4a4a" fill="none" stroke-width="0.9"/>
<path d="M45 268.9 L45 268.9 45.5 268.9 46 268.9 46.5 268.9 47 268.9 47.5 268.9 48 268.9 48.5 268.9 49 268.9 49.5 268.9 50 268.9 50.5 268.9 51 268.9 51.5 268.89 52 268.89 52.5 268.89 53 268.89 53.5 268.88 54 268.87 54.5 268.87 55 268.86 55.5 268.84 56 268.82 56.5 268.8 57 268.77 57.5 268.74 58 268.69 58.5 268.63 59 268.56 59.5 268.47 60 268.36 60.5 268.22 61 268.05 61.5 267.85 62 267.59 62.5 267.28 63 266.91 63.5 266.45 64 265.91 64.5 265.27 65 264.51 65.5 263.65 66 262.56 66.5 261.16 67 259.81 67.5 258.44 68 256.33 68.5 254.29 69 251.7 69.5 249.38 70 245.87 70.5 242.47 71 238.26 71.5 234.64 72 230.17 72.5 226.51 73 219.52 73.5 216.9 74 209.62 74.5 205.3 75 200.47 75.5 195.18 76 190.41 76.5 185.07 77 181.99 77.5 178.7 78 180.96 78.5 180.8 79 184.5 79.5 186.3 80 193.01 80.5 195.64 81 199.71 81.5 205.69 82 208.55 82.5 213.8 83 217.89 83.5 222.4 84 227.68 84.5 231.59 85 235.12 85.5 238.32 86 241.63 86.5 245.15 87 247.9 87.5 250.47 88 252.71 88.5 254.71 89 256.55 89.5 257.92 90 259.71 90.5 260.98 91 262.05 91.5 263.15 92 263.98 92.5 264.71 93 265.36 93.5 265.92 94 266.4 94.5 266.81 95 267.16 95.5 267.45 96 267.7 96.5 267.91 97 268.08 97.5 268.23 98 268.35 98.5 268.45 99 268.54 99.5 268.61 100 268.66 100.5 268.71 101 268.75 101.5 268.78 102 268.8 102.5 268.82 103 268.84 103.5 268.85 104 268.86 104.5 268.87 105 268.88 105.5 268.88 106 268.89 106.5 268.89 107 268.89 107.5 268.89 108 268.89 108.5 268.9 109 268.9 109.5 268.9 110 268.9 L110 268.9Z" stroke="none" fill="#d3e5c8" stroke-width="1"/>
<path d="M59 268.56 59.5 268.47 60 268.36 60.5 268.22 61 268.05 61.5 267.85 62 267.59 62.5 267.28 63 266.91 63.5 266.45 64 265.91 64.5 265.27 65 264.51 65.5 263.65 66 262.56 66.5 261.16 67 259.81 67.5 258.44 68 256.33 68.5 254.29 69 251.7 69.5 249.38 70 245.87 70.5 242.47 71 238.26 71.5 234.64 72 230.17 72.5 226.51 73 219.52 73.5 216.9 74 209.62 74.5 205.3 75 200.47 75.5 195.18 76 190.41 76.5 185.07 77 181.99 77.5 178.7 78 180.96 78.5 180.8 79 184.5 79.5 186.3 80 193.01 80.5 195.64 81 199.71 81.5 205.69 82 208.55 82.5 213.8 83 217.89 83.5 222.4 84 227.68 84.5 231.59 85 235.12 85.5 238.32 86 241.63 86.5 245.15 87 247.9 87.5 250.47 88 252.71 88.5 254.71 89 256.55 89.5 257.92 90 259.71 90.5 260.98 91 262.05 91.5 263.15 92 263.98 92.5 264.71 93 265.36 93.5 265.92 94 266.4 94.5 266.81 95 267.16 95.5 267.45 96 267.7 96.5 267.91 97 268.08 97.5 268.23 98 268.35 98.5 268.45 99 268.54 99.5 268.61" stroke="#4f9d3f" fill="none" stroke-width="0.8"/>
<path d="M39 268.42 39.5 268.4 40 268.38 40.5 268.36 41 268.34 41.5 268.32 42 268.29 42.5 268.27 43 268.25 43.5 268.23 44 268.2 44.5 268.18 45 268.15 45.5 268.13 46 268.1 46.5 268.08 47 268.05 47.5 268.03 48 268 48.5 267.98 49 267.95 49.5 267.92 50 267.9 50.5 267.87 51 267.84 51.5 267.82 52 267.79 52.5 267.76 53 267.74 53.5 267.53 54 267.25 54.5 266.92 55 266.53 55.5 266.08 56 265.54 56.5 264.92 57 264.25 57.5 263.47 58 262.45 58.5 261.3 59 259.98 59.5 258.68 60 257.18 60.5 255.45 61 253.18 61.5 250.76 62 248.6 62.5 246.31 63 243.33 63.5 239.28 64 236.31 64.5 233.46 65 228.82 65.5 225.27 66 220.7 66.5 216.18 67 211.79 67.5 206.27 68 202.14 68.5 198.11 69 192.95 69.5 188.56 70 187.47 70.5 183.21 71 181.97 71.5 180.85 72 183.69 72.5 184.93 73 188.23 73.5 192.18 74 196.86 74.5 200.55 75 205.47 75.5 210.06 76 213.38 76.5 218.59 77 221.51 77.5 225.91 78 231.12 78.5 233.8 79 237.82 79.5 240.66 80 243.68 80.5 247.03 81 249.11 81.5 251.44 82 253.33 82.5 255.61 83 257.03 83.5 258.8 84 260.07 84.5 261.32 85 262.2 85.5 263.21 86 263.92 86.5 264.78 87 265.4 87.5 265.94 88 266.4 88.5 266.79 89 267.13 89.5 267.42 90 267.67 90.5 267.87 91 268.05 91.5 268.2 92 268.32 92.5 268.42 93 268.51 93.5 268.58" stroke="#222" fill="none" stroke-width="0.8"/>
<text x="130.8" y="181" font-size="10" text-anchor="end" stroke="#231f20" stroke-width="0.14">iso</text>
<text x="132.7" y="192.7" font-size="10" text-anchor="end" fill="#1aa64f" stroke="#1aa64f" stroke-width="0.14">WT</text>
<line x1="147.9" y1="175.7" x2="150.9" y2="175.7" stroke="#333" stroke-width="0.8"/>
<text x="146.9" y="177" font-size="3.8" text-anchor="end" fill="#444">100</text>
<line x1="149.4" y1="180.34" x2="150.9" y2="180.34" stroke="#555" stroke-width="0.5"/>
<line x1="149.4" y1="184.97" x2="150.9" y2="184.97" stroke="#555" stroke-width="0.5"/>
<line x1="149.4" y1="189.61" x2="150.9" y2="189.61" stroke="#555" stroke-width="0.5"/>
<line x1="147.9" y1="194.24" x2="150.9" y2="194.24" stroke="#333" stroke-width="0.8"/>
<text x="146.9" y="195.54" font-size="3.8" text-anchor="end" fill="#444">80</text>
<line x1="149.4" y1="198.88" x2="150.9" y2="198.88" stroke="#555" stroke-width="0.5"/>
<line x1="149.4" y1="203.51" x2="150.9" y2="203.51" stroke="#555" stroke-width="0.5"/>
<line x1="149.4" y1="208.15" x2="150.9" y2="208.15" stroke="#555" stroke-width="0.5"/>
<line x1="147.9" y1="212.78" x2="150.9" y2="212.78" stroke="#333" stroke-width="0.8"/>
<text x="146.9" y="214.08" font-size="3.8" text-anchor="end" fill="#444">60</text>
<line x1="149.4" y1="217.41" x2="150.9" y2="217.41" stroke="#555" stroke-width="0.5"/>
<line x1="149.4" y1="222.05" x2="150.9" y2="222.05" stroke="#555" stroke-width="0.5"/>
<line x1="149.4" y1="226.69" x2="150.9" y2="226.69" stroke="#555" stroke-width="0.5"/>
<line x1="147.9" y1="231.32" x2="150.9" y2="231.32" stroke="#333" stroke-width="0.8"/>
<text x="146.9" y="232.62" font-size="3.8" text-anchor="end" fill="#444">40</text>
<line x1="149.4" y1="235.95" x2="150.9" y2="235.95" stroke="#555" stroke-width="0.5"/>
<line x1="149.4" y1="240.59" x2="150.9" y2="240.59" stroke="#555" stroke-width="0.5"/>
<line x1="149.4" y1="245.22" x2="150.9" y2="245.22" stroke="#555" stroke-width="0.5"/>
<line x1="147.9" y1="249.86" x2="150.9" y2="249.86" stroke="#333" stroke-width="0.8"/>
<text x="146.9" y="251.16" font-size="3.8" text-anchor="end" fill="#444">20</text>
<line x1="149.4" y1="254.5" x2="150.9" y2="254.5" stroke="#555" stroke-width="0.5"/>
<line x1="149.4" y1="259.13" x2="150.9" y2="259.13" stroke="#555" stroke-width="0.5"/>
<line x1="149.4" y1="263.76" x2="150.9" y2="263.76" stroke="#555" stroke-width="0.5"/>
<line x1="147.9" y1="268.4" x2="150.9" y2="268.4" stroke="#333" stroke-width="0.8"/>
<text x="146.9" y="269.7" font-size="3.8" text-anchor="end" fill="#444">0</text>
<line x1="155" y1="269.4" x2="155" y2="271.9" stroke="#333" stroke-width="0.8"/>
<text x="155" y="277.4" font-size="3.8" text-anchor="middle" fill="#444">10<tspan font-size="2.6" dy="-1.6">2</tspan></text>
<line x1="176" y1="269.4" x2="176" y2="271.9" stroke="#333" stroke-width="0.8"/>
<text x="176" y="277.4" font-size="3.8" text-anchor="middle" fill="#444">10<tspan font-size="2.6" dy="-1.6">3</tspan></text>
<line x1="199" y1="269.4" x2="199" y2="271.9" stroke="#333" stroke-width="0.8"/>
<text x="199" y="277.4" font-size="3.8" text-anchor="middle" fill="#444">10<tspan font-size="2.6" dy="-1.6">4</tspan></text>
<line x1="222" y1="269.4" x2="222" y2="271.9" stroke="#333" stroke-width="0.8"/>
<text x="222" y="277.4" font-size="3.8" text-anchor="middle" fill="#444">10<tspan font-size="2.6" dy="-1.6">5</tspan></text>
<line x1="244" y1="269.4" x2="244" y2="271.9" stroke="#333" stroke-width="0.8"/>
<text x="244" y="277.4" font-size="3.8" text-anchor="middle" fill="#444">10<tspan font-size="2.6" dy="-1.6">6</tspan></text>
<line x1="161.32" y1="269.4" x2="161.32" y2="270.8" stroke="#555" stroke-width="0.45"/>
<line x1="165.02" y1="269.4" x2="165.02" y2="270.8" stroke="#555" stroke-width="0.45"/>
<line x1="167.64" y1="269.4" x2="167.64" y2="270.8" stroke="#555" stroke-width="0.45"/>
<line x1="169.68" y1="269.4" x2="169.68" y2="270.8" stroke="#555" stroke-width="0.45"/>
<line x1="171.34" y1="269.4" x2="171.34" y2="270.8" stroke="#555" stroke-width="0.45"/>
<line x1="172.75" y1="269.4" x2="172.75" y2="270.8" stroke="#555" stroke-width="0.45"/>
<line x1="173.96" y1="269.4" x2="173.96" y2="270.8" stroke="#555" stroke-width="0.45"/>
<line x1="175.04" y1="269.4" x2="175.04" y2="270.8" stroke="#555" stroke-width="0.45"/>
<line x1="182.92" y1="269.4" x2="182.92" y2="270.8" stroke="#555" stroke-width="0.45"/>
<line x1="186.97" y1="269.4" x2="186.97" y2="270.8" stroke="#555" stroke-width="0.45"/>
<line x1="189.85" y1="269.4" x2="189.85" y2="270.8" stroke="#555" stroke-width="0.45"/>
<line x1="192.08" y1="269.4" x2="192.08" y2="270.8" stroke="#555" stroke-width="0.45"/>
<line x1="193.9" y1="269.4" x2="193.9" y2="270.8" stroke="#555" stroke-width="0.45"/>
<line x1="195.44" y1="269.4" x2="195.44" y2="270.8" stroke="#555" stroke-width="0.45"/>
<line x1="196.77" y1="269.4" x2="196.77" y2="270.8" stroke="#555" stroke-width="0.45"/>
<line x1="197.95" y1="269.4" x2="197.95" y2="270.8" stroke="#555" stroke-width="0.45"/>
<line x1="205.92" y1="269.4" x2="205.92" y2="270.8" stroke="#555" stroke-width="0.45"/>
<line x1="209.97" y1="269.4" x2="209.97" y2="270.8" stroke="#555" stroke-width="0.45"/>
<line x1="212.85" y1="269.4" x2="212.85" y2="270.8" stroke="#555" stroke-width="0.45"/>
<line x1="215.08" y1="269.4" x2="215.08" y2="270.8" stroke="#555" stroke-width="0.45"/>
<line x1="216.9" y1="269.4" x2="216.9" y2="270.8" stroke="#555" stroke-width="0.45"/>
<line x1="218.44" y1="269.4" x2="218.44" y2="270.8" stroke="#555" stroke-width="0.45"/>
<line x1="219.77" y1="269.4" x2="219.77" y2="270.8" stroke="#555" stroke-width="0.45"/>
<line x1="220.95" y1="269.4" x2="220.95" y2="270.8" stroke="#555" stroke-width="0.45"/>
<line x1="228.62" y1="269.4" x2="228.62" y2="270.8" stroke="#555" stroke-width="0.45"/>
<line x1="232.5" y1="269.4" x2="232.5" y2="270.8" stroke="#555" stroke-width="0.45"/>
<line x1="235.25" y1="269.4" x2="235.25" y2="270.8" stroke="#555" stroke-width="0.45"/>
<line x1="237.38" y1="269.4" x2="237.38" y2="270.8" stroke="#555" stroke-width="0.45"/>
<line x1="239.12" y1="269.4" x2="239.12" y2="270.8" stroke="#555" stroke-width="0.45"/>
<line x1="240.59" y1="269.4" x2="240.59" y2="270.8" stroke="#555" stroke-width="0.45"/>
<line x1="241.87" y1="269.4" x2="241.87" y2="270.8" stroke="#555" stroke-width="0.45"/>
<line x1="242.99" y1="269.4" x2="242.99" y2="270.8" stroke="#555" stroke-width="0.45"/>
<path d="M150.9 170.4 H248.7 V269.4" stroke="#9a9a9a" fill="none" stroke-width="0.9"/>
<path d="M150.9 170.4 V269.4 H248.7" stroke="#4a4a4a" fill="none" stroke-width="0.9"/>
<path d="M151.5 269.1 L151.5 268.48 152 268.45 152.5 268.42 153 268.39 153.5 268.36 154 268.32 154.5 268.29 155 268.25 155.5 268.22 156 268.18 156.5 268.14 157 268.1 157.5 268.06 158 268.02 158.5 267.98 159 267.94 159.5 267.9 160 267.86 160.5 267.81 161 267.77 161.5 267.58 162 267.33 162.5 267.03 163 266.7 163.5 266.31 164 265.88 164.5 265.38 165 264.82 165.5 264.11 166 263.34 166.5 262.85 167 261.76 167.5 260.63 168 259.45 168.5 258.27 169 256.76 169.5 255.41 170 253.68 170.5 251.91 171 250.2 171.5 248.01 172 245.34 172.5 243.11 173 239.78 173.5 236.85 174 233.53 174.5 231.06 175 226.96 175.5 224.59 176 220.9 176.5 216.58 177 212.56 177.5 209.98 178 206.21 178.5 200.67 179 197.86 179.5 192.31 180 189.53 180.5 186.38 181 183.62 181.5 180.52 182 179.92 182.5 179.1 183 181.3 183.5 183.59 184 187.38 184.5 190.01 185 194.79 185.5 200.04 186 202.39 186.5 208.91 187 213.4 187.5 217.67 188 221.38 188.5 226.72 189 230.4 189.5 234.53 190 238.72 190.5 241.26 191 244.32 191.5 247.52 192 250.05 192.5 252.69 193 254.77 193.5 256.46 194 258.01 194.5 259.65 195 260.89 195.5 262.01 196 263.11 196.5 263.97 197 264.78 197.5 265.45 198 266.02 198.5 266.52 199 266.94 199.5 267.3 200 267.6 200.5 267.86 201 268.07 201.5 268.25 202 268.4 202.5 268.53 203 268.64 203.5 268.72 204 268.79 204.5 268.85 205 268.9 205.5 268.94 206 268.97 206.5 269 207 269.02 207.5 269.03 208 269.05 208.5 269.06 209 269.07 209.5 269.07 210 269.08 210.5 269.08 211 269.09 211.5 269.09 212 269.09 212.5 269.09 213 269.1 213.5 269.1 214 269.1 214.5 269.1 215 269.1 215.5 269.1 216 269.1 216.5 269.1 217 269.1 217.5 269.1 218 269.1 218.5 269.1 219 269.1 219.5 269.1 220 269.1 220.5 269.1 221 269.1 221.5 269.1 222 269.1 222.5 269.1 223 269.1 223.5 269.1 224 269.1 224.5 269.1 225 269.1 L225 269.1Z" stroke="none" fill="#f4c6c6" stroke-width="1"/>
<path d="M151.5 268.48 152 268.45 152.5 268.42 153 268.39 153.5 268.36 154 268.32 154.5 268.29 155 268.25 155.5 268.22 156 268.18 156.5 268.14 157 268.1 157.5 268.06 158 268.02 158.5 267.98 159 267.94 159.5 267.9 160 267.86 160.5 267.81 161 267.77 161.5 267.58 162 267.33 162.5 267.03 163 266.7 163.5 266.31 164 265.88 164.5 265.38 165 264.82 165.5 264.11 166 263.34 166.5 262.85 167 261.76 167.5 260.63 168 259.45 168.5 258.27 169 256.76 169.5 255.41 170 253.68 170.5 251.91 171 250.2 171.5 248.01 172 245.34 172.5 243.11 173 239.78 173.5 236.85 174 233.53 174.5 231.06 175 226.96 175.5 224.59 176 220.9 176.5 216.58 177 212.56 177.5 209.98 178 206.21 178.5 200.67 179 197.86 179.5 192.31 180 189.53 180.5 186.38 181 183.62 181.5 180.52 182 179.92 182.5 179.1 183 181.3 183.5 183.59 184 187.38 184.5 190.01 185 194.79 185.5 200.04 186 202.39 186.5 208.91 187 213.4 187.5 217.67 188 221.38 188.5 226.72 189 230.4 189.5 234.53 190 238.72 190.5 241.26 191 244.32 191.5 247.52 192 250.05 192.5 252.69 193 254.77 193.5 256.46 194 258.01 194.5 259.65 195 260.89 195.5 262.01 196 263.11 196.5 263.97 197 264.78 197.5 265.45 198 266.02 198.5 266.52 199 266.94 199.5 267.3 200 267.6 200.5 267.86 201 268.07 201.5 268.25 202 268.4 202.5 268.53 203 268.64 203.5 268.72 204 268.79" stroke="#d83a3a" fill="none" stroke-width="0.8"/>
<path d="M151.5 268.5 152 268.47 152.5 268.44 153 268.41 153.5 268.38 154 268.34 154.5 268.31 155 268.27 155.5 268.24 156 268.2 156.5 268.17 157 268.13 157.5 268.09 158 268.05 158.5 268.01 159 267.97 159.5 267.93 160 267.89 160.5 267.85 161 267.8 161.5 267.62 162 267.37 162.5 267.09 163 266.76 163.5 266.39 164 265.96 164.5 265.48 165 264.93 165.5 264.31 166 263.59 166.5 262.84 167 262.02 167.5 261 168 259.97 168.5 258.64 169 257.11 169.5 255.9 170 254.3 170.5 252.31 171 250.39 171.5 248.33 172 246.34 172.5 243.63 173 240.76 173.5 238.68 174 235.39 174.5 232.9 175 229.38 175.5 226.27 176 221.85 176.5 218.8 177 214.08 177.5 210.32 178 206.73 178.5 204.78 179 199.49 179.5 195.47 180 191.92 180.5 190.36 181 186.58 181.5 184.8 182 182.98 182.5 181.5 183 183.93 183.5 185.68 184 188.05 184.5 193.21 185 196.9 185.5 201.09 186 205.64 186.5 211.12 187 214.76 187.5 218.46 188 224.46 188.5 227.35 189 231.69 189.5 235.75 190 238.27 190.5 242.01 191 245.61 191.5 248.01 192 250.42 192.5 252.87 193 254.78 193.5 256.75 194 258.3 194.5 259.69 195 261.21 195.5 262.26 196 263.3 196.5 264.13 197 264.89 197.5 265.54 198 266.1 198.5 266.58 199 266.99 199.5 267.34 200 267.64 200.5 267.89 201 268.1 201.5 268.28 202 268.42 202.5 268.55 203 268.65 203.5 268.73 204 268.8" stroke="#333" fill="none" stroke-width="0.8"/>
<line x1="151.6" y1="254" x2="151.6" y2="269" stroke="#333" stroke-width="0.8"/>
<text x="244.2" y="181.3" font-size="10" text-anchor="end" stroke="#231f20" stroke-width="0.14">iso</text>
<text x="245" y="192.7" font-size="10" text-anchor="end" fill="#ee3350" stroke="#ee3350" stroke-width="0.14">KO</text>
<line x1="262.8" y1="175.3" x2="265.8" y2="175.3" stroke="#333" stroke-width="0.8"/>
<text x="261.8" y="176.6" font-size="3.8" text-anchor="end" fill="#444">100</text>
<line x1="264.3" y1="179.99" x2="265.8" y2="179.99" stroke="#555" stroke-width="0.5"/>
<line x1="264.3" y1="184.67" x2="265.8" y2="184.67" stroke="#555" stroke-width="0.5"/>
<line x1="264.3" y1="189.36" x2="265.8" y2="189.36" stroke="#555" stroke-width="0.5"/>
<line x1="262.8" y1="194.04" x2="265.8" y2="194.04" stroke="#333" stroke-width="0.8"/>
<text x="261.8" y="195.34" font-size="3.8" text-anchor="end" fill="#444">80</text>
<line x1="264.3" y1="198.73" x2="265.8" y2="198.73" stroke="#555" stroke-width="0.5"/>
<line x1="264.3" y1="203.41" x2="265.8" y2="203.41" stroke="#555" stroke-width="0.5"/>
<line x1="264.3" y1="208.1" x2="265.8" y2="208.1" stroke="#555" stroke-width="0.5"/>
<line x1="262.8" y1="212.78" x2="265.8" y2="212.78" stroke="#333" stroke-width="0.8"/>
<text x="261.8" y="214.08" font-size="3.8" text-anchor="end" fill="#444">60</text>
<line x1="264.3" y1="217.47" x2="265.8" y2="217.47" stroke="#555" stroke-width="0.5"/>
<line x1="264.3" y1="222.15" x2="265.8" y2="222.15" stroke="#555" stroke-width="0.5"/>
<line x1="264.3" y1="226.84" x2="265.8" y2="226.84" stroke="#555" stroke-width="0.5"/>
<line x1="262.8" y1="231.52" x2="265.8" y2="231.52" stroke="#333" stroke-width="0.8"/>
<text x="261.8" y="232.82" font-size="3.8" text-anchor="end" fill="#444">40</text>
<line x1="264.3" y1="236.21" x2="265.8" y2="236.21" stroke="#555" stroke-width="0.5"/>
<line x1="264.3" y1="240.89" x2="265.8" y2="240.89" stroke="#555" stroke-width="0.5"/>
<line x1="264.3" y1="245.58" x2="265.8" y2="245.58" stroke="#555" stroke-width="0.5"/>
<line x1="262.8" y1="250.26" x2="265.8" y2="250.26" stroke="#333" stroke-width="0.8"/>
<text x="261.8" y="251.56" font-size="3.8" text-anchor="end" fill="#444">20</text>
<line x1="264.3" y1="254.95" x2="265.8" y2="254.95" stroke="#555" stroke-width="0.5"/>
<line x1="264.3" y1="259.63" x2="265.8" y2="259.63" stroke="#555" stroke-width="0.5"/>
<line x1="264.3" y1="264.31" x2="265.8" y2="264.31" stroke="#555" stroke-width="0.5"/>
<line x1="262.8" y1="269" x2="265.8" y2="269" stroke="#333" stroke-width="0.8"/>
<text x="261.8" y="270.3" font-size="3.8" text-anchor="end" fill="#444">0</text>
<line x1="270" y1="270" x2="270" y2="272.5" stroke="#333" stroke-width="0.8"/>
<text x="270" y="278" font-size="3.8" text-anchor="middle" fill="#444">10<tspan font-size="2.6" dy="-1.6">2</tspan></text>
<line x1="292" y1="270" x2="292" y2="272.5" stroke="#333" stroke-width="0.8"/>
<text x="292" y="278" font-size="3.8" text-anchor="middle" fill="#444">10<tspan font-size="2.6" dy="-1.6">3</tspan></text>
<line x1="315.5" y1="270" x2="315.5" y2="272.5" stroke="#333" stroke-width="0.8"/>
<text x="315.5" y="278" font-size="3.8" text-anchor="middle" fill="#444">10<tspan font-size="2.6" dy="-1.6">4</tspan></text>
<line x1="339" y1="270" x2="339" y2="272.5" stroke="#333" stroke-width="0.8"/>
<text x="339" y="278" font-size="3.8" text-anchor="middle" fill="#444">10<tspan font-size="2.6" dy="-1.6">5</tspan></text>
<line x1="361.8" y1="270" x2="361.8" y2="272.5" stroke="#333" stroke-width="0.8"/>
<text x="361.8" y="278" font-size="3.8" text-anchor="middle" fill="#444">10<tspan font-size="2.6" dy="-1.6">6</tspan></text>
<line x1="276.62" y1="270" x2="276.62" y2="271.4" stroke="#555" stroke-width="0.45"/>
<line x1="280.5" y1="270" x2="280.5" y2="271.4" stroke="#555" stroke-width="0.45"/>
<line x1="283.25" y1="270" x2="283.25" y2="271.4" stroke="#555" stroke-width="0.45"/>
<line x1="285.38" y1="270" x2="285.38" y2="271.4" stroke="#555" stroke-width="0.45"/>
<line x1="287.12" y1="270" x2="287.12" y2="271.4" stroke="#555" stroke-width="0.45"/>
<line x1="288.59" y1="270" x2="288.59" y2="271.4" stroke="#555" stroke-width="0.45"/>
<line x1="289.87" y1="270" x2="289.87" y2="271.4" stroke="#555" stroke-width="0.45"/>
<line x1="290.99" y1="270" x2="290.99" y2="271.4" stroke="#555" stroke-width="0.45"/>
<line x1="299.07" y1="270" x2="299.07" y2="271.4" stroke="#555" stroke-width="0.45"/>
<line x1="303.21" y1="270" x2="303.21" y2="271.4" stroke="#555" stroke-width="0.45"/>
<line x1="306.15" y1="270" x2="306.15" y2="271.4" stroke="#555" stroke-width="0.45"/>
<line x1="308.43" y1="270" x2="308.43" y2="271.4" stroke="#555" stroke-width="0.45"/>
<line x1="310.29" y1="270" x2="310.29" y2="271.4" stroke="#555" stroke-width="0.45"/>
<line x1="311.86" y1="270" x2="311.86" y2="271.4" stroke="#555" stroke-width="0.45"/>
<line x1="313.22" y1="270" x2="313.22" y2="271.4" stroke="#555" stroke-width="0.45"/>
<line x1="314.42" y1="270" x2="314.42" y2="271.4" stroke="#555" stroke-width="0.45"/>
<line x1="322.57" y1="270" x2="322.57" y2="271.4" stroke="#555" stroke-width="0.45"/>
<line x1="326.71" y1="270" x2="326.71" y2="271.4" stroke="#555" stroke-width="0.45"/>
<line x1="329.65" y1="270" x2="329.65" y2="271.4" stroke="#555" stroke-width="0.45"/>
<line x1="331.93" y1="270" x2="331.93" y2="271.4" stroke="#555" stroke-width="0.45"/>
<line x1="333.79" y1="270" x2="333.79" y2="271.4" stroke="#555" stroke-width="0.45"/>
<line x1="335.36" y1="270" x2="335.36" y2="271.4" stroke="#555" stroke-width="0.45"/>
<line x1="336.72" y1="270" x2="336.72" y2="271.4" stroke="#555" stroke-width="0.45"/>
<line x1="337.92" y1="270" x2="337.92" y2="271.4" stroke="#555" stroke-width="0.45"/>
<line x1="345.86" y1="270" x2="345.86" y2="271.4" stroke="#555" stroke-width="0.45"/>
<line x1="349.88" y1="270" x2="349.88" y2="271.4" stroke="#555" stroke-width="0.45"/>
<line x1="352.73" y1="270" x2="352.73" y2="271.4" stroke="#555" stroke-width="0.45"/>
<line x1="354.94" y1="270" x2="354.94" y2="271.4" stroke="#555" stroke-width="0.45"/>
<line x1="356.74" y1="270" x2="356.74" y2="271.4" stroke="#555" stroke-width="0.45"/>
<line x1="358.27" y1="270" x2="358.27" y2="271.4" stroke="#555" stroke-width="0.45"/>
<line x1="359.59" y1="270" x2="359.59" y2="271.4" stroke="#555" stroke-width="0.45"/>
<line x1="360.76" y1="270" x2="360.76" y2="271.4" stroke="#555" stroke-width="0.45"/>
<path d="M265.8 170 H366.4 V270" stroke="#9a9a9a" fill="none" stroke-width="0.9"/>
<path d="M265.8 170 V270 H366.4" stroke="#4a4a4a" fill="none" stroke-width="0.9"/>
<path d="M270 269.7 L270 269.7 270.5 269.7 271 269.7 271.5 269.7 272 269.7 272.5 269.7 273 269.7 273.5 269.7 274 269.7 274.5 269.7 275 269.7 275.5 269.7 276 269.7 276.5 269.7 277 269.7 277.5 269.7 278 269.7 278.5 269.7 279 269.69 279.5 269.69 280 269.69 280.5 269.68 281 269.68 281.5 269.67 282 269.67 282.5 269.66 283 269.64 283.5 269.63 284 269.6 284.5 269.58 285 269.54 285.5 269.5 286 269.45 286.5 269.38 287 269.29 287.5 269.19 288 269.06 288.5 268.9 289 268.71 289.5 268.48 290 268.19 290.5 267.84 291 267.43 291.5 266.93 292 266.34 292.5 265.64 293 264.86 293.5 263.83 294 262.86 294.5 261.34 295 259.76 295.5 258.22 296 256.1 296.5 253.88 297 251.49 297.5 248.79 298 246.02 298.5 241.5 299 238.2 299.5 233 300 229.27 300.5 224.82 301 220.42 301.5 213.98 302 209.99 302.5 203.08 303 199.38 303.5 193.79 304 190.67 304.5 182.56 305 181.52 305.5 179.38 306 178.3 306.5 181.27 307 182.2 307.5 187.52 308 189.66 308.5 195.3 309 200.33 309.5 203.79 310 209.01 310.5 212.14 311 217.02 311.5 221.14 312 225.63 312.5 229.89 313 233.55 313.5 236.76 314 240.61 314.5 243.91 315 246.83 315.5 249.26 316 251.78 316.5 253.44 317 255.97 317.5 257.71 318 259.17 318.5 260.47 319 261.82 319.5 262.97 320 263.92 320.5 264.73 321 265.44 321.5 266.08 322 266.64 322.5 267.12 323 267.52 323.5 267.87 324 268.17 324.5 268.43 325 268.64 325.5 268.82 326 268.97 326.5 269.1 327 269.21 327.5 269.3 328 269.37 328.5 269.43 329 269.48 329.5 269.52 330 269.56 330.5 269.58 331 269.61 331.5 269.63 332 269.64 332.5 269.65 333 269.66 333.5 269.67 334 269.68 334.5 269.68 335 269.69 335.5 269.69 336 269.69 336.5 269.69 337 269.69 337.5 269.7 338 269.7 338.5 269.7 339 269.7 339.5 269.7 340 269.7 340.5 269.7 341 269.7 341.5 269.7 342 269.7 342.5 269.7 343 269.7 343.5 269.7 344 269.7 344.5 269.7 345 269.7 L345 269.7Z" stroke="none" fill="#d3e5c8" stroke-width="1"/>
<path d="M266.5 269.7 L266.5 268.93 267 268.89 267.5 268.86 268 268.83 268.5 268.8 269 268.76 269.5 268.73 270 268.69 270.5 268.66 271 268.62 271.5 268.58 272 268.55 272.5 268.51 273 268.47 273.5 268.43 274 268.39 274.5 268.35 275 268.31 275.5 268.27 276 268.23 276.5 268.19 277 268.06 277.5 267.79 278 267.49 278.5 267.14 279 266.75 279.5 266.3 280 265.8 280.5 265.22 281 264.69 281.5 263.95 282 263.15 282.5 262.17 283 261.37 283.5 260.04 284 258.91 284.5 257.29 285 255.76 285.5 254.02 286 252.33 286.5 250.55 287 248.21 287.5 245.72 288 243.9 288.5 240.86 289 238.29 289.5 234.71 290 232.54 290.5 229.01 291 225.22 291.5 221.69 292 219.15 292.5 214.11 293 210.57 293.5 206.78 294 202.84 294.5 198.68 295 196.75 295.5 190.08 296 189 296.5 187.36 297 182.48 297.5 178.64 298 179.27 298.5 178.3 299 179.24 299.5 185.23 300 191 300.5 194.53 301 197.54 301.5 204.56 302 210.43 302.5 215.59 303 219.95 303.5 225 304 229.35 304.5 233.84 305 238.78 305.5 242.32 306 246.09 306.5 248.92 307 252.02 307.5 254.53 308 256.22 308.5 258.52 309 260.17 309.5 261.49 310 262.96 310.5 264.14 311 265.07 311.5 265.88 312 266.55 312.5 267.12 313 267.59 313.5 267.99 314 268.31 314.5 268.58 315 268.8 315.5 268.98 316 269.13 316.5 269.25 317 269.34 317.5 269.42 318 269.48 318.5 269.53 319 269.57 319.5 269.6 320 269.62 320.5 269.64 321 269.65 321.5 269.66 322 269.67 322.5 269.68 323 269.68 323.5 269.69 324 269.69 324.5 269.69 325 269.69 325.5 269.7 326 269.7 326.5 269.7 327 269.7 327.5 269.7 328 269.7 328.5 269.7 329 269.7 329.5 269.7 330 269.7 330.5 269.7 331 269.7 331.5 269.7 332 269.7 332.5 269.7 333 269.7 333.5 269.7 334 269.7 334.5 269.7 335 269.7 L335 269.7Z" stroke="none" fill="#f4c6c6" stroke-width="1" fill-opacity="0.85"/>
<clipPath id="c3"><path d="M266.5 269.7 L266.5 268.93 267 268.89 267.5 268.86 268 268.83 268.5 268.8 269 268.76 269.5 268.73 270 268.69 270.5 268.66 271 268.62 271.5 268.58 272 268.55 272.5 268.51 273 268.47 273.5 268.43 274 268.39 274.5 268.35 275 268.31 275.5 268.27 276 268.23 276.5 268.19 277 268.06 277.5 267.79 278 267.49 278.5 267.14 279 266.75 279.5 266.3 280 265.8 280.5 265.22 281 264.69 281.5 263.95 282 263.15 282.5 262.17 283 261.37 283.5 260.04 284 258.91 284.5 257.29 285 255.76 285.5 254.02 286 252.33 286.5 250.55 287 248.21 287.5 245.72 288 243.9 288.5 240.86 289 238.29 289.5 234.71 290 232.54 290.5 229.01 291 225.22 291.5 221.69 292 219.15 292.5 214.11 293 210.57 293.5 206.78 294 202.84 294.5 198.68 295 196.75 295.5 190.08 296 189 296.5 187.36 297 182.48 297.5 178.64 298 179.27 298.5 178.3 299 179.24 299.5 185.23 300 191 300.5 194.53 301 197.54 301.5 204.56 302 210.43 302.5 215.59 303 219.95 303.5 225 304 229.35 304.5 233.84 305 238.78 305.5 242.32 306 246.09 306.5 248.92 307 252.02 307.5 254.53 308 256.22 308.5 258.52 309 260.17 309.5 261.49 310 262.96 310.5 264.14 311 265.07 311.5 265.88 312 266.55 312.5 267.12 313 267.59 313.5 267.99 314 268.31 314.5 268.58 315 268.8 315.5 268.98 316 269.13 316.5 269.25 317 269.34 317.5 269.42 318 269.48 318.5 269.53 319 269.57 319.5 269.6 320 269.62 320.5 269.64 321 269.65 321.5 269.66 322 269.67 322.5 269.68 323 269.68 323.5 269.69 324 269.69 324.5 269.69 325 269.69 325.5 269.7 326 269.7 326.5 269.7 327 269.7 327.5 269.7 328 269.7 328.5 269.7 329 269.7 329.5 269.7 330 269.7 330.5 269.7 331 269.7 331.5 269.7 332 269.7 332.5 269.7 333 269.7 333.5 269.7 334 269.7 334.5 269.7 335 269.7 L335 269.7Z"/></clipPath>
<path d="M270 269.7 L270 269.7 270.5 269.7 271 269.7 271.5 269.7 272 269.7 272.5 269.7 273 269.7 273.5 269.7 274 269.7 274.5 269.7 275 269.7 275.5 269.7 276 269.7 276.5 269.7 277 269.7 277.5 269.7 278 269.7 278.5 269.7 279 269.69 279.5 269.69 280 269.69 280.5 269.68 281 269.68 281.5 269.67 282 269.67 282.5 269.66 283 269.64 283.5 269.63 284 269.6 284.5 269.58 285 269.54 285.5 269.5 286 269.45 286.5 269.38 287 269.29 287.5 269.19 288 269.06 288.5 268.9 289 268.71 289.5 268.48 290 268.19 290.5 267.84 291 267.43 291.5 266.93 292 266.34 292.5 265.64 293 264.86 293.5 263.83 294 262.86 294.5 261.34 295 259.76 295.5 258.22 296 256.1 296.5 253.88 297 251.49 297.5 248.79 298 246.02 298.5 241.5 299 238.2 299.5 233 300 229.27 300.5 224.82 301 220.42 301.5 213.98 302 209.99 302.5 203.08 303 199.38 303.5 193.79 304 190.67 304.5 182.56 305 181.52 305.5 179.38 306 178.3 306.5 181.27 307 182.2 307.5 187.52 308 189.66 308.5 195.3 309 200.33 309.5 203.79 310 209.01 310.5 212.14 311 217.02 311.5 221.14 312 225.63 312.5 229.89 313 233.55 313.5 236.76 314 240.61 314.5 243.91 315 246.83 315.5 249.26 316 251.78 316.5 253.44 317 255.97 317.5 257.71 318 259.17 318.5 260.47 319 261.82 319.5 262.97 320 263.92 320.5 264.73 321 265.44 321.5 266.08 322 266.64 322.5 267.12 323 267.52 323.5 267.87 324 268.17 324.5 268.43 325 268.64 325.5 268.82 326 268.97 326.5 269.1 327 269.21 327.5 269.3 328 269.37 328.5 269.43 329 269.48 329.5 269.52 330 269.56 330.5 269.58 331 269.61 331.5 269.63 332 269.64 332.5 269.65 333 269.66 333.5 269.67 334 269.68 334.5 269.68 335 269.69 335.5 269.69 336 269.69 336.5 269.69 337 269.69 337.5 269.7 338 269.7 338.5 269.7 339 269.7 339.5 269.7 340 269.7 340.5 269.7 341 269.7 341.5 269.7 342 269.7 342.5 269.7 343 269.7 343.5 269.7 344 269.7 344.5 269.7 345 269.7 L345 269.7Z" stroke="none" fill="#a88a6c" stroke-width="1" fill-opacity="0.85" clip-path="url(#c3)"/>
<path d="M266.5 268.93 267 268.89 267.5 268.86 268 268.83 268.5 268.8 269 268.76 269.5 268.73 270 268.69 270.5 268.66 271 268.62 271.5 268.58 272 268.55 272.5 268.51 273 268.47 273.5 268.43 274 268.39 274.5 268.35 275 268.31 275.5 268.27 276 268.23 276.5 268.19 277 268.06 277.5 267.79 278 267.49 278.5 267.14 279 266.75 279.5 266.3 280 265.8 280.5 265.22 281 264.69 281.5 263.95 282 263.15 282.5 262.17 283 261.37 283.5 260.04 284 258.91 284.5 257.29 285 255.76 285.5 254.02 286 252.33 286.5 250.55 287 248.21 287.5 245.72 288 243.9 288.5 240.86 289 238.29 289.5 234.71 290 232.54 290.5 229.01 291 225.22 291.5 221.69 292 219.15 292.5 214.11 293 210.57 293.5 206.78 294 202.84 294.5 198.68 295 196.75 295.5 190.08 296 189 296.5 187.36 297 182.48 297.5 178.64 298 179.27 298.5 178.3 299 179.24 299.5 185.23 300 191 300.5 194.53 301 197.54 301.5 204.56 302 210.43 302.5 215.59 303 219.95 303.5 225 304 229.35 304.5 233.84 305 238.78 305.5 242.32 306 246.09 306.5 248.92 307 252.02 307.5 254.53 308 256.22 308.5 258.52 309 260.17 309.5 261.49 310 262.96 310.5 264.14 311 265.07 311.5 265.88 312 266.55 312.5 267.12 313 267.59 313.5 267.99 314 268.31 314.5 268.58 315 268.8 315.5 268.98 316 269.13 316.5 269.25 317 269.34 317.5 269.42" stroke="#d83a3a" fill="none" stroke-width="0.8"/>
<path d="M286.5 269.38 287 269.29 287.5 269.19 288 269.06 288.5 268.9 289 268.71 289.5 268.48 290 268.19 290.5 267.84 291 267.43 291.5 266.93 292 266.34 292.5 265.64 293 264.86 293.5 263.83 294 262.86 294.5 261.34 295 259.76 295.5 258.22 296 256.1 296.5 253.88 297 251.49 297.5 248.79 298 246.02 298.5 241.5 299 238.2 299.5 233 300 229.27 300.5 224.82 301 220.42 301.5 213.98 302 209.99 302.5 203.08 303 199.38 303.5 193.79 304 190.67 304.5 182.56 305 181.52 305.5 179.38 306 178.3 306.5 181.27 307 182.2 307.5 187.52 308 189.66 308.5 195.3 309 200.33 309.5 203.79 310 209.01 310.5 212.14 311 217.02 311.5 221.14 312 225.63 312.5 229.89 313 233.55 313.5 236.76 314 240.61 314.5 243.91 315 246.83 315.5 249.26 316 251.78 316.5 253.44 317 255.97 317.5 257.71 318 259.17 318.5 260.47 319 261.82 319.5 262.97 320 263.92 320.5 264.73 321 265.44 321.5 266.08 322 266.64 322.5 267.12 323 267.52 323.5 267.87 324 268.17 324.5 268.43 325 268.64 325.5 268.82 326 268.97 326.5 269.1 327 269.21 327.5 269.3 328 269.37" stroke="#4f9d3f" fill="none" stroke-width="0.8"/>
<line x1="266.5" y1="258" x2="266.5" y2="269.5" stroke="#d83a3a" stroke-width="0.8"/>
<text x="363.4" y="181.1" font-size="10" text-anchor="end" fill="#1aa64f" stroke="#1aa64f" stroke-width="0.14">WT</text>
<text x="363.4" y="192.4" font-size="10" text-anchor="end" fill="#ee3350" stroke="#ee3350" stroke-width="0.14">KO</text>
<line x1="36.4" y1="282.5" x2="361" y2="282.5" stroke="#231f20" stroke-width="0.9"/>
<path d="M359.5 280 L365.3 282.5 L359.5 285 Z" stroke="none" fill="#231f20" stroke-width="1"/>
<text x="34.4" y="296.5" font-size="10.6" stroke="#231f20" stroke-width="0.14" letter-spacing="0.35">CD112</text>
<text x="397.3" y="182.4" font-size="19" font-weight="bold" stroke="#231f20" stroke-width="0.14">D.</text>
<line x1="446.6" y1="174.2" x2="446.6" y2="223.8" stroke="#231f20" stroke-width="1"/>
<line x1="443.1" y1="223.8" x2="449.6" y2="223.8" stroke="#231f20" stroke-width="1"/>
<line x1="446.6" y1="232.8" x2="446.6" y2="281.7" stroke="#231f20" stroke-width="1"/>
<line x1="443.1" y1="232.8" x2="449.6" y2="232.8" stroke="#231f20" stroke-width="1"/>
<line x1="446.6" y1="281.7" x2="513.4" y2="281.7" stroke="#231f20" stroke-width="1"/>
<line x1="444.1" y1="174.7" x2="446.6" y2="174.7" stroke="#231f20" stroke-width="1"/>
<text x="443.4" y="177.8" font-size="8.6" text-anchor="end" fill="#333" stroke="#333" stroke-width="0.14">4×10<tspan font-size="5.4" dy="-3.4">4</tspan></text>
<line x1="444.1" y1="201.4" x2="446.6" y2="201.4" stroke="#231f20" stroke-width="1"/>
<text x="443.4" y="204.5" font-size="8.6" text-anchor="end" fill="#333" stroke="#333" stroke-width="0.14">2×10<tspan font-size="5.4" dy="-3.4">4</tspan></text>
<line x1="444.1" y1="232.8" x2="446.6" y2="232.8" stroke="#231f20" stroke-width="1"/>
<text x="443.4" y="235.9" font-size="8.6" text-anchor="end" fill="#333" stroke="#333" stroke-width="0.14">3×10<tspan font-size="5.4" dy="-3.4">3</tspan></text>
<line x1="444.1" y1="251" x2="446.6" y2="251" stroke="#231f20" stroke-width="1"/>
<text x="443.4" y="254.1" font-size="8.6" text-anchor="end" fill="#333" stroke="#333" stroke-width="0.14">2×10<tspan font-size="5.4" dy="-3.4">3</tspan></text>
<line x1="444.1" y1="269.9" x2="446.6" y2="269.9" stroke="#231f20" stroke-width="1"/>
<text x="442.6" y="273" font-size="8.6" text-anchor="end" fill="#333" stroke="#333" stroke-width="0.14">0</text>
<line x1="448.5" y1="269.9" x2="513.4" y2="269.9" stroke="#231f20" stroke-width="1.3" stroke-dasharray="1.5 1.5"/>
<text x="417.6" y="225.7" font-size="10.4" text-anchor="middle" stroke="#231f20" stroke-width="0.14" letter-spacing="0.45" transform="rotate(-90 417.6 225.7)">ΔMFI CD112</text>
<text x="481" y="177.6" font-size="8.6" text-anchor="middle" fill="#555" stroke="#555" stroke-width="0.14">0.0545</text>
<line x1="467.4" y1="180.6" x2="495.7" y2="180.6" stroke="#888" stroke-width="1"/>
<line x1="466.2" y1="210.8" x2="495.7" y2="184.3" stroke="#231f20" stroke-width="0.9"/>
<line x1="466.2" y1="217.9" x2="495.7" y2="209.2" stroke="#231f20" stroke-width="0.9"/>
<line x1="466.2" y1="219.6" x2="495.7" y2="209.2" stroke="#231f20" stroke-width="0.9"/>
<line x1="466.2" y1="270.5" x2="495.7" y2="238" stroke="#231f20" stroke-width="0.9"/>
<line x1="466.2" y1="279.4" x2="495.7" y2="246.7" stroke="#231f20" stroke-width="0.9"/>
<line x1="466.2" y1="269.2" x2="495.7" y2="258.8" stroke="#231f20" stroke-width="0.9"/>
<line x1="466.2" y1="271" x2="495.7" y2="260.4" stroke="#231f20" stroke-width="0.9"/>
<circle cx="466.2" cy="210.8" r="1.7" fill="#e8282e"/>
<circle cx="466.2" cy="217.9" r="1.7" fill="#e8282e"/>
<circle cx="466.2" cy="219.6" r="1.7" fill="#e8282e"/>
<circle cx="466.2" cy="221" r="1.7" fill="#e8282e"/>
<circle cx="466.2" cy="269.2" r="1.7" fill="#e8282e"/>
<circle cx="466.2" cy="271.1" r="1.7" fill="#e8282e"/>
<circle cx="466.2" cy="279.4" r="1.7" fill="#e8282e"/>
<circle cx="466.2" cy="270" r="1.7" fill="#e8282e"/>
<circle cx="495.7" cy="184.3" r="1.7" fill="#1c9c50"/>
<circle cx="495.7" cy="209.2" r="1.7" fill="#1c9c50"/>
<circle cx="495.7" cy="238" r="1.7" fill="#1c9c50"/>
<circle cx="495.7" cy="246.7" r="1.7" fill="#1c9c50"/>
<circle cx="495.7" cy="258.8" r="1.7" fill="#1c9c50"/>
<circle cx="495.7" cy="260.4" r="1.7" fill="#1c9c50"/>
<line x1="461.5" y1="232.8" x2="470.9" y2="232.8" stroke="#ee4036" stroke-width="1.8"/>
<line x1="491" y1="216.7" x2="501.2" y2="216.7" stroke="#1aa64f" stroke-width="1.8"/>
<text x="467.4" y="294.7" font-size="10.3" text-anchor="middle" stroke="#231f20" stroke-width="0.14">KO</text>
<text x="496.4" y="294.7" font-size="10.3" text-anchor="middle" stroke="#231f20" stroke-width="0.14">WT</text>
<text x="4.6" y="333.3" font-size="19" font-weight="bold" stroke="#231f20" stroke-width="0.14">E.</text>
<text x="95" y="322.2" font-size="10.4" text-anchor="middle" stroke="#231f20" stroke-width="0.14" letter-spacing="0.4">WT LECs</text>
<text x="205.8" y="322.2" font-size="10.4" text-anchor="middle" stroke="#231f20" stroke-width="0.14" letter-spacing="0.4">KO LECs</text>
<text x="320.6" y="322.2" font-size="10.4" text-anchor="middle" stroke="#231f20" stroke-width="0.14" letter-spacing="0.4">Overlay</text>
<line x1="36.1" y1="329.8" x2="39.1" y2="329.8" stroke="#333" stroke-width="0.8"/>
<text x="35.1" y="331.1" font-size="3.8" text-anchor="end" fill="#444">100</text>
<line x1="37.6" y1="334.4" x2="39.1" y2="334.4" stroke="#555" stroke-width="0.5"/>
<line x1="37.6" y1="338.99" x2="39.1" y2="338.99" stroke="#555" stroke-width="0.5"/>
<line x1="37.6" y1="343.59" x2="39.1" y2="343.59" stroke="#555" stroke-width="0.5"/>
<line x1="36.1" y1="348.18" x2="39.1" y2="348.18" stroke="#333" stroke-width="0.8"/>
<text x="35.1" y="349.48" font-size="3.8" text-anchor="end" fill="#444">80</text>
<line x1="37.6" y1="352.78" x2="39.1" y2="352.78" stroke="#555" stroke-width="0.5"/>
<line x1="37.6" y1="357.37" x2="39.1" y2="357.37" stroke="#555" stroke-width="0.5"/>
<line x1="37.6" y1="361.97" x2="39.1" y2="361.97" stroke="#555" stroke-width="0.5"/>
<line x1="36.1" y1="366.56" x2="39.1" y2="366.56" stroke="#333" stroke-width="0.8"/>
<text x="35.1" y="367.86" font-size="3.8" text-anchor="end" fill="#444">60</text>
<line x1="37.6" y1="371.16" x2="39.1" y2="371.16" stroke="#555" stroke-width="0.5"/>
<line x1="37.6" y1="375.75" x2="39.1" y2="375.75" stroke="#555" stroke-width="0.5"/>
<line x1="37.6" y1="380.35" x2="39.1" y2="380.35" stroke="#555" stroke-width="0.5"/>
<line x1="36.1" y1="384.94" x2="39.1" y2="384.94" stroke="#333" stroke-width="0.8"/>
<text x="35.1" y="386.24" font-size="3.8" text-anchor="end" fill="#444">40</text>
<line x1="37.6" y1="389.54" x2="39.1" y2="389.54" stroke="#555" stroke-width="0.5"/>
<line x1="37.6" y1="394.13" x2="39.1" y2="394.13" stroke="#555" stroke-width="0.5"/>
<line x1="37.6" y1="398.73" x2="39.1" y2="398.73" stroke="#555" stroke-width="0.5"/>
<line x1="36.1" y1="403.32" x2="39.1" y2="403.32" stroke="#333" stroke-width="0.8"/>
<text x="35.1" y="404.62" font-size="3.8" text-anchor="end" fill="#444">20</text>
<line x1="37.6" y1="407.92" x2="39.1" y2="407.92" stroke="#555" stroke-width="0.5"/>
<line x1="37.6" y1="412.51" x2="39.1" y2="412.51" stroke="#555" stroke-width="0.5"/>
<line x1="37.6" y1="417.11" x2="39.1" y2="417.11" stroke="#555" stroke-width="0.5"/>
<line x1="36.1" y1="421.7" x2="39.1" y2="421.7" stroke="#333" stroke-width="0.8"/>
<text x="35.1" y="423" font-size="3.8" text-anchor="end" fill="#444">0</text>
<line x1="50.5" y1="422.7" x2="50.5" y2="425.2" stroke="#333" stroke-width="0.8"/>
<text x="50.5" y="430.7" font-size="3.8" text-anchor="middle" fill="#444">0</text>
<line x1="78" y1="422.7" x2="78" y2="425.2" stroke="#333" stroke-width="0.8"/>
<text x="78" y="430.7" font-size="3.8" text-anchor="middle" fill="#444">10<tspan font-size="2.6" dy="-1.6">3</tspan></text>
<line x1="98" y1="422.7" x2="98" y2="425.2" stroke="#333" stroke-width="0.8"/>
<text x="98" y="430.7" font-size="3.8" text-anchor="middle" fill="#444">10<tspan font-size="2.6" dy="-1.6">4</tspan></text>
<line x1="117.3" y1="422.7" x2="117.3" y2="425.2" stroke="#333" stroke-width="0.8"/>
<text x="117.3" y="430.7" font-size="3.8" text-anchor="middle" fill="#444">10<tspan font-size="2.6" dy="-1.6">5</tspan></text>
<line x1="133.6" y1="422.7" x2="133.6" y2="425.2" stroke="#333" stroke-width="0.8"/>
<text x="133.6" y="430.7" font-size="3.8" text-anchor="middle" fill="#444">10<tspan font-size="2.6" dy="-1.6">6</tspan></text>
<line x1="53.56" y1="422.7" x2="53.56" y2="424.1" stroke="#555" stroke-width="0.45"/>
<line x1="56.61" y1="422.7" x2="56.61" y2="424.1" stroke="#555" stroke-width="0.45"/>
<line x1="59.67" y1="422.7" x2="59.67" y2="424.1" stroke="#555" stroke-width="0.45"/>
<line x1="62.72" y1="422.7" x2="62.72" y2="424.1" stroke="#555" stroke-width="0.45"/>
<line x1="65.78" y1="422.7" x2="65.78" y2="424.1" stroke="#555" stroke-width="0.45"/>
<line x1="68.83" y1="422.7" x2="68.83" y2="424.1" stroke="#555" stroke-width="0.45"/>
<line x1="71.89" y1="422.7" x2="71.89" y2="424.1" stroke="#555" stroke-width="0.45"/>
<line x1="74.94" y1="422.7" x2="74.94" y2="424.1" stroke="#555" stroke-width="0.45"/>
<line x1="84.02" y1="422.7" x2="84.02" y2="424.1" stroke="#555" stroke-width="0.45"/>
<line x1="87.54" y1="422.7" x2="87.54" y2="424.1" stroke="#555" stroke-width="0.45"/>
<line x1="90.04" y1="422.7" x2="90.04" y2="424.1" stroke="#555" stroke-width="0.45"/>
<line x1="91.98" y1="422.7" x2="91.98" y2="424.1" stroke="#555" stroke-width="0.45"/>
<line x1="93.56" y1="422.7" x2="93.56" y2="424.1" stroke="#555" stroke-width="0.45"/>
<line x1="94.9" y1="422.7" x2="94.9" y2="424.1" stroke="#555" stroke-width="0.45"/>
<line x1="96.06" y1="422.7" x2="96.06" y2="424.1" stroke="#555" stroke-width="0.45"/>
<line x1="97.08" y1="422.7" x2="97.08" y2="424.1" stroke="#555" stroke-width="0.45"/>
<line x1="103.81" y1="422.7" x2="103.81" y2="424.1" stroke="#555" stroke-width="0.45"/>
<line x1="107.21" y1="422.7" x2="107.21" y2="424.1" stroke="#555" stroke-width="0.45"/>
<line x1="109.62" y1="422.7" x2="109.62" y2="424.1" stroke="#555" stroke-width="0.45"/>
<line x1="111.49" y1="422.7" x2="111.49" y2="424.1" stroke="#555" stroke-width="0.45"/>
<line x1="113.02" y1="422.7" x2="113.02" y2="424.1" stroke="#555" stroke-width="0.45"/>
<line x1="114.31" y1="422.7" x2="114.31" y2="424.1" stroke="#555" stroke-width="0.45"/>
<line x1="115.43" y1="422.7" x2="115.43" y2="424.1" stroke="#555" stroke-width="0.45"/>
<line x1="116.42" y1="422.7" x2="116.42" y2="424.1" stroke="#555" stroke-width="0.45"/>
<line x1="122.21" y1="422.7" x2="122.21" y2="424.1" stroke="#555" stroke-width="0.45"/>
<line x1="125.08" y1="422.7" x2="125.08" y2="424.1" stroke="#555" stroke-width="0.45"/>
<line x1="127.11" y1="422.7" x2="127.11" y2="424.1" stroke="#555" stroke-width="0.45"/>
<line x1="128.69" y1="422.7" x2="128.69" y2="424.1" stroke="#555" stroke-width="0.45"/>
<line x1="129.98" y1="422.7" x2="129.98" y2="424.1" stroke="#555" stroke-width="0.45"/>
<line x1="131.08" y1="422.7" x2="131.08" y2="424.1" stroke="#555" stroke-width="0.45"/>
<line x1="132.02" y1="422.7" x2="132.02" y2="424.1" stroke="#555" stroke-width="0.45"/>
<line x1="132.85" y1="422.7" x2="132.85" y2="424.1" stroke="#555" stroke-width="0.45"/>
<path d="M39.1 324.5 H138.2 V422.7" stroke="#9a9a9a" fill="none" stroke-width="0.9"/>
<path d="M39.1 324.5 V422.7 H138.2" stroke="#4a4a4a" fill="none" stroke-width="0.9"/>
<path d="M75 422.4 L75 422.39 75.5 422.39 76 422.39 76.5 422.39 77 422.38 77.5 422.38 78 422.38 78.5 422.37 79 422.36 79.5 422.35 80 422.34 80.5 422.33 81 422.31 81.5 422.29 82 422.27 82.5 422.24 83 422.21 83.5 422.16 84 422.11 84.5 422.05 85 421.98 85.5 421.9 86 421.8 86.5 421.68 87 421.54 87.5 421.37 88 421.17 88.5 420.95 89 420.68 89.5 420.37 90 420.02 90.5 419.6 91 419.13 91.5 418.58 92 417.96 92.5 417.31 93 416.49 93.5 415.58 94 414.46 94.5 413.35 95 412 95.5 410.44 96 408.81 96.5 407.07 97 405.28 97.5 403.21 98 400.88 98.5 398.21 99 395.35 99.5 392.7 100 389.62 100.5 385.64 101 383.08 101.5 378.52 102 374.26 102.5 371.06 103 367.04 103.5 362.63 104 357.35 104.5 353.77 105 351.21 105.5 346.07 106 341.07 106.5 337.8 107 335.37 107.5 334.2 108 334.88 108.5 334.05 109 337.05 109.5 340.26 110 342.94 110.5 348.69 111 353.36 111.5 358 112 363.57 112.5 368.7 113 373.48 113.5 377.24 114 381.81 114.5 386.43 115 389.67 115.5 393.67 116 397.48 116.5 399.97 117 402.94 117.5 405.69 118 407.57 118.5 409.73 119 411.51 119.5 412.96 120 414.61 120.5 415.71 121 416.68 121.5 417.54 122 418.33 122.5 419 123 419.56 123.5 420.04 124 420.45 124.5 420.79 125 421.08 125.5 421.32 126 421.52 126.5 421.68 127 421.82 127.5 421.93 128 422.02 128.5 422.1 129 422.16 129.5 422.21 130 422.25 130.5 422.28 131 422.3 131.5 422.32 132 422.34 132.5 422.35 133 422.36 133.5 422.37 134 422.38 134.5 422.38 135 422.39 135.5 422.39 136 422.39 136.5 422.39 137 422.4 137.5 422.4 138 422.4 L138 422.4Z" stroke="none" fill="#d3e5c8" stroke-width="1"/>
<path d="M84.5 422.05 85 421.98 85.5 421.9 86 421.8 86.5 421.68 87 421.54 87.5 421.37 88 421.17 88.5 420.95 89 420.68 89.5 420.37 90 420.02 90.5 419.6 91 419.13 91.5 418.58 92 417.96 92.5 417.31 93 416.49 93.5 415.58 94 414.46 94.5 413.35 95 412 95.5 410.44 96 408.81 96.5 407.07 97 405.28 97.5 403.21 98 400.88 98.5 398.21 99 395.35 99.5 392.7 100 389.62 100.5 385.64 101 383.08 101.5 378.52 102 374.26 102.5 371.06 103 367.04 103.5 362.63 104 357.35 104.5 353.77 105 351.21 105.5 346.07 106 341.07 106.5 337.8 107 335.37 107.5 334.2 108 334.88 108.5 334.05 109 337.05 109.5 340.26 110 342.94 110.5 348.69 111 353.36 111.5 358 112 363.57 112.5 368.7 113 373.48 113.5 377.24 114 381.81 114.5 386.43 115 389.67 115.5 393.67 116 397.48 116.5 399.97 117 402.94 117.5 405.69 118 407.57 118.5 409.73 119 411.51 119.5 412.96 120 414.61 120.5 415.71 121 416.68 121.5 417.54 122 418.33 122.5 419 123 419.56 123.5 420.04 124 420.45 124.5 420.79 125 421.08 125.5 421.32 126 421.52 126.5 421.68 127 421.82 127.5 421.93 128 422.02 128.5 422.1" stroke="#4f9d3f" fill="none" stroke-width="0.8"/>
<path d="M42.5 422.06 43 422.05 43.5 422.04 44 422.02 44.5 422.01 45 422 45.5 421.98 46 421.97 46.5 421.96 47 421.94 47.5 421.93 48 421.91 48.5 421.9 49 421.88 49.5 421.87 50 421.85 50.5 421.83 51 421.82 51.5 421.8 52 421.78 52.5 421.77 53 421.75 53.5 421.73 54 421.71 54.5 421.69 55 421.68 55.5 421.66 56 421.64 56.5 421.62 57 421.6 57.5 421.58 58 421.56 58.5 421.54 59 421.52 59.5 421.5 60 421.48 60.5 421.46 61 421.44 61.5 421.42 62 421.4 62.5 421.38 63 421.36 63.5 421.34 64 421.32 64.5 421.3 65 421.28 65.5 421.26 66 421.23 66.5 421.21 67 421.19 67.5 421.17 68 421.15 68.5 421.13 69 421.11 69.5 421.09 70 421.07 70.5 421.01 71 420.75 71.5 420.45 72 420.1 72.5 419.7 73 419.23 73.5 418.69 74 418.07 74.5 417.36 75 416.46 75.5 415.54 76 414.65 76.5 413.47 77 412.19 77.5 410.59 78 409.05 78.5 407.1 79 405.63 79.5 402.7 80 400.7 80.5 397.87 81 395.31 81.5 392.37 82 388.81 82.5 385.19 83 382.01 83.5 378.18 84 373.73 84.5 370.57 85 366.86 85.5 361.29 86 357.86 86.5 354.74 87 349.8 87.5 345.67 88 342.86 88.5 340.08 89 335.99 89.5 333.8 90 334.29 90.5 336.34 91 337.53 91.5 340.16 92 344.54 92.5 347.48 93 351.03 93.5 356.17 94 360.78 94.5 364.12 95 368.35 95.5 371.93 96 377.26 96.5 380.71 97 384.42 97.5 388.23 98 390.74 98.5 393.68 99 396.96 99.5 399.01 100 401.65 100.5 403.97 101 406.09 101.5 407.88 102 409.94 102.5 411.19 103 412.58 103.5 414.07 104 414.96 104.5 415.98 105 416.77 105.5 417.61 106 418.26 106.5 418.84 107 419.36 107.5 419.8 108 420.19 108.5 420.52 109 420.81 109.5 421.06 110 421.27 110.5 421.45 111 421.6 111.5 421.73 112 421.84 112.5 421.94 113 422.02 113.5 422.08" stroke="#222" fill="none" stroke-width="0.8"/>
<line x1="39.8" y1="413" x2="39.8" y2="422" stroke="#333" stroke-width="0.8"/>
<text x="132.6" y="336.2" font-size="10" text-anchor="end" stroke="#231f20" stroke-width="0.14">iso</text>
<text x="134.4" y="347.8" font-size="10" text-anchor="end" fill="#1aa64f" stroke="#1aa64f" stroke-width="0.14">WT</text>
<line x1="148.8" y1="330.3" x2="151.8" y2="330.3" stroke="#333" stroke-width="0.8"/>
<text x="147.8" y="331.6" font-size="3.8" text-anchor="end" fill="#444">100</text>
<line x1="150.3" y1="334.92" x2="151.8" y2="334.92" stroke="#555" stroke-width="0.5"/>
<line x1="150.3" y1="339.53" x2="151.8" y2="339.53" stroke="#555" stroke-width="0.5"/>
<line x1="150.3" y1="344.15" x2="151.8" y2="344.15" stroke="#555" stroke-width="0.5"/>
<line x1="148.8" y1="348.76" x2="151.8" y2="348.76" stroke="#333" stroke-width="0.8"/>
<text x="147.8" y="350.06" font-size="3.8" text-anchor="end" fill="#444">80</text>
<line x1="150.3" y1="353.38" x2="151.8" y2="353.38" stroke="#555" stroke-width="0.5"/>
<line x1="150.3" y1="357.99" x2="151.8" y2="357.99" stroke="#555" stroke-width="0.5"/>
<line x1="150.3" y1="362.61" x2="151.8" y2="362.61" stroke="#555" stroke-width="0.5"/>
<line x1="148.8" y1="367.22" x2="151.8" y2="367.22" stroke="#333" stroke-width="0.8"/>
<text x="147.8" y="368.52" font-size="3.8" text-anchor="end" fill="#444">60</text>
<line x1="150.3" y1="371.84" x2="151.8" y2="371.84" stroke="#555" stroke-width="0.5"/>
<line x1="150.3" y1="376.45" x2="151.8" y2="376.45" stroke="#555" stroke-width="0.5"/>
<line x1="150.3" y1="381.07" x2="151.8" y2="381.07" stroke="#555" stroke-width="0.5"/>
<line x1="148.8" y1="385.68" x2="151.8" y2="385.68" stroke="#333" stroke-width="0.8"/>
<text x="147.8" y="386.98" font-size="3.8" text-anchor="end" fill="#444">40</text>
<line x1="150.3" y1="390.3" x2="151.8" y2="390.3" stroke="#555" stroke-width="0.5"/>
<line x1="150.3" y1="394.91" x2="151.8" y2="394.91" stroke="#555" stroke-width="0.5"/>
<line x1="150.3" y1="399.53" x2="151.8" y2="399.53" stroke="#555" stroke-width="0.5"/>
<line x1="148.8" y1="404.14" x2="151.8" y2="404.14" stroke="#333" stroke-width="0.8"/>
<text x="147.8" y="405.44" font-size="3.8" text-anchor="end" fill="#444">20</text>
<line x1="150.3" y1="408.76" x2="151.8" y2="408.76" stroke="#555" stroke-width="0.5"/>
<line x1="150.3" y1="413.37" x2="151.8" y2="413.37" stroke="#555" stroke-width="0.5"/>
<line x1="150.3" y1="417.99" x2="151.8" y2="417.99" stroke="#555" stroke-width="0.5"/>
<line x1="148.8" y1="422.6" x2="151.8" y2="422.6" stroke="#333" stroke-width="0.8"/>
<text x="147.8" y="423.9" font-size="3.8" text-anchor="end" fill="#444">0</text>
<line x1="161.8" y1="423.6" x2="161.8" y2="426.1" stroke="#333" stroke-width="0.8"/>
<text x="161.8" y="431.6" font-size="3.8" text-anchor="middle" fill="#444">0</text>
<line x1="191" y1="423.6" x2="191" y2="426.1" stroke="#333" stroke-width="0.8"/>
<text x="191" y="431.6" font-size="3.8" text-anchor="middle" fill="#444">10<tspan font-size="2.6" dy="-1.6">3</tspan></text>
<line x1="209" y1="423.6" x2="209" y2="426.1" stroke="#333" stroke-width="0.8"/>
<text x="209" y="431.6" font-size="3.8" text-anchor="middle" fill="#444">10<tspan font-size="2.6" dy="-1.6">4</tspan></text>
<line x1="228" y1="423.6" x2="228" y2="426.1" stroke="#333" stroke-width="0.8"/>
<text x="228" y="431.6" font-size="3.8" text-anchor="middle" fill="#444">10<tspan font-size="2.6" dy="-1.6">5</tspan></text>
<line x1="246.4" y1="423.6" x2="246.4" y2="426.1" stroke="#333" stroke-width="0.8"/>
<text x="246.4" y="431.6" font-size="3.8" text-anchor="middle" fill="#444">10<tspan font-size="2.6" dy="-1.6">6</tspan></text>
<line x1="165.04" y1="423.6" x2="165.04" y2="425" stroke="#555" stroke-width="0.45"/>
<line x1="168.29" y1="423.6" x2="168.29" y2="425" stroke="#555" stroke-width="0.45"/>
<line x1="171.53" y1="423.6" x2="171.53" y2="425" stroke="#555" stroke-width="0.45"/>
<line x1="174.78" y1="423.6" x2="174.78" y2="425" stroke="#555" stroke-width="0.45"/>
<line x1="178.02" y1="423.6" x2="178.02" y2="425" stroke="#555" stroke-width="0.45"/>
<line x1="181.27" y1="423.6" x2="181.27" y2="425" stroke="#555" stroke-width="0.45"/>
<line x1="184.51" y1="423.6" x2="184.51" y2="425" stroke="#555" stroke-width="0.45"/>
<line x1="187.76" y1="423.6" x2="187.76" y2="425" stroke="#555" stroke-width="0.45"/>
<line x1="196.42" y1="423.6" x2="196.42" y2="425" stroke="#555" stroke-width="0.45"/>
<line x1="199.59" y1="423.6" x2="199.59" y2="425" stroke="#555" stroke-width="0.45"/>
<line x1="201.84" y1="423.6" x2="201.84" y2="425" stroke="#555" stroke-width="0.45"/>
<line x1="203.58" y1="423.6" x2="203.58" y2="425" stroke="#555" stroke-width="0.45"/>
<line x1="205.01" y1="423.6" x2="205.01" y2="425" stroke="#555" stroke-width="0.45"/>
<line x1="206.21" y1="423.6" x2="206.21" y2="425" stroke="#555" stroke-width="0.45"/>
<line x1="207.26" y1="423.6" x2="207.26" y2="425" stroke="#555" stroke-width="0.45"/>
<line x1="208.18" y1="423.6" x2="208.18" y2="425" stroke="#555" stroke-width="0.45"/>
<line x1="214.72" y1="423.6" x2="214.72" y2="425" stroke="#555" stroke-width="0.45"/>
<line x1="218.07" y1="423.6" x2="218.07" y2="425" stroke="#555" stroke-width="0.45"/>
<line x1="220.44" y1="423.6" x2="220.44" y2="425" stroke="#555" stroke-width="0.45"/>
<line x1="222.28" y1="423.6" x2="222.28" y2="425" stroke="#555" stroke-width="0.45"/>
<line x1="223.78" y1="423.6" x2="223.78" y2="425" stroke="#555" stroke-width="0.45"/>
<line x1="225.06" y1="423.6" x2="225.06" y2="425" stroke="#555" stroke-width="0.45"/>
<line x1="226.16" y1="423.6" x2="226.16" y2="425" stroke="#555" stroke-width="0.45"/>
<line x1="227.13" y1="423.6" x2="227.13" y2="425" stroke="#555" stroke-width="0.45"/>
<line x1="233.54" y1="423.6" x2="233.54" y2="425" stroke="#555" stroke-width="0.45"/>
<line x1="236.78" y1="423.6" x2="236.78" y2="425" stroke="#555" stroke-width="0.45"/>
<line x1="239.08" y1="423.6" x2="239.08" y2="425" stroke="#555" stroke-width="0.45"/>
<line x1="240.86" y1="423.6" x2="240.86" y2="425" stroke="#555" stroke-width="0.45"/>
<line x1="242.32" y1="423.6" x2="242.32" y2="425" stroke="#555" stroke-width="0.45"/>
<line x1="243.55" y1="423.6" x2="243.55" y2="425" stroke="#555" stroke-width="0.45"/>
<line x1="244.62" y1="423.6" x2="244.62" y2="425" stroke="#555" stroke-width="0.45"/>
<line x1="245.56" y1="423.6" x2="245.56" y2="425" stroke="#555" stroke-width="0.45"/>
<path d="M151.8 325 H249.5 V423.6" stroke="#9a9a9a" fill="none" stroke-width="0.9"/>
<path d="M151.8 325 V423.6 H249.5" stroke="#4a4a4a" fill="none" stroke-width="0.9"/>
<path d="M152.5 423.3 L152.5 423.15 153 423.14 153.5 423.13 154 423.13 154.5 423.12 155 423.11 155.5 423.1 156 423.09 156.5 423.08 157 423.07 157.5 423.06 158 423.05 158.5 423.03 159 423.02 159.5 423.01 160 423 160.5 422.98 161 422.97 161.5 422.96 162 422.94 162.5 422.93 163 422.91 163.5 422.89 164 422.88 164.5 422.86 165 422.84 165.5 422.83 166 422.81 166.5 422.79 167 422.77 167.5 422.75 168 422.73 168.5 422.71 169 422.69 169.5 422.67 170 422.65 170.5 422.63 171 422.61 171.5 422.59 172 422.56 172.5 422.54 173 422.52 173.5 422.49 174 422.47 174.5 422.45 175 422.42 175.5 422.4 176 422.37 176.5 422.35 177 422.32 177.5 422.3 178 422.27 178.5 422.25 179 422.22 179.5 422.2 180 422.17 180.5 422.15 181 422.12 181.5 422.1 182 422.07 182.5 422.05 183 422.02 183.5 422 184 421.97 184.5 421.95 185 421.92 185.5 421.71 186 421.36 186.5 420.95 187 420.46 187.5 419.87 188 419.19 188.5 418.39 189 417.38 189.5 416.3 190 415.04 190.5 413.48 191 412.19 191.5 410.25 192 408.28 192.5 405.69 193 402.77 193.5 400.08 194 396.68 194.5 393.99 195 389.4 195.5 385.74 196 380.01 196.5 375.75 197 370.78 197.5 366.37 198 360.73 198.5 355.5 199 351.24 199.5 346.51 200 341.6 200.5 338.04 201 334.7 201.5 332.04 202 332.07 202.5 331.5 203 335.72 203.5 335.25 204 339.2 204.5 341.83 205 345.53 205.5 347.49 206 350.82 206.5 353.77 207 357.73 207.5 360.64 208 362.81 208.5 367.2 209 371.15 209.5 373.47 210 377.27 210.5 379.96 211 382.93 211.5 386.25 212 389.59 212.5 391.52 213 393.66 213.5 396.32 214 398.26 214.5 400.2 215 402.55 215.5 403.95 216 405.58 216.5 407.29 217 408.76 217.5 410.14 218 411.24 218.5 412.68 219 413.75 219.5 414.65 220 415.68 220.5 416.53 221 417.19 221.5 417.77 222 418.36 222.5 418.93 223 419.42 223.5 419.86 224 420.26 224.5 420.61 225 420.93 225.5 421.21 226 421.46 226.5 421.69 227 421.89 227.5 422.06 228 422.22 228.5 422.36 229 422.48 229.5 422.59 230 422.68 230.5 422.76 231 422.83 231.5 422.9 232 422.95 232.5 423 233 423.04 233.5 423.08 234 423.11 234.5 423.14 235 423.16 235.5 423.18 236 423.2 236.5 423.21 237 423.23 237.5 423.24 238 423.25 238.5 423.25 239 423.26 239.5 423.27 240 423.27 L240 423.3Z" stroke="none" fill="#f4c6c6" stroke-width="1"/>
<path d="M161.5 422.96 162 422.94 162.5 422.93 163 422.91 163.5 422.89 164 422.88 164.5 422.86 165 422.84 165.5 422.83 166 422.81 166.5 422.79 167 422.77 167.5 422.75 168 422.73 168.5 422.71 169 422.69 169.5 422.67 170 422.65 170.5 422.63 171 422.61 171.5 422.59 172 422.56 172.5 422.54 173 422.52 173.5 422.49 174 422.47 174.5 422.45 175 422.42 175.5 422.4 176 422.37 176.5 422.35 177 422.32 177.5 422.3 178 422.27 178.5 422.25 179 422.22 179.5 422.2 180 422.17 180.5 422.15 181 422.12 181.5 422.1 182 422.07 182.5 422.05 183 422.02 183.5 422 184 421.97 184.5 421.95 185 421.92 185.5 421.71 186 421.36 186.5 420.95 187 420.46 187.5 419.87 188 419.19 188.5 418.39 189 417.38 189.5 416.3 190 415.04 190.5 413.48 191 412.19 191.5 410.25 192 408.28 192.5 405.69 193 402.77 193.5 400.08 194 396.68 194.5 393.99 195 389.4 195.5 385.74 196 380.01 196.5 375.75 197 370.78 197.5 366.37 198 360.73 198.5 355.5 199 351.24 199.5 346.51 200 341.6 200.5 338.04 201 334.7 201.5 332.04 202 332.07 202.5 331.5 203 335.72 203.5 335.25 204 339.2 204.5 341.83 205 345.53 205.5 347.49 206 350.82 206.5 353.77 207 357.73 207.5 360.64 208 362.81 208.5 367.2 209 371.15 209.5 373.47 210 377.27 210.5 379.96 211 382.93 211.5 386.25 212 389.59 212.5 391.52 213 393.66 213.5 396.32 214 398.26 214.5 400.2 215 402.55 215.5 403.95 216 405.58 216.5 407.29 217 408.76 217.5 410.14 218 411.24 218.5 412.68 219 413.75 219.5 414.65 220 415.68 220.5 416.53 221 417.19 221.5 417.77 222 418.36 222.5 418.93 223 419.42 223.5 419.86 224 420.26 224.5 420.61 225 420.93 225.5 421.21 226 421.46 226.5 421.69 227 421.89 227.5 422.06 228 422.22 228.5 422.36 229 422.48 229.5 422.59 230 422.68 230.5 422.76 231 422.83 231.5 422.9 232 422.95" stroke="#d83a3a" fill="none" stroke-width="0.8"/>
<path d="M161.5 422.96 162 422.94 162.5 422.93 163 422.91 163.5 422.9 164 422.88 164.5 422.87 165 422.85 165.5 422.83 166 422.81 166.5 422.8 167 422.78 167.5 422.76 168 422.74 168.5 422.72 169 422.7 169.5 422.68 170 422.66 170.5 422.64 171 422.61 171.5 422.59 172 422.57 172.5 422.55 173 422.52 173.5 422.5 174 422.48 174.5 422.45 175 422.43 175.5 422.41 176 422.38 176.5 422.36 177 422.33 177.5 422.31 178 422.28 178.5 422.26 179 422.23 179.5 422.21 180 422.18 180.5 422.16 181 422.13 181.5 422.11 182 422.08 182.5 422.06 183 422.03 183.5 422.01 184 421.98 184.5 421.96 185 421.94 185.5 421.72 186 421.38 186.5 420.97 187 420.48 187.5 419.91 188 419.23 188.5 418.33 189 417.72 189.5 416.35 190 415.18 190.5 413.61 191 412.08 191.5 410 192 408.18 192.5 405.95 193 403.07 193.5 400.19 194 397.21 194.5 393.68 195 389.5 195.5 385.38 196 381.58 196.5 376.91 197 372.99 197.5 365.75 198 361.96 198.5 355.62 199 351.29 199.5 345.02 200 340.79 200.5 337.93 201 333.36 201.5 333.65 202 332 202.5 334.83 203 334.51 203.5 335.86 204 339.17 204.5 342.45 205 345.77 205.5 348.41 206 350.4 206.5 353.87 207 358.16 207.5 362.25 208 364.21 208.5 368.98 209 371.63 209.5 374.95 210 377.24 210.5 380.57 211 383.4 211.5 386.31 212 389.41 212.5 391.5 213 393.65 213.5 396.47 214 398.45 214.5 400.72 215 402.36 215.5 404.26 216 405.91 216.5 407.59 217 408.82 217.5 410.49 218 411.71 218.5 412.88 219 413.78 219.5 414.86 220 415.73 220.5 416.41 221 417.1 221.5 417.81 222 418.6 222.5 418.98 223 419.46 223.5 419.9 224 420.29 224.5 420.64 225 420.95 225.5 421.23 226 421.48 226.5 421.7 227 421.9 227.5 422.08 228 422.23 228.5 422.37 229 422.49 229.5 422.59 230 422.69 230.5 422.77 231 422.84 231.5 422.9 232 422.96" stroke="#333" fill="none" stroke-width="0.8"/>
<line x1="152.5" y1="412" x2="152.5" y2="423" stroke="#333" stroke-width="0.8"/>
<text x="247.3" y="336.2" font-size="10" text-anchor="end" stroke="#231f20" stroke-width="0.14">iso</text>
<text x="247.3" y="348.4" font-size="10" text-anchor="end" fill="#ee3350" stroke="#ee3350" stroke-width="0.14">KO</text>
<line x1="266.1" y1="331.7" x2="269.1" y2="331.7" stroke="#333" stroke-width="0.8"/>
<text x="265.1" y="333" font-size="3.8" text-anchor="end" fill="#444">100</text>
<line x1="267.6" y1="336.29" x2="269.1" y2="336.29" stroke="#555" stroke-width="0.5"/>
<line x1="267.6" y1="340.88" x2="269.1" y2="340.88" stroke="#555" stroke-width="0.5"/>
<line x1="267.6" y1="345.47" x2="269.1" y2="345.47" stroke="#555" stroke-width="0.5"/>
<line x1="266.1" y1="350.06" x2="269.1" y2="350.06" stroke="#333" stroke-width="0.8"/>
<text x="265.1" y="351.36" font-size="3.8" text-anchor="end" fill="#444">80</text>
<line x1="267.6" y1="354.65" x2="269.1" y2="354.65" stroke="#555" stroke-width="0.5"/>
<line x1="267.6" y1="359.24" x2="269.1" y2="359.24" stroke="#555" stroke-width="0.5"/>
<line x1="267.6" y1="363.83" x2="269.1" y2="363.83" stroke="#555" stroke-width="0.5"/>
<line x1="266.1" y1="368.42" x2="269.1" y2="368.42" stroke="#333" stroke-width="0.8"/>
<text x="265.1" y="369.72" font-size="3.8" text-anchor="end" fill="#444">60</text>
<line x1="267.6" y1="373.01" x2="269.1" y2="373.01" stroke="#555" stroke-width="0.5"/>
<line x1="267.6" y1="377.6" x2="269.1" y2="377.6" stroke="#555" stroke-width="0.5"/>
<line x1="267.6" y1="382.19" x2="269.1" y2="382.19" stroke="#555" stroke-width="0.5"/>
<line x1="266.1" y1="386.78" x2="269.1" y2="386.78" stroke="#333" stroke-width="0.8"/>
<text x="265.1" y="388.08" font-size="3.8" text-anchor="end" fill="#444">40</text>
<line x1="267.6" y1="391.37" x2="269.1" y2="391.37" stroke="#555" stroke-width="0.5"/>
<line x1="267.6" y1="395.96" x2="269.1" y2="395.96" stroke="#555" stroke-width="0.5"/>
<line x1="267.6" y1="400.55" x2="269.1" y2="400.55" stroke="#555" stroke-width="0.5"/>
<line x1="266.1" y1="405.14" x2="269.1" y2="405.14" stroke="#333" stroke-width="0.8"/>
<text x="265.1" y="406.44" font-size="3.8" text-anchor="end" fill="#444">20</text>
<line x1="267.6" y1="409.73" x2="269.1" y2="409.73" stroke="#555" stroke-width="0.5"/>
<line x1="267.6" y1="414.32" x2="269.1" y2="414.32" stroke="#555" stroke-width="0.5"/>
<line x1="267.6" y1="418.91" x2="269.1" y2="418.91" stroke="#555" stroke-width="0.5"/>
<line x1="266.1" y1="423.5" x2="269.1" y2="423.5" stroke="#333" stroke-width="0.8"/>
<text x="265.1" y="424.8" font-size="3.8" text-anchor="end" fill="#444">0</text>
<line x1="286" y1="424.5" x2="286" y2="427" stroke="#333" stroke-width="0.8"/>
<text x="286" y="432.5" font-size="3.8" text-anchor="middle" fill="#444">0</text>
<line x1="308" y1="424.5" x2="308" y2="427" stroke="#333" stroke-width="0.8"/>
<text x="308" y="432.5" font-size="3.8" text-anchor="middle" fill="#444">10<tspan font-size="2.6" dy="-1.6">3</tspan></text>
<line x1="327" y1="424.5" x2="327" y2="427" stroke="#333" stroke-width="0.8"/>
<text x="327" y="432.5" font-size="3.8" text-anchor="middle" fill="#444">10<tspan font-size="2.6" dy="-1.6">4</tspan></text>
<line x1="345.5" y1="424.5" x2="345.5" y2="427" stroke="#333" stroke-width="0.8"/>
<text x="345.5" y="432.5" font-size="3.8" text-anchor="middle" fill="#444">10<tspan font-size="2.6" dy="-1.6">5</tspan></text>
<line x1="362.7" y1="424.5" x2="362.7" y2="427" stroke="#333" stroke-width="0.8"/>
<text x="362.7" y="432.5" font-size="3.8" text-anchor="middle" fill="#444">10<tspan font-size="2.6" dy="-1.6">6</tspan></text>
<line x1="288.44" y1="424.5" x2="288.44" y2="425.9" stroke="#555" stroke-width="0.45"/>
<line x1="290.89" y1="424.5" x2="290.89" y2="425.9" stroke="#555" stroke-width="0.45"/>
<line x1="293.33" y1="424.5" x2="293.33" y2="425.9" stroke="#555" stroke-width="0.45"/>
<line x1="295.78" y1="424.5" x2="295.78" y2="425.9" stroke="#555" stroke-width="0.45"/>
<line x1="298.22" y1="424.5" x2="298.22" y2="425.9" stroke="#555" stroke-width="0.45"/>
<line x1="300.67" y1="424.5" x2="300.67" y2="425.9" stroke="#555" stroke-width="0.45"/>
<line x1="303.11" y1="424.5" x2="303.11" y2="425.9" stroke="#555" stroke-width="0.45"/>
<line x1="305.56" y1="424.5" x2="305.56" y2="425.9" stroke="#555" stroke-width="0.45"/>
<line x1="313.72" y1="424.5" x2="313.72" y2="425.9" stroke="#555" stroke-width="0.45"/>
<line x1="317.07" y1="424.5" x2="317.07" y2="425.9" stroke="#555" stroke-width="0.45"/>
<line x1="319.44" y1="424.5" x2="319.44" y2="425.9" stroke="#555" stroke-width="0.45"/>
<line x1="321.28" y1="424.5" x2="321.28" y2="425.9" stroke="#555" stroke-width="0.45"/>
<line x1="322.78" y1="424.5" x2="322.78" y2="425.9" stroke="#555" stroke-width="0.45"/>
<line x1="324.06" y1="424.5" x2="324.06" y2="425.9" stroke="#555" stroke-width="0.45"/>
<line x1="325.16" y1="424.5" x2="325.16" y2="425.9" stroke="#555" stroke-width="0.45"/>
<line x1="326.13" y1="424.5" x2="326.13" y2="425.9" stroke="#555" stroke-width="0.45"/>
<line x1="332.57" y1="424.5" x2="332.57" y2="425.9" stroke="#555" stroke-width="0.45"/>
<line x1="335.83" y1="424.5" x2="335.83" y2="425.9" stroke="#555" stroke-width="0.45"/>
<line x1="338.14" y1="424.5" x2="338.14" y2="425.9" stroke="#555" stroke-width="0.45"/>
<line x1="339.93" y1="424.5" x2="339.93" y2="425.9" stroke="#555" stroke-width="0.45"/>
<line x1="341.4" y1="424.5" x2="341.4" y2="425.9" stroke="#555" stroke-width="0.45"/>
<line x1="342.63" y1="424.5" x2="342.63" y2="425.9" stroke="#555" stroke-width="0.45"/>
<line x1="343.71" y1="424.5" x2="343.71" y2="425.9" stroke="#555" stroke-width="0.45"/>
<line x1="344.65" y1="424.5" x2="344.65" y2="425.9" stroke="#555" stroke-width="0.45"/>
<line x1="350.68" y1="424.5" x2="350.68" y2="425.9" stroke="#555" stroke-width="0.45"/>
<line x1="353.71" y1="424.5" x2="353.71" y2="425.9" stroke="#555" stroke-width="0.45"/>
<line x1="355.86" y1="424.5" x2="355.86" y2="425.9" stroke="#555" stroke-width="0.45"/>
<line x1="357.52" y1="424.5" x2="357.52" y2="425.9" stroke="#555" stroke-width="0.45"/>
<line x1="358.88" y1="424.5" x2="358.88" y2="425.9" stroke="#555" stroke-width="0.45"/>
<line x1="360.04" y1="424.5" x2="360.04" y2="425.9" stroke="#555" stroke-width="0.45"/>
<line x1="361.03" y1="424.5" x2="361.03" y2="425.9" stroke="#555" stroke-width="0.45"/>
<line x1="361.91" y1="424.5" x2="361.91" y2="425.9" stroke="#555" stroke-width="0.45"/>
<path d="M269.1 326.4 H366.4 V424.5" stroke="#9a9a9a" fill="none" stroke-width="0.9"/>
<path d="M269.1 326.4 V424.5 H366.4" stroke="#4a4a4a" fill="none" stroke-width="0.9"/>
<path d="M300 424.2 L300 424.2 300.5 424.2 301 424.2 301.5 424.2 302 424.2 302.5 424.2 303 424.2 303.5 424.2 304 424.2 304.5 424.2 305 424.2 305.5 424.2 306 424.2 306.5 424.2 307 424.2 307.5 424.19 308 424.19 308.5 424.19 309 424.19 309.5 424.18 310 424.18 310.5 424.17 311 424.17 311.5 424.16 312 424.15 312.5 424.13 313 424.11 313.5 424.09 314 424.06 314.5 424.02 315 423.98 315.5 423.92 316 423.85 316.5 423.77 317 423.67 317.5 423.54 318 423.39 318.5 423.2 319 422.98 319.5 422.71 320 422.39 320.5 422.02 321 421.56 321.5 421.03 322 420.41 322.5 419.76 323 418.89 323.5 417.81 324 416.75 324.5 415.34 325 413.81 325.5 412.42 326 410.13 326.5 408.26 327 405.28 327.5 402.89 328 400.29 328.5 396.84 329 393.31 329.5 389.47 330 384.9 330.5 380.96 331 375.76 331.5 371.6 332 367.27 332.5 363.36 333 358.58 333.5 352.34 334 347.3 334.5 342.3 335 340.59 335.5 336.88 336 335.88 336.5 335.76 337 339.94 337.5 340.1 338 345.47 338.5 349.28 339 353.59 339.5 358.63 340 364.86 340.5 367.89 341 373.33 341.5 378.25 342 383.38 342.5 388.05 343 391.99 343.5 395.15 344 398.47 344.5 401.85 345 404.08 345.5 407.02 346 409.21 346.5 411.3 347 413.39 347.5 414.74 348 416.21 348.5 417.57 349 418.47 349.5 419.37 350 420.21 350.5 420.87 351 421.44 351.5 421.92 352 422.32 352.5 422.66 353 422.94 353.5 423.17 354 423.36 354.5 423.52 355 423.65 355.5 423.76 356 423.85 356.5 423.92 357 423.98 357.5 424.02 358 424.06 358.5 424.09 359 424.11 359.5 424.13 360 424.15 360.5 424.16 361 424.17 361.5 424.18 362 424.18 362.5 424.19 363 424.19 363.5 424.19 364 424.19 364.5 424.2 365 424.2 L365 424.2Z" stroke="none" fill="#d3e5c8" stroke-width="1"/>
<path d="M270 424.2 L270 424.04 270.5 424.04 271 424.03 271.5 424.02 272 424.01 272.5 424 273 423.99 273.5 423.98 274 423.97 274.5 423.96 275 423.95 275.5 423.94 276 423.92 276.5 423.91 277 423.9 277.5 423.89 278 423.87 278.5 423.86 279 423.84 279.5 423.83 280 423.81 280.5 423.8 281 423.78 281.5 423.77 282 423.75 282.5 423.73 283 423.71 283.5 423.69 284 423.68 284.5 423.66 285 423.64 285.5 423.62 286 423.6 286.5 423.58 287 423.56 287.5 423.53 288 423.51 288.5 423.49 289 423.47 289.5 423.44 290 423.42 290.5 423.4 291 423.37 291.5 423.35 292 423.33 292.5 423.3 293 423.28 293.5 423.25 294 423.23 294.5 423.2 295 423.18 295.5 423.15 296 423.13 296.5 423.1 297 423.08 297.5 423.05 298 423.03 298.5 423 299 422.89 299.5 422.65 300 422.37 300.5 422.04 301 421.66 301.5 421.23 302 420.72 302.5 420.14 303 419.44 303.5 418.79 304 417.99 304.5 417.16 305 415.85 305.5 414.44 306 413.21 306.5 411.61 307 409.81 307.5 408.28 308 405.46 308.5 403.99 309 401.2 309.5 397.78 310 395.76 310.5 392.56 311 389.49 311.5 385.59 312 383.09 312.5 378.46 313 373.01 313.5 369.69 314 365.7 314.5 360.9 315 356.5 315.5 352.4 316 347.83 316.5 345.98 317 340.12 317.5 338.15 318 333.88 318.5 332.78 319 333.17 319.5 333.24 320 336.12 320.5 336.41 321 340.34 321.5 342.65 322 347.92 322.5 349.05 323 354.45 323.5 356.9 324 361.17 324.5 366.39 325 369.17 325.5 373.42 326 376.46 326.5 379.42 327 383.2 327.5 386.27 328 390.29 328.5 392.63 329 395.32 329.5 397.68 330 400.6 330.5 402.52 331 404.64 331.5 406.99 332 408.64 332.5 410 333 411.74 333.5 413.09 334 414.05 334.5 415.25 335 416.32 335.5 417.21 336 418.07 336.5 418.81 337 419.46 337.5 420.03 338 420.55 338.5 421.02 339 421.43 339.5 421.79 340 422.11 340.5 422.39 341 422.64 341.5 422.85 342 423.04 342.5 423.21 343 423.35 343.5 423.47 344 423.58 344.5 423.67 345 423.75 345.5 423.82 346 423.88 346.5 423.93 347 423.97 347.5 424.01 348 424.04 348.5 424.06 349 424.08 349.5 424.1 350 424.12 350.5 424.13 351 424.14 351.5 424.15 352 424.16 352.5 424.17 353 424.17 353.5 424.18 354 424.18 354.5 424.19 355 424.19 355.5 424.19 356 424.19 356.5 424.19 357 424.19 357.5 424.2 358 424.2 358.5 424.2 359 424.2 359.5 424.2 360 424.2 L360 424.2Z" stroke="none" fill="#f4c6c6" stroke-width="1" fill-opacity="0.85"/>
<clipPath id="e3"><path d="M270 424.2 L270 424.04 270.5 424.04 271 424.03 271.5 424.02 272 424.01 272.5 424 273 423.99 273.5 423.98 274 423.97 274.5 423.96 275 423.95 275.5 423.94 276 423.92 276.5 423.91 277 423.9 277.5 423.89 278 423.87 278.5 423.86 279 423.84 279.5 423.83 280 423.81 280.5 423.8 281 423.78 281.5 423.77 282 423.75 282.5 423.73 283 423.71 283.5 423.69 284 423.68 284.5 423.66 285 423.64 285.5 423.62 286 423.6 286.5 423.58 287 423.56 287.5 423.53 288 423.51 288.5 423.49 289 423.47 289.5 423.44 290 423.42 290.5 423.4 291 423.37 291.5 423.35 292 423.33 292.5 423.3 293 423.28 293.5 423.25 294 423.23 294.5 423.2 295 423.18 295.5 423.15 296 423.13 296.5 423.1 297 423.08 297.5 423.05 298 423.03 298.5 423 299 422.89 299.5 422.65 300 422.37 300.5 422.04 301 421.66 301.5 421.23 302 420.72 302.5 420.14 303 419.44 303.5 418.79 304 417.99 304.5 417.16 305 415.85 305.5 414.44 306 413.21 306.5 411.61 307 409.81 307.5 408.28 308 405.46 308.5 403.99 309 401.2 309.5 397.78 310 395.76 310.5 392.56 311 389.49 311.5 385.59 312 383.09 312.5 378.46 313 373.01 313.5 369.69 314 365.7 314.5 360.9 315 356.5 315.5 352.4 316 347.83 316.5 345.98 317 340.12 317.5 338.15 318 333.88 318.5 332.78 319 333.17 319.5 333.24 320 336.12 320.5 336.41 321 340.34 321.5 342.65 322 347.92 322.5 349.05 323 354.45 323.5 356.9 324 361.17 324.5 366.39 325 369.17 325.5 373.42 326 376.46 326.5 379.42 327 383.2 327.5 386.27 328 390.29 328.5 392.63 329 395.32 329.5 397.68 330 400.6 330.5 402.52 331 404.64 331.5 406.99 332 408.64 332.5 410 333 411.74 333.5 413.09 334 414.05 334.5 415.25 335 416.32 335.5 417.21 336 418.07 336.5 418.81 337 419.46 337.5 420.03 338 420.55 338.5 421.02 339 421.43 339.5 421.79 340 422.11 340.5 422.39 341 422.64 341.5 422.85 342 423.04 342.5 423.21 343 423.35 343.5 423.47 344 423.58 344.5 423.67 345 423.75 345.5 423.82 346 423.88 346.5 423.93 347 423.97 347.5 424.01 348 424.04 348.5 424.06 349 424.08 349.5 424.1 350 424.12 350.5 424.13 351 424.14 351.5 424.15 352 424.16 352.5 424.17 353 424.17 353.5 424.18 354 424.18 354.5 424.19 355 424.19 355.5 424.19 356 424.19 356.5 424.19 357 424.19 357.5 424.2 358 424.2 358.5 424.2 359 424.2 359.5 424.2 360 424.2 L360 424.2Z"/></clipPath>
<path d="M300 424.2 L300 424.2 300.5 424.2 301 424.2 301.5 424.2 302 424.2 302.5 424.2 303 424.2 303.5 424.2 304 424.2 304.5 424.2 305 424.2 305.5 424.2 306 424.2 306.5 424.2 307 424.2 307.5 424.19 308 424.19 308.5 424.19 309 424.19 309.5 424.18 310 424.18 310.5 424.17 311 424.17 311.5 424.16 312 424.15 312.5 424.13 313 424.11 313.5 424.09 314 424.06 314.5 424.02 315 423.98 315.5 423.92 316 423.85 316.5 423.77 317 423.67 317.5 423.54 318 423.39 318.5 423.2 319 422.98 319.5 422.71 320 422.39 320.5 422.02 321 421.56 321.5 421.03 322 420.41 322.5 419.76 323 418.89 323.5 417.81 324 416.75 324.5 415.34 325 413.81 325.5 412.42 326 410.13 326.5 408.26 327 405.28 327.5 402.89 328 400.29 328.5 396.84 329 393.31 329.5 389.47 330 384.9 330.5 380.96 331 375.76 331.5 371.6 332 367.27 332.5 363.36 333 358.58 333.5 352.34 334 347.3 334.5 342.3 335 340.59 335.5 336.88 336 335.88 336.5 335.76 337 339.94 337.5 340.1 338 345.47 338.5 349.28 339 353.59 339.5 358.63 340 364.86 340.5 367.89 341 373.33 341.5 378.25 342 383.38 342.5 388.05 343 391.99 343.5 395.15 344 398.47 344.5 401.85 345 404.08 345.5 407.02 346 409.21 346.5 411.3 347 413.39 347.5 414.74 348 416.21 348.5 417.57 349 418.47 349.5 419.37 350 420.21 350.5 420.87 351 421.44 351.5 421.92 352 422.32 352.5 422.66 353 422.94 353.5 423.17 354 423.36 354.5 423.52 355 423.65 355.5 423.76 356 423.85 356.5 423.92 357 423.98 357.5 424.02 358 424.06 358.5 424.09 359 424.11 359.5 424.13 360 424.15 360.5 424.16 361 424.17 361.5 424.18 362 424.18 362.5 424.19 363 424.19 363.5 424.19 364 424.19 364.5 424.2 365 424.2 L365 424.2Z" stroke="none" fill="#a88a6c" stroke-width="1" fill-opacity="0.85" clip-path="url(#e3)"/>
<path d="M278.5 423.86 279 423.84 279.5 423.83 280 423.81 280.5 423.8 281 423.78 281.5 423.77 282 423.75 282.5 423.73 283 423.71 283.5 423.69 284 423.68 284.5 423.66 285 423.64 285.5 423.62 286 423.6 286.5 423.58 287 423.56 287.5 423.53 288 423.51 288.5 423.49 289 423.47 289.5 423.44 290 423.42 290.5 423.4 291 423.37 291.5 423.35 292 423.33 292.5 423.3 293 423.28 293.5 423.25 294 423.23 294.5 423.2 295 423.18 295.5 423.15 296 423.13 296.5 423.1 297 423.08 297.5 423.05 298 423.03 298.5 423 299 422.89 299.5 422.65 300 422.37 300.5 422.04 301 421.66 301.5 421.23 302 420.72 302.5 420.14 303 419.44 303.5 418.79 304 417.99 304.5 417.16 305 415.85 305.5 414.44 306 413.21 306.5 411.61 307 409.81 307.5 408.28 308 405.46 308.5 403.99 309 401.2 309.5 397.78 310 395.76 310.5 392.56 311 389.49 311.5 385.59 312 383.09 312.5 378.46 313 373.01 313.5 369.69 314 365.7 314.5 360.9 315 356.5 315.5 352.4 316 347.83 316.5 345.98 317 340.12 317.5 338.15 318 333.88 318.5 332.78 319 333.17 319.5 333.24 320 336.12 320.5 336.41 321 340.34 321.5 342.65 322 347.92 322.5 349.05 323 354.45 323.5 356.9 324 361.17 324.5 366.39 325 369.17 325.5 373.42 326 376.46 326.5 379.42 327 383.2 327.5 386.27 328 390.29 328.5 392.63 329 395.32 329.5 397.68 330 400.6 330.5 402.52 331 404.64 331.5 406.99 332 408.64 332.5 410 333 411.74 333.5 413.09 334 414.05 334.5 415.25 335 416.32 335.5 417.21 336 418.07 336.5 418.81 337 419.46 337.5 420.03 338 420.55 338.5 421.02 339 421.43 339.5 421.79 340 422.11 340.5 422.39 341 422.64 341.5 422.85 342 423.04 342.5 423.21 343 423.35 343.5 423.47 344 423.58 344.5 423.67 345 423.75 345.5 423.82 346 423.88" stroke="#d83a3a" fill="none" stroke-width="0.8"/>
<path d="M316 423.85 316.5 423.77 317 423.67 317.5 423.54 318 423.39 318.5 423.2 319 422.98 319.5 422.71 320 422.39 320.5 422.02 321 421.56 321.5 421.03 322 420.41 322.5 419.76 323 418.89 323.5 417.81 324 416.75 324.5 415.34 325 413.81 325.5 412.42 326 410.13 326.5 408.26 327 405.28 327.5 402.89 328 400.29 328.5 396.84 329 393.31 329.5 389.47 330 384.9 330.5 380.96 331 375.76 331.5 371.6 332 367.27 332.5 363.36 333 358.58 333.5 352.34 334 347.3 334.5 342.3 335 340.59 335.5 336.88 336 335.88 336.5 335.76 337 339.94 337.5 340.1 338 345.47 338.5 349.28 339 353.59 339.5 358.63 340 364.86 340.5 367.89 341 373.33 341.5 378.25 342 383.38 342.5 388.05 343 391.99 343.5 395.15 344 398.47 344.5 401.85 345 404.08 345.5 407.02 346 409.21 346.5 411.3 347 413.39 347.5 414.74 348 416.21 348.5 417.57 349 418.47 349.5 419.37 350 420.21 350.5 420.87 351 421.44 351.5 421.92 352 422.32 352.5 422.66 353 422.94 353.5 423.17 354 423.36 354.5 423.52 355 423.65 355.5 423.76 356 423.85 356.5 423.92" stroke="#4f9d3f" fill="none" stroke-width="0.8"/>
<line x1="270" y1="414" x2="270" y2="424" stroke="#d83a3a" stroke-width="0.8"/>
<text x="362.5" y="337.5" font-size="10" text-anchor="end" fill="#1aa64f" stroke="#1aa64f" stroke-width="0.14">WT</text>
<text x="362.5" y="348.9" font-size="10" text-anchor="end" fill="#ee3350" stroke="#ee3350" stroke-width="0.14">KO</text>
<line x1="37.3" y1="437.3" x2="352" y2="437.3" stroke="#231f20" stroke-width="0.9"/>
<path d="M350.5 434.8 L356.3 437.3 L350.5 439.8 Z" stroke="none" fill="#231f20" stroke-width="1"/>
<text x="37.2" y="448.3" font-size="10.6" stroke="#231f20" stroke-width="0.14" letter-spacing="0.35">CD112</text>
<text x="397" y="333.5" font-size="19" font-weight="bold" stroke="#231f20" stroke-width="0.14">F.</text>
<line x1="446.6" y1="318.3" x2="446.6" y2="427" stroke="#231f20" stroke-width="1"/>
<line x1="446.6" y1="427" x2="511.1" y2="427" stroke="#231f20" stroke-width="1"/>
<line x1="444.1" y1="319" x2="446.6" y2="319" stroke="#231f20" stroke-width="1"/>
<text x="443.4" y="322.1" font-size="8.6" text-anchor="end" fill="#333" stroke="#333" stroke-width="0.14">6×10<tspan font-size="5.4" dy="-3.4">4</tspan></text>
<line x1="444.1" y1="345.9" x2="446.6" y2="345.9" stroke="#231f20" stroke-width="1"/>
<text x="443.4" y="349" font-size="8.6" text-anchor="end" fill="#333" stroke="#333" stroke-width="0.14">4×10<tspan font-size="5.4" dy="-3.4">4</tspan></text>
<line x1="444.1" y1="372.6" x2="446.6" y2="372.6" stroke="#231f20" stroke-width="1"/>
<text x="443.4" y="375.7" font-size="8.6" text-anchor="end" fill="#333" stroke="#333" stroke-width="0.14">2×10<tspan font-size="5.4" dy="-3.4">4</tspan></text>
<line x1="444.1" y1="399.3" x2="446.6" y2="399.3" stroke="#231f20" stroke-width="1"/>
<text x="442.6" y="402.4" font-size="8.6" text-anchor="end" fill="#333" stroke="#333" stroke-width="0.14">0</text>
<line x1="444.1" y1="427" x2="446.6" y2="427" stroke="#231f20" stroke-width="1"/>
<text x="443.4" y="430.1" font-size="8.6" text-anchor="end" fill="#333" stroke="#333" stroke-width="0.14">-2×10<tspan font-size="5.4" dy="-3.4">4</tspan></text>
<text x="417.6" y="377.3" font-size="10.4" text-anchor="middle" stroke="#231f20" stroke-width="0.14" letter-spacing="0.45" transform="rotate(-90 417.6 377.3)">ΔMFI CD112</text>
<line x1="465.7" y1="321.8" x2="495.7" y2="321.8" stroke="#888" stroke-width="1"/>
<text x="479.9" y="322.6" font-size="9" text-anchor="middle" fill="#666" stroke="#666" stroke-width="0.14">*</text>
<line x1="465.5" y1="378.5" x2="493.8" y2="353.7" stroke="#231f20" stroke-width="0.9"/>
<line x1="465.5" y1="396.5" x2="493.8" y2="329.5" stroke="#231f20" stroke-width="0.9"/>
<line x1="465.5" y1="401" x2="493.8" y2="332.5" stroke="#231f20" stroke-width="0.9"/>
<line x1="465.5" y1="401.7" x2="493.8" y2="393.9" stroke="#231f20" stroke-width="0.9"/>
<circle cx="465.5" cy="378.5" r="1.7" fill="#e8282e"/>
<circle cx="465.5" cy="397" r="1.7" fill="#e8282e"/>
<circle cx="465.5" cy="398.6" r="1.7" fill="#e8282e"/>
<circle cx="465.5" cy="400.3" r="1.7" fill="#e8282e"/>
<circle cx="465.5" cy="401.7" r="1.7" fill="#e8282e"/>
<circle cx="493.8" cy="328.9" r="1.7" fill="#1c9c50"/>
<circle cx="493.8" cy="330.1" r="1.7" fill="#1c9c50"/>
<circle cx="493.8" cy="331.7" r="1.7" fill="#1c9c50"/>
<circle cx="493.8" cy="353.7" r="1.7" fill="#1c9c50"/>
<circle cx="493.8" cy="393.9" r="1.7" fill="#1c9c50"/>
<line x1="460.3" y1="392.3" x2="470.4" y2="392.3" stroke="#ee4036" stroke-width="1.8"/>
<line x1="489.3" y1="350.2" x2="499.7" y2="350.2" stroke="#1aa64f" stroke-width="1.8"/>
<text x="467.8" y="441.2" font-size="10.3" text-anchor="middle" stroke="#231f20" stroke-width="0.14">KO</text>
<text x="494.5" y="441.2" font-size="10.3" text-anchor="middle" stroke="#231f20" stroke-width="0.14">WT</text>
<text x="4" y="481.3" font-size="19" font-weight="bold" stroke="#231f20" stroke-width="0.14">G.</text>
<text x="0" y="0" font-size="9.9" text-anchor="middle" font-weight="bold" stroke="#231f20" stroke-width="0.14" transform="translate(136.4 480.6) scale(1 1.15)">WT or CD112KO</text>
<text x="0" y="0" font-size="9.9" text-anchor="middle" font-weight="bold" stroke="#231f20" stroke-width="0.14" transform="translate(137.7 493.4) scale(1 1.15)">BM-DCs</text>
<path d="M91.5 491.8 Q110 493 116.8 503.5" stroke="#231f20" fill="none" stroke-width="0.8"/>
<path d="M114.6 502.8 L117.8 507 L118.6 501.9 Z" stroke="none" fill="#231f20" stroke-width="1"/>
<path d="M97.3 538.5 L158.2 538.5 L158.2 556 Q158.2 562.8 151.5 562.8 L104 562.8 Q97.3 562.8 97.3 556 Z" stroke="none" fill="#f6d5e2" stroke-width="1"/>
<rect x="101" y="512.7" width="54" height="21" stroke="none" fill="#f6d5e2" stroke-width="1"/>
<rect x="100.6" y="533.5" width="54.6" height="5.2" stroke="none" fill="#f6cf92" stroke-width="1"/>
<circle cx="104.5" cy="536" r="0.8" fill="#e59a72"/>
<circle cx="110.3" cy="536" r="0.8" fill="#e59a72"/>
<circle cx="116.1" cy="536" r="0.8" fill="#e59a72"/>
<circle cx="121.9" cy="536" r="0.8" fill="#e59a72"/>
<circle cx="127.7" cy="536" r="0.8" fill="#e59a72"/>
<circle cx="133.5" cy="536" r="0.8" fill="#e59a72"/>
<circle cx="139.3" cy="536" r="0.8" fill="#e59a72"/>
<circle cx="145.1" cy="536" r="0.8" fill="#e59a72"/>
<circle cx="150.9" cy="536" r="0.8" fill="#e59a72"/>
<line x1="100.6" y1="538.9" x2="155.2" y2="538.9" stroke="#231f20" stroke-width="1.1" stroke-dasharray="2 1.3"/>
<path d="M95.6 503.6 L95.6 557.5 Q95.6 565.3 103.4 565.3 L152.3 565.3 Q160.1 565.3 160.1 557.5 L160.1 503.6" stroke="#231f20" fill="none" stroke-width="1.4"/>
<path d="M100.3 504.2 L100.3 539.1 M155.5 539.1 L155.5 504.2" stroke="#231f20" fill="none" stroke-width="1.4"/>
<line x1="94.5" y1="503.6" x2="101" y2="503.6" stroke="#231f20" stroke-width="1.4"/>
<line x1="154.8" y1="503.6" x2="161.4" y2="503.6" stroke="#231f20" stroke-width="1.4"/>
<line x1="127.6" y1="531.5" x2="127.6" y2="551" stroke="#231f20" stroke-width="1.1"/>
<path d="M125.6 550 L127.6 555 L129.6 550 Z" stroke="none" fill="#231f20" stroke-width="1"/>
<text x="144.8" y="555.4" font-size="7" text-anchor="middle" font-style="italic" fill="#333" stroke="#333" stroke-width="0.14">CCL21</text>
<path d="M113.80 520.90 L114.63 521.38 L114.73 521.90 L114.09 522.27 L113.27 522.48 L112.66 522.68 L112.21 522.91 L111.70 523.05 L111.16 523.12 L110.76 523.33 L110.46 523.88 L110.00 524.56 L109.30 524.87 L108.60 524.56 L108.14 523.88 L107.84 523.33 L107.44 523.12 L106.90 523.05 L106.39 522.91 L105.94 522.68 L105.33 522.48 L104.51 522.27 L103.87 521.90 L103.97 521.38 L104.80 520.90 L105.72 520.57 L106.04 520.30 L105.79 519.90 L105.49 519.38 L105.53 518.91 L105.85 518.52 L106.22 518.13 L106.66 517.75 L107.32 517.61 L108.13 517.89 L108.82 518.41 L109.30 518.67 L109.78 518.41 L110.47 517.89 L111.28 517.61 L111.94 517.75 L112.38 518.13 L112.75 518.52 L113.07 518.91 L113.11 519.38 L112.81 519.90 L112.56 520.30 L112.88 520.57Z" stroke="#12336e" fill="#2563b8" stroke-width="1.1" stroke-linejoin="round"/>
<circle cx="109.3" cy="520.9" r="1" fill="#3d8fdc"/>
<path d="M131.75 520.40 L131.27 520.86 L130.65 521.22 L130.20 521.54 L129.81 521.84 L129.29 522.03 L128.76 522.17 L128.51 522.47 L128.47 523.11 L128.27 523.85 L127.69 524.23 L126.89 524.00 L126.20 523.45 L125.69 523.05 L125.21 522.94 L124.69 522.92 L124.18 522.81 L123.67 522.67 L122.96 522.64 L122.02 522.61 L121.29 522.36 L121.27 521.81 L121.93 521.19 L122.63 520.72 L122.76 520.40 L122.36 520.05 L121.96 519.62 L121.90 519.17 L122.03 518.74 L122.16 518.26 L122.41 517.78 L123.03 517.55 L123.97 517.74 L124.83 518.12 L125.36 518.24 L125.71 517.85 L126.20 517.25 L126.87 516.90 L127.54 516.95 L128.13 517.19 L128.68 517.44 L129.14 517.76 L129.31 518.25 L129.15 518.84 L129.07 519.26 L129.57 519.44 L130.62 519.58 L131.55 519.91Z" stroke="#12336e" fill="#2563b8" stroke-width="1.1" stroke-linejoin="round"/>
<circle cx="126.2" cy="520.4" r="1" fill="#3d8fdc"/>
<path d="M150.44 521.50 L150.19 521.90 L149.87 522.25 L149.34 522.51 L148.87 522.72 L148.80 523.09 L149.06 523.75 L149.13 524.50 L148.66 524.91 L147.78 524.80 L146.94 524.43 L146.31 524.19 L145.80 524.18 L145.28 524.21 L144.78 524.13 L144.24 524.10 L143.49 524.25 L142.54 524.43 L141.76 524.29 L141.61 523.72 L142.04 523.00 L142.47 522.45 L142.39 522.13 L141.90 521.85 L141.45 521.50 L141.28 521.09 L141.19 520.65 L141.04 520.14 L141.08 519.62 L141.67 519.31 L142.70 519.36 L143.66 519.58 L144.16 519.54 L144.34 519.07 L144.61 518.44 L145.14 518.04 L145.80 517.98 L146.46 518.06 L147.10 518.14 L147.68 518.37 L147.99 518.89 L148.01 519.51 L148.12 519.90 L148.74 519.94 L149.82 519.90 L150.78 520.08 L151.08 520.52 L150.81 521.05Z" stroke="#12336e" fill="#2563b8" stroke-width="1.1" stroke-linejoin="round"/>
<circle cx="145.8" cy="521.5" r="1" fill="#3d8fdc"/>
<path d="M121.14 529.60 L120.63 529.94 L120.25 530.22 L120.40 530.60 L120.96 531.22 L121.28 531.92 L120.90 532.36 L120.01 532.39 L119.10 532.22 L118.44 532.16 L117.93 532.24 L117.41 532.29 L116.90 532.26 L116.37 532.36 L115.70 532.70 L114.82 533.06 L114.04 533.02 L113.72 532.45 L113.87 531.69 L114.02 531.12 L113.77 530.85 L113.22 530.65 L112.75 530.37 L112.47 530.00 L112.15 529.60 L111.72 529.13 L111.56 528.61 L112.10 528.23 L113.17 528.12 L114.15 528.14 L114.55 527.98 L114.53 527.47 L114.60 526.85 L115.00 526.43 L115.60 526.26 L116.24 526.15 L116.90 526.06 L117.55 526.21 L118.02 526.71 L118.26 527.34 L118.53 527.65 L119.20 527.54 L120.23 527.30 L121.15 527.35 L121.56 527.75 L121.53 528.28 L121.44 528.76 L121.38 529.19Z" stroke="#12336e" fill="#2563b8" stroke-width="1.1" stroke-linejoin="round"/>
<circle cx="116.9" cy="529.6" r="1" fill="#3d8fdc"/>
<path d="M138.90 528.00 L139.29 528.34 L140.10 528.85 L140.62 529.46 L140.35 529.93 L139.49 530.11 L138.62 530.15 L138.00 530.25 L137.52 530.41 L136.99 530.49 L136.48 530.51 L136.02 530.73 L135.50 531.25 L134.78 531.77 L134.02 531.81 L133.53 531.28 L133.39 530.53 L133.26 530.01 L132.88 529.81 L132.32 529.68 L131.85 529.46 L131.45 529.16 L130.91 528.85 L130.24 528.48 L129.91 528.00 L130.38 527.53 L131.42 527.25 L132.31 527.09 L132.56 526.83 L132.36 526.34 L132.26 525.76 L132.53 525.33 L133.02 525.04 L133.55 524.76 L134.15 524.52 L134.85 524.58 L135.50 525.05 L135.95 525.62 L136.35 525.82 L136.97 525.55 L137.88 525.16 L138.74 525.09 L139.24 525.42 L139.46 525.91 L139.63 526.36 L139.76 526.78 L139.59 527.24 L139.15 527.67Z" stroke="#12336e" fill="#2563b8" stroke-width="1.1" stroke-linejoin="round"/>
<circle cx="135.5" cy="528" r="1" fill="#3d8fdc"/>
<path d="M113.54 546.50 L114.19 547.00 L114.03 547.48 L113.29 547.81 L112.55 548.03 L112.03 548.26 L111.58 548.49 L111.04 548.60 L110.54 548.70 L110.22 549.03 L109.94 549.69 L109.43 550.31 L108.70 550.43 L108.04 549.96 L107.61 549.30 L107.27 548.88 L106.81 548.76 L106.26 548.69 L105.78 548.52 L105.28 548.31 L104.56 548.15 L103.72 547.92 L103.26 547.51 L103.62 546.96 L104.55 546.50 L105.28 546.19 L105.35 545.88 L104.98 545.44 L104.76 544.93 L104.90 544.49 L105.22 544.10 L105.57 543.68 L106.05 543.33 L106.78 543.31 L107.61 543.70 L108.25 544.16 L108.70 544.23 L109.21 543.81 L109.94 543.31 L110.71 543.15 L111.30 543.39 L111.73 543.77 L112.13 544.13 L112.41 544.53 L112.35 545.05 L112.02 545.55 L111.94 545.90 L112.54 546.15Z" stroke="#12336e" fill="#2563b8" stroke-width="1.1" stroke-linejoin="round"/>
<circle cx="108.7" cy="546.5" r="1" fill="#3d8fdc"/>
<path d="M123.43 553.60 L122.88 554.04 L122.34 554.40 L121.97 554.73 L121.55 555.01 L120.99 555.18 L120.55 555.36 L120.43 555.78 L120.43 556.50 L120.15 557.18 L119.46 557.37 L118.65 557.00 L118.00 556.49 L117.50 556.21 L117.00 556.18 L116.47 556.14 L115.98 556.01 L115.41 555.92 L114.60 555.95 L113.65 555.90 L113.10 555.55 L113.33 554.93 L114.06 554.33 L114.56 553.91 L114.44 553.60 L113.97 553.23 L113.66 552.80 L113.66 552.36 L113.76 551.91 L113.86 551.41 L114.19 550.97 L114.95 550.86 L115.94 551.14 L116.71 551.45 L117.14 551.38 L117.48 550.86 L118.00 550.29 L118.68 550.06 L119.33 550.19 L119.91 550.42 L120.47 550.65 L120.89 551.01 L120.95 551.56 L120.78 552.13 L120.89 552.45 L121.63 552.56 L122.74 552.72 L123.48 553.10Z" stroke="#12336e" fill="#2563b8" stroke-width="1.1" stroke-linejoin="round"/>
<circle cx="118" cy="553.6" r="1" fill="#3d8fdc"/>
<text x="0" y="0" font-size="9.9" text-anchor="middle" font-weight="bold" stroke="#231f20" stroke-width="0.14" transform="translate(131 581.8) scale(1 1.15)">WT or CD112 KO</text>
<text x="0" y="0" font-size="9.9" text-anchor="middle" font-weight="bold" stroke="#231f20" stroke-width="0.14" transform="translate(130.9 594.5) scale(1 1.15)">LECs</text>
<text x="267.5" y="480.9" font-size="19" font-weight="bold" stroke="#231f20" stroke-width="0.14">H.</text>
<line x1="325.8" y1="478.9" x2="325.8" y2="561.7" stroke="#444" stroke-width="1.2"/>
<line x1="323.4" y1="561.7" x2="325.8" y2="561.7" stroke="#444" stroke-width="1"/>
<text x="0" y="0" font-size="7.8" text-anchor="end" stroke="#231f20" stroke-width="0.14" transform="translate(323.4 564.6) scale(1 1.14)">0</text>
<line x1="323.4" y1="541" x2="325.8" y2="541" stroke="#444" stroke-width="1"/>
<text x="0" y="0" font-size="7.8" text-anchor="end" stroke="#231f20" stroke-width="0.14" transform="translate(323.4 543.9) scale(1 1.14)">2000</text>
<line x1="323.4" y1="520.3" x2="325.8" y2="520.3" stroke="#444" stroke-width="1"/>
<text x="0" y="0" font-size="7.8" text-anchor="end" stroke="#231f20" stroke-width="0.14" transform="translate(323.4 523.2) scale(1 1.14)">4000</text>
<line x1="323.4" y1="499.6" x2="325.8" y2="499.6" stroke="#444" stroke-width="1"/>
<text x="0" y="0" font-size="7.8" text-anchor="end" stroke="#231f20" stroke-width="0.14" transform="translate(323.4 502.5) scale(1 1.14)">6000</text>
<line x1="323.4" y1="478.9" x2="325.8" y2="478.9" stroke="#444" stroke-width="1"/>
<text x="0" y="0" font-size="7.8" text-anchor="end" stroke="#231f20" stroke-width="0.14" transform="translate(323.4 481.8) scale(1 1.14)">8000</text>
<rect x="337.3" y="501.3" width="20.5" height="60.4" stroke="#231f20" fill="#fff" stroke-width="1.1"/>
<circle cx="347.1" cy="495" r="1.7" fill="#f29a2e"/>
<circle cx="344" cy="504.9" r="1.7" fill="#f29a2e"/>
<circle cx="350.7" cy="503.7" r="1.7" fill="#f29a2e"/>
<line x1="347.55" y1="498.2" x2="347.55" y2="503.3" stroke="#f29a2e" stroke-width="1.1"/>
<line x1="344.55" y1="498.2" x2="350.55" y2="498.2" stroke="#f29a2e" stroke-width="1.1"/>
<line x1="344.55" y1="503.3" x2="350.55" y2="503.3" stroke="#f29a2e" stroke-width="1.1"/>
<rect x="368.4" y="560.6" width="20.1" height="1.1" stroke="#231f20" fill="#fff" stroke-width="1.1"/>
<circle cx="371.4" cy="560" r="1.7" fill="#f29a2e"/>
<circle cx="377.9" cy="560" r="1.7" fill="#f29a2e"/>
<circle cx="384.6" cy="560" r="1.7" fill="#f29a2e"/>
<line x1="325.8" y1="561.7" x2="398.8" y2="561.7" stroke="#231f20" stroke-width="0.9"/>
<line x1="348" y1="486.7" x2="377.6" y2="486.7" stroke="#777" stroke-width="0.9"/>
<text x="363.4" y="488" font-size="9" text-anchor="middle" fill="#555" stroke="#555" stroke-width="0.14">****</text>
<text x="296" y="523" font-size="10.4" text-anchor="middle" stroke="#231f20" stroke-width="0.14" letter-spacing="0.45" transform="rotate(-90 296 523)"># BM-DCs</text>
<text x="0" y="0" font-size="9.6" font-weight="bold" stroke="#231f20" stroke-width="0.14" transform="translate(285 575.1) scale(1 1.15)">DCs</text>
<text x="349.3" y="575.1" font-size="10" text-anchor="middle" stroke="#231f20" stroke-width="0.14">WT</text>
<text x="377.5" y="575.1" font-size="10" text-anchor="middle" stroke="#231f20" stroke-width="0.14">WT</text>
<text x="0" y="0" font-size="9.6" font-weight="bold" stroke="#231f20" stroke-width="0.14" transform="translate(285 588.6) scale(1 1.15)">LECs</text>
<text x="335.5" y="588.6" font-size="10" text-anchor="middle" stroke="#231f20" stroke-width="0.14">WT(IgG)</text>
<text x="389" y="588.6" font-size="10" text-anchor="middle" stroke="#231f20" stroke-width="0.14">WT(αICAM-1)</text>
<line x1="445" y1="479.6" x2="445" y2="562.3" stroke="#444" stroke-width="1.2"/>
<line x1="442.6" y1="562.3" x2="445" y2="562.3" stroke="#444" stroke-width="1"/>
<text x="0" y="0" font-size="7.8" text-anchor="end" stroke="#231f20" stroke-width="0.14" transform="translate(442.6 565.2) scale(1 1.14)">0</text>
<line x1="442.6" y1="541.62" x2="445" y2="541.62" stroke="#444" stroke-width="1"/>
<text x="0" y="0" font-size="7.8" text-anchor="end" stroke="#231f20" stroke-width="0.14" transform="translate(442.6 544.52) scale(1 1.14)">2000</text>
<line x1="442.6" y1="520.95" x2="445" y2="520.95" stroke="#444" stroke-width="1"/>
<text x="0" y="0" font-size="7.8" text-anchor="end" stroke="#231f20" stroke-width="0.14" transform="translate(442.6 523.85) scale(1 1.14)">4000</text>
<line x1="442.6" y1="500.27" x2="445" y2="500.27" stroke="#444" stroke-width="1"/>
<text x="0" y="0" font-size="7.8" text-anchor="end" stroke="#231f20" stroke-width="0.14" transform="translate(442.6 503.17) scale(1 1.14)">6000</text>
<line x1="442.6" y1="479.6" x2="445" y2="479.6" stroke="#444" stroke-width="1"/>
<text x="0" y="0" font-size="7.8" text-anchor="end" stroke="#231f20" stroke-width="0.14" transform="translate(442.6 482.5) scale(1 1.14)">8000</text>
<line x1="445" y1="562.3" x2="538.4" y2="562.3" stroke="#231f20" stroke-width="0.9"/>
<line x1="468.2" y1="501.7" x2="515" y2="559.5" stroke="#f29a2e" stroke-width="1"/>
<line x1="468.2" y1="498" x2="468.2" y2="505" stroke="#f29a2e" stroke-width="0.9"/>
<line x1="466.7" y1="498" x2="469.7" y2="498" stroke="#f29a2e" stroke-width="0.9"/>
<line x1="466.7" y1="505" x2="469.7" y2="505" stroke="#f29a2e" stroke-width="0.9"/>
<line x1="515" y1="557" x2="515" y2="561" stroke="#f29a2e" stroke-width="0.9"/>
<line x1="513.5" y1="557" x2="516.5" y2="557" stroke="#f29a2e" stroke-width="0.9"/>
<line x1="513.5" y1="561" x2="516.5" y2="561" stroke="#f29a2e" stroke-width="0.9"/>
<circle cx="468.2" cy="501.7" r="1.6" fill="#f29a2e"/>
<circle cx="515" cy="559.5" r="1.6" fill="#f29a2e"/>
<line x1="468.2" y1="524.1" x2="515" y2="556.8" stroke="#2b3a96" stroke-width="1"/>
<line x1="468.2" y1="513.7" x2="468.2" y2="534" stroke="#2b3a96" stroke-width="0.9"/>
<line x1="466.7" y1="513.7" x2="469.7" y2="513.7" stroke="#2b3a96" stroke-width="0.9"/>
<line x1="466.7" y1="534" x2="469.7" y2="534" stroke="#2b3a96" stroke-width="0.9"/>
<line x1="515" y1="554" x2="515" y2="559" stroke="#2b3a96" stroke-width="0.9"/>
<line x1="513.5" y1="554" x2="516.5" y2="554" stroke="#2b3a96" stroke-width="0.9"/>
<line x1="513.5" y1="559" x2="516.5" y2="559" stroke="#2b3a96" stroke-width="0.9"/>
<circle cx="468.2" cy="524.1" r="1.6" fill="#2b3a96"/>
<circle cx="515" cy="556.8" r="1.6" fill="#2b3a96"/>
<line x1="468.2" y1="539.1" x2="515" y2="556.8" stroke="#9a9a9a" stroke-width="1"/>
<line x1="468.2" y1="535" x2="468.2" y2="543" stroke="#9a9a9a" stroke-width="0.9"/>
<line x1="466.7" y1="535" x2="469.7" y2="535" stroke="#9a9a9a" stroke-width="0.9"/>
<line x1="466.7" y1="543" x2="469.7" y2="543" stroke="#9a9a9a" stroke-width="0.9"/>
<circle cx="468.2" cy="539.1" r="1.6" fill="#9a9a9a"/>
<circle cx="515" cy="556.8" r="1.6" fill="#9a9a9a"/>
<line x1="468.2" y1="547.8" x2="515" y2="557.6" stroke="#ee4036" stroke-width="1"/>
<line x1="468.2" y1="545" x2="468.2" y2="550.5" stroke="#ee4036" stroke-width="0.9"/>
<line x1="466.7" y1="545" x2="469.7" y2="545" stroke="#ee4036" stroke-width="0.9"/>
<line x1="466.7" y1="550.5" x2="469.7" y2="550.5" stroke="#ee4036" stroke-width="0.9"/>
<circle cx="468.2" cy="547.8" r="1.6" fill="#ee4036"/>
<circle cx="515" cy="557.6" r="1.6" fill="#ee4036"/>
<text x="416" y="520.55" font-size="10.4" text-anchor="middle" stroke="#231f20" stroke-width="0.14" letter-spacing="0.85" transform="rotate(-90 416 520.55)"># BM-DCs</text>
<text x="474" y="575.3" font-size="10" text-anchor="middle" stroke="#231f20" stroke-width="0.14">WT</text>
<text x="516" y="575.3" font-size="10" text-anchor="middle" stroke="#231f20" stroke-width="0.14">WT</text>
<text x="462.8" y="588.2" font-size="10" text-anchor="middle" stroke="#231f20" stroke-width="0.14">WT(IgG)</text>
<text x="518" y="588.2" font-size="10" text-anchor="middle" stroke="#231f20" stroke-width="0.14">WT(αICAM-1)</text>
<text x="4.2" y="624.3" font-size="20" font-weight="bold" stroke="#231f20" stroke-width="0.14">I.</text>
<line x1="64.9" y1="617.2" x2="64.9" y2="701.2" stroke="#444" stroke-width="1.2"/>
<line x1="62.5" y1="701.2" x2="64.9" y2="701.2" stroke="#444" stroke-width="1"/>
<text x="0" y="0" font-size="7.8" text-anchor="end" stroke="#231f20" stroke-width="0.14" transform="translate(62.5 704.1) scale(1 1.14)">0</text>
<line x1="62.5" y1="680.2" x2="64.9" y2="680.2" stroke="#444" stroke-width="1"/>
<text x="0" y="0" font-size="7.8" text-anchor="end" stroke="#231f20" stroke-width="0.14" transform="translate(62.5 683.1) scale(1 1.14)">2000</text>
<line x1="62.5" y1="659.2" x2="64.9" y2="659.2" stroke="#444" stroke-width="1"/>
<text x="0" y="0" font-size="7.8" text-anchor="end" stroke="#231f20" stroke-width="0.14" transform="translate(62.5 662.1) scale(1 1.14)">4000</text>
<line x1="62.5" y1="638.2" x2="64.9" y2="638.2" stroke="#444" stroke-width="1"/>
<text x="0" y="0" font-size="7.8" text-anchor="end" stroke="#231f20" stroke-width="0.14" transform="translate(62.5 641.1) scale(1 1.14)">6000</text>
<line x1="62.5" y1="617.2" x2="64.9" y2="617.2" stroke="#444" stroke-width="1"/>
<text x="0" y="0" font-size="7.8" text-anchor="end" stroke="#231f20" stroke-width="0.14" transform="translate(62.5 620.1) scale(1 1.14)">8000</text>
<rect x="75.3" y="640.1" width="20.7" height="61.1" stroke="#231f20" fill="#fff" stroke-width="1.1"/>
<circle cx="85.4" cy="633.9" r="1.7" fill="#f29a2e"/>
<circle cx="81.8" cy="643.3" r="1.7" fill="#f29a2e"/>
<circle cx="88.9" cy="642.5" r="1.7" fill="#f29a2e"/>
<line x1="85.65" y1="636.8" x2="85.65" y2="643" stroke="#f29a2e" stroke-width="1.1"/>
<line x1="82.65" y1="636.8" x2="88.65" y2="636.8" stroke="#f29a2e" stroke-width="1.1"/>
<line x1="82.65" y1="643" x2="88.65" y2="643" stroke="#f29a2e" stroke-width="1.1"/>
<rect x="106.6" y="670.5" width="21" height="30.7" stroke="#231f20" fill="#d6d6d6" stroke-width="1.1"/>
<circle cx="117" cy="661.9" r="1.7" fill="#f29a2e"/>
<circle cx="117" cy="669.3" r="1.7" fill="#f29a2e"/>
<circle cx="117" cy="679.4" r="1.7" fill="#f29a2e"/>
<line x1="117.1" y1="665.2" x2="117.1" y2="675.6" stroke="#f29a2e" stroke-width="1.1"/>
<line x1="114.1" y1="665.2" x2="120.1" y2="665.2" stroke="#f29a2e" stroke-width="1.1"/>
<line x1="114.1" y1="675.6" x2="120.1" y2="675.6" stroke="#f29a2e" stroke-width="1.1"/>
<line x1="64.9" y1="701.2" x2="137.6" y2="701.2" stroke="#231f20" stroke-width="0.9"/>
<line x1="86.5" y1="624.9" x2="115.8" y2="624.9" stroke="#777" stroke-width="0.9"/>
<text x="101.3" y="626" font-size="9" text-anchor="middle" fill="#555" stroke="#555" stroke-width="0.14">**</text>
<text x="31.5" y="663.2" font-size="10.4" text-anchor="middle" stroke="#231f20" stroke-width="0.14" letter-spacing="0.45" transform="rotate(-90 31.5 663.2)"># BM-DCs</text>
<text x="0" y="0" font-size="9.8" font-weight="bold" stroke="#231f20" stroke-width="0.14" transform="translate(27 714.6) scale(1 1.15)">DCs</text>
<text x="82.7" y="714.6" font-size="10" text-anchor="middle" stroke="#231f20" stroke-width="0.14">WT</text>
<text x="116.9" y="714.6" font-size="10" text-anchor="middle" stroke="#231f20" stroke-width="0.14">WT</text>
<text x="0" y="0" font-size="9.8" font-weight="bold" stroke="#231f20" stroke-width="0.14" transform="translate(27 730.6) scale(1 1.15)">LECs</text>
<text x="79.7" y="730.6" font-size="10" text-anchor="middle" stroke="#231f20" stroke-width="0.14">WT(IgG)</text>
<text x="122" y="730.6" font-size="10" text-anchor="middle" stroke="#231f20" stroke-width="0.14">KO(IgG)</text>
<line x1="173.4" y1="617.3" x2="173.4" y2="700.5" stroke="#444" stroke-width="1.2"/>
<line x1="171" y1="700.5" x2="173.4" y2="700.5" stroke="#444" stroke-width="1"/>
<text x="0" y="0" font-size="7.8" text-anchor="end" stroke="#231f20" stroke-width="0.14" transform="translate(171 703.4) scale(1 1.14)">0</text>
<line x1="171" y1="679.7" x2="173.4" y2="679.7" stroke="#444" stroke-width="1"/>
<text x="0" y="0" font-size="7.8" text-anchor="end" stroke="#231f20" stroke-width="0.14" transform="translate(171 682.6) scale(1 1.14)">2000</text>
<line x1="171" y1="658.9" x2="173.4" y2="658.9" stroke="#444" stroke-width="1"/>
<text x="0" y="0" font-size="7.8" text-anchor="end" stroke="#231f20" stroke-width="0.14" transform="translate(171 661.8) scale(1 1.14)">4000</text>
<line x1="171" y1="638.1" x2="173.4" y2="638.1" stroke="#444" stroke-width="1"/>
<text x="0" y="0" font-size="7.8" text-anchor="end" stroke="#231f20" stroke-width="0.14" transform="translate(171 641) scale(1 1.14)">6000</text>
<line x1="171" y1="617.3" x2="173.4" y2="617.3" stroke="#444" stroke-width="1"/>
<text x="0" y="0" font-size="7.8" text-anchor="end" stroke="#231f20" stroke-width="0.14" transform="translate(171 620.2) scale(1 1.14)">8000</text>
<line x1="173.4" y1="700.5" x2="269" y2="700.5" stroke="#231f20" stroke-width="0.9"/>
<line x1="196.8" y1="639.1" x2="244.5" y2="669.9" stroke="#f29a2e" stroke-width="1"/>
<line x1="196.8" y1="636" x2="196.8" y2="642.5" stroke="#f29a2e" stroke-width="0.9"/>
<line x1="195.3" y1="636" x2="198.3" y2="636" stroke="#f29a2e" stroke-width="0.9"/>
<line x1="195.3" y1="642.5" x2="198.3" y2="642.5" stroke="#f29a2e" stroke-width="0.9"/>
<line x1="244.5" y1="664" x2="244.5" y2="675.5" stroke="#f29a2e" stroke-width="0.9"/>
<line x1="243" y1="664" x2="246" y2="664" stroke="#f29a2e" stroke-width="0.9"/>
<line x1="243" y1="675.5" x2="246" y2="675.5" stroke="#f29a2e" stroke-width="0.9"/>
<circle cx="196.8" cy="639.1" r="1.6" fill="#f29a2e"/>
<circle cx="244.5" cy="669.9" r="1.6" fill="#f29a2e"/>
<line x1="196.8" y1="662.3" x2="244.5" y2="686.8" stroke="#2b3a96" stroke-width="1"/>
<line x1="196.8" y1="651.9" x2="196.8" y2="672.5" stroke="#2b3a96" stroke-width="0.9"/>
<line x1="195.3" y1="651.9" x2="198.3" y2="651.9" stroke="#2b3a96" stroke-width="0.9"/>
<line x1="195.3" y1="672.5" x2="198.3" y2="672.5" stroke="#2b3a96" stroke-width="0.9"/>
<circle cx="196.8" cy="662.3" r="1.6" fill="#2b3a96"/>
<circle cx="244.5" cy="686.8" r="1.6" fill="#2b3a96"/>
<line x1="196.8" y1="676.7" x2="244.5" y2="691.5" stroke="#9a9a9a" stroke-width="1"/>
<line x1="196.8" y1="673.5" x2="196.8" y2="680" stroke="#9a9a9a" stroke-width="0.9"/>
<line x1="195.3" y1="673.5" x2="198.3" y2="673.5" stroke="#9a9a9a" stroke-width="0.9"/>
<line x1="195.3" y1="680" x2="198.3" y2="680" stroke="#9a9a9a" stroke-width="0.9"/>
<circle cx="196.8" cy="676.7" r="1.6" fill="#9a9a9a"/>
<circle cx="244.5" cy="691.5" r="1.6" fill="#9a9a9a"/>
<line x1="196.8" y1="685.7" x2="244.5" y2="697.7" stroke="#ee4036" stroke-width="1"/>
<line x1="196.8" y1="682.5" x2="196.8" y2="689" stroke="#ee4036" stroke-width="0.9"/>
<line x1="195.3" y1="682.5" x2="198.3" y2="682.5" stroke="#ee4036" stroke-width="0.9"/>
<line x1="195.3" y1="689" x2="198.3" y2="689" stroke="#ee4036" stroke-width="0.9"/>
<circle cx="196.8" cy="685.7" r="1.6" fill="#ee4036"/>
<circle cx="244.5" cy="697.7" r="1.6" fill="#ee4036"/>
<text x="145" y="660.4" font-size="10.4" text-anchor="middle" stroke="#231f20" stroke-width="0.14" letter-spacing="1.05" transform="rotate(-90 145 660.4)"># BM-DCs</text>
<text x="203.6" y="714.6" font-size="10" text-anchor="middle" stroke="#231f20" stroke-width="0.14">WT</text>
<text x="237.3" y="714.6" font-size="10" text-anchor="middle" stroke="#231f20" stroke-width="0.14">WT</text>
<text x="196.6" y="730.8" font-size="10" text-anchor="middle" stroke="#231f20" stroke-width="0.14">WT(IgG)</text>
<text x="239.1" y="730.8" font-size="10" text-anchor="middle" stroke="#231f20" stroke-width="0.14">KO(IgG)</text>
<text x="267" y="624.5" font-size="19" font-weight="bold" stroke="#231f20" stroke-width="0.14">J.</text>
<line x1="326.8" y1="616.5" x2="326.8" y2="700.4" stroke="#444" stroke-width="1.2"/>
<line x1="324.4" y1="700.4" x2="326.8" y2="700.4" stroke="#444" stroke-width="1"/>
<text x="0" y="0" font-size="7.8" text-anchor="end" stroke="#231f20" stroke-width="0.14" transform="translate(324.4 703.3) scale(1 1.14)">0</text>
<line x1="324.4" y1="679.42" x2="326.8" y2="679.42" stroke="#444" stroke-width="1"/>
<text x="0" y="0" font-size="7.8" text-anchor="end" stroke="#231f20" stroke-width="0.14" transform="translate(324.4 682.32) scale(1 1.14)">2000</text>
<line x1="324.4" y1="658.45" x2="326.8" y2="658.45" stroke="#444" stroke-width="1"/>
<text x="0" y="0" font-size="7.8" text-anchor="end" stroke="#231f20" stroke-width="0.14" transform="translate(324.4 661.35) scale(1 1.14)">4000</text>
<line x1="324.4" y1="637.48" x2="326.8" y2="637.48" stroke="#444" stroke-width="1"/>
<text x="0" y="0" font-size="7.8" text-anchor="end" stroke="#231f20" stroke-width="0.14" transform="translate(324.4 640.38) scale(1 1.14)">6000</text>
<line x1="324.4" y1="616.5" x2="326.8" y2="616.5" stroke="#444" stroke-width="1"/>
<text x="0" y="0" font-size="7.8" text-anchor="end" stroke="#231f20" stroke-width="0.14" transform="translate(324.4 619.4) scale(1 1.14)">8000</text>
<rect x="338.3" y="638.6" width="23.3" height="61.8" stroke="#231f20" fill="#fff" stroke-width="1.1"/>
<circle cx="349.4" cy="632.1" r="1.7" fill="#f29a2e"/>
<circle cx="345.9" cy="642.1" r="1.7" fill="#f29a2e"/>
<circle cx="353.7" cy="640.6" r="1.7" fill="#f29a2e"/>
<line x1="349.95" y1="635.4" x2="349.95" y2="641.5" stroke="#f29a2e" stroke-width="1.1"/>
<line x1="346.95" y1="635.4" x2="352.95" y2="635.4" stroke="#f29a2e" stroke-width="1.1"/>
<line x1="346.95" y1="641.5" x2="352.95" y2="641.5" stroke="#f29a2e" stroke-width="1.1"/>
<rect x="373.4" y="688.8" width="22.5" height="11.6" stroke="#231f20" fill="#d6d6d6" stroke-width="1.1"/>
<circle cx="384.4" cy="680.3" r="1.7" fill="#f29a2e"/>
<circle cx="384.4" cy="689.5" r="1.7" fill="#f29a2e"/>
<circle cx="384.4" cy="695.7" r="1.7" fill="#f29a2e"/>
<line x1="384.65" y1="684.1" x2="384.65" y2="693.6" stroke="#f29a2e" stroke-width="1.1"/>
<line x1="381.65" y1="684.1" x2="387.65" y2="684.1" stroke="#f29a2e" stroke-width="1.1"/>
<line x1="381.65" y1="693.6" x2="387.65" y2="693.6" stroke="#f29a2e" stroke-width="1.1"/>
<line x1="326.8" y1="700.4" x2="407.6" y2="700.4" stroke="#231f20" stroke-width="0.9"/>
<line x1="355.3" y1="624.9" x2="385.8" y2="624.9" stroke="#777" stroke-width="0.9"/>
<text x="369.3" y="626" font-size="9" text-anchor="middle" fill="#555" stroke="#555" stroke-width="0.14">***</text>
<text x="296.7" y="661.45" font-size="10.4" text-anchor="middle" stroke="#231f20" stroke-width="0.14" letter-spacing="0.7" transform="rotate(-90 296.7 661.45)"># BM-DCs</text>
<text x="0" y="0" font-size="8.2" font-weight="bold" stroke="#231f20" stroke-width="0.14" transform="translate(298 712.6) scale(1 1.15)">DCs</text>
<text x="350.1" y="712.6" font-size="10" text-anchor="middle" stroke="#231f20" stroke-width="0.14">WT</text>
<text x="385.2" y="712.6" font-size="10" text-anchor="middle" stroke="#231f20" stroke-width="0.14">KO</text>
<text x="0" y="0" font-size="8.2" font-weight="bold" stroke="#231f20" stroke-width="0.14" transform="translate(298 725.6) scale(1 1.15)">LECs</text>
<text x="349" y="725.6" font-size="10" text-anchor="middle" stroke="#231f20" stroke-width="0.14">WT(IgG)</text>
<text x="391.7" y="725.6" font-size="10" text-anchor="middle" stroke="#231f20" stroke-width="0.14">WT(IgG)</text>
<line x1="446.4" y1="617.3" x2="446.4" y2="700.5" stroke="#444" stroke-width="1.2"/>
<line x1="444" y1="700.5" x2="446.4" y2="700.5" stroke="#444" stroke-width="1"/>
<text x="0" y="0" font-size="7.8" text-anchor="end" stroke="#231f20" stroke-width="0.14" transform="translate(444 703.4) scale(1 1.14)">0</text>
<line x1="444" y1="679.7" x2="446.4" y2="679.7" stroke="#444" stroke-width="1"/>
<text x="0" y="0" font-size="7.8" text-anchor="end" stroke="#231f20" stroke-width="0.14" transform="translate(444 682.6) scale(1 1.14)">2000</text>
<line x1="444" y1="658.9" x2="446.4" y2="658.9" stroke="#444" stroke-width="1"/>
<text x="0" y="0" font-size="7.8" text-anchor="end" stroke="#231f20" stroke-width="0.14" transform="translate(444 661.8) scale(1 1.14)">4000</text>
<line x1="444" y1="638.1" x2="446.4" y2="638.1" stroke="#444" stroke-width="1"/>
<text x="0" y="0" font-size="7.8" text-anchor="end" stroke="#231f20" stroke-width="0.14" transform="translate(444 641) scale(1 1.14)">6000</text>
<line x1="444" y1="617.3" x2="446.4" y2="617.3" stroke="#444" stroke-width="1"/>
<text x="0" y="0" font-size="7.8" text-anchor="end" stroke="#231f20" stroke-width="0.14" transform="translate(444 620.2) scale(1 1.14)">8000</text>
<line x1="446.4" y1="700.5" x2="537.6" y2="700.5" stroke="#231f20" stroke-width="0.9"/>
<line x1="469.5" y1="639.9" x2="514.5" y2="689" stroke="#f29a2e" stroke-width="1"/>
<line x1="469.5" y1="636.5" x2="469.5" y2="643" stroke="#f29a2e" stroke-width="0.9"/>
<line x1="468" y1="636.5" x2="471" y2="636.5" stroke="#f29a2e" stroke-width="0.9"/>
<line x1="468" y1="643" x2="471" y2="643" stroke="#f29a2e" stroke-width="0.9"/>
<line x1="514.5" y1="684.5" x2="514.5" y2="694" stroke="#f29a2e" stroke-width="0.9"/>
<line x1="513" y1="684.5" x2="516" y2="684.5" stroke="#f29a2e" stroke-width="0.9"/>
<line x1="513" y1="694" x2="516" y2="694" stroke="#f29a2e" stroke-width="0.9"/>
<circle cx="469.5" cy="639.9" r="1.6" fill="#f29a2e"/>
<circle cx="514.5" cy="689" r="1.6" fill="#f29a2e"/>
<line x1="469.5" y1="662.3" x2="514.5" y2="697.2" stroke="#2b3a96" stroke-width="1"/>
<line x1="469.5" y1="651.5" x2="469.5" y2="672.5" stroke="#2b3a96" stroke-width="0.9"/>
<line x1="468" y1="651.5" x2="471" y2="651.5" stroke="#2b3a96" stroke-width="0.9"/>
<line x1="468" y1="672.5" x2="471" y2="672.5" stroke="#2b3a96" stroke-width="0.9"/>
<circle cx="469.5" cy="662.3" r="1.6" fill="#2b3a96"/>
<circle cx="514.5" cy="697.2" r="1.6" fill="#2b3a96"/>
<line x1="469.5" y1="677.3" x2="514.5" y2="697.2" stroke="#9a9a9a" stroke-width="1"/>
<line x1="469.5" y1="674" x2="469.5" y2="681" stroke="#9a9a9a" stroke-width="0.9"/>
<line x1="468" y1="674" x2="471" y2="674" stroke="#9a9a9a" stroke-width="0.9"/>
<line x1="468" y1="681" x2="471" y2="681" stroke="#9a9a9a" stroke-width="0.9"/>
<circle cx="469.5" cy="677.3" r="1.6" fill="#9a9a9a"/>
<circle cx="514.5" cy="697.2" r="1.6" fill="#9a9a9a"/>
<line x1="469.5" y1="685.5" x2="514.5" y2="697.2" stroke="#ee4036" stroke-width="1"/>
<line x1="469.5" y1="682" x2="469.5" y2="689" stroke="#ee4036" stroke-width="0.9"/>
<line x1="468" y1="682" x2="471" y2="682" stroke="#ee4036" stroke-width="0.9"/>
<line x1="468" y1="689" x2="471" y2="689" stroke="#ee4036" stroke-width="0.9"/>
<circle cx="469.5" cy="685.5" r="1.6" fill="#ee4036"/>
<circle cx="514.5" cy="697.2" r="1.6" fill="#ee4036"/>
<text x="419.9" y="659.9" font-size="10.4" text-anchor="middle" stroke="#231f20" stroke-width="0.14" letter-spacing="1.1" transform="rotate(-90 419.9 659.9)"># BM-DCs</text>
<text x="473.5" y="712.4" font-size="10" text-anchor="middle" stroke="#231f20" stroke-width="0.14">WT</text>
<text x="514.3" y="712.4" font-size="10" text-anchor="middle" stroke="#231f20" stroke-width="0.14">KO</text>
<text x="474" y="725.8" font-size="10" text-anchor="middle" stroke="#231f20" stroke-width="0.14">WT(IgG)</text>
<text x="515.5" y="725.8" font-size="10" text-anchor="middle" stroke="#231f20" stroke-width="0.14">WT(IgG)</text>
<text x="4.3" y="760.9" font-size="19" font-weight="bold" stroke="#231f20" stroke-width="0.14" letter-spacing="-1.2">K.</text>
<line x1="62.6" y1="753.2" x2="62.6" y2="841.3" stroke="#444" stroke-width="1.2"/>
<line x1="60.2" y1="841.3" x2="62.6" y2="841.3" stroke="#444" stroke-width="1"/>
<text x="0" y="0" font-size="7.8" text-anchor="end" stroke="#231f20" stroke-width="0.14" transform="translate(60.2 844.2) scale(1 1.14)">0</text>
<line x1="60.2" y1="819.27" x2="62.6" y2="819.27" stroke="#444" stroke-width="1"/>
<text x="0" y="0" font-size="7.8" text-anchor="end" stroke="#231f20" stroke-width="0.14" transform="translate(60.2 822.17) scale(1 1.14)">2000</text>
<line x1="60.2" y1="797.25" x2="62.6" y2="797.25" stroke="#444" stroke-width="1"/>
<text x="0" y="0" font-size="7.8" text-anchor="end" stroke="#231f20" stroke-width="0.14" transform="translate(60.2 800.15) scale(1 1.14)">4000</text>
<line x1="60.2" y1="775.23" x2="62.6" y2="775.23" stroke="#444" stroke-width="1"/>
<text x="0" y="0" font-size="7.8" text-anchor="end" stroke="#231f20" stroke-width="0.14" transform="translate(60.2 778.12) scale(1 1.14)">6000</text>
<line x1="60.2" y1="753.2" x2="62.6" y2="753.2" stroke="#444" stroke-width="1"/>
<text x="0" y="0" font-size="7.8" text-anchor="end" stroke="#231f20" stroke-width="0.14" transform="translate(60.2 756.1) scale(1 1.14)">8000</text>
<rect x="74.5" y="776.5" width="22.9" height="64.8" stroke="#231f20" fill="#fff" stroke-width="1.1"/>
<circle cx="86" cy="770.2" r="1.7" fill="#f29a2e"/>
<circle cx="82.2" cy="780.4" r="1.7" fill="#f29a2e"/>
<circle cx="89.4" cy="779.3" r="1.7" fill="#f29a2e"/>
<line x1="85.95" y1="773.4" x2="85.95" y2="779.7" stroke="#f29a2e" stroke-width="1.1"/>
<line x1="82.95" y1="773.4" x2="88.95" y2="773.4" stroke="#f29a2e" stroke-width="1.1"/>
<line x1="82.95" y1="779.7" x2="88.95" y2="779.7" stroke="#f29a2e" stroke-width="1.1"/>
<rect x="109.5" y="826.2" width="22.3" height="15.1" stroke="#231f20" fill="#d6d6d6" stroke-width="1.1"/>
<line x1="120.65" y1="822.3" x2="120.65" y2="830.2" stroke="#f29a2e" stroke-width="1.1"/>
<line x1="117.65" y1="822.3" x2="123.65" y2="822.3" stroke="#f29a2e" stroke-width="1.1"/>
<line x1="117.65" y1="830.2" x2="123.65" y2="830.2" stroke="#f29a2e" stroke-width="1.1"/>
<line x1="62.6" y1="841.3" x2="143.6" y2="841.3" stroke="#231f20" stroke-width="0.9"/>
<line x1="89" y1="762.4" x2="115.8" y2="762.4" stroke="#777" stroke-width="0.9"/>
<text x="100.5" y="764" font-size="9" text-anchor="middle" fill="#555" stroke="#555" stroke-width="0.14">***</text>
<text x="34.5" y="797.55" font-size="10.4" text-anchor="middle" stroke="#231f20" stroke-width="0.14" letter-spacing="1.1" transform="rotate(-90 34.5 797.55)"># BM-DCs</text>
<text x="0" y="0" font-size="9.8" font-weight="bold" stroke="#231f20" stroke-width="0.14" transform="translate(27 852.7) scale(1 1.15)">DCs</text>
<text x="84.4" y="852.7" font-size="10" text-anchor="middle" stroke="#231f20" stroke-width="0.14">WT</text>
<text x="118.7" y="852.7" font-size="10" text-anchor="middle" stroke="#231f20" stroke-width="0.14">KO</text>
<text x="0" y="0" font-size="9.8" font-weight="bold" stroke="#231f20" stroke-width="0.14" transform="translate(27 867.2) scale(1 1.15)">LECs</text>
<text x="84.4" y="867.2" font-size="10" text-anchor="middle" stroke="#231f20" stroke-width="0.14">WT(IgG)</text>
<text x="125" y="867.2" font-size="10" text-anchor="middle" stroke="#231f20" stroke-width="0.14">KO(IgG)</text>
<line x1="174.6" y1="752.3" x2="174.6" y2="841.4" stroke="#444" stroke-width="1.2"/>
<line x1="172.2" y1="841.4" x2="174.6" y2="841.4" stroke="#444" stroke-width="1"/>
<text x="0" y="0" font-size="7.8" text-anchor="end" stroke="#231f20" stroke-width="0.14" transform="translate(172.2 844.3) scale(1 1.14)">0</text>
<line x1="172.2" y1="819.12" x2="174.6" y2="819.12" stroke="#444" stroke-width="1"/>
<text x="0" y="0" font-size="7.8" text-anchor="end" stroke="#231f20" stroke-width="0.14" transform="translate(172.2 822.02) scale(1 1.14)">2000</text>
<line x1="172.2" y1="796.85" x2="174.6" y2="796.85" stroke="#444" stroke-width="1"/>
<text x="0" y="0" font-size="7.8" text-anchor="end" stroke="#231f20" stroke-width="0.14" transform="translate(172.2 799.75) scale(1 1.14)">4000</text>
<line x1="172.2" y1="774.57" x2="174.6" y2="774.57" stroke="#444" stroke-width="1"/>
<text x="0" y="0" font-size="7.8" text-anchor="end" stroke="#231f20" stroke-width="0.14" transform="translate(172.2 777.47) scale(1 1.14)">6000</text>
<line x1="172.2" y1="752.3" x2="174.6" y2="752.3" stroke="#444" stroke-width="1"/>
<text x="0" y="0" font-size="7.8" text-anchor="end" stroke="#231f20" stroke-width="0.14" transform="translate(172.2 755.2) scale(1 1.14)">8000</text>
<line x1="174.6" y1="841.4" x2="267.3" y2="841.4" stroke="#231f20" stroke-width="0.9"/>
<line x1="197.6" y1="776.8" x2="244.5" y2="826.7" stroke="#f29a2e" stroke-width="1"/>
<line x1="197.6" y1="773.5" x2="197.6" y2="780" stroke="#f29a2e" stroke-width="0.9"/>
<line x1="196.1" y1="773.5" x2="199.1" y2="773.5" stroke="#f29a2e" stroke-width="0.9"/>
<line x1="196.1" y1="780" x2="199.1" y2="780" stroke="#f29a2e" stroke-width="0.9"/>
<line x1="244.5" y1="821.5" x2="244.5" y2="832" stroke="#f29a2e" stroke-width="0.9"/>
<line x1="243" y1="821.5" x2="246" y2="821.5" stroke="#f29a2e" stroke-width="0.9"/>
<line x1="243" y1="832" x2="246" y2="832" stroke="#f29a2e" stroke-width="0.9"/>
<circle cx="197.6" cy="776.8" r="1.6" fill="#f29a2e"/>
<circle cx="244.5" cy="826.7" r="1.6" fill="#f29a2e"/>
<line x1="197.6" y1="801.4" x2="244.5" y2="835.5" stroke="#2b3a96" stroke-width="1"/>
<line x1="197.6" y1="790" x2="197.6" y2="811.5" stroke="#2b3a96" stroke-width="0.9"/>
<line x1="196.1" y1="790" x2="199.1" y2="790" stroke="#2b3a96" stroke-width="0.9"/>
<line x1="196.1" y1="811.5" x2="199.1" y2="811.5" stroke="#2b3a96" stroke-width="0.9"/>
<circle cx="197.6" cy="801.4" r="1.6" fill="#2b3a96"/>
<circle cx="244.5" cy="835.5" r="1.6" fill="#2b3a96"/>
<line x1="197.6" y1="816.9" x2="244.5" y2="838.2" stroke="#9a9a9a" stroke-width="1"/>
<line x1="197.6" y1="813.5" x2="197.6" y2="820.5" stroke="#9a9a9a" stroke-width="0.9"/>
<line x1="196.1" y1="813.5" x2="199.1" y2="813.5" stroke="#9a9a9a" stroke-width="0.9"/>
<line x1="196.1" y1="820.5" x2="199.1" y2="820.5" stroke="#9a9a9a" stroke-width="0.9"/>
<circle cx="197.6" cy="816.9" r="1.6" fill="#9a9a9a"/>
<circle cx="244.5" cy="838.2" r="1.6" fill="#9a9a9a"/>
<line x1="197.6" y1="825.9" x2="244.5" y2="838.7" stroke="#ee4036" stroke-width="1"/>
<line x1="197.6" y1="822.5" x2="197.6" y2="829" stroke="#ee4036" stroke-width="0.9"/>
<line x1="196.1" y1="822.5" x2="199.1" y2="822.5" stroke="#ee4036" stroke-width="0.9"/>
<line x1="196.1" y1="829" x2="199.1" y2="829" stroke="#ee4036" stroke-width="0.9"/>
<circle cx="197.6" cy="825.9" r="1.6" fill="#ee4036"/>
<circle cx="244.5" cy="838.7" r="1.6" fill="#ee4036"/>
<text x="149.9" y="793.65" font-size="10.4" text-anchor="middle" stroke="#231f20" stroke-width="0.14" letter-spacing="1.2" transform="rotate(-90 149.9 793.65)"># BM-DCs</text>
<text x="199.8" y="852.7" font-size="10" text-anchor="middle" stroke="#231f20" stroke-width="0.14">WT</text>
<text x="244.6" y="852.7" font-size="10" text-anchor="middle" stroke="#231f20" stroke-width="0.14">KO</text>
<text x="202.2" y="867.2" font-size="10" text-anchor="middle" stroke="#231f20" stroke-width="0.14">WT(IgG)</text>
<text x="246.2" y="867.2" font-size="10" text-anchor="middle" stroke="#231f20" stroke-width="0.14">KO(IgG)</text>
<text x="267.8" y="768.3" font-size="19" font-weight="bold" stroke="#231f20" stroke-width="0.14">L</text>
<line x1="341.4" y1="752.3" x2="341.4" y2="843.6" stroke="#444" stroke-width="1.2"/>
<line x1="339" y1="843.6" x2="341.4" y2="843.6" stroke="#444" stroke-width="1"/>
<text x="0" y="0" font-size="7.8" text-anchor="end" stroke="#231f20" stroke-width="0.14" transform="translate(339 846.5) scale(1 1.14)">0</text>
<line x1="339" y1="820.77" x2="341.4" y2="820.77" stroke="#444" stroke-width="1"/>
<text x="0" y="0" font-size="7.8" text-anchor="end" stroke="#231f20" stroke-width="0.14" transform="translate(339 823.67) scale(1 1.14)">500</text>
<line x1="339" y1="797.95" x2="341.4" y2="797.95" stroke="#444" stroke-width="1"/>
<text x="0" y="0" font-size="7.8" text-anchor="end" stroke="#231f20" stroke-width="0.14" transform="translate(339 800.85) scale(1 1.14)">1000</text>
<line x1="339" y1="775.12" x2="341.4" y2="775.12" stroke="#444" stroke-width="1"/>
<text x="0" y="0" font-size="7.8" text-anchor="end" stroke="#231f20" stroke-width="0.14" transform="translate(339 778.02) scale(1 1.14)">1500</text>
<line x1="339" y1="752.3" x2="341.4" y2="752.3" stroke="#444" stroke-width="1"/>
<text x="0" y="0" font-size="7.8" text-anchor="end" stroke="#231f20" stroke-width="0.14" transform="translate(339 755.2) scale(1 1.14)">2000</text>
<line x1="341.4" y1="843.6" x2="454.5" y2="843.6" stroke="#231f20" stroke-width="0.9"/>
<rect x="350.9" y="785.8" width="17.2" height="57.8" stroke="#231f20" fill="#fff" stroke-width="1.1"/>
<circle cx="359.9" cy="760.5" r="1.4" fill="#1c9a55"/>
<circle cx="359.9" cy="771.9" r="1.4" fill="#1c9a55"/>
<circle cx="352.8" cy="788.5" r="1.4" fill="#1c9a55"/>
<circle cx="359.9" cy="788.5" r="1.4" fill="#1c9a55"/>
<circle cx="366.4" cy="788.5" r="1.4" fill="#1c9a55"/>
<circle cx="359.9" cy="790.5" r="1.4" fill="#1c9a55"/>
<circle cx="359.9" cy="812.3" r="1.4" fill="#1c9a55"/>
<line x1="359.5" y1="779" x2="359.5" y2="792.6" stroke="#231f20" stroke-width="1"/>
<line x1="357" y1="779" x2="362" y2="779" stroke="#231f20" stroke-width="1"/>
<line x1="357" y1="792.6" x2="362" y2="792.6" stroke="#231f20" stroke-width="1"/>
<rect x="376.8" y="832.2" width="16.9" height="11.4" stroke="#231f20" fill="#fff" stroke-width="1.1"/>
<circle cx="377.6" cy="819.1" r="1.4" fill="#ee3d30"/>
<circle cx="386.4" cy="818.3" r="1.4" fill="#ee3d30"/>
<circle cx="385" cy="830" r="1.4" fill="#ee3d30"/>
<circle cx="377.6" cy="839.5" r="1.4" fill="#ee3d30"/>
<circle cx="385" cy="839.5" r="1.4" fill="#ee3d30"/>
<circle cx="392.6" cy="839.5" r="1.4" fill="#ee3d30"/>
<line x1="385.25" y1="828" x2="385.25" y2="838" stroke="#231f20" stroke-width="1"/>
<line x1="382.75" y1="828" x2="387.75" y2="828" stroke="#231f20" stroke-width="1"/>
<line x1="382.75" y1="838" x2="387.75" y2="838" stroke="#231f20" stroke-width="1"/>
<rect x="403.3" y="831.4" width="17.2" height="12.2" stroke="#231f20" fill="#fff" stroke-width="1.1"/>
<circle cx="408.2" cy="819.6" r="1.4" fill="#1c9a55"/>
<circle cx="415" cy="817.7" r="1.4" fill="#1c9a55"/>
<circle cx="412.3" cy="835.5" r="1.4" fill="#1c9a55"/>
<circle cx="407.6" cy="841.4" r="1.4" fill="#1c9a55"/>
<circle cx="415.8" cy="841.4" r="1.4" fill="#1c9a55"/>
<line x1="411.9" y1="826.5" x2="411.9" y2="837" stroke="#231f20" stroke-width="1"/>
<line x1="409.4" y1="826.5" x2="414.4" y2="826.5" stroke="#231f20" stroke-width="1"/>
<line x1="409.4" y1="837" x2="414.4" y2="837" stroke="#231f20" stroke-width="1"/>
<rect x="428.6" y="829.5" width="17.2" height="14.1" stroke="#231f20" fill="#fff" stroke-width="1.1"/>
<circle cx="430" cy="827.8" r="1.4" fill="#ee3d30"/>
<circle cx="436.8" cy="825.9" r="1.4" fill="#ee3d30"/>
<circle cx="444.2" cy="826.7" r="1.4" fill="#ee3d30"/>
<circle cx="436.8" cy="836.8" r="1.4" fill="#ee3d30"/>
<line x1="437.2" y1="827" x2="437.2" y2="832.5" stroke="#231f20" stroke-width="1"/>
<line x1="434.7" y1="827" x2="439.7" y2="827" stroke="#231f20" stroke-width="1"/>
<line x1="434.7" y1="832.5" x2="439.7" y2="832.5" stroke="#231f20" stroke-width="1"/>
<line x1="364.5" y1="752.8" x2="385" y2="752.8" stroke="#777" stroke-width="0.9"/>
<text x="373.5" y="753" font-size="9" text-anchor="middle" fill="#555" stroke="#555" stroke-width="0.14">**</text>
<line x1="365.9" y1="760.5" x2="415" y2="760.5" stroke="#777" stroke-width="0.9"/>
<text x="391" y="760.7" font-size="9" text-anchor="middle" fill="#555" stroke="#555" stroke-width="0.14">**</text>
<line x1="390.4" y1="774.9" x2="439.5" y2="774.9" stroke="#777" stroke-width="0.9"/>
<text x="413.6" y="771.5" font-size="9.4" text-anchor="middle" fill="#555" stroke="#555" stroke-width="0.14">ns</text>
<line x1="417.7" y1="789.9" x2="439.5" y2="789.9" stroke="#777" stroke-width="0.9"/>
<text x="429.2" y="786" font-size="9.4" text-anchor="middle" fill="#555" stroke="#555" stroke-width="0.14">ns</text>
<circle cx="464.1" cy="762.4" r="1.6" fill="#1c9a55"/>
<text x="470.9" y="765.9" font-size="9.5" fill="#2a2f45" stroke="#2a2f45" stroke-width="0.14">WT LECs</text>
<circle cx="464.1" cy="775.5" r="1.6" fill="#ee3d30"/>
<text x="470.9" y="779" font-size="9.5" fill="#2a2f45" stroke="#2a2f45" stroke-width="0.14">KO LECs</text>
<text x="313.7" y="796.5" font-size="10.4" text-anchor="middle" stroke="#231f20" stroke-width="0.14" letter-spacing="0.45" transform="rotate(-90 313.7 796.5)"># BM-DCs</text>
<text x="0" y="0" font-size="9.6" font-weight="bold" stroke="#231f20" stroke-width="0.14" transform="translate(305.8 852.5) scale(1 1.15)">DCs</text>
<text x="373" y="854.6" font-size="10" text-anchor="middle" stroke="#231f20" stroke-width="0.14">WT</text>
<text x="424.8" y="854.6" font-size="10" text-anchor="middle" stroke="#231f20" stroke-width="0.14">KO</text>
<text x="0" y="0" font-size="9.6" font-weight="bold" stroke="#231f20" stroke-width="0.14" transform="translate(305.8 866.5) scale(1 1.15)">LECs</text>
<text x="373" y="867.6" font-size="10" text-anchor="middle" stroke="#231f20" stroke-width="0.14">IgG</text>
<text x="424.8" y="867.6" font-size="10" text-anchor="middle" stroke="#231f20" stroke-width="0.14">IgG</text>
</g>
</svg></body></html>
